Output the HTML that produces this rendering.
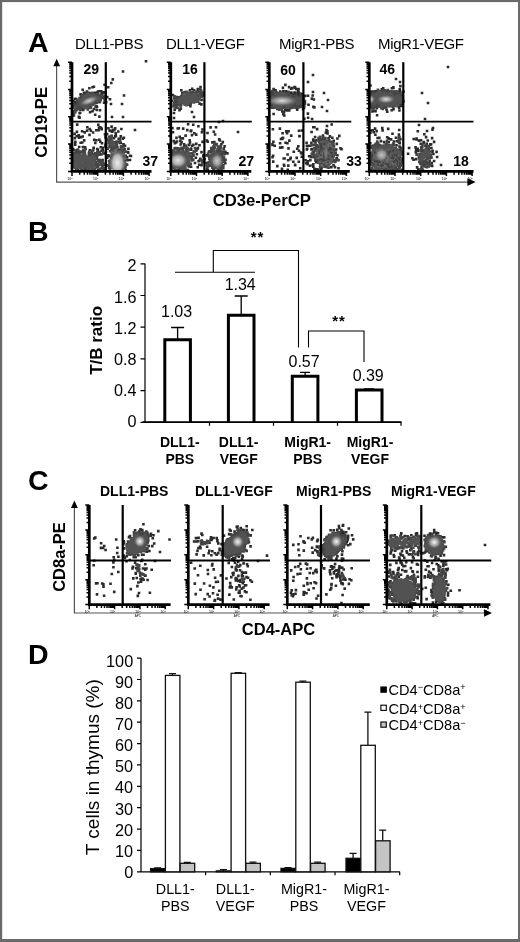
<!DOCTYPE html><html><head><meta charset="utf-8"><title>Figure</title>
<style>html,body{margin:0;padding:0;background:#fff}svg{display:block}text{font-family:'Liberation Sans', Arial, Helvetica, sans-serif;fill:#000}</style>
</head><body>
<svg width="520" height="942" viewBox="0 0 520 942">
<rect x="0" y="0" width="520" height="942" fill="#6a6a6a"/>
<rect x="2.2" y="2.1" width="515.8" height="936.9" fill="#fff"/>
<text x="28.0" y="51.6" font-size="28.5" font-weight="bold">A</text>
<text x="75.0" y="49.3" font-size="15" letter-spacing="-0.35">DLL1-PBS</text>
<text x="166.0" y="49.3" font-size="15" letter-spacing="-0.35">DLL1-VEGF</text>
<text x="279.0" y="49.3" font-size="15" letter-spacing="-0.35">MigR1-PBS</text>
<text x="378.0" y="49.3" font-size="15" letter-spacing="-0.35">MigR1-VEGF</text>
<text transform="translate(47.3 122.3) rotate(-90)" font-size="16.8" font-weight="bold" text-anchor="middle">CD19-PE</text>
<text x="261.8" y="205.9" font-size="16.7" font-weight="bold" text-anchor="middle">CD3e-PerCP</text>
<path d="M56.6 64V182.1H470" fill="none" stroke="#555" stroke-width="1.2"/>
<path d="M56.7 58.7l-3.4 7.5h6.8zM475.6 182.1l-8.2-3.9v7.8z" fill="#000"/>
<clipPath id="c1"><rect x="72.0" y="58.7" width="81.0" height="113.2"/></clipPath><g clip-path="url(#c1)">
<ellipse cx="88.0" cy="101.5" rx="17.0" ry="6.0" transform="rotate(-21 88.0 101.5)" fill="#585858"/>
<path fill="#6c6c6c" d="M76.6 105.3h1.7v1.7h-1.7zM98.0 93.6h1.7v1.7h-1.7zM76.5 100.6h1.7v1.7h-1.7zM80.6 102.3h1.7v1.7h-1.7zM91.8 102.5h1.7v1.7h-1.7zM90.9 96.7h1.7v1.7h-1.7zM75.2 103.9h1.7v1.7h-1.7zM97.4 99.1h1.7v1.7h-1.7zM96.3 95.2h1.7v1.7h-1.7zM87.9 97.4h1.7v1.7h-1.7zM77.9 104.6h1.7v1.7h-1.7zM91.2 103.9h1.7v1.7h-1.7zM92.6 102.1h1.7v1.7h-1.7zM92.7 99.6h1.7v1.7h-1.7zM94.6 95.0h1.7v1.7h-1.7zM81.7 104.2h1.7v1.7h-1.7zM92.6 104.1h1.7v1.7h-1.7zM83.5 96.3h1.7v1.7h-1.7zM73.6 106.6h1.7v1.7h-1.7zM86.9 106.1h1.7v1.7h-1.7zM81.0 100.0h1.7v1.7h-1.7zM91.3 98.6h1.7v1.7h-1.7zM76.9 106.5h1.7v1.7h-1.7zM97.6 98.5h1.7v1.7h-1.7zM95.8 98.6h1.7v1.7h-1.7zM93.6 99.6h1.7v1.7h-1.7zM87.8 104.4h1.7v1.7h-1.7zM80.6 98.0h1.7v1.7h-1.7zM95.1 94.8h1.7v1.7h-1.7zM83.8 104.6h1.7v1.7h-1.7zM92.6 95.5h1.7v1.7h-1.7zM86.3 103.6h1.7v1.7h-1.7zM94.1 101.5h1.7v1.7h-1.7zM85.1 99.8h1.7v1.7h-1.7zM84.7 98.1h1.7v1.7h-1.7zM80.7 107.0h1.7v1.7h-1.7zM79.9 105.2h1.7v1.7h-1.7zM94.6 94.4h1.7v1.7h-1.7zM92.9 101.3h1.7v1.7h-1.7zM94.2 94.9h1.7v1.7h-1.7zM96.5 96.4h1.7v1.7h-1.7zM85.1 102.5h1.7v1.7h-1.7zM89.6 97.2h1.7v1.7h-1.7zM75.0 105.9h1.7v1.7h-1.7zM91.5 95.0h1.7v1.7h-1.7zM90.7 100.1h1.7v1.7h-1.7zM89.3 98.3h1.7v1.7h-1.7zM86.6 105.2h1.7v1.7h-1.7zM72.9 104.7h1.7v1.7h-1.7zM87.3 97.6h1.7v1.7h-1.7zM90.7 104.9h1.7v1.7h-1.7zM85.5 96.2h1.7v1.7h-1.7z"/>
<path fill="#3e3e3e" d="M92.5 94.4h1.7v1.7h-1.7zM85.8 98.0h1.7v1.7h-1.7zM80.4 99.7h1.7v1.7h-1.7zM84.2 103.3h1.7v1.7h-1.7zM88.7 101.3h1.7v1.7h-1.7zM86.4 99.9h1.7v1.7h-1.7zM88.0 96.4h1.7v1.7h-1.7zM98.5 95.5h1.7v1.7h-1.7zM84.9 101.6h1.7v1.7h-1.7zM80.0 104.3h1.7v1.7h-1.7zM77.6 100.3h1.7v1.7h-1.7zM93.0 101.0h1.7v1.7h-1.7zM96.2 98.3h1.7v1.7h-1.7zM78.9 99.9h1.7v1.7h-1.7zM95.8 96.4h1.7v1.7h-1.7zM77.1 103.5h1.7v1.7h-1.7zM90.2 96.9h1.7v1.7h-1.7zM91.9 101.6h1.7v1.7h-1.7zM94.6 99.0h1.7v1.7h-1.7zM85.9 98.5h1.7v1.7h-1.7zM91.5 95.5h1.7v1.7h-1.7zM83.6 97.0h1.7v1.7h-1.7zM96.2 101.0h1.7v1.7h-1.7zM83.9 106.4h1.7v1.7h-1.7zM88.6 96.9h1.7v1.7h-1.7zM90.1 102.3h1.7v1.7h-1.7zM89.9 105.4h1.7v1.7h-1.7zM98.6 95.2h1.7v1.7h-1.7zM81.9 98.1h1.7v1.7h-1.7zM86.2 105.0h1.7v1.7h-1.7zM89.4 98.7h1.7v1.7h-1.7zM89.4 102.4h1.7v1.7h-1.7zM89.3 97.8h1.7v1.7h-1.7zM85.7 103.1h1.7v1.7h-1.7zM81.8 103.8h1.7v1.7h-1.7zM98.0 99.2h1.7v1.7h-1.7zM91.5 95.3h1.7v1.7h-1.7zM74.8 104.3h1.7v1.7h-1.7zM99.8 94.6h1.7v1.7h-1.7z"/>
<path fill="#2b2b2b" d="M103.6 99.3h2.6v2.6h-2.6zM81.9 108.6h2.6v2.6h-2.6zM85.7 90.2h2.6v2.6h-2.6zM100.5 92.3h2.6v2.6h-2.6zM104.4 92.4h2.6v2.6h-2.6zM94.0 91.4h2.6v2.6h-2.6zM78.8 111.5h2.6v2.6h-2.6zM104.9 100.8h2.6v2.6h-2.6zM108.7 98.0h2.6v2.6h-2.6zM102.7 91.1h2.6v2.6h-2.6zM78.3 116.3h2.6v2.6h-2.6zM100.0 89.9h2.6v2.6h-2.6zM73.6 97.8h2.6v2.6h-2.6zM79.1 108.4h2.6v2.6h-2.6zM97.4 90.0h2.6v2.6h-2.6zM95.2 105.0h2.6v2.6h-2.6zM102.8 101.5h2.6v2.6h-2.6zM95.5 108.7h2.6v2.6h-2.6zM95.7 105.7h2.6v2.6h-2.6zM82.6 91.5h2.6v2.6h-2.6zM103.3 83.5h2.6v2.6h-2.6zM101.1 92.1h2.6v2.6h-2.6zM79.3 93.1h2.6v2.6h-2.6zM94.4 105.2h2.6v2.6h-2.6zM103.0 96.4h2.6v2.6h-2.6zM81.4 88.4h2.6v2.6h-2.6zM74.7 97.6h2.6v2.6h-2.6zM71.7 112.9h2.6v2.6h-2.6zM91.2 86.0h2.6v2.6h-2.6zM92.7 107.7h2.6v2.6h-2.6zM92.6 85.4h2.6v2.6h-2.6zM106.0 95.8h2.6v2.6h-2.6zM72.6 114.2h2.6v2.6h-2.6zM88.1 87.0h2.6v2.6h-2.6zM71.9 99.8h2.6v2.6h-2.6zM73.4 101.1h2.6v2.6h-2.6zM103.5 97.8h2.6v2.6h-2.6zM96.2 90.7h2.6v2.6h-2.6zM123.7 144.4h2.6v2.6h-2.6zM128.8 154.4h2.6v2.6h-2.6zM122.3 143.2h2.6v2.6h-2.6zM119.4 141.3h2.6v2.6h-2.6zM125.8 156.1h2.6v2.6h-2.6zM107.7 154.6h2.6v2.6h-2.6zM124.4 154.4h2.6v2.6h-2.6zM126.1 158.9h2.6v2.6h-2.6zM105.9 156.3h2.6v2.6h-2.6zM124.5 168.9h2.6v2.6h-2.6zM122.1 142.9h2.6v2.6h-2.6zM127.1 147.4h2.6v2.6h-2.6zM107.5 154.8h2.6v2.6h-2.6zM107.0 154.0h2.6v2.6h-2.6zM105.8 164.1h2.6v2.6h-2.6zM126.8 150.8h2.6v2.6h-2.6zM126.9 151.5h2.6v2.6h-2.6zM124.4 154.5h2.6v2.6h-2.6zM106.3 147.5h2.6v2.6h-2.6zM113.0 128.9h2.6v2.6h-2.6zM120.1 127.7h2.6v2.6h-2.6zM104.7 141.9h2.6v2.6h-2.6zM104.1 144.9h2.6v2.6h-2.6zM104.3 143.4h2.6v2.6h-2.6zM110.3 134.6h2.6v2.6h-2.6zM117.4 137.6h2.6v2.6h-2.6zM112.6 137.0h2.6v2.6h-2.6zM104.4 135.0h2.6v2.6h-2.6zM104.7 150.5h2.6v2.6h-2.6zM100.7 142.0h2.6v2.6h-2.6zM105.0 143.4h2.6v2.6h-2.6zM122.6 136.4h2.6v2.6h-2.6zM114.0 135.1h2.6v2.6h-2.6zM114.6 134.5h2.6v2.6h-2.6zM118.5 141.7h2.6v2.6h-2.6zM121.5 137.3h2.6v2.6h-2.6zM101.3 158.7h2.6v2.6h-2.6zM92.3 146.6h2.6v2.6h-2.6zM81.3 168.4h2.6v2.6h-2.6zM97.5 168.8h2.6v2.6h-2.6zM92.4 146.6h2.6v2.6h-2.6zM73.1 148.9h2.6v2.6h-2.6zM96.6 148.5h2.6v2.6h-2.6zM102.3 168.9h2.6v2.6h-2.6zM102.4 152.1h2.6v2.6h-2.6zM88.6 149.0h2.6v2.6h-2.6zM96.7 168.9h2.6v2.6h-2.6zM100.2 149.5h2.6v2.6h-2.6zM71.9 147.8h2.6v2.6h-2.6zM101.5 148.3h2.6v2.6h-2.6zM98.0 138.4h2.6v2.6h-2.6zM73.3 132.6h2.6v2.6h-2.6zM82.9 139.1h2.6v2.6h-2.6zM73.9 142.2h2.6v2.6h-2.6zM81.0 141.2h2.6v2.6h-2.6zM79.8 135.8h2.6v2.6h-2.6zM95.1 138.9h2.6v2.6h-2.6zM97.3 128.9h2.6v2.6h-2.6zM81.4 135.2h2.6v2.6h-2.6zM81.6 145.7h2.6v2.6h-2.6zM101.6 146.5h2.6v2.6h-2.6zM75.9 123.3h2.6v2.6h-2.6zM85.8 129.3h2.6v2.6h-2.6zM89.6 129.5h2.6v2.6h-2.6zM91.8 131.2h2.6v2.6h-2.6zM75.6 130.6h2.6v2.6h-2.6zM80.8 130.0h2.6v2.6h-2.6zM75.4 135.0h2.6v2.6h-2.6zM94.9 129.0h2.6v2.6h-2.6zM94.0 141.7h2.6v2.6h-2.6zM97.0 123.4h2.6v2.6h-2.6zM99.5 146.0h2.6v2.6h-2.6zM74.1 140.4h2.6v2.6h-2.6zM77.9 145.7h2.6v2.6h-2.6zM83.4 131.1h2.6v2.6h-2.6zM92.9 138.6h2.6v2.6h-2.6zM100.4 127.8h2.6v2.6h-2.6zM88.2 133.6h2.6v2.6h-2.6zM73.5 136.8h2.6v2.6h-2.6zM99.0 125.9h2.6v2.6h-2.6zM73.9 143.5h2.6v2.6h-2.6zM77.2 134.6h2.6v2.6h-2.6zM77.7 136.5h2.6v2.6h-2.6zM99.1 140.4h2.6v2.6h-2.6zM83.8 146.1h2.6v2.6h-2.6zM97.7 126.3h2.6v2.6h-2.6zM88.5 127.7h2.6v2.6h-2.6zM86.0 125.9h2.6v2.6h-2.6zM95.9 147.7h2.6v2.6h-2.6zM77.5 133.9h2.6v2.6h-2.6zM79.4 141.4h2.6v2.6h-2.6zM99.9 127.0h2.6v2.6h-2.6zM119.5 134.9h2.6v2.6h-2.6zM105.8 132.8h2.6v2.6h-2.6zM104.2 136.2h2.6v2.6h-2.6zM118.4 137.6h2.6v2.6h-2.6zM110.3 125.3h2.6v2.6h-2.6zM114.4 132.1h2.6v2.6h-2.6zM113.9 127.1h2.6v2.6h-2.6zM107.1 127.0h2.6v2.6h-2.6zM111.4 128.6h2.6v2.6h-2.6zM103.7 132.9h2.6v2.6h-2.6zM117.0 130.2h2.6v2.6h-2.6zM111.4 129.9h2.6v2.6h-2.6zM108.4 129.3h2.6v2.6h-2.6zM110.6 130.3h2.6v2.6h-2.6zM88.8 110.8h2.6v2.6h-2.6zM98.1 115.3h2.6v2.6h-2.6zM98.7 108.9h2.6v2.6h-2.6zM93.9 113.4h2.6v2.6h-2.6zM91.3 109.8h2.6v2.6h-2.6zM77.5 115.6h2.6v2.6h-2.6zM78.3 112.0h2.6v2.6h-2.6zM144.7 60.0h2.6v2.6h-2.6zM121.7 70.2h2.6v2.6h-2.6zM111.5 78.1h2.6v2.6h-2.6zM110.0 81.7h2.6v2.6h-2.6zM106.9 85.9h2.6v2.6h-2.6zM122.7 94.2h2.6v2.6h-2.6zM109.7 102.7h2.6v2.6h-2.6zM120.7 102.7h2.6v2.6h-2.6zM110.7 115.7h2.6v2.6h-2.6zM121.7 115.7h2.6v2.6h-2.6zM133.7 128.7h2.6v2.6h-2.6zM129.7 154.7h2.6v2.6h-2.6zM128.7 158.7h2.6v2.6h-2.6z"/>
<path fill="#444444" d="M84.3 93.2h2.6v2.6h-2.6zM95.0 94.8h2.6v2.6h-2.6zM93.0 100.7h2.6v2.6h-2.6zM87.3 106.2h2.6v2.6h-2.6zM75.2 108.8h2.6v2.6h-2.6zM74.5 108.9h2.6v2.6h-2.6zM84.9 91.4h2.6v2.6h-2.6zM80.6 94.6h2.6v2.6h-2.6zM73.7 104.8h2.6v2.6h-2.6zM74.0 110.8h2.6v2.6h-2.6zM82.4 106.5h2.6v2.6h-2.6zM99.7 95.3h2.6v2.6h-2.6zM89.3 92.0h2.6v2.6h-2.6zM73.0 109.7h2.6v2.6h-2.6zM79.8 96.1h2.6v2.6h-2.6zM89.6 105.1h2.6v2.6h-2.6zM75.9 103.3h2.6v2.6h-2.6zM99.6 94.1h2.6v2.6h-2.6zM100.5 96.3h2.6v2.6h-2.6zM91.0 92.0h2.6v2.6h-2.6zM93.0 93.0h2.6v2.6h-2.6zM88.3 93.2h2.6v2.6h-2.6zM77.5 100.8h2.6v2.6h-2.6zM99.4 98.8h2.6v2.6h-2.6zM80.0 105.6h2.6v2.6h-2.6zM91.5 102.9h2.6v2.6h-2.6zM99.5 95.7h2.6v2.6h-2.6zM75.7 104.3h2.6v2.6h-2.6zM91.3 91.6h2.6v2.6h-2.6zM71.9 110.3h2.6v2.6h-2.6zM75.6 106.7h2.6v2.6h-2.6zM91.6 103.2h2.6v2.6h-2.6zM92.3 101.6h2.6v2.6h-2.6zM79.8 96.4h2.6v2.6h-2.6zM77.4 105.7h2.6v2.6h-2.6zM75.9 105.0h2.6v2.6h-2.6zM79.7 95.6h2.6v2.6h-2.6zM72.4 103.8h2.6v2.6h-2.6zM88.3 104.0h2.6v2.6h-2.6zM72.8 111.5h2.6v2.6h-2.6zM90.6 91.8h2.6v2.6h-2.6zM96.2 96.0h2.6v2.6h-2.6zM103.2 97.7h2.6v2.6h-2.6zM72.3 104.0h2.6v2.6h-2.6zM77.5 100.8h2.6v2.6h-2.6zM88.3 93.4h2.6v2.6h-2.6zM103.6 95.0h2.6v2.6h-2.6zM72.3 102.4h2.6v2.6h-2.6zM96.0 95.0h2.6v2.6h-2.6zM78.3 96.8h2.6v2.6h-2.6zM76.2 101.2h2.6v2.6h-2.6zM79.1 105.3h2.6v2.6h-2.6zM75.4 105.9h2.6v2.6h-2.6zM96.3 92.8h2.6v2.6h-2.6zM75.7 107.9h2.6v2.6h-2.6zM93.8 99.4h2.6v2.6h-2.6zM71.8 105.9h2.6v2.6h-2.6zM95.2 95.4h2.6v2.6h-2.6zM95.3 101.7h2.6v2.6h-2.6zM77.4 106.2h2.6v2.6h-2.6zM83.2 106.9h2.6v2.6h-2.6zM89.9 103.8h2.6v2.6h-2.6zM76.8 102.1h2.6v2.6h-2.6zM96.9 100.9h2.6v2.6h-2.6zM88.1 93.3h2.6v2.6h-2.6zM98.2 99.1h2.6v2.6h-2.6zM98.6 100.8h2.6v2.6h-2.6zM80.1 96.9h2.6v2.6h-2.6zM87.8 106.6h2.6v2.6h-2.6zM98.7 97.7h2.6v2.6h-2.6zM77.0 106.1h2.6v2.6h-2.6zM87.7 105.7h2.6v2.6h-2.6zM82.0 94.0h2.6v2.6h-2.6zM87.8 91.5h2.6v2.6h-2.6zM89.6 106.3h2.6v2.6h-2.6zM75.9 98.5h2.6v2.6h-2.6zM110.5 158.2h2.6v2.6h-2.6zM124.7 150.5h2.6v2.6h-2.6zM113.1 167.6h2.6v2.6h-2.6zM123.1 157.8h2.6v2.6h-2.6zM114.4 148.8h2.6v2.6h-2.6zM117.9 166.3h2.6v2.6h-2.6zM110.7 154.3h2.6v2.6h-2.6zM111.0 153.4h2.6v2.6h-2.6zM123.2 163.2h2.6v2.6h-2.6zM121.2 144.8h2.6v2.6h-2.6zM109.8 161.4h2.6v2.6h-2.6zM107.7 159.7h2.6v2.6h-2.6zM112.7 160.6h2.6v2.6h-2.6zM107.4 164.4h2.6v2.6h-2.6zM111.3 164.6h2.6v2.6h-2.6zM121.8 156.0h2.6v2.6h-2.6zM113.5 147.8h2.6v2.6h-2.6zM109.9 139.5h2.6v2.6h-2.6zM121.2 149.5h2.6v2.6h-2.6zM119.6 145.6h2.6v2.6h-2.6zM122.9 156.0h2.6v2.6h-2.6zM122.8 148.3h2.6v2.6h-2.6zM125.8 163.3h2.6v2.6h-2.6zM122.8 157.8h2.6v2.6h-2.6zM124.6 163.7h2.6v2.6h-2.6zM121.9 159.9h2.6v2.6h-2.6zM113.3 161.5h2.6v2.6h-2.6zM115.4 165.6h2.6v2.6h-2.6zM111.2 163.5h2.6v2.6h-2.6zM108.2 161.5h2.6v2.6h-2.6zM111.1 166.4h2.6v2.6h-2.6zM122.1 145.5h2.6v2.6h-2.6zM123.5 147.8h2.6v2.6h-2.6zM115.3 140.3h2.6v2.6h-2.6zM124.7 162.9h2.6v2.6h-2.6zM122.1 152.3h2.6v2.6h-2.6zM121.3 152.8h2.6v2.6h-2.6zM120.2 167.9h2.6v2.6h-2.6zM113.1 147.4h2.6v2.6h-2.6zM123.6 161.9h2.6v2.6h-2.6zM122.4 151.2h2.6v2.6h-2.6zM114.0 168.4h2.6v2.6h-2.6zM110.0 148.8h2.6v2.6h-2.6zM115.7 147.0h2.6v2.6h-2.6zM114.5 164.4h2.6v2.6h-2.6zM119.7 145.0h2.6v2.6h-2.6zM123.0 166.8h2.6v2.6h-2.6zM120.1 147.2h2.6v2.6h-2.6zM111.3 164.2h2.6v2.6h-2.6zM110.5 152.2h2.6v2.6h-2.6zM118.4 149.4h2.6v2.6h-2.6zM109.5 159.3h2.6v2.6h-2.6zM108.2 166.6h2.6v2.6h-2.6zM113.5 168.4h2.6v2.6h-2.6zM111.8 166.3h2.6v2.6h-2.6zM121.5 166.8h2.6v2.6h-2.6zM118.4 166.9h2.6v2.6h-2.6zM113.6 167.1h2.6v2.6h-2.6zM102.3 164.0h2.6v2.6h-2.6zM111.1 166.3h2.6v2.6h-2.6zM109.2 163.0h2.6v2.6h-2.6zM108.6 167.5h2.6v2.6h-2.6zM121.5 167.3h2.6v2.6h-2.6zM123.4 148.0h2.6v2.6h-2.6zM122.9 163.5h2.6v2.6h-2.6zM122.6 157.2h2.6v2.6h-2.6zM110.3 158.1h2.6v2.6h-2.6zM115.6 166.8h2.6v2.6h-2.6zM123.9 166.7h2.6v2.6h-2.6zM107.8 166.3h2.6v2.6h-2.6zM110.4 156.0h2.6v2.6h-2.6zM120.4 168.3h2.6v2.6h-2.6zM121.7 152.1h2.6v2.6h-2.6zM108.8 150.0h2.6v2.6h-2.6zM121.0 167.4h2.6v2.6h-2.6zM110.3 148.9h2.6v2.6h-2.6zM111.5 147.1h2.6v2.6h-2.6zM123.8 162.7h2.6v2.6h-2.6zM114.1 141.0h2.6v2.6h-2.6zM114.3 168.8h2.6v2.6h-2.6zM124.2 165.2h2.6v2.6h-2.6zM113.9 148.5h2.6v2.6h-2.6zM119.7 145.2h2.6v2.6h-2.6zM112.3 161.7h2.6v2.6h-2.6zM110.5 165.2h2.6v2.6h-2.6zM116.3 148.4h2.6v2.6h-2.6zM110.5 139.7h2.6v2.6h-2.6zM108.5 140.2h2.6v2.6h-2.6zM107.7 138.6h2.6v2.6h-2.6zM109.6 138.8h2.6v2.6h-2.6zM112.4 145.3h2.6v2.6h-2.6zM107.4 141.3h2.6v2.6h-2.6zM113.2 145.2h2.6v2.6h-2.6zM114.6 144.0h2.6v2.6h-2.6zM110.1 144.9h2.6v2.6h-2.6zM108.3 143.8h2.6v2.6h-2.6zM108.1 138.8h2.6v2.6h-2.6zM108.7 144.2h2.6v2.6h-2.6zM108.6 145.1h2.6v2.6h-2.6zM115.6 143.1h2.6v2.6h-2.6zM109.0 137.6h2.6v2.6h-2.6zM117.9 140.4h2.6v2.6h-2.6zM115.5 145.3h2.6v2.6h-2.6zM116.2 146.1h2.6v2.6h-2.6zM110.1 137.9h2.6v2.6h-2.6zM118.8 138.8h2.6v2.6h-2.6zM111.0 148.3h2.6v2.6h-2.6zM107.7 135.7h2.6v2.6h-2.6zM109.0 138.5h2.6v2.6h-2.6zM104.5 144.8h2.6v2.6h-2.6zM105.6 137.6h2.6v2.6h-2.6zM110.7 135.5h2.6v2.6h-2.6zM106.1 146.5h2.6v2.6h-2.6zM108.9 146.0h2.6v2.6h-2.6zM109.4 143.0h2.6v2.6h-2.6zM108.6 135.3h2.6v2.6h-2.6zM111.5 140.6h2.6v2.6h-2.6zM114.7 144.3h2.6v2.6h-2.6zM114.3 144.7h2.6v2.6h-2.6zM114.4 142.0h2.6v2.6h-2.6zM114.3 144.3h2.6v2.6h-2.6zM93.3 167.4h2.6v2.6h-2.6zM77.7 152.2h2.6v2.6h-2.6zM98.2 161.0h2.6v2.6h-2.6zM101.3 160.8h2.6v2.6h-2.6zM90.3 151.8h2.6v2.6h-2.6zM84.1 166.4h2.6v2.6h-2.6zM86.5 169.1h2.6v2.6h-2.6zM93.4 158.3h2.6v2.6h-2.6zM91.9 148.8h2.6v2.6h-2.6zM88.1 155.8h2.6v2.6h-2.6zM80.1 151.0h2.6v2.6h-2.6zM86.1 168.2h2.6v2.6h-2.6zM98.5 167.6h2.6v2.6h-2.6zM95.4 157.7h2.6v2.6h-2.6zM76.8 167.6h2.6v2.6h-2.6zM95.7 162.8h2.6v2.6h-2.6zM98.5 167.9h2.6v2.6h-2.6zM76.9 148.9h2.6v2.6h-2.6zM97.6 163.7h2.6v2.6h-2.6zM71.8 165.9h2.6v2.6h-2.6zM92.9 152.9h2.6v2.6h-2.6zM95.3 166.2h2.6v2.6h-2.6zM83.5 150.7h2.6v2.6h-2.6zM96.6 153.1h2.6v2.6h-2.6zM74.9 151.8h2.6v2.6h-2.6zM100.3 163.6h2.6v2.6h-2.6zM83.3 168.0h2.6v2.6h-2.6zM92.0 166.9h2.6v2.6h-2.6zM81.9 148.7h2.6v2.6h-2.6zM72.9 158.6h2.6v2.6h-2.6zM95.4 165.5h2.6v2.6h-2.6zM84.4 167.3h2.6v2.6h-2.6zM94.6 164.1h2.6v2.6h-2.6zM95.3 162.3h2.6v2.6h-2.6zM96.6 165.8h2.6v2.6h-2.6zM87.6 154.0h2.6v2.6h-2.6zM95.5 157.2h2.6v2.6h-2.6zM76.5 150.5h2.6v2.6h-2.6zM75.9 149.7h2.6v2.6h-2.6zM72.4 165.2h2.6v2.6h-2.6zM72.6 159.9h2.6v2.6h-2.6zM93.6 151.9h2.6v2.6h-2.6zM74.1 166.3h2.6v2.6h-2.6zM80.1 167.3h2.6v2.6h-2.6zM72.2 160.5h2.6v2.6h-2.6zM72.0 164.8h2.6v2.6h-2.6zM74.8 167.3h2.6v2.6h-2.6zM74.8 151.4h2.6v2.6h-2.6zM96.4 162.4h2.6v2.6h-2.6zM98.6 161.0h2.6v2.6h-2.6zM72.0 154.7h2.6v2.6h-2.6zM104.6 163.5h2.6v2.6h-2.6zM72.6 153.9h2.6v2.6h-2.6zM82.8 149.5h2.6v2.6h-2.6zM94.6 156.2h2.6v2.6h-2.6zM99.8 159.3h2.6v2.6h-2.6zM108.3 161.6h2.6v2.6h-2.6zM104.6 163.4h2.6v2.6h-2.6zM96.6 159.5h2.6v2.6h-2.6zM87.9 150.6h2.6v2.6h-2.6zM87.2 169.0h2.6v2.6h-2.6zM83.4 151.9h2.6v2.6h-2.6zM94.1 161.3h2.6v2.6h-2.6zM92.0 154.4h2.6v2.6h-2.6zM100.0 163.2h2.6v2.6h-2.6zM95.3 165.9h2.6v2.6h-2.6zM89.1 154.2h2.6v2.6h-2.6zM73.1 151.9h2.6v2.6h-2.6zM101.4 166.0h2.6v2.6h-2.6zM95.9 154.9h2.6v2.6h-2.6zM101.8 150.8h2.6v2.6h-2.6zM82.9 150.1h2.6v2.6h-2.6zM73.3 153.3h2.6v2.6h-2.6zM100.4 167.1h2.6v2.6h-2.6zM78.3 150.4h2.6v2.6h-2.6zM95.2 164.1h2.6v2.6h-2.6zM78.3 152.4h2.6v2.6h-2.6zM78.2 153.3h2.6v2.6h-2.6zM98.3 153.3h2.6v2.6h-2.6zM93.4 153.7h2.6v2.6h-2.6zM98.5 150.7h2.6v2.6h-2.6zM94.0 154.0h2.6v2.6h-2.6zM101.1 160.0h2.6v2.6h-2.6zM102.3 166.9h2.6v2.6h-2.6zM91.8 167.9h2.6v2.6h-2.6zM92.5 167.4h2.6v2.6h-2.6zM89.4 152.9h2.6v2.6h-2.6zM74.2 148.9h2.6v2.6h-2.6zM98.2 160.3h2.6v2.6h-2.6zM90.6 151.5h2.6v2.6h-2.6zM83.9 147.8h2.6v2.6h-2.6zM94.1 152.9h2.6v2.6h-2.6zM102.1 162.0h2.6v2.6h-2.6zM98.6 151.1h2.6v2.6h-2.6zM94.3 162.0h2.6v2.6h-2.6zM79.7 150.2h2.6v2.6h-2.6zM73.5 153.3h2.6v2.6h-2.6zM101.0 165.3h2.6v2.6h-2.6zM95.9 150.9h2.6v2.6h-2.6zM87.5 152.2h2.6v2.6h-2.6zM76.4 148.3h2.6v2.6h-2.6zM98.7 158.8h2.6v2.6h-2.6zM94.5 160.9h2.6v2.6h-2.6zM91.0 149.4h2.6v2.6h-2.6zM92.0 148.9h2.6v2.6h-2.6zM97.1 158.6h2.6v2.6h-2.6zM73.2 157.5h2.6v2.6h-2.6zM80.8 150.7h2.6v2.6h-2.6zM72.1 153.5h2.6v2.6h-2.6zM77.4 153.4h2.6v2.6h-2.6zM100.2 153.1h2.6v2.6h-2.6zM84.4 147.7h2.6v2.6h-2.6zM115.2 140.6h2.6v2.6h-2.6zM106.4 139.2h2.6v2.6h-2.6zM78.4 107.8h2.6v2.6h-2.6zM74.1 108.8h2.6v2.6h-2.6zM86.4 108.2h2.6v2.6h-2.6z"/>
<path fill="#525252" d="M83.8 105.0h2.6v2.6h-2.6zM90.9 100.3h2.6v2.6h-2.6zM86.8 100.4h2.6v2.6h-2.6zM85.9 98.2h2.6v2.6h-2.6zM81.1 102.3h2.6v2.6h-2.6zM91.9 100.4h2.6v2.6h-2.6zM83.3 98.3h2.6v2.6h-2.6zM85.5 103.4h2.6v2.6h-2.6zM90.8 96.1h2.6v2.6h-2.6zM87.2 98.1h2.6v2.6h-2.6zM87.4 103.3h2.6v2.6h-2.6zM83.8 103.4h2.6v2.6h-2.6zM84.3 105.1h2.6v2.6h-2.6zM80.9 104.7h2.6v2.6h-2.6zM96.2 96.4h2.6v2.6h-2.6zM90.0 94.6h2.6v2.6h-2.6zM82.9 99.0h2.6v2.6h-2.6zM94.7 98.6h2.6v2.6h-2.6zM84.8 100.1h2.6v2.6h-2.6zM80.4 103.8h2.6v2.6h-2.6zM90.0 98.6h2.6v2.6h-2.6zM87.2 94.4h2.6v2.6h-2.6zM87.0 94.7h2.6v2.6h-2.6zM89.4 100.6h2.6v2.6h-2.6zM84.2 97.3h2.6v2.6h-2.6zM83.0 98.8h2.6v2.6h-2.6zM90.2 96.1h2.6v2.6h-2.6zM84.7 97.5h2.6v2.6h-2.6zM97.7 97.3h2.6v2.6h-2.6zM84.4 104.0h2.6v2.6h-2.6zM84.4 97.0h2.6v2.6h-2.6zM84.2 103.8h2.6v2.6h-2.6zM78.7 103.0h2.6v2.6h-2.6zM85.2 104.3h2.6v2.6h-2.6zM84.5 102.1h2.6v2.6h-2.6zM86.6 97.1h2.6v2.6h-2.6zM82.6 95.3h2.6v2.6h-2.6zM90.2 100.6h2.6v2.6h-2.6zM84.8 100.5h2.6v2.6h-2.6zM83.3 96.5h2.6v2.6h-2.6zM80.6 99.9h2.6v2.6h-2.6zM84.7 102.9h2.6v2.6h-2.6zM91.5 95.0h2.6v2.6h-2.6zM86.3 99.4h2.6v2.6h-2.6zM80.6 102.2h2.6v2.6h-2.6zM86.3 100.7h2.6v2.6h-2.6zM94.5 97.5h2.6v2.6h-2.6zM83.4 100.6h2.6v2.6h-2.6zM81.3 98.7h2.6v2.6h-2.6zM89.4 97.0h2.6v2.6h-2.6zM74.2 106.0h2.6v2.6h-2.6zM90.0 96.0h2.6v2.6h-2.6zM80.5 99.1h2.6v2.6h-2.6zM88.9 101.7h2.6v2.6h-2.6zM85.0 103.5h2.6v2.6h-2.6zM87.0 92.9h2.6v2.6h-2.6zM96.2 97.1h2.6v2.6h-2.6zM86.5 94.9h2.6v2.6h-2.6zM84.7 94.4h2.6v2.6h-2.6zM84.7 106.3h2.6v2.6h-2.6zM80.9 102.3h2.6v2.6h-2.6zM84.6 105.2h2.6v2.6h-2.6zM79.1 102.9h2.6v2.6h-2.6zM91.9 96.8h2.6v2.6h-2.6zM86.4 96.0h2.6v2.6h-2.6zM90.9 98.3h2.6v2.6h-2.6zM89.6 98.3h2.6v2.6h-2.6zM95.9 98.5h2.6v2.6h-2.6zM89.0 98.7h2.6v2.6h-2.6zM81.5 102.9h2.6v2.6h-2.6zM84.7 104.5h2.6v2.6h-2.6zM80.7 98.5h2.6v2.6h-2.6zM88.1 98.4h2.6v2.6h-2.6zM87.5 100.1h2.6v2.6h-2.6zM80.3 102.4h2.6v2.6h-2.6zM86.3 106.4h2.6v2.6h-2.6zM78.3 100.2h2.6v2.6h-2.6zM85.2 103.8h2.6v2.6h-2.6zM83.7 97.6h2.6v2.6h-2.6zM92.5 95.2h2.6v2.6h-2.6zM98.1 98.0h2.6v2.6h-2.6zM89.2 94.2h2.6v2.6h-2.6zM91.9 98.2h2.6v2.6h-2.6zM78.9 101.5h2.6v2.6h-2.6zM78.4 100.2h2.6v2.6h-2.6zM89.8 103.1h2.6v2.6h-2.6zM85.7 100.1h2.6v2.6h-2.6zM96.0 99.0h2.6v2.6h-2.6zM84.3 97.5h2.6v2.6h-2.6zM96.1 99.2h2.6v2.6h-2.6zM92.2 99.7h2.6v2.6h-2.6zM92.0 96.4h2.6v2.6h-2.6zM81.8 100.2h2.6v2.6h-2.6zM91.3 102.0h2.6v2.6h-2.6zM88.5 101.9h2.6v2.6h-2.6zM86.0 105.2h2.6v2.6h-2.6zM88.2 96.9h2.6v2.6h-2.6zM78.6 98.9h2.6v2.6h-2.6zM96.1 96.1h2.6v2.6h-2.6zM78.4 100.1h2.6v2.6h-2.6zM94.6 95.8h2.6v2.6h-2.6zM88.5 100.9h2.6v2.6h-2.6zM84.6 104.3h2.6v2.6h-2.6zM89.5 99.6h2.6v2.6h-2.6zM92.6 94.2h2.6v2.6h-2.6zM82.9 102.1h2.6v2.6h-2.6zM84.8 99.8h2.6v2.6h-2.6zM84.1 101.7h2.6v2.6h-2.6zM91.0 95.7h2.6v2.6h-2.6zM84.3 102.0h2.6v2.6h-2.6zM89.1 94.0h2.6v2.6h-2.6zM82.8 105.4h2.6v2.6h-2.6zM85.3 95.4h2.6v2.6h-2.6zM85.6 102.5h2.6v2.6h-2.6zM90.5 94.3h2.6v2.6h-2.6zM84.4 100.0h2.6v2.6h-2.6zM86.2 104.9h2.6v2.6h-2.6zM85.9 97.6h2.6v2.6h-2.6zM91.9 95.6h2.6v2.6h-2.6zM79.9 102.2h2.6v2.6h-2.6zM85.8 99.1h2.6v2.6h-2.6zM93.3 98.4h2.6v2.6h-2.6zM84.6 98.2h2.6v2.6h-2.6zM83.2 105.0h2.6v2.6h-2.6zM86.8 97.9h2.6v2.6h-2.6zM83.4 100.7h2.6v2.6h-2.6zM89.6 100.3h2.6v2.6h-2.6zM86.4 98.9h2.6v2.6h-2.6zM91.9 94.3h2.6v2.6h-2.6zM81.9 103.4h2.6v2.6h-2.6zM74.5 105.7h2.6v2.6h-2.6zM83.9 97.3h2.6v2.6h-2.6zM83.1 95.8h2.6v2.6h-2.6zM95.0 95.9h2.6v2.6h-2.6zM81.0 97.7h2.6v2.6h-2.6zM84.9 96.1h2.6v2.6h-2.6zM91.8 96.7h2.6v2.6h-2.6zM112.9 154.0h2.6v2.6h-2.6zM118.2 151.5h2.6v2.6h-2.6zM117.9 153.3h2.6v2.6h-2.6zM117.4 161.5h2.6v2.6h-2.6zM119.2 158.0h2.6v2.6h-2.6zM112.2 160.3h2.6v2.6h-2.6zM117.5 154.9h2.6v2.6h-2.6zM116.9 157.9h2.6v2.6h-2.6zM111.8 154.2h2.6v2.6h-2.6zM115.2 164.9h2.6v2.6h-2.6zM114.3 158.5h2.6v2.6h-2.6zM116.1 153.7h2.6v2.6h-2.6zM118.3 158.1h2.6v2.6h-2.6zM115.8 154.0h2.6v2.6h-2.6zM117.5 150.6h2.6v2.6h-2.6zM118.8 155.8h2.6v2.6h-2.6zM115.8 159.7h2.6v2.6h-2.6zM120.5 156.6h2.6v2.6h-2.6zM112.4 156.5h2.6v2.6h-2.6zM117.0 153.7h2.6v2.6h-2.6zM111.3 159.7h2.6v2.6h-2.6zM119.7 151.3h2.6v2.6h-2.6zM119.4 164.2h2.6v2.6h-2.6zM118.1 156.6h2.6v2.6h-2.6zM115.8 164.1h2.6v2.6h-2.6zM119.0 154.8h2.6v2.6h-2.6zM121.0 165.0h2.6v2.6h-2.6zM119.9 157.7h2.6v2.6h-2.6zM115.1 151.5h2.6v2.6h-2.6zM120.3 158.6h2.6v2.6h-2.6zM117.1 158.2h2.6v2.6h-2.6zM113.2 151.9h2.6v2.6h-2.6zM114.1 155.9h2.6v2.6h-2.6zM119.9 166.2h2.6v2.6h-2.6zM117.4 158.0h2.6v2.6h-2.6zM116.1 162.4h2.6v2.6h-2.6zM114.3 153.8h2.6v2.6h-2.6zM121.0 151.3h2.6v2.6h-2.6zM116.6 153.1h2.6v2.6h-2.6zM120.4 153.5h2.6v2.6h-2.6zM112.0 157.2h2.6v2.6h-2.6zM118.3 160.6h2.6v2.6h-2.6zM118.9 159.4h2.6v2.6h-2.6zM117.8 157.5h2.6v2.6h-2.6zM115.6 151.5h2.6v2.6h-2.6zM112.2 149.8h2.6v2.6h-2.6zM119.7 155.0h2.6v2.6h-2.6zM114.5 153.5h2.6v2.6h-2.6zM119.7 160.4h2.6v2.6h-2.6zM117.5 150.7h2.6v2.6h-2.6zM116.3 152.7h2.6v2.6h-2.6zM120.6 161.5h2.6v2.6h-2.6zM110.1 160.2h2.6v2.6h-2.6zM119.4 163.8h2.6v2.6h-2.6zM118.6 151.4h2.6v2.6h-2.6zM110.3 142.9h2.6v2.6h-2.6zM115.6 154.5h2.6v2.6h-2.6zM116.3 152.0h2.6v2.6h-2.6zM116.0 163.6h2.6v2.6h-2.6zM119.6 156.5h2.6v2.6h-2.6zM111.7 153.2h2.6v2.6h-2.6zM117.8 154.6h2.6v2.6h-2.6zM120.9 153.1h2.6v2.6h-2.6zM111.8 151.5h2.6v2.6h-2.6zM112.5 156.5h2.6v2.6h-2.6zM119.4 164.1h2.6v2.6h-2.6zM118.4 162.3h2.6v2.6h-2.6zM116.6 155.3h2.6v2.6h-2.6zM116.0 160.1h2.6v2.6h-2.6zM113.9 156.3h2.6v2.6h-2.6zM117.6 164.5h2.6v2.6h-2.6zM117.2 157.2h2.6v2.6h-2.6zM113.8 155.0h2.6v2.6h-2.6zM118.4 155.1h2.6v2.6h-2.6zM115.4 151.5h2.6v2.6h-2.6zM117.2 158.0h2.6v2.6h-2.6zM113.4 161.3h2.6v2.6h-2.6zM111.4 159.3h2.6v2.6h-2.6zM117.7 159.0h2.6v2.6h-2.6zM118.2 156.6h2.6v2.6h-2.6zM117.1 151.4h2.6v2.6h-2.6zM116.9 150.0h2.6v2.6h-2.6zM111.7 150.0h2.6v2.6h-2.6zM116.9 152.7h2.6v2.6h-2.6zM118.9 158.0h2.6v2.6h-2.6zM116.5 161.6h2.6v2.6h-2.6zM119.7 156.7h2.6v2.6h-2.6zM113.4 156.6h2.6v2.6h-2.6zM114.6 153.1h2.6v2.6h-2.6zM120.7 152.4h2.6v2.6h-2.6zM116.2 158.4h2.6v2.6h-2.6zM112.3 153.6h2.6v2.6h-2.6zM118.5 164.1h2.6v2.6h-2.6zM114.3 152.9h2.6v2.6h-2.6zM115.6 161.9h2.6v2.6h-2.6zM119.2 160.9h2.6v2.6h-2.6zM122.2 164.3h2.6v2.6h-2.6zM119.4 159.1h2.6v2.6h-2.6zM115.3 163.6h2.6v2.6h-2.6zM117.6 163.2h2.6v2.6h-2.6zM113.9 154.4h2.6v2.6h-2.6zM112.5 151.1h2.6v2.6h-2.6zM119.7 160.6h2.6v2.6h-2.6zM121.0 160.2h2.6v2.6h-2.6zM114.4 149.6h2.6v2.6h-2.6zM114.3 156.4h2.6v2.6h-2.6zM117.2 154.4h2.6v2.6h-2.6zM120.9 162.7h2.6v2.6h-2.6zM110.8 144.0h2.6v2.6h-2.6zM120.9 158.0h2.6v2.6h-2.6zM113.5 162.4h2.6v2.6h-2.6zM114.2 153.5h2.6v2.6h-2.6zM120.4 152.4h2.6v2.6h-2.6zM117.4 151.9h2.6v2.6h-2.6zM118.0 165.2h2.6v2.6h-2.6zM112.5 158.4h2.6v2.6h-2.6zM118.7 152.0h2.6v2.6h-2.6zM114.9 161.3h2.6v2.6h-2.6zM117.5 156.7h2.6v2.6h-2.6zM115.4 159.0h2.6v2.6h-2.6zM111.9 154.5h2.6v2.6h-2.6zM118.0 161.2h2.6v2.6h-2.6zM117.8 154.1h2.6v2.6h-2.6zM112.5 158.9h2.6v2.6h-2.6zM119.9 165.0h2.6v2.6h-2.6zM116.4 159.1h2.6v2.6h-2.6zM116.2 159.7h2.6v2.6h-2.6zM116.8 155.7h2.6v2.6h-2.6zM120.5 163.1h2.6v2.6h-2.6zM117.8 161.3h2.6v2.6h-2.6zM117.8 164.3h2.6v2.6h-2.6zM121.1 151.1h2.6v2.6h-2.6zM111.3 141.8h2.6v2.6h-2.6zM112.7 144.2h2.6v2.6h-2.6zM110.2 142.9h2.6v2.6h-2.6zM111.2 142.9h2.6v2.6h-2.6zM110.6 143.8h2.6v2.6h-2.6zM112.4 141.5h2.6v2.6h-2.6zM112.9 150.5h2.6v2.6h-2.6zM80.5 163.8h2.6v2.6h-2.6zM76.9 160.7h2.6v2.6h-2.6zM84.2 158.0h2.6v2.6h-2.6zM85.5 158.3h2.6v2.6h-2.6zM76.5 156.9h2.6v2.6h-2.6zM88.2 162.9h2.6v2.6h-2.6zM72.5 163.5h2.6v2.6h-2.6zM89.4 167.1h2.6v2.6h-2.6zM86.5 161.4h2.6v2.6h-2.6zM83.0 153.9h2.6v2.6h-2.6zM86.4 158.6h2.6v2.6h-2.6zM92.9 157.5h2.6v2.6h-2.6zM84.7 164.5h2.6v2.6h-2.6zM89.2 160.0h2.6v2.6h-2.6zM84.2 158.6h2.6v2.6h-2.6zM84.7 158.0h2.6v2.6h-2.6zM77.2 163.3h2.6v2.6h-2.6zM88.2 166.3h2.6v2.6h-2.6zM74.0 161.7h2.6v2.6h-2.6zM84.3 156.3h2.6v2.6h-2.6zM78.0 165.5h2.6v2.6h-2.6zM81.1 165.0h2.6v2.6h-2.6zM83.7 160.5h2.6v2.6h-2.6zM73.5 162.9h2.6v2.6h-2.6zM81.7 158.6h2.6v2.6h-2.6zM76.2 153.5h2.6v2.6h-2.6zM82.9 162.1h2.6v2.6h-2.6zM83.4 156.1h2.6v2.6h-2.6zM83.4 158.0h2.6v2.6h-2.6zM78.1 155.2h2.6v2.6h-2.6zM91.7 158.2h2.6v2.6h-2.6zM77.4 164.9h2.6v2.6h-2.6zM82.2 156.9h2.6v2.6h-2.6zM83.2 162.1h2.6v2.6h-2.6zM76.5 162.1h2.6v2.6h-2.6zM83.3 164.6h2.6v2.6h-2.6zM74.5 160.7h2.6v2.6h-2.6zM82.8 159.3h2.6v2.6h-2.6zM90.8 160.3h2.6v2.6h-2.6zM81.2 154.8h2.6v2.6h-2.6zM86.3 161.3h2.6v2.6h-2.6zM88.8 162.4h2.6v2.6h-2.6zM88.3 158.8h2.6v2.6h-2.6zM89.9 156.7h2.6v2.6h-2.6zM78.8 162.7h2.6v2.6h-2.6zM91.2 161.0h2.6v2.6h-2.6zM78.4 165.2h2.6v2.6h-2.6zM83.4 153.3h2.6v2.6h-2.6zM85.7 159.5h2.6v2.6h-2.6zM72.8 165.2h2.6v2.6h-2.6zM91.2 154.6h2.6v2.6h-2.6zM92.4 158.6h2.6v2.6h-2.6zM84.4 156.5h2.6v2.6h-2.6zM85.6 159.6h2.6v2.6h-2.6zM80.7 165.3h2.6v2.6h-2.6zM79.6 158.7h2.6v2.6h-2.6zM78.6 159.2h2.6v2.6h-2.6zM78.9 165.0h2.6v2.6h-2.6zM90.2 159.9h2.6v2.6h-2.6zM79.6 161.0h2.6v2.6h-2.6zM82.3 157.6h2.6v2.6h-2.6zM87.0 162.8h2.6v2.6h-2.6zM90.2 167.0h2.6v2.6h-2.6zM90.4 163.1h2.6v2.6h-2.6zM80.8 158.7h2.6v2.6h-2.6zM79.4 163.4h2.6v2.6h-2.6zM89.4 161.2h2.6v2.6h-2.6zM84.0 154.2h2.6v2.6h-2.6zM75.8 162.3h2.6v2.6h-2.6zM86.9 159.8h2.6v2.6h-2.6zM78.3 166.3h2.6v2.6h-2.6zM89.4 168.1h2.6v2.6h-2.6zM87.8 159.8h2.6v2.6h-2.6zM79.3 166.8h2.6v2.6h-2.6zM83.2 157.8h2.6v2.6h-2.6zM90.3 163.4h2.6v2.6h-2.6zM92.1 161.5h2.6v2.6h-2.6zM85.3 164.4h2.6v2.6h-2.6zM92.6 155.1h2.6v2.6h-2.6zM85.6 155.4h2.6v2.6h-2.6zM86.8 163.7h2.6v2.6h-2.6zM74.2 160.9h2.6v2.6h-2.6zM79.7 161.3h2.6v2.6h-2.6zM90.6 167.1h2.6v2.6h-2.6zM80.0 155.4h2.6v2.6h-2.6zM92.8 165.0h2.6v2.6h-2.6zM79.3 162.5h2.6v2.6h-2.6zM73.0 163.7h2.6v2.6h-2.6zM88.6 163.2h2.6v2.6h-2.6zM83.9 164.2h2.6v2.6h-2.6zM77.0 159.5h2.6v2.6h-2.6zM79.8 161.6h2.6v2.6h-2.6zM89.1 165.1h2.6v2.6h-2.6zM79.7 163.9h2.6v2.6h-2.6zM79.8 157.7h2.6v2.6h-2.6zM87.8 162.9h2.6v2.6h-2.6zM85.4 160.3h2.6v2.6h-2.6zM80.6 156.7h2.6v2.6h-2.6zM75.1 156.3h2.6v2.6h-2.6zM85.6 160.5h2.6v2.6h-2.6zM89.0 156.5h2.6v2.6h-2.6zM80.9 156.8h2.6v2.6h-2.6zM78.9 162.8h2.6v2.6h-2.6zM76.7 163.6h2.6v2.6h-2.6zM93.5 159.6h2.6v2.6h-2.6zM76.0 166.5h2.6v2.6h-2.6zM81.4 152.7h2.6v2.6h-2.6zM76.5 157.4h2.6v2.6h-2.6zM79.9 157.2h2.6v2.6h-2.6zM74.6 162.3h2.6v2.6h-2.6zM93.0 157.6h2.6v2.6h-2.6zM88.1 166.9h2.6v2.6h-2.6zM86.5 163.8h2.6v2.6h-2.6zM91.4 166.7h2.6v2.6h-2.6zM82.6 153.6h2.6v2.6h-2.6zM79.8 157.3h2.6v2.6h-2.6zM74.0 157.7h2.6v2.6h-2.6zM91.9 165.0h2.6v2.6h-2.6zM78.3 157.7h2.6v2.6h-2.6zM80.4 162.9h2.6v2.6h-2.6zM82.9 157.7h2.6v2.6h-2.6zM89.8 157.1h2.6v2.6h-2.6zM91.2 163.0h2.6v2.6h-2.6zM79.9 156.8h2.6v2.6h-2.6zM81.8 162.7h2.6v2.6h-2.6zM86.6 161.8h2.6v2.6h-2.6zM83.1 160.5h2.6v2.6h-2.6zM89.0 161.7h2.6v2.6h-2.6zM88.1 161.2h2.6v2.6h-2.6zM80.0 163.9h2.6v2.6h-2.6zM74.2 163.5h2.6v2.6h-2.6zM84.5 163.0h2.6v2.6h-2.6zM75.2 163.6h2.6v2.6h-2.6zM81.2 158.5h2.6v2.6h-2.6zM83.6 154.4h2.6v2.6h-2.6zM76.6 163.6h2.6v2.6h-2.6zM81.1 165.1h2.6v2.6h-2.6zM77.3 159.3h2.6v2.6h-2.6zM79.8 158.4h2.6v2.6h-2.6zM80.3 162.5h2.6v2.6h-2.6zM88.5 157.4h2.6v2.6h-2.6zM88.2 157.9h2.6v2.6h-2.6zM85.5 161.5h2.6v2.6h-2.6zM83.7 160.6h2.6v2.6h-2.6zM88.4 167.0h2.6v2.6h-2.6zM72.7 164.9h2.6v2.6h-2.6zM78.1 160.5h2.6v2.6h-2.6zM88.7 167.3h2.6v2.6h-2.6zM87.4 158.7h2.6v2.6h-2.6zM85.1 163.4h2.6v2.6h-2.6zM89.7 167.3h2.6v2.6h-2.6zM91.1 162.9h2.6v2.6h-2.6zM84.6 157.6h2.6v2.6h-2.6zM91.2 160.4h2.6v2.6h-2.6zM75.4 158.9h2.6v2.6h-2.6zM82.1 163.6h2.6v2.6h-2.6zM80.7 155.5h2.6v2.6h-2.6zM86.8 156.9h2.6v2.6h-2.6zM84.8 155.3h2.6v2.6h-2.6zM83.0 158.2h2.6v2.6h-2.6zM77.8 165.1h2.6v2.6h-2.6zM92.8 162.7h2.6v2.6h-2.6zM75.2 158.4h2.6v2.6h-2.6zM86.2 161.3h2.6v2.6h-2.6zM73.6 164.5h2.6v2.6h-2.6zM81.5 163.1h2.6v2.6h-2.6zM85.5 161.8h2.6v2.6h-2.6zM75.5 162.1h2.6v2.6h-2.6zM86.3 165.5h2.6v2.6h-2.6zM89.4 161.9h2.6v2.6h-2.6zM83.6 160.4h2.6v2.6h-2.6zM84.1 161.8h2.6v2.6h-2.6zM80.1 157.7h2.6v2.6h-2.6zM78.2 160.9h2.6v2.6h-2.6zM79.1 154.4h2.6v2.6h-2.6zM83.5 160.0h2.6v2.6h-2.6zM78.1 156.2h2.6v2.6h-2.6zM90.3 156.9h2.6v2.6h-2.6zM90.4 157.0h2.6v2.6h-2.6zM72.2 163.8h2.6v2.6h-2.6zM74.8 158.6h2.6v2.6h-2.6zM87.5 159.1h2.6v2.6h-2.6zM82.5 154.5h2.6v2.6h-2.6zM79.3 163.9h2.6v2.6h-2.6zM76.9 156.7h2.6v2.6h-2.6zM76.8 156.4h2.6v2.6h-2.6zM74.4 154.4h2.6v2.6h-2.6zM93.8 156.7h2.6v2.6h-2.6zM75.4 154.5h2.6v2.6h-2.6zM90.0 165.0h2.6v2.6h-2.6zM85.5 166.3h2.6v2.6h-2.6zM73.0 163.1h2.6v2.6h-2.6zM89.0 157.6h2.6v2.6h-2.6zM82.2 165.5h2.6v2.6h-2.6zM93.2 156.4h2.6v2.6h-2.6zM85.6 164.2h2.6v2.6h-2.6zM78.3 164.6h2.6v2.6h-2.6zM80.1 160.2h2.6v2.6h-2.6zM73.9 160.4h2.6v2.6h-2.6zM76.1 157.6h2.6v2.6h-2.6zM79.4 159.2h2.6v2.6h-2.6zM82.6 159.2h2.6v2.6h-2.6zM91.0 155.3h2.6v2.6h-2.6zM74.5 157.3h2.6v2.6h-2.6zM86.9 161.7h2.6v2.6h-2.6zM76.9 164.6h2.6v2.6h-2.6zM74.1 154.9h2.6v2.6h-2.6zM78.8 158.2h2.6v2.6h-2.6zM90.7 163.2h2.6v2.6h-2.6zM76.5 163.7h2.6v2.6h-2.6zM80.9 162.9h2.6v2.6h-2.6zM83.5 161.4h2.6v2.6h-2.6zM75.7 155.7h2.6v2.6h-2.6zM86.9 167.4h2.6v2.6h-2.6zM84.1 154.8h2.6v2.6h-2.6zM77.7 156.7h2.6v2.6h-2.6zM91.9 156.5h2.6v2.6h-2.6zM74.2 154.1h2.6v2.6h-2.6zM85.0 158.8h2.6v2.6h-2.6zM83.8 153.6h2.6v2.6h-2.6zM80.1 157.3h2.6v2.6h-2.6zM88.7 167.5h2.6v2.6h-2.6zM79.4 163.4h2.6v2.6h-2.6zM83.8 155.7h2.6v2.6h-2.6zM90.6 163.5h2.6v2.6h-2.6zM72.9 155.4h2.6v2.6h-2.6zM85.6 165.0h2.6v2.6h-2.6zM72.6 165.4h2.6v2.6h-2.6zM90.8 166.2h2.6v2.6h-2.6zM110.4 140.5h2.6v2.6h-2.6zM109.9 140.6h2.6v2.6h-2.6z"/>
<defs><radialGradient id="g1"><stop offset="0" stop-color="#cacaca"/><stop offset="0.55" stop-color="#888888"/><stop offset="1" stop-color="#585858" stop-opacity="0"/></radialGradient></defs>
<ellipse cx="89.0" cy="100.8" rx="10.0" ry="4.0" transform="rotate(-21 89.0 100.8)" fill="url(#g1)"/>
<ellipse cx="118.0" cy="160.0" rx="8.5" ry="12.0" transform="rotate(0 118.0 160.0)" fill="#585858"/>
<path fill="#6c6c6c" d="M115.5 160.4h1.7v1.7h-1.7zM112.3 152.8h1.7v1.7h-1.7zM114.0 167.5h1.7v1.7h-1.7zM114.1 165.5h1.7v1.7h-1.7zM112.8 163.9h1.7v1.7h-1.7zM114.9 154.1h1.7v1.7h-1.7zM112.1 152.5h1.7v1.7h-1.7zM114.8 149.3h1.7v1.7h-1.7zM115.2 169.4h1.7v1.7h-1.7zM112.9 164.2h1.7v1.7h-1.7zM119.3 157.1h1.7v1.7h-1.7zM115.1 161.8h1.7v1.7h-1.7zM119.2 158.7h1.7v1.7h-1.7zM116.0 151.6h1.7v1.7h-1.7zM123.1 154.1h1.7v1.7h-1.7zM115.7 148.4h1.7v1.7h-1.7zM114.9 159.5h1.7v1.7h-1.7zM113.3 165.5h1.7v1.7h-1.7zM110.9 159.7h1.7v1.7h-1.7zM115.9 167.1h1.7v1.7h-1.7zM111.4 157.4h1.7v1.7h-1.7zM119.0 169.1h1.7v1.7h-1.7zM114.1 151.0h1.7v1.7h-1.7zM117.1 155.8h1.7v1.7h-1.7zM114.8 163.0h1.7v1.7h-1.7zM122.8 158.9h1.7v1.7h-1.7zM111.8 151.9h1.7v1.7h-1.7zM111.2 161.6h1.7v1.7h-1.7zM115.2 169.5h1.7v1.7h-1.7zM122.7 157.1h1.7v1.7h-1.7zM116.9 153.1h1.7v1.7h-1.7zM113.1 166.7h1.7v1.7h-1.7zM115.6 159.1h1.7v1.7h-1.7zM123.4 162.7h1.7v1.7h-1.7zM119.7 166.7h1.7v1.7h-1.7zM114.9 150.3h1.7v1.7h-1.7zM111.6 161.8h1.7v1.7h-1.7zM111.1 166.0h1.7v1.7h-1.7zM124.7 157.6h1.7v1.7h-1.7zM118.2 160.9h1.7v1.7h-1.7zM116.3 155.5h1.7v1.7h-1.7zM120.5 158.1h1.7v1.7h-1.7zM122.4 153.4h1.7v1.7h-1.7zM110.1 163.9h1.7v1.7h-1.7zM112.0 166.0h1.7v1.7h-1.7z"/>
<path fill="#3e3e3e" d="M118.6 166.0h1.7v1.7h-1.7zM122.2 160.1h1.7v1.7h-1.7zM120.7 168.3h1.7v1.7h-1.7zM112.1 153.7h1.7v1.7h-1.7zM116.1 164.5h1.7v1.7h-1.7zM117.4 148.9h1.7v1.7h-1.7zM120.5 166.0h1.7v1.7h-1.7zM124.0 159.9h1.7v1.7h-1.7zM119.6 156.1h1.7v1.7h-1.7zM115.7 166.9h1.7v1.7h-1.7zM111.5 162.5h1.7v1.7h-1.7zM111.7 163.9h1.7v1.7h-1.7zM122.5 163.6h1.7v1.7h-1.7zM111.9 159.4h1.7v1.7h-1.7zM111.5 157.7h1.7v1.7h-1.7zM116.5 152.0h1.7v1.7h-1.7zM114.9 160.8h1.7v1.7h-1.7zM114.4 160.3h1.7v1.7h-1.7zM117.4 158.8h1.7v1.7h-1.7zM116.9 154.0h1.7v1.7h-1.7zM122.4 155.4h1.7v1.7h-1.7zM110.4 156.1h1.7v1.7h-1.7zM115.3 166.4h1.7v1.7h-1.7zM115.2 152.8h1.7v1.7h-1.7zM110.5 157.5h1.7v1.7h-1.7zM114.0 166.0h1.7v1.7h-1.7zM120.7 162.0h1.7v1.7h-1.7zM121.4 166.8h1.7v1.7h-1.7zM115.7 155.5h1.7v1.7h-1.7zM121.4 168.3h1.7v1.7h-1.7zM118.9 159.6h1.7v1.7h-1.7zM112.6 154.1h1.7v1.7h-1.7zM121.7 150.6h1.7v1.7h-1.7zM121.6 157.6h1.7v1.7h-1.7zM113.4 165.6h1.7v1.7h-1.7zM115.9 157.4h1.7v1.7h-1.7zM112.1 158.9h1.7v1.7h-1.7zM115.1 156.3h1.7v1.7h-1.7zM111.8 156.2h1.7v1.7h-1.7zM122.8 159.9h1.7v1.7h-1.7zM119.0 152.1h1.7v1.7h-1.7zM117.7 158.8h1.7v1.7h-1.7zM116.7 152.3h1.7v1.7h-1.7zM116.9 150.8h1.7v1.7h-1.7zM119.9 162.2h1.7v1.7h-1.7zM118.8 148.8h1.7v1.7h-1.7z"/>
<defs><radialGradient id="g2"><stop offset="0" stop-color="#ececec"/><stop offset="0.55" stop-color="#b8b8b8"/><stop offset="1" stop-color="#585858" stop-opacity="0"/></radialGradient></defs>
<ellipse cx="117.5" cy="163.0" rx="8.6" ry="14.0" transform="rotate(0 117.5 163.0)" fill="url(#g2)"/>
</g>
<path d="M72.0 62.2V171.4H151.5" fill="none" stroke="#000" stroke-width="2.7" stroke-linejoin="miter"/>
<path d="M105.8 62.2V171.4" fill="none" stroke="#000" stroke-width="2.2"/>
<path d="M72.0 121.6H151.5" fill="none" stroke="#000" stroke-width="1.9"/>
<path d="M72.0 171.4h-4M72.0 163.2h-2.8M72.0 158.4h-2.8M72.0 155.0h-2.8M72.0 152.3h-2.8M72.0 150.2h-2.8M72.0 148.3h-2.8M72.0 146.7h-2.8M72.0 145.3h-2.8M72.0 144.1h-4M72.0 135.9h-2.8M72.0 131.1h-2.8M72.0 127.7h-2.8M72.0 125.0h-2.8M72.0 122.9h-2.8M72.0 121.0h-2.8M72.0 119.4h-2.8M72.0 118.0h-2.8M72.0 116.8h-4M72.0 108.6h-2.8M72.0 103.8h-2.8M72.0 100.4h-2.8M72.0 97.7h-2.8M72.0 95.6h-2.8M72.0 93.7h-2.8M72.0 92.1h-2.8M72.0 90.7h-2.8M72.0 89.5h-4M72.0 81.3h-2.8M72.0 76.5h-2.8M72.0 73.1h-2.8M72.0 70.4h-2.8M72.0 68.3h-2.8M72.0 66.4h-2.8M72.0 64.8h-2.8M72.0 63.4h-2.8M72.0 62.2h-4" fill="none" stroke="#000" stroke-width="1.5"/>
<path d="M72.0 171.4v4.6M79.7 171.4v3.4M84.3 171.4v3.4M87.5 171.4v3.4M90.0 171.4v3.4M92.0 171.4v3.4M93.7 171.4v3.4M95.2 171.4v3.4M96.5 171.4v3.4M97.7 171.4v4.6M105.4 171.4v3.4M110.0 171.4v3.4M113.2 171.4v3.4M115.7 171.4v3.4M117.7 171.4v3.4M119.4 171.4v3.4M120.9 171.4v3.4M122.2 171.4v3.4M123.4 171.4v4.6M131.1 171.4v3.4M135.7 171.4v3.4M138.9 171.4v3.4M141.4 171.4v3.4M143.4 171.4v3.4M145.1 171.4v3.4M146.6 171.4v3.4M147.9 171.4v3.4M149.1 171.4v4.6" fill="none" stroke="#000" stroke-width="1.5"/>
<text x="70.0" y="180.0" font-size="3.5" text-anchor="middle" fill="#999">10<tspan dy="-1" font-size="2.5">0</tspan></text>
<text x="95.7" y="180.0" font-size="3.5" text-anchor="middle" fill="#999">10<tspan dy="-1" font-size="2.5">1</tspan></text>
<text x="121.4" y="180.0" font-size="3.5" text-anchor="middle" fill="#999">10<tspan dy="-1" font-size="2.5">2</tspan></text>
<text x="147.1" y="180.0" font-size="3.5" text-anchor="middle" fill="#999">10<tspan dy="-1" font-size="2.5">3</tspan></text>
<text x="83.5" y="74.3" font-size="14" font-weight="bold">29</text>
<text x="142.5" y="165.5" font-size="14" font-weight="bold">37</text>
<clipPath id="c2"><rect x="170.8" y="59.7" width="81.0" height="112.2"/></clipPath><g clip-path="url(#c2)">
<ellipse cx="187.0" cy="98.5" rx="13.0" ry="4.2" transform="rotate(-18 187.0 98.5)" fill="#585858"/>
<path fill="#6c6c6c" d="M194.1 95.4h1.7v1.7h-1.7zM182.7 97.8h1.7v1.7h-1.7zM180.8 99.3h1.7v1.7h-1.7zM186.5 99.0h1.7v1.7h-1.7zM188.2 101.0h1.7v1.7h-1.7zM186.4 101.2h1.7v1.7h-1.7zM187.1 97.3h1.7v1.7h-1.7zM181.7 101.8h1.7v1.7h-1.7zM176.7 101.0h1.7v1.7h-1.7zM191.7 99.5h1.7v1.7h-1.7zM185.3 96.7h1.7v1.7h-1.7zM189.4 93.6h1.7v1.7h-1.7zM176.1 101.9h1.7v1.7h-1.7zM187.6 98.7h1.7v1.7h-1.7zM184.8 97.0h1.7v1.7h-1.7zM180.8 95.9h1.7v1.7h-1.7zM184.0 97.0h1.7v1.7h-1.7zM185.8 97.7h1.7v1.7h-1.7zM193.3 97.6h1.7v1.7h-1.7zM182.1 99.8h1.7v1.7h-1.7zM182.9 96.9h1.7v1.7h-1.7zM192.0 97.5h1.7v1.7h-1.7zM181.6 96.6h1.7v1.7h-1.7zM187.3 99.6h1.7v1.7h-1.7zM190.6 97.3h1.7v1.7h-1.7zM182.4 101.9h1.7v1.7h-1.7z"/>
<path fill="#3e3e3e" d="M181.5 95.4h1.7v1.7h-1.7zM197.3 95.1h1.7v1.7h-1.7zM186.1 100.1h1.7v1.7h-1.7zM187.3 94.6h1.7v1.7h-1.7zM190.2 95.1h1.7v1.7h-1.7zM183.0 95.4h1.7v1.7h-1.7zM193.1 94.4h1.7v1.7h-1.7zM186.5 100.6h1.7v1.7h-1.7zM184.7 94.9h1.7v1.7h-1.7zM185.3 99.9h1.7v1.7h-1.7zM184.3 96.3h1.7v1.7h-1.7zM180.0 96.4h1.7v1.7h-1.7zM178.3 99.7h1.7v1.7h-1.7zM182.5 102.1h1.7v1.7h-1.7zM176.7 101.7h1.7v1.7h-1.7zM183.5 95.4h1.7v1.7h-1.7zM180.7 102.3h1.7v1.7h-1.7zM192.4 97.1h1.7v1.7h-1.7zM183.0 100.3h1.7v1.7h-1.7zM188.4 97.8h1.7v1.7h-1.7zM186.6 94.2h1.7v1.7h-1.7zM190.0 94.2h1.7v1.7h-1.7zM185.8 96.5h1.7v1.7h-1.7z"/>
<ellipse cx="180.0" cy="161.0" rx="8.5" ry="7.0" transform="rotate(0 180.0 161.0)" fill="#585858"/>
<path fill="#6c6c6c" d="M175.6 156.3h1.7v1.7h-1.7zM179.1 163.8h1.7v1.7h-1.7zM173.9 157.0h1.7v1.7h-1.7zM178.8 154.9h1.7v1.7h-1.7zM184.0 161.3h1.7v1.7h-1.7zM178.3 154.0h1.7v1.7h-1.7zM180.2 159.9h1.7v1.7h-1.7zM179.8 160.8h1.7v1.7h-1.7zM178.2 164.7h1.7v1.7h-1.7zM173.6 158.4h1.7v1.7h-1.7zM178.8 157.3h1.7v1.7h-1.7zM183.3 156.1h1.7v1.7h-1.7zM177.6 158.8h1.7v1.7h-1.7zM182.7 165.0h1.7v1.7h-1.7zM172.9 159.6h1.7v1.7h-1.7zM177.4 155.3h1.7v1.7h-1.7zM176.9 163.9h1.7v1.7h-1.7zM178.7 159.1h1.7v1.7h-1.7zM178.2 154.8h1.7v1.7h-1.7z"/>
<path fill="#3e3e3e" d="M177.7 163.4h1.7v1.7h-1.7zM178.0 158.8h1.7v1.7h-1.7zM175.9 157.8h1.7v1.7h-1.7zM181.7 163.6h1.7v1.7h-1.7zM178.3 157.5h1.7v1.7h-1.7zM177.5 159.8h1.7v1.7h-1.7zM173.1 157.2h1.7v1.7h-1.7zM182.0 158.9h1.7v1.7h-1.7zM178.3 159.9h1.7v1.7h-1.7zM175.8 157.5h1.7v1.7h-1.7zM181.9 157.3h1.7v1.7h-1.7zM185.2 164.1h1.7v1.7h-1.7zM174.1 155.6h1.7v1.7h-1.7zM185.7 157.4h1.7v1.7h-1.7zM183.6 161.0h1.7v1.7h-1.7zM172.8 159.9h1.7v1.7h-1.7zM176.6 156.9h1.7v1.7h-1.7zM175.9 156.1h1.7v1.7h-1.7zM177.5 159.0h1.7v1.7h-1.7zM183.2 155.9h1.7v1.7h-1.7zM182.8 160.6h1.7v1.7h-1.7zM182.1 155.0h1.7v1.7h-1.7zM176.9 155.6h1.7v1.7h-1.7zM177.5 158.1h1.7v1.7h-1.7zM182.2 161.0h1.7v1.7h-1.7zM175.1 165.6h1.7v1.7h-1.7zM181.5 155.6h1.7v1.7h-1.7zM181.5 163.1h1.7v1.7h-1.7zM175.8 164.8h1.7v1.7h-1.7zM182.0 161.9h1.7v1.7h-1.7zM185.4 160.7h1.7v1.7h-1.7zM174.2 162.4h1.7v1.7h-1.7zM177.5 164.5h1.7v1.7h-1.7zM186.0 157.8h1.7v1.7h-1.7z"/>
<path fill="#2b2b2b" d="M179.5 107.3h2.6v2.6h-2.6zM171.6 93.8h2.6v2.6h-2.6zM196.4 90.0h2.6v2.6h-2.6zM189.1 104.8h2.6v2.6h-2.6zM190.9 87.5h2.6v2.6h-2.6zM192.9 88.9h2.6v2.6h-2.6zM188.6 89.0h2.6v2.6h-2.6zM198.3 102.3h2.6v2.6h-2.6zM173.4 108.3h2.6v2.6h-2.6zM199.2 85.8h2.6v2.6h-2.6zM181.0 91.7h2.6v2.6h-2.6zM200.1 103.1h2.6v2.6h-2.6zM200.3 98.7h2.6v2.6h-2.6zM170.7 99.4h2.6v2.6h-2.6zM175.4 95.8h2.6v2.6h-2.6zM196.5 87.7h2.6v2.6h-2.6zM180.0 88.9h2.6v2.6h-2.6zM178.2 108.8h2.6v2.6h-2.6zM172.5 139.8h2.6v2.6h-2.6zM190.9 144.5h2.6v2.6h-2.6zM182.8 143.0h2.6v2.6h-2.6zM196.4 166.0h2.6v2.6h-2.6zM186.5 168.8h2.6v2.6h-2.6zM192.0 153.2h2.6v2.6h-2.6zM201.9 155.0h2.6v2.6h-2.6zM188.4 138.9h2.6v2.6h-2.6zM188.7 141.2h2.6v2.6h-2.6zM187.9 143.4h2.6v2.6h-2.6zM213.8 133.2h2.6v2.6h-2.6zM203.3 157.9h2.6v2.6h-2.6zM207.6 150.6h2.6v2.6h-2.6zM223.3 144.9h2.6v2.6h-2.6zM212.3 168.4h2.6v2.6h-2.6zM226.1 152.1h2.6v2.6h-2.6zM202.7 157.5h2.6v2.6h-2.6zM220.1 143.0h2.6v2.6h-2.6zM206.6 168.5h2.6v2.6h-2.6zM205.7 167.8h2.6v2.6h-2.6zM213.0 140.7h2.6v2.6h-2.6zM221.5 140.8h2.6v2.6h-2.6zM224.0 162.0h2.6v2.6h-2.6zM222.5 147.6h2.6v2.6h-2.6zM224.1 150.6h2.6v2.6h-2.6zM205.2 161.8h2.6v2.6h-2.6zM223.3 152.6h2.6v2.6h-2.6zM199.0 157.4h2.6v2.6h-2.6zM211.1 141.1h2.6v2.6h-2.6zM212.2 168.7h2.6v2.6h-2.6zM205.4 154.1h2.6v2.6h-2.6zM196.6 146.8h2.6v2.6h-2.6zM197.9 163.5h2.6v2.6h-2.6zM201.0 161.0h2.6v2.6h-2.6zM189.9 148.4h2.6v2.6h-2.6zM194.6 156.4h2.6v2.6h-2.6zM198.4 158.9h2.6v2.6h-2.6zM195.6 152.9h2.6v2.6h-2.6zM173.4 147.1h2.6v2.6h-2.6zM200.3 164.0h2.6v2.6h-2.6zM187.6 165.1h2.6v2.6h-2.6zM197.3 159.9h2.6v2.6h-2.6zM202.3 153.9h2.6v2.6h-2.6zM193.7 161.7h2.6v2.6h-2.6zM195.9 147.7h2.6v2.6h-2.6zM189.8 165.4h2.6v2.6h-2.6zM200.2 150.8h2.6v2.6h-2.6zM189.8 147.2h2.6v2.6h-2.6zM189.4 129.8h2.6v2.6h-2.6zM190.0 129.3h2.6v2.6h-2.6zM175.2 136.6h2.6v2.6h-2.6zM186.8 123.0h2.6v2.6h-2.6zM178.4 135.5h2.6v2.6h-2.6zM197.1 125.0h2.6v2.6h-2.6zM183.0 145.3h2.6v2.6h-2.6zM190.7 133.8h2.6v2.6h-2.6zM195.0 142.6h2.6v2.6h-2.6zM200.6 130.9h2.6v2.6h-2.6zM187.6 143.6h2.6v2.6h-2.6zM179.4 136.9h2.6v2.6h-2.6zM198.2 143.9h2.6v2.6h-2.6zM192.1 143.5h2.6v2.6h-2.6zM171.1 126.8h2.6v2.6h-2.6zM179.0 139.7h2.6v2.6h-2.6zM194.9 133.3h2.6v2.6h-2.6zM191.9 123.4h2.6v2.6h-2.6zM186.0 128.8h2.6v2.6h-2.6zM201.1 128.2h2.6v2.6h-2.6zM181.6 137.1h2.6v2.6h-2.6zM193.0 132.0h2.6v2.6h-2.6zM181.9 127.3h2.6v2.6h-2.6zM179.3 143.2h2.6v2.6h-2.6zM177.5 126.9h2.6v2.6h-2.6zM173.6 142.0h2.6v2.6h-2.6zM174.7 141.2h2.6v2.6h-2.6zM176.4 127.2h2.6v2.6h-2.6zM180.3 140.8h2.6v2.6h-2.6zM201.3 140.6h2.6v2.6h-2.6zM175.7 140.2h2.6v2.6h-2.6zM184.3 134.3h2.6v2.6h-2.6zM171.7 130.9h2.6v2.6h-2.6zM205.6 139.3h2.6v2.6h-2.6zM209.3 126.1h2.6v2.6h-2.6zM214.7 126.0h2.6v2.6h-2.6zM217.9 138.1h2.6v2.6h-2.6zM206.2 131.7h2.6v2.6h-2.6zM212.5 130.5h2.6v2.6h-2.6zM206.4 140.4h2.6v2.6h-2.6zM218.6 139.2h2.6v2.6h-2.6zM172.7 111.7h2.6v2.6h-2.6zM172.7 116.7h2.6v2.6h-2.6zM190.7 110.7h2.6v2.6h-2.6zM192.7 115.7h2.6v2.6h-2.6zM217.7 120.7h2.6v2.6h-2.6zM221.7 119.7h2.6v2.6h-2.6zM236.7 130.7h2.6v2.6h-2.6z"/>
<path fill="#444444" d="M177.2 103.5h2.6v2.6h-2.6zM185.2 90.5h2.6v2.6h-2.6zM179.3 95.7h2.6v2.6h-2.6zM195.7 95.4h2.6v2.6h-2.6zM174.6 104.9h2.6v2.6h-2.6zM179.5 104.6h2.6v2.6h-2.6zM192.3 92.0h2.6v2.6h-2.6zM201.5 91.3h2.6v2.6h-2.6zM199.5 90.7h2.6v2.6h-2.6zM172.6 97.2h2.6v2.6h-2.6zM174.9 106.7h2.6v2.6h-2.6zM174.6 100.5h2.6v2.6h-2.6zM187.1 91.4h2.6v2.6h-2.6zM180.4 94.9h2.6v2.6h-2.6zM198.1 97.8h2.6v2.6h-2.6zM175.7 99.3h2.6v2.6h-2.6zM196.0 96.6h2.6v2.6h-2.6zM184.7 92.0h2.6v2.6h-2.6zM195.0 100.2h2.6v2.6h-2.6zM180.6 94.5h2.6v2.6h-2.6zM194.8 93.8h2.6v2.6h-2.6zM179.2 102.8h2.6v2.6h-2.6zM199.6 94.9h2.6v2.6h-2.6zM174.8 100.7h2.6v2.6h-2.6zM189.7 101.4h2.6v2.6h-2.6zM172.5 102.6h2.6v2.6h-2.6zM194.7 93.0h2.6v2.6h-2.6zM189.0 91.5h2.6v2.6h-2.6zM196.4 95.0h2.6v2.6h-2.6zM191.5 90.3h2.6v2.6h-2.6zM181.1 92.9h2.6v2.6h-2.6zM176.9 103.0h2.6v2.6h-2.6zM199.8 95.1h2.6v2.6h-2.6zM199.2 92.2h2.6v2.6h-2.6zM174.0 95.8h2.6v2.6h-2.6zM192.7 101.2h2.6v2.6h-2.6zM195.3 99.8h2.6v2.6h-2.6zM196.0 100.5h2.6v2.6h-2.6zM198.4 91.2h2.6v2.6h-2.6zM199.8 94.1h2.6v2.6h-2.6zM173.9 104.1h2.6v2.6h-2.6zM178.0 97.3h2.6v2.6h-2.6zM174.1 103.6h2.6v2.6h-2.6zM176.4 98.6h2.6v2.6h-2.6zM179.1 102.7h2.6v2.6h-2.6zM200.5 92.9h2.6v2.6h-2.6zM183.1 91.1h2.6v2.6h-2.6zM174.6 103.5h2.6v2.6h-2.6zM187.0 103.3h2.6v2.6h-2.6zM173.6 100.0h2.6v2.6h-2.6zM189.7 91.2h2.6v2.6h-2.6zM190.3 100.3h2.6v2.6h-2.6zM196.9 99.8h2.6v2.6h-2.6zM198.8 87.9h2.6v2.6h-2.6zM193.4 92.2h2.6v2.6h-2.6zM196.3 96.9h2.6v2.6h-2.6zM199.9 89.9h2.6v2.6h-2.6zM199.7 89.0h2.6v2.6h-2.6zM176.0 100.2h2.6v2.6h-2.6zM197.3 90.7h2.6v2.6h-2.6zM199.8 92.0h2.6v2.6h-2.6zM180.0 95.0h2.6v2.6h-2.6zM172.9 101.5h2.6v2.6h-2.6zM200.4 95.6h2.6v2.6h-2.6zM189.4 102.3h2.6v2.6h-2.6zM176.8 106.5h2.6v2.6h-2.6zM174.8 105.9h2.6v2.6h-2.6zM190.9 100.4h2.6v2.6h-2.6zM173.9 96.8h2.6v2.6h-2.6zM191.5 90.6h2.6v2.6h-2.6zM184.1 90.8h2.6v2.6h-2.6zM173.3 95.1h2.6v2.6h-2.6zM201.6 94.2h2.6v2.6h-2.6zM172.2 105.2h2.6v2.6h-2.6zM174.6 98.8h2.6v2.6h-2.6zM175.7 103.7h2.6v2.6h-2.6zM196.9 94.3h2.6v2.6h-2.6zM179.5 103.4h2.6v2.6h-2.6zM200.3 92.3h2.6v2.6h-2.6zM200.2 93.8h2.6v2.6h-2.6zM195.1 90.5h2.6v2.6h-2.6zM176.8 96.1h2.6v2.6h-2.6zM186.0 146.6h2.6v2.6h-2.6zM186.2 151.3h2.6v2.6h-2.6zM171.4 156.0h2.6v2.6h-2.6zM172.0 149.2h2.6v2.6h-2.6zM177.7 150.2h2.6v2.6h-2.6zM187.1 152.5h2.6v2.6h-2.6zM193.4 150.4h2.6v2.6h-2.6zM192.1 158.2h2.6v2.6h-2.6zM191.0 154.7h2.6v2.6h-2.6zM172.2 151.0h2.6v2.6h-2.6zM176.1 169.1h2.6v2.6h-2.6zM176.9 147.2h2.6v2.6h-2.6zM171.4 151.0h2.6v2.6h-2.6zM176.3 147.9h2.6v2.6h-2.6zM171.2 157.9h2.6v2.6h-2.6zM180.3 148.1h2.6v2.6h-2.6zM190.6 159.1h2.6v2.6h-2.6zM184.6 168.8h2.6v2.6h-2.6zM185.7 147.8h2.6v2.6h-2.6zM192.9 150.2h2.6v2.6h-2.6zM178.4 167.4h2.6v2.6h-2.6zM182.9 146.1h2.6v2.6h-2.6zM186.9 156.2h2.6v2.6h-2.6zM189.5 162.4h2.6v2.6h-2.6zM170.6 167.4h2.6v2.6h-2.6zM172.5 150.3h2.6v2.6h-2.6zM173.6 167.5h2.6v2.6h-2.6zM171.2 160.4h2.6v2.6h-2.6zM171.7 162.3h2.6v2.6h-2.6zM181.6 148.5h2.6v2.6h-2.6zM170.7 157.1h2.6v2.6h-2.6zM178.3 151.0h2.6v2.6h-2.6zM188.8 155.3h2.6v2.6h-2.6zM171.0 163.3h2.6v2.6h-2.6zM192.2 154.4h2.6v2.6h-2.6zM176.8 168.2h2.6v2.6h-2.6zM186.8 148.1h2.6v2.6h-2.6zM171.8 154.8h2.6v2.6h-2.6zM187.9 154.8h2.6v2.6h-2.6zM188.2 163.1h2.6v2.6h-2.6zM171.0 166.2h2.6v2.6h-2.6zM178.3 147.4h2.6v2.6h-2.6zM180.3 146.4h2.6v2.6h-2.6zM187.2 164.1h2.6v2.6h-2.6zM185.4 148.6h2.6v2.6h-2.6zM188.1 148.2h2.6v2.6h-2.6zM190.4 157.6h2.6v2.6h-2.6zM190.3 155.3h2.6v2.6h-2.6zM171.5 155.9h2.6v2.6h-2.6zM188.1 152.3h2.6v2.6h-2.6zM183.9 167.1h2.6v2.6h-2.6zM186.8 151.6h2.6v2.6h-2.6zM176.9 149.5h2.6v2.6h-2.6zM170.9 154.0h2.6v2.6h-2.6zM183.4 167.7h2.6v2.6h-2.6zM175.7 147.8h2.6v2.6h-2.6zM185.2 150.0h2.6v2.6h-2.6zM219.4 145.9h2.6v2.6h-2.6zM211.7 146.3h2.6v2.6h-2.6zM220.2 152.1h2.6v2.6h-2.6zM217.1 145.3h2.6v2.6h-2.6zM210.3 146.9h2.6v2.6h-2.6zM220.5 168.6h2.6v2.6h-2.6zM221.4 164.8h2.6v2.6h-2.6zM212.3 148.1h2.6v2.6h-2.6zM216.3 168.2h2.6v2.6h-2.6zM216.0 149.9h2.6v2.6h-2.6zM219.4 144.6h2.6v2.6h-2.6zM222.0 166.8h2.6v2.6h-2.6zM217.5 155.4h2.6v2.6h-2.6zM217.2 168.8h2.6v2.6h-2.6zM223.3 159.8h2.6v2.6h-2.6zM208.9 150.0h2.6v2.6h-2.6zM217.9 145.2h2.6v2.6h-2.6zM211.8 148.7h2.6v2.6h-2.6zM208.4 160.4h2.6v2.6h-2.6zM216.1 149.4h2.6v2.6h-2.6zM212.3 145.0h2.6v2.6h-2.6zM215.0 144.0h2.6v2.6h-2.6zM215.1 142.7h2.6v2.6h-2.6zM211.2 150.9h2.6v2.6h-2.6zM220.6 156.3h2.6v2.6h-2.6zM206.9 164.8h2.6v2.6h-2.6zM218.3 148.5h2.6v2.6h-2.6zM209.5 150.8h2.6v2.6h-2.6zM206.2 165.3h2.6v2.6h-2.6zM219.7 146.8h2.6v2.6h-2.6zM213.2 142.5h2.6v2.6h-2.6zM210.0 146.8h2.6v2.6h-2.6zM216.4 167.8h2.6v2.6h-2.6zM210.7 149.8h2.6v2.6h-2.6zM211.1 164.8h2.6v2.6h-2.6zM210.1 148.0h2.6v2.6h-2.6zM208.9 154.5h2.6v2.6h-2.6zM222.6 152.8h2.6v2.6h-2.6zM223.1 160.6h2.6v2.6h-2.6zM222.2 155.9h2.6v2.6h-2.6zM221.6 163.9h2.6v2.6h-2.6zM211.0 166.3h2.6v2.6h-2.6zM211.6 147.6h2.6v2.6h-2.6zM222.7 156.2h2.6v2.6h-2.6zM220.1 166.3h2.6v2.6h-2.6zM216.5 148.1h2.6v2.6h-2.6zM208.0 150.3h2.6v2.6h-2.6zM207.2 161.1h2.6v2.6h-2.6zM219.3 168.0h2.6v2.6h-2.6zM205.5 164.2h2.6v2.6h-2.6zM208.9 158.4h2.6v2.6h-2.6zM220.6 157.2h2.6v2.6h-2.6zM221.5 150.2h2.6v2.6h-2.6zM209.9 153.9h2.6v2.6h-2.6zM206.7 152.6h2.6v2.6h-2.6zM219.3 150.1h2.6v2.6h-2.6zM219.8 165.2h2.6v2.6h-2.6zM218.0 148.8h2.6v2.6h-2.6zM218.4 147.1h2.6v2.6h-2.6zM222.1 164.1h2.6v2.6h-2.6zM213.4 167.0h2.6v2.6h-2.6zM210.2 149.0h2.6v2.6h-2.6zM222.5 158.0h2.6v2.6h-2.6zM219.0 157.1h2.6v2.6h-2.6zM206.0 166.0h2.6v2.6h-2.6zM219.7 155.8h2.6v2.6h-2.6zM207.6 163.7h2.6v2.6h-2.6zM220.4 162.1h2.6v2.6h-2.6zM208.1 157.5h2.6v2.6h-2.6zM220.8 153.9h2.6v2.6h-2.6zM213.1 143.8h2.6v2.6h-2.6zM219.4 167.5h2.6v2.6h-2.6zM216.9 150.6h2.6v2.6h-2.6zM207.6 155.1h2.6v2.6h-2.6zM219.1 166.8h2.6v2.6h-2.6zM224.3 158.6h2.6v2.6h-2.6zM215.4 143.0h2.6v2.6h-2.6zM213.7 146.8h2.6v2.6h-2.6zM219.0 156.5h2.6v2.6h-2.6zM221.6 158.5h2.6v2.6h-2.6zM217.4 153.5h2.6v2.6h-2.6zM219.8 159.7h2.6v2.6h-2.6zM220.6 162.1h2.6v2.6h-2.6zM220.9 166.3h2.6v2.6h-2.6zM215.5 150.0h2.6v2.6h-2.6zM208.0 155.0h2.6v2.6h-2.6zM208.4 164.4h2.6v2.6h-2.6zM218.5 153.0h2.6v2.6h-2.6zM181.8 167.8h2.6v2.6h-2.6zM181.3 168.0h2.6v2.6h-2.6zM201.3 160.1h2.6v2.6h-2.6zM195.3 149.0h2.6v2.6h-2.6zM183.6 151.2h2.6v2.6h-2.6zM192.4 150.2h2.6v2.6h-2.6zM170.6 166.7h2.6v2.6h-2.6zM178.2 169.1h2.6v2.6h-2.6zM186.1 147.7h2.6v2.6h-2.6zM194.5 149.3h2.6v2.6h-2.6zM170.7 152.3h2.6v2.6h-2.6zM173.2 166.7h2.6v2.6h-2.6zM190.5 152.0h2.6v2.6h-2.6zM184.7 148.2h2.6v2.6h-2.6zM193.6 149.7h2.6v2.6h-2.6zM177.7 149.1h2.6v2.6h-2.6zM171.3 154.4h2.6v2.6h-2.6zM200.8 161.1h2.6v2.6h-2.6zM193.7 146.7h2.6v2.6h-2.6zM178.0 168.5h2.6v2.6h-2.6zM191.4 158.4h2.6v2.6h-2.6zM199.7 158.4h2.6v2.6h-2.6zM172.0 149.2h2.6v2.6h-2.6zM200.3 159.1h2.6v2.6h-2.6zM181.9 150.3h2.6v2.6h-2.6zM174.4 146.8h2.6v2.6h-2.6zM191.7 158.7h2.6v2.6h-2.6zM186.1 147.1h2.6v2.6h-2.6zM190.0 156.3h2.6v2.6h-2.6zM184.7 144.3h2.6v2.6h-2.6zM184.9 147.7h2.6v2.6h-2.6zM176.9 146.9h2.6v2.6h-2.6z"/>
<path fill="#525252" d="M190.2 96.2h2.6v2.6h-2.6zM184.4 95.6h2.6v2.6h-2.6zM184.2 97.4h2.6v2.6h-2.6zM186.4 97.8h2.6v2.6h-2.6zM185.9 94.6h2.6v2.6h-2.6zM183.5 102.1h2.6v2.6h-2.6zM179.5 96.7h2.6v2.6h-2.6zM184.2 101.5h2.6v2.6h-2.6zM190.0 95.0h2.6v2.6h-2.6zM196.1 98.7h2.6v2.6h-2.6zM190.6 93.8h2.6v2.6h-2.6zM191.8 94.6h2.6v2.6h-2.6zM190.3 94.1h2.6v2.6h-2.6zM183.9 100.5h2.6v2.6h-2.6zM184.2 103.3h2.6v2.6h-2.6zM187.2 92.3h2.6v2.6h-2.6zM192.5 94.6h2.6v2.6h-2.6zM189.0 99.6h2.6v2.6h-2.6zM189.4 96.9h2.6v2.6h-2.6zM191.2 98.5h2.6v2.6h-2.6zM181.6 97.3h2.6v2.6h-2.6zM188.0 98.0h2.6v2.6h-2.6zM184.7 103.6h2.6v2.6h-2.6zM187.4 97.5h2.6v2.6h-2.6zM180.9 99.0h2.6v2.6h-2.6zM192.9 97.7h2.6v2.6h-2.6zM189.6 100.1h2.6v2.6h-2.6zM187.8 97.4h2.6v2.6h-2.6zM198.1 97.0h2.6v2.6h-2.6zM184.0 95.8h2.6v2.6h-2.6zM188.0 96.2h2.6v2.6h-2.6zM191.8 96.0h2.6v2.6h-2.6zM191.9 96.0h2.6v2.6h-2.6zM192.3 100.5h2.6v2.6h-2.6zM184.9 94.9h2.6v2.6h-2.6zM189.4 96.0h2.6v2.6h-2.6zM178.8 97.9h2.6v2.6h-2.6zM179.1 99.7h2.6v2.6h-2.6zM191.3 97.2h2.6v2.6h-2.6zM186.1 96.5h2.6v2.6h-2.6zM193.7 96.4h2.6v2.6h-2.6zM195.7 96.5h2.6v2.6h-2.6zM184.9 93.6h2.6v2.6h-2.6zM186.0 94.4h2.6v2.6h-2.6zM184.4 98.6h2.6v2.6h-2.6zM186.1 99.5h2.6v2.6h-2.6zM187.7 95.0h2.6v2.6h-2.6zM194.5 100.1h2.6v2.6h-2.6zM184.2 102.2h2.6v2.6h-2.6zM182.8 97.1h2.6v2.6h-2.6zM186.8 93.3h2.6v2.6h-2.6zM188.1 100.2h2.6v2.6h-2.6zM191.7 99.3h2.6v2.6h-2.6zM179.9 99.8h2.6v2.6h-2.6zM190.9 95.6h2.6v2.6h-2.6zM185.2 101.6h2.6v2.6h-2.6zM181.9 94.6h2.6v2.6h-2.6zM182.3 103.0h2.6v2.6h-2.6zM188.6 94.8h2.6v2.6h-2.6zM182.4 100.9h2.6v2.6h-2.6zM192.4 94.5h2.6v2.6h-2.6zM177.5 99.0h2.6v2.6h-2.6zM182.6 102.1h2.6v2.6h-2.6zM187.3 100.3h2.6v2.6h-2.6zM186.6 95.2h2.6v2.6h-2.6zM192.8 96.6h2.6v2.6h-2.6zM181.7 98.2h2.6v2.6h-2.6zM185.7 92.5h2.6v2.6h-2.6zM182.9 97.1h2.6v2.6h-2.6zM184.2 101.2h2.6v2.6h-2.6zM184.3 102.2h2.6v2.6h-2.6zM182.9 101.8h2.6v2.6h-2.6zM186.3 102.6h2.6v2.6h-2.6zM187.7 97.5h2.6v2.6h-2.6zM178.1 101.5h2.6v2.6h-2.6zM183.9 100.1h2.6v2.6h-2.6zM188.4 94.7h2.6v2.6h-2.6zM182.5 102.1h2.6v2.6h-2.6zM180.4 97.6h2.6v2.6h-2.6zM188.8 96.9h2.6v2.6h-2.6zM178.6 99.3h2.6v2.6h-2.6zM187.3 101.3h2.6v2.6h-2.6zM192.3 96.3h2.6v2.6h-2.6zM182.6 97.1h2.6v2.6h-2.6zM184.4 93.3h2.6v2.6h-2.6zM186.0 98.8h2.6v2.6h-2.6zM183.0 95.9h2.6v2.6h-2.6zM194.9 95.4h2.6v2.6h-2.6zM178.6 99.0h2.6v2.6h-2.6zM188.9 93.6h2.6v2.6h-2.6zM181.5 96.0h2.6v2.6h-2.6zM186.0 96.2h2.6v2.6h-2.6zM186.8 99.1h2.6v2.6h-2.6zM186.6 95.5h2.6v2.6h-2.6zM182.8 96.1h2.6v2.6h-2.6zM190.7 94.8h2.6v2.6h-2.6zM186.3 98.7h2.6v2.6h-2.6zM190.0 97.3h2.6v2.6h-2.6zM191.1 94.9h2.6v2.6h-2.6zM193.1 98.2h2.6v2.6h-2.6zM189.7 98.9h2.6v2.6h-2.6zM194.3 93.1h2.6v2.6h-2.6zM192.7 93.2h2.6v2.6h-2.6zM191.5 98.3h2.6v2.6h-2.6zM187.6 94.3h2.6v2.6h-2.6zM192.7 98.4h2.6v2.6h-2.6zM193.9 97.6h2.6v2.6h-2.6zM186.1 94.3h2.6v2.6h-2.6zM191.7 93.1h2.6v2.6h-2.6zM186.3 102.6h2.6v2.6h-2.6zM187.8 100.0h2.6v2.6h-2.6zM192.7 97.2h2.6v2.6h-2.6zM191.7 97.1h2.6v2.6h-2.6zM179.3 97.4h2.6v2.6h-2.6zM181.6 100.4h2.6v2.6h-2.6zM179.5 100.3h2.6v2.6h-2.6zM182.5 101.7h2.6v2.6h-2.6zM183.9 99.2h2.6v2.6h-2.6zM189.5 93.5h2.6v2.6h-2.6zM190.8 97.3h2.6v2.6h-2.6zM196.1 99.0h2.6v2.6h-2.6zM193.7 98.8h2.6v2.6h-2.6zM186.0 98.4h2.6v2.6h-2.6zM178.5 101.9h2.6v2.6h-2.6zM189.7 97.3h2.6v2.6h-2.6zM179.7 99.9h2.6v2.6h-2.6zM182.6 99.0h2.6v2.6h-2.6zM196.5 97.1h2.6v2.6h-2.6zM178.3 99.6h2.6v2.6h-2.6zM183.2 102.1h2.6v2.6h-2.6zM192.6 98.0h2.6v2.6h-2.6zM182.4 99.5h2.6v2.6h-2.6zM185.1 103.8h2.6v2.6h-2.6zM186.4 97.4h2.6v2.6h-2.6zM188.5 96.5h2.6v2.6h-2.6zM188.1 158.4h2.6v2.6h-2.6zM179.5 158.4h2.6v2.6h-2.6zM183.9 157.1h2.6v2.6h-2.6zM183.8 160.8h2.6v2.6h-2.6zM176.4 156.9h2.6v2.6h-2.6zM182.0 158.7h2.6v2.6h-2.6zM181.6 164.8h2.6v2.6h-2.6zM182.6 154.7h2.6v2.6h-2.6zM174.0 165.7h2.6v2.6h-2.6zM182.4 156.9h2.6v2.6h-2.6zM180.7 157.0h2.6v2.6h-2.6zM182.2 167.0h2.6v2.6h-2.6zM182.0 161.1h2.6v2.6h-2.6zM186.2 157.9h2.6v2.6h-2.6zM185.5 160.0h2.6v2.6h-2.6zM180.0 163.0h2.6v2.6h-2.6zM175.1 158.6h2.6v2.6h-2.6zM184.1 164.3h2.6v2.6h-2.6zM173.3 151.7h2.6v2.6h-2.6zM181.3 160.0h2.6v2.6h-2.6zM182.2 155.2h2.6v2.6h-2.6zM183.4 161.7h2.6v2.6h-2.6zM181.5 159.8h2.6v2.6h-2.6zM174.9 156.4h2.6v2.6h-2.6zM175.3 163.6h2.6v2.6h-2.6zM177.1 153.8h2.6v2.6h-2.6zM182.5 160.8h2.6v2.6h-2.6zM173.4 166.6h2.6v2.6h-2.6zM185.7 154.9h2.6v2.6h-2.6zM176.1 159.4h2.6v2.6h-2.6zM182.7 163.6h2.6v2.6h-2.6zM181.2 159.2h2.6v2.6h-2.6zM178.7 158.5h2.6v2.6h-2.6zM179.7 164.5h2.6v2.6h-2.6zM182.8 163.6h2.6v2.6h-2.6zM180.1 161.0h2.6v2.6h-2.6zM187.2 160.1h2.6v2.6h-2.6zM175.6 155.7h2.6v2.6h-2.6zM174.8 156.4h2.6v2.6h-2.6zM178.1 153.6h2.6v2.6h-2.6zM180.8 159.4h2.6v2.6h-2.6zM179.1 160.3h2.6v2.6h-2.6zM184.2 160.8h2.6v2.6h-2.6zM184.4 154.5h2.6v2.6h-2.6zM173.3 158.3h2.6v2.6h-2.6zM174.3 164.0h2.6v2.6h-2.6zM182.8 155.0h2.6v2.6h-2.6zM173.9 152.6h2.6v2.6h-2.6zM187.9 160.1h2.6v2.6h-2.6zM180.9 152.6h2.6v2.6h-2.6zM176.0 164.7h2.6v2.6h-2.6zM182.8 153.4h2.6v2.6h-2.6zM178.4 157.8h2.6v2.6h-2.6zM175.6 164.1h2.6v2.6h-2.6zM174.0 153.9h2.6v2.6h-2.6zM183.4 160.3h2.6v2.6h-2.6zM181.2 155.7h2.6v2.6h-2.6zM179.5 153.9h2.6v2.6h-2.6zM180.4 162.4h2.6v2.6h-2.6zM180.9 153.3h2.6v2.6h-2.6zM175.6 154.7h2.6v2.6h-2.6zM179.6 158.4h2.6v2.6h-2.6zM176.0 153.7h2.6v2.6h-2.6zM178.9 163.1h2.6v2.6h-2.6zM183.8 160.4h2.6v2.6h-2.6zM184.4 161.9h2.6v2.6h-2.6zM186.2 155.5h2.6v2.6h-2.6zM178.6 154.0h2.6v2.6h-2.6zM175.1 157.1h2.6v2.6h-2.6zM182.0 154.9h2.6v2.6h-2.6zM176.4 160.2h2.6v2.6h-2.6zM175.5 161.0h2.6v2.6h-2.6zM179.1 156.7h2.6v2.6h-2.6zM175.6 151.8h2.6v2.6h-2.6zM180.4 158.8h2.6v2.6h-2.6zM181.9 151.0h2.6v2.6h-2.6zM178.4 165.1h2.6v2.6h-2.6zM171.4 159.5h2.6v2.6h-2.6zM177.8 154.2h2.6v2.6h-2.6zM171.9 159.7h2.6v2.6h-2.6zM182.0 157.5h2.6v2.6h-2.6zM175.8 154.4h2.6v2.6h-2.6zM173.3 150.7h2.6v2.6h-2.6zM183.4 154.5h2.6v2.6h-2.6zM184.8 152.5h2.6v2.6h-2.6zM181.9 150.7h2.6v2.6h-2.6zM171.8 158.4h2.6v2.6h-2.6zM186.9 156.8h2.6v2.6h-2.6zM174.2 163.9h2.6v2.6h-2.6zM181.3 165.5h2.6v2.6h-2.6zM183.9 167.0h2.6v2.6h-2.6zM176.0 153.0h2.6v2.6h-2.6zM183.5 167.2h2.6v2.6h-2.6zM176.3 163.2h2.6v2.6h-2.6zM176.0 156.4h2.6v2.6h-2.6zM175.4 157.4h2.6v2.6h-2.6zM184.0 159.2h2.6v2.6h-2.6zM180.0 166.8h2.6v2.6h-2.6zM172.9 152.3h2.6v2.6h-2.6zM184.6 153.0h2.6v2.6h-2.6zM174.5 159.8h2.6v2.6h-2.6zM180.6 159.6h2.6v2.6h-2.6zM181.2 158.9h2.6v2.6h-2.6zM175.7 150.5h2.6v2.6h-2.6zM172.4 162.6h2.6v2.6h-2.6zM184.2 155.9h2.6v2.6h-2.6zM177.9 158.4h2.6v2.6h-2.6zM184.3 154.3h2.6v2.6h-2.6zM183.7 167.2h2.6v2.6h-2.6zM186.1 161.0h2.6v2.6h-2.6zM181.6 158.9h2.6v2.6h-2.6zM174.7 153.6h2.6v2.6h-2.6zM186.1 155.9h2.6v2.6h-2.6zM179.8 159.3h2.6v2.6h-2.6zM185.1 158.5h2.6v2.6h-2.6zM177.1 165.1h2.6v2.6h-2.6zM174.6 163.4h2.6v2.6h-2.6zM177.2 163.6h2.6v2.6h-2.6zM175.8 157.0h2.6v2.6h-2.6zM173.9 159.2h2.6v2.6h-2.6zM173.5 155.9h2.6v2.6h-2.6zM182.8 154.6h2.6v2.6h-2.6zM184.2 158.2h2.6v2.6h-2.6zM176.8 159.2h2.6v2.6h-2.6zM174.3 160.2h2.6v2.6h-2.6zM180.8 162.7h2.6v2.6h-2.6zM180.5 157.9h2.6v2.6h-2.6zM180.0 156.5h2.6v2.6h-2.6zM176.9 162.6h2.6v2.6h-2.6zM180.1 157.2h2.6v2.6h-2.6zM187.3 159.8h2.6v2.6h-2.6zM187.7 160.7h2.6v2.6h-2.6zM174.7 154.5h2.6v2.6h-2.6zM172.3 163.7h2.6v2.6h-2.6zM175.5 158.6h2.6v2.6h-2.6zM178.1 158.6h2.6v2.6h-2.6zM174.4 156.4h2.6v2.6h-2.6zM184.2 159.3h2.6v2.6h-2.6zM184.1 152.8h2.6v2.6h-2.6zM187.5 155.3h2.6v2.6h-2.6zM181.5 163.7h2.6v2.6h-2.6zM176.8 157.0h2.6v2.6h-2.6zM182.3 161.9h2.6v2.6h-2.6zM173.8 158.6h2.6v2.6h-2.6zM180.6 156.4h2.6v2.6h-2.6zM174.7 152.4h2.6v2.6h-2.6zM185.2 161.1h2.6v2.6h-2.6zM179.4 160.4h2.6v2.6h-2.6zM181.9 161.1h2.6v2.6h-2.6zM181.0 154.5h2.6v2.6h-2.6zM179.8 159.3h2.6v2.6h-2.6zM175.5 154.3h2.6v2.6h-2.6zM182.4 164.5h2.6v2.6h-2.6zM182.5 157.9h2.6v2.6h-2.6zM181.8 164.1h2.6v2.6h-2.6zM175.4 158.5h2.6v2.6h-2.6zM184.9 154.1h2.6v2.6h-2.6zM173.9 164.3h2.6v2.6h-2.6zM171.2 164.6h2.6v2.6h-2.6zM179.8 154.3h2.6v2.6h-2.6zM181.7 160.7h2.6v2.6h-2.6zM181.9 166.6h2.6v2.6h-2.6zM174.7 161.6h2.6v2.6h-2.6zM184.8 161.9h2.6v2.6h-2.6zM176.1 161.5h2.6v2.6h-2.6zM178.3 164.2h2.6v2.6h-2.6zM186.1 159.2h2.6v2.6h-2.6zM178.7 161.5h2.6v2.6h-2.6zM179.7 153.0h2.6v2.6h-2.6zM177.2 164.0h2.6v2.6h-2.6zM175.6 162.1h2.6v2.6h-2.6zM180.6 151.6h2.6v2.6h-2.6zM181.0 153.4h2.6v2.6h-2.6zM181.9 160.7h2.6v2.6h-2.6zM177.0 164.9h2.6v2.6h-2.6zM175.6 161.8h2.6v2.6h-2.6zM181.5 154.0h2.6v2.6h-2.6zM179.4 161.3h2.6v2.6h-2.6zM182.2 151.7h2.6v2.6h-2.6zM176.2 162.6h2.6v2.6h-2.6zM179.3 152.2h2.6v2.6h-2.6zM180.4 160.5h2.6v2.6h-2.6zM186.8 149.8h2.6v2.6h-2.6zM183.0 165.0h2.6v2.6h-2.6zM179.3 151.2h2.6v2.6h-2.6zM179.1 164.7h2.6v2.6h-2.6zM172.9 165.3h2.6v2.6h-2.6zM210.3 153.2h2.6v2.6h-2.6zM214.0 162.4h2.6v2.6h-2.6zM213.6 157.5h2.6v2.6h-2.6zM209.9 155.8h2.6v2.6h-2.6zM215.9 160.7h2.6v2.6h-2.6zM215.0 158.3h2.6v2.6h-2.6zM214.7 152.1h2.6v2.6h-2.6zM215.8 152.3h2.6v2.6h-2.6zM212.3 151.0h2.6v2.6h-2.6zM215.6 165.1h2.6v2.6h-2.6zM211.9 155.0h2.6v2.6h-2.6zM214.8 163.3h2.6v2.6h-2.6zM218.9 163.7h2.6v2.6h-2.6zM218.8 162.3h2.6v2.6h-2.6zM217.1 162.0h2.6v2.6h-2.6zM211.9 161.4h2.6v2.6h-2.6zM213.9 156.9h2.6v2.6h-2.6zM210.8 160.6h2.6v2.6h-2.6zM218.7 160.0h2.6v2.6h-2.6zM214.9 164.5h2.6v2.6h-2.6zM214.3 165.9h2.6v2.6h-2.6zM212.0 152.5h2.6v2.6h-2.6zM216.9 164.7h2.6v2.6h-2.6zM213.7 155.4h2.6v2.6h-2.6zM211.6 154.2h2.6v2.6h-2.6zM217.9 158.4h2.6v2.6h-2.6zM213.7 158.4h2.6v2.6h-2.6zM215.9 160.8h2.6v2.6h-2.6zM211.7 154.7h2.6v2.6h-2.6zM214.2 152.7h2.6v2.6h-2.6zM211.8 160.3h2.6v2.6h-2.6zM210.9 162.7h2.6v2.6h-2.6zM214.1 161.4h2.6v2.6h-2.6zM210.1 159.3h2.6v2.6h-2.6zM210.0 162.3h2.6v2.6h-2.6zM211.3 155.1h2.6v2.6h-2.6zM214.9 164.7h2.6v2.6h-2.6zM212.6 157.5h2.6v2.6h-2.6zM210.0 160.8h2.6v2.6h-2.6zM214.8 161.8h2.6v2.6h-2.6zM214.4 157.0h2.6v2.6h-2.6zM212.1 158.7h2.6v2.6h-2.6zM217.1 166.1h2.6v2.6h-2.6zM213.4 158.7h2.6v2.6h-2.6zM212.4 164.6h2.6v2.6h-2.6zM212.4 156.7h2.6v2.6h-2.6zM213.8 152.0h2.6v2.6h-2.6zM217.9 161.6h2.6v2.6h-2.6zM214.2 160.1h2.6v2.6h-2.6zM213.4 161.4h2.6v2.6h-2.6zM213.1 155.2h2.6v2.6h-2.6zM212.7 158.1h2.6v2.6h-2.6zM212.9 156.4h2.6v2.6h-2.6zM213.0 155.1h2.6v2.6h-2.6zM214.5 156.2h2.6v2.6h-2.6zM216.9 155.2h2.6v2.6h-2.6zM213.3 155.4h2.6v2.6h-2.6zM214.9 165.1h2.6v2.6h-2.6zM210.4 162.1h2.6v2.6h-2.6zM214.7 153.0h2.6v2.6h-2.6zM212.6 158.2h2.6v2.6h-2.6zM214.0 159.0h2.6v2.6h-2.6zM212.6 161.9h2.6v2.6h-2.6zM212.8 165.4h2.6v2.6h-2.6zM216.4 152.7h2.6v2.6h-2.6zM213.6 157.2h2.6v2.6h-2.6zM215.5 159.8h2.6v2.6h-2.6zM213.8 160.0h2.6v2.6h-2.6zM215.2 166.4h2.6v2.6h-2.6zM210.7 159.7h2.6v2.6h-2.6zM218.3 164.3h2.6v2.6h-2.6zM215.8 160.9h2.6v2.6h-2.6zM212.3 159.1h2.6v2.6h-2.6zM213.9 165.0h2.6v2.6h-2.6zM214.3 166.0h2.6v2.6h-2.6zM216.3 162.2h2.6v2.6h-2.6zM215.7 153.2h2.6v2.6h-2.6zM211.4 163.3h2.6v2.6h-2.6zM215.5 158.9h2.6v2.6h-2.6zM214.2 154.8h2.6v2.6h-2.6zM212.8 157.3h2.6v2.6h-2.6zM216.2 165.0h2.6v2.6h-2.6zM214.7 158.2h2.6v2.6h-2.6zM211.3 153.6h2.6v2.6h-2.6zM209.4 160.4h2.6v2.6h-2.6zM213.2 149.9h2.6v2.6h-2.6zM213.8 160.6h2.6v2.6h-2.6zM214.6 156.3h2.6v2.6h-2.6zM215.8 159.1h2.6v2.6h-2.6zM213.3 156.5h2.6v2.6h-2.6zM215.6 163.7h2.6v2.6h-2.6zM218.7 161.6h2.6v2.6h-2.6zM212.6 159.8h2.6v2.6h-2.6zM214.7 153.7h2.6v2.6h-2.6zM210.4 163.2h2.6v2.6h-2.6zM212.5 162.9h2.6v2.6h-2.6zM213.8 150.9h2.6v2.6h-2.6zM213.0 155.3h2.6v2.6h-2.6zM217.9 160.5h2.6v2.6h-2.6zM212.7 156.6h2.6v2.6h-2.6zM211.3 157.8h2.6v2.6h-2.6zM212.9 154.9h2.6v2.6h-2.6zM217.4 160.5h2.6v2.6h-2.6zM212.7 153.5h2.6v2.6h-2.6zM210.8 158.7h2.6v2.6h-2.6zM216.8 155.0h2.6v2.6h-2.6zM215.7 158.0h2.6v2.6h-2.6zM214.0 152.0h2.6v2.6h-2.6zM212.6 156.7h2.6v2.6h-2.6zM210.0 160.8h2.6v2.6h-2.6zM216.0 162.4h2.6v2.6h-2.6zM218.9 161.5h2.6v2.6h-2.6zM215.9 164.9h2.6v2.6h-2.6zM216.1 162.0h2.6v2.6h-2.6zM213.6 161.5h2.6v2.6h-2.6zM215.3 158.8h2.6v2.6h-2.6zM214.7 154.5h2.6v2.6h-2.6zM187.3 161.9h2.6v2.6h-2.6zM178.9 157.8h2.6v2.6h-2.6zM175.2 156.5h2.6v2.6h-2.6zM185.0 160.9h2.6v2.6h-2.6zM172.3 158.2h2.6v2.6h-2.6zM186.3 152.1h2.6v2.6h-2.6zM181.0 167.6h2.6v2.6h-2.6zM178.2 164.4h2.6v2.6h-2.6zM182.9 155.7h2.6v2.6h-2.6zM181.9 163.7h2.6v2.6h-2.6zM173.8 163.7h2.6v2.6h-2.6zM179.5 152.0h2.6v2.6h-2.6zM172.0 161.0h2.6v2.6h-2.6zM177.0 161.2h2.6v2.6h-2.6zM179.7 150.9h2.6v2.6h-2.6zM173.4 152.4h2.6v2.6h-2.6zM176.0 165.2h2.6v2.6h-2.6zM175.2 150.3h2.6v2.6h-2.6zM182.8 162.4h2.6v2.6h-2.6zM185.5 162.3h2.6v2.6h-2.6zM185.3 158.9h2.6v2.6h-2.6zM183.7 158.4h2.6v2.6h-2.6zM173.5 165.5h2.6v2.6h-2.6zM175.7 153.6h2.6v2.6h-2.6zM174.3 165.4h2.6v2.6h-2.6zM175.0 152.8h2.6v2.6h-2.6zM186.8 153.0h2.6v2.6h-2.6zM178.3 156.1h2.6v2.6h-2.6zM180.8 167.0h2.6v2.6h-2.6zM187.7 161.2h2.6v2.6h-2.6zM179.4 157.0h2.6v2.6h-2.6zM174.2 153.5h2.6v2.6h-2.6zM178.0 156.1h2.6v2.6h-2.6zM185.8 153.2h2.6v2.6h-2.6zM173.7 152.4h2.6v2.6h-2.6zM173.1 158.9h2.6v2.6h-2.6zM173.4 159.5h2.6v2.6h-2.6zM183.7 164.4h2.6v2.6h-2.6zM176.2 166.1h2.6v2.6h-2.6z"/>
<defs><radialGradient id="g3"><stop offset="0" stop-color="#e2e2e2"/><stop offset="0.55" stop-color="#a6a6a6"/><stop offset="1" stop-color="#585858" stop-opacity="0"/></radialGradient></defs>
<ellipse cx="178.0" cy="160.5" rx="10.0" ry="8.2" transform="rotate(0 178.0 160.5)" fill="url(#g3)"/>
<ellipse cx="217.0" cy="161.0" rx="6.0" ry="7.0" transform="rotate(0 217.0 161.0)" fill="#585858"/>
<path fill="#6c6c6c" d="M219.8 156.3h1.7v1.7h-1.7zM218.0 164.0h1.7v1.7h-1.7zM216.8 155.9h1.7v1.7h-1.7zM216.2 166.5h1.7v1.7h-1.7zM216.6 159.9h1.7v1.7h-1.7zM217.3 159.5h1.7v1.7h-1.7zM219.2 158.3h1.7v1.7h-1.7zM216.7 166.3h1.7v1.7h-1.7zM217.6 155.2h1.7v1.7h-1.7zM213.5 158.3h1.7v1.7h-1.7zM213.6 157.0h1.7v1.7h-1.7zM213.9 158.6h1.7v1.7h-1.7zM213.1 164.4h1.7v1.7h-1.7zM215.0 162.8h1.7v1.7h-1.7zM217.3 163.3h1.7v1.7h-1.7zM217.6 157.7h1.7v1.7h-1.7zM219.2 162.5h1.7v1.7h-1.7zM218.6 154.7h1.7v1.7h-1.7z"/>
<path fill="#3e3e3e" d="M216.5 159.3h1.7v1.7h-1.7zM212.8 159.8h1.7v1.7h-1.7zM218.2 160.0h1.7v1.7h-1.7zM213.3 154.8h1.7v1.7h-1.7zM213.3 154.7h1.7v1.7h-1.7zM219.7 158.5h1.7v1.7h-1.7zM213.3 158.4h1.7v1.7h-1.7zM220.0 160.0h1.7v1.7h-1.7zM221.2 160.0h1.7v1.7h-1.7zM212.7 163.3h1.7v1.7h-1.7zM216.7 164.2h1.7v1.7h-1.7zM218.1 158.4h1.7v1.7h-1.7zM217.3 162.6h1.7v1.7h-1.7zM213.4 154.6h1.7v1.7h-1.7zM214.9 166.4h1.7v1.7h-1.7zM214.6 164.2h1.7v1.7h-1.7zM221.1 158.2h1.7v1.7h-1.7zM212.5 162.6h1.7v1.7h-1.7zM218.5 154.7h1.7v1.7h-1.7z"/>
<defs><radialGradient id="g4"><stop offset="0" stop-color="#cccccc"/><stop offset="0.55" stop-color="#949494"/><stop offset="1" stop-color="#585858" stop-opacity="0"/></radialGradient></defs>
<ellipse cx="217.0" cy="161.0" rx="6.4" ry="8.0" transform="rotate(0 217.0 161.0)" fill="url(#g4)"/>
</g>
<path d="M170.8 62.2V171.4H251.3" fill="none" stroke="#000" stroke-width="2.7" stroke-linejoin="miter"/>
<path d="M204.4 62.2V171.4" fill="none" stroke="#000" stroke-width="2.2"/>
<path d="M170.8 121.6H251.8" fill="none" stroke="#000" stroke-width="1.9"/>
<path d="M170.8 171.4h-4M170.8 163.2h-2.8M170.8 158.4h-2.8M170.8 155.0h-2.8M170.8 152.3h-2.8M170.8 150.2h-2.8M170.8 148.3h-2.8M170.8 146.7h-2.8M170.8 145.3h-2.8M170.8 144.1h-4M170.8 135.9h-2.8M170.8 131.1h-2.8M170.8 127.7h-2.8M170.8 125.0h-2.8M170.8 122.9h-2.8M170.8 121.0h-2.8M170.8 119.4h-2.8M170.8 118.0h-2.8M170.8 116.8h-4M170.8 108.6h-2.8M170.8 103.8h-2.8M170.8 100.4h-2.8M170.8 97.7h-2.8M170.8 95.6h-2.8M170.8 93.7h-2.8M170.8 92.1h-2.8M170.8 90.7h-2.8M170.8 89.5h-4M170.8 81.3h-2.8M170.8 76.5h-2.8M170.8 73.1h-2.8M170.8 70.4h-2.8M170.8 68.3h-2.8M170.8 66.4h-2.8M170.8 64.8h-2.8M170.8 63.4h-2.8M170.8 62.2h-4" fill="none" stroke="#000" stroke-width="1.5"/>
<path d="M170.8 171.4v4.6M178.5 171.4v3.4M183.1 171.4v3.4M186.3 171.4v3.4M188.8 171.4v3.4M190.8 171.4v3.4M192.5 171.4v3.4M194.0 171.4v3.4M195.3 171.4v3.4M196.5 171.4v4.6M204.2 171.4v3.4M208.8 171.4v3.4M212.0 171.4v3.4M214.5 171.4v3.4M216.5 171.4v3.4M218.2 171.4v3.4M219.7 171.4v3.4M221.0 171.4v3.4M222.2 171.4v4.6M229.9 171.4v3.4M234.5 171.4v3.4M237.7 171.4v3.4M240.2 171.4v3.4M242.2 171.4v3.4M243.9 171.4v3.4M245.4 171.4v3.4M246.7 171.4v3.4M247.9 171.4v4.6" fill="none" stroke="#000" stroke-width="1.5"/>
<text x="168.8" y="180.0" font-size="3.5" text-anchor="middle" fill="#999">10<tspan dy="-1" font-size="2.5">0</tspan></text>
<text x="194.5" y="180.0" font-size="3.5" text-anchor="middle" fill="#999">10<tspan dy="-1" font-size="2.5">1</tspan></text>
<text x="220.2" y="180.0" font-size="3.5" text-anchor="middle" fill="#999">10<tspan dy="-1" font-size="2.5">2</tspan></text>
<text x="245.9" y="180.0" font-size="3.5" text-anchor="middle" fill="#999">10<tspan dy="-1" font-size="2.5">3</tspan></text>
<text x="182.3" y="74.3" font-size="14" font-weight="bold">16</text>
<text x="238.5" y="165.5" font-size="14" font-weight="bold">27</text>
<clipPath id="c3"><rect x="269.3" y="59.7" width="81.0" height="112.2"/></clipPath><g clip-path="url(#c3)">
<rect x="266.0" y="91.5" width="38.0" height="17.5" rx="6.0" fill="#585858"/>
<path fill="#6c6c6c" d="M297.7 99.1h1.7v1.7h-1.7zM300.2 105.4h1.7v1.7h-1.7zM273.9 101.1h1.7v1.7h-1.7zM298.2 106.4h1.7v1.7h-1.7zM280.3 99.6h1.7v1.7h-1.7zM270.4 95.3h1.7v1.7h-1.7zM288.5 99.8h1.7v1.7h-1.7zM283.4 97.6h1.7v1.7h-1.7zM301.3 100.3h1.7v1.7h-1.7zM268.7 102.2h1.7v1.7h-1.7zM277.0 98.5h1.7v1.7h-1.7zM283.6 93.7h1.7v1.7h-1.7zM290.9 101.3h1.7v1.7h-1.7zM270.7 96.4h1.7v1.7h-1.7zM290.4 97.5h1.7v1.7h-1.7zM300.0 102.1h1.7v1.7h-1.7zM293.8 99.1h1.7v1.7h-1.7zM275.0 96.3h1.7v1.7h-1.7zM270.9 97.0h1.7v1.7h-1.7zM275.1 105.8h1.7v1.7h-1.7zM279.6 100.7h1.7v1.7h-1.7zM278.4 106.1h1.7v1.7h-1.7zM286.4 92.6h1.7v1.7h-1.7zM296.2 93.2h1.7v1.7h-1.7zM299.5 103.6h1.7v1.7h-1.7zM280.0 100.3h1.7v1.7h-1.7zM281.5 100.6h1.7v1.7h-1.7zM281.1 105.5h1.7v1.7h-1.7zM292.5 106.5h1.7v1.7h-1.7zM281.4 101.5h1.7v1.7h-1.7zM269.3 97.9h1.7v1.7h-1.7zM278.3 97.9h1.7v1.7h-1.7zM273.3 101.4h1.7v1.7h-1.7zM289.3 97.9h1.7v1.7h-1.7zM292.8 105.8h1.7v1.7h-1.7zM283.5 97.6h1.7v1.7h-1.7zM278.7 95.4h1.7v1.7h-1.7zM300.2 98.0h1.7v1.7h-1.7zM301.4 106.5h1.7v1.7h-1.7zM296.3 99.3h1.7v1.7h-1.7zM299.9 98.0h1.7v1.7h-1.7zM297.9 101.1h1.7v1.7h-1.7zM288.3 103.5h1.7v1.7h-1.7zM287.4 97.4h1.7v1.7h-1.7zM298.7 103.6h1.7v1.7h-1.7zM279.1 92.4h1.7v1.7h-1.7zM288.8 96.0h1.7v1.7h-1.7zM287.9 98.3h1.7v1.7h-1.7zM290.5 104.2h1.7v1.7h-1.7zM281.8 102.7h1.7v1.7h-1.7zM277.3 106.0h1.7v1.7h-1.7zM293.3 106.3h1.7v1.7h-1.7zM271.0 95.8h1.7v1.7h-1.7zM271.7 96.4h1.7v1.7h-1.7zM298.1 103.6h1.7v1.7h-1.7zM289.6 98.3h1.7v1.7h-1.7zM290.7 99.6h1.7v1.7h-1.7zM283.3 98.0h1.7v1.7h-1.7zM279.8 98.5h1.7v1.7h-1.7zM268.7 105.7h1.7v1.7h-1.7zM274.8 99.7h1.7v1.7h-1.7zM291.1 102.1h1.7v1.7h-1.7zM291.5 98.7h1.7v1.7h-1.7zM286.7 103.5h1.7v1.7h-1.7zM274.5 104.4h1.7v1.7h-1.7zM275.9 94.0h1.7v1.7h-1.7zM292.5 98.5h1.7v1.7h-1.7zM291.8 103.4h1.7v1.7h-1.7zM288.7 99.7h1.7v1.7h-1.7zM297.9 92.6h1.7v1.7h-1.7zM286.0 105.3h1.7v1.7h-1.7zM276.5 105.5h1.7v1.7h-1.7zM270.2 102.9h1.7v1.7h-1.7zM293.4 101.6h1.7v1.7h-1.7zM288.0 96.7h1.7v1.7h-1.7zM292.5 99.9h1.7v1.7h-1.7zM279.6 92.6h1.7v1.7h-1.7zM269.3 98.2h1.7v1.7h-1.7zM287.6 99.6h1.7v1.7h-1.7zM267.3 106.2h1.7v1.7h-1.7zM278.8 105.6h1.7v1.7h-1.7zM295.0 102.6h1.7v1.7h-1.7zM299.2 104.8h1.7v1.7h-1.7zM289.1 95.8h1.7v1.7h-1.7zM271.0 100.2h1.7v1.7h-1.7zM301.2 104.8h1.7v1.7h-1.7zM291.9 94.4h1.7v1.7h-1.7zM273.0 100.2h1.7v1.7h-1.7zM285.0 101.5h1.7v1.7h-1.7zM292.8 92.5h1.7v1.7h-1.7zM296.4 96.2h1.7v1.7h-1.7z"/>
<path fill="#3e3e3e" d="M298.5 97.4h1.7v1.7h-1.7zM292.3 104.3h1.7v1.7h-1.7zM276.3 102.6h1.7v1.7h-1.7zM273.4 106.2h1.7v1.7h-1.7zM298.7 94.7h1.7v1.7h-1.7zM283.4 101.2h1.7v1.7h-1.7zM276.5 93.9h1.7v1.7h-1.7zM298.4 100.6h1.7v1.7h-1.7zM299.0 106.0h1.7v1.7h-1.7zM275.9 99.4h1.7v1.7h-1.7zM295.4 105.1h1.7v1.7h-1.7zM298.3 93.3h1.7v1.7h-1.7zM300.7 102.8h1.7v1.7h-1.7zM287.0 93.8h1.7v1.7h-1.7zM267.9 102.3h1.7v1.7h-1.7zM271.0 101.8h1.7v1.7h-1.7zM276.5 93.1h1.7v1.7h-1.7zM277.8 92.5h1.7v1.7h-1.7zM289.6 100.2h1.7v1.7h-1.7zM279.9 96.8h1.7v1.7h-1.7zM293.4 93.7h1.7v1.7h-1.7zM278.6 102.1h1.7v1.7h-1.7zM269.5 92.4h1.7v1.7h-1.7zM275.5 104.8h1.7v1.7h-1.7zM283.7 105.4h1.7v1.7h-1.7zM289.1 96.6h1.7v1.7h-1.7zM279.8 95.0h1.7v1.7h-1.7zM287.2 99.2h1.7v1.7h-1.7zM279.6 106.0h1.7v1.7h-1.7zM287.9 92.3h1.7v1.7h-1.7zM269.6 97.2h1.7v1.7h-1.7zM277.4 93.6h1.7v1.7h-1.7zM289.6 99.0h1.7v1.7h-1.7zM289.7 102.3h1.7v1.7h-1.7zM300.7 100.1h1.7v1.7h-1.7zM266.9 95.0h1.7v1.7h-1.7zM301.2 97.9h1.7v1.7h-1.7zM271.8 96.0h1.7v1.7h-1.7zM279.3 100.0h1.7v1.7h-1.7zM300.4 94.3h1.7v1.7h-1.7zM290.2 106.6h1.7v1.7h-1.7zM280.7 95.8h1.7v1.7h-1.7zM279.4 93.9h1.7v1.7h-1.7zM273.8 94.1h1.7v1.7h-1.7zM276.0 106.4h1.7v1.7h-1.7zM274.7 99.9h1.7v1.7h-1.7zM277.2 102.9h1.7v1.7h-1.7zM294.8 104.7h1.7v1.7h-1.7zM287.3 99.3h1.7v1.7h-1.7zM282.1 98.5h1.7v1.7h-1.7zM291.4 93.8h1.7v1.7h-1.7zM275.8 95.4h1.7v1.7h-1.7zM285.3 106.0h1.7v1.7h-1.7zM293.5 92.7h1.7v1.7h-1.7zM275.0 96.2h1.7v1.7h-1.7zM288.3 93.2h1.7v1.7h-1.7zM271.3 92.5h1.7v1.7h-1.7zM291.2 96.6h1.7v1.7h-1.7zM285.8 104.9h1.7v1.7h-1.7zM288.7 102.7h1.7v1.7h-1.7zM279.8 104.3h1.7v1.7h-1.7zM298.6 101.4h1.7v1.7h-1.7zM288.6 100.9h1.7v1.7h-1.7zM283.8 94.0h1.7v1.7h-1.7zM289.5 106.4h1.7v1.7h-1.7zM268.5 95.5h1.7v1.7h-1.7zM271.5 101.2h1.7v1.7h-1.7zM273.9 100.1h1.7v1.7h-1.7zM290.2 92.2h1.7v1.7h-1.7zM298.9 95.0h1.7v1.7h-1.7zM293.0 97.4h1.7v1.7h-1.7zM279.9 98.2h1.7v1.7h-1.7zM294.6 103.6h1.7v1.7h-1.7zM287.5 99.4h1.7v1.7h-1.7zM290.7 97.8h1.7v1.7h-1.7z"/>
<path fill="#2b2b2b" d="M272.3 112.7h2.6v2.6h-2.6zM297.5 91.3h2.6v2.6h-2.6zM282.1 89.7h2.6v2.6h-2.6zM282.0 113.0h2.6v2.6h-2.6zM286.3 109.1h2.6v2.6h-2.6zM303.6 102.3h2.6v2.6h-2.6zM293.6 93.4h2.6v2.6h-2.6zM279.0 90.2h2.6v2.6h-2.6zM274.3 88.9h2.6v2.6h-2.6zM295.7 106.9h2.6v2.6h-2.6zM282.7 110.8h2.6v2.6h-2.6zM274.0 88.9h2.6v2.6h-2.6zM270.2 91.2h2.6v2.6h-2.6zM281.6 86.5h2.6v2.6h-2.6zM297.3 87.8h2.6v2.6h-2.6zM284.0 108.9h2.6v2.6h-2.6zM293.6 91.4h2.6v2.6h-2.6zM283.0 114.2h2.6v2.6h-2.6zM296.8 90.2h2.6v2.6h-2.6zM293.3 85.7h2.6v2.6h-2.6zM293.9 86.3h2.6v2.6h-2.6zM296.7 92.9h2.6v2.6h-2.6zM294.7 87.7h2.6v2.6h-2.6zM284.9 89.9h2.6v2.6h-2.6zM291.0 86.8h2.6v2.6h-2.6zM284.1 83.6h2.6v2.6h-2.6zM270.6 90.2h2.6v2.6h-2.6zM289.7 91.5h2.6v2.6h-2.6zM271.0 91.6h2.6v2.6h-2.6zM293.0 93.9h2.6v2.6h-2.6zM301.0 92.4h2.6v2.6h-2.6zM287.8 85.8h2.6v2.6h-2.6zM289.8 87.3h2.6v2.6h-2.6zM287.9 109.1h2.6v2.6h-2.6zM272.3 87.7h2.6v2.6h-2.6zM303.6 100.0h2.6v2.6h-2.6zM281.0 110.2h2.6v2.6h-2.6zM295.9 108.5h2.6v2.6h-2.6zM302.6 106.3h2.6v2.6h-2.6zM308.7 164.4h2.6v2.6h-2.6zM313.1 167.6h2.6v2.6h-2.6zM309.0 158.8h2.6v2.6h-2.6zM340.2 147.9h2.6v2.6h-2.6zM310.2 148.1h2.6v2.6h-2.6zM338.0 134.6h2.6v2.6h-2.6zM310.5 147.7h2.6v2.6h-2.6zM332.3 164.0h2.6v2.6h-2.6zM331.0 136.4h2.6v2.6h-2.6zM327.2 137.1h2.6v2.6h-2.6zM324.5 131.5h2.6v2.6h-2.6zM308.8 154.9h2.6v2.6h-2.6zM311.9 138.3h2.6v2.6h-2.6zM333.7 165.8h2.6v2.6h-2.6zM330.4 123.2h2.6v2.6h-2.6zM308.8 144.5h2.6v2.6h-2.6zM335.5 142.6h2.6v2.6h-2.6zM336.1 154.0h2.6v2.6h-2.6zM321.7 134.3h2.6v2.6h-2.6zM339.2 147.0h2.6v2.6h-2.6zM315.2 139.1h2.6v2.6h-2.6zM320.3 166.8h2.6v2.6h-2.6zM313.2 140.2h2.6v2.6h-2.6zM314.1 159.2h2.6v2.6h-2.6zM330.1 165.7h2.6v2.6h-2.6zM319.6 167.4h2.6v2.6h-2.6zM326.2 132.2h2.6v2.6h-2.6zM325.2 128.8h2.6v2.6h-2.6zM335.4 157.1h2.6v2.6h-2.6zM336.1 137.2h2.6v2.6h-2.6zM316.8 168.2h2.6v2.6h-2.6zM337.2 167.0h2.6v2.6h-2.6zM326.1 130.1h2.6v2.6h-2.6zM334.9 148.2h2.6v2.6h-2.6zM305.6 144.4h2.6v2.6h-2.6zM337.2 159.0h2.6v2.6h-2.6zM314.9 161.0h2.6v2.6h-2.6zM330.0 165.8h2.6v2.6h-2.6zM328.6 135.1h2.6v2.6h-2.6zM306.4 144.4h2.6v2.6h-2.6zM315.8 127.8h2.6v2.6h-2.6zM315.3 167.9h2.6v2.6h-2.6zM312.0 165.5h2.6v2.6h-2.6zM310.3 155.6h2.6v2.6h-2.6zM332.4 139.6h2.6v2.6h-2.6zM281.7 136.4h2.6v2.6h-2.6zM271.8 154.5h2.6v2.6h-2.6zM300.6 129.2h2.6v2.6h-2.6zM293.8 163.6h2.6v2.6h-2.6zM273.4 144.5h2.6v2.6h-2.6zM300.5 155.5h2.6v2.6h-2.6zM284.9 130.1h2.6v2.6h-2.6zM284.3 141.4h2.6v2.6h-2.6zM292.5 150.4h2.6v2.6h-2.6zM288.1 139.3h2.6v2.6h-2.6zM281.3 132.0h2.6v2.6h-2.6zM276.0 164.8h2.6v2.6h-2.6zM287.2 147.1h2.6v2.6h-2.6zM300.3 152.2h2.6v2.6h-2.6zM297.7 149.4h2.6v2.6h-2.6zM278.8 142.0h2.6v2.6h-2.6zM271.9 160.3h2.6v2.6h-2.6zM298.1 134.8h2.6v2.6h-2.6zM287.0 164.3h2.6v2.6h-2.6zM271.2 156.0h2.6v2.6h-2.6zM278.6 127.3h2.6v2.6h-2.6zM295.4 156.6h2.6v2.6h-2.6zM271.1 142.9h2.6v2.6h-2.6zM282.6 163.4h2.6v2.6h-2.6zM272.1 140.5h2.6v2.6h-2.6zM297.5 160.4h2.6v2.6h-2.6zM271.6 128.0h2.6v2.6h-2.6zM299.6 151.2h2.6v2.6h-2.6zM287.3 130.0h2.6v2.6h-2.6zM283.0 164.5h2.6v2.6h-2.6zM280.6 137.6h2.6v2.6h-2.6zM292.0 160.5h2.6v2.6h-2.6zM286.8 158.9h2.6v2.6h-2.6zM281.2 137.1h2.6v2.6h-2.6zM286.1 142.0h2.6v2.6h-2.6zM286.4 168.4h2.6v2.6h-2.6zM278.9 146.3h2.6v2.6h-2.6zM297.7 129.4h2.6v2.6h-2.6zM293.9 163.9h2.6v2.6h-2.6zM282.4 157.2h2.6v2.6h-2.6zM288.9 158.0h2.6v2.6h-2.6zM285.8 131.8h2.6v2.6h-2.6zM295.9 147.5h2.6v2.6h-2.6zM279.7 137.7h2.6v2.6h-2.6zM283.3 157.2h2.6v2.6h-2.6zM289.9 134.3h2.6v2.6h-2.6zM280.7 167.4h2.6v2.6h-2.6zM298.3 135.0h2.6v2.6h-2.6zM286.3 153.2h2.6v2.6h-2.6zM281.0 146.1h2.6v2.6h-2.6zM298.9 167.0h2.6v2.6h-2.6zM289.4 156.5h2.6v2.6h-2.6zM297.0 145.0h2.6v2.6h-2.6zM271.2 143.7h2.6v2.6h-2.6zM306.3 162.8h2.6v2.6h-2.6zM312.2 139.1h2.6v2.6h-2.6zM306.5 160.1h2.6v2.6h-2.6zM312.0 126.0h2.6v2.6h-2.6zM304.9 161.9h2.6v2.6h-2.6zM311.5 163.9h2.6v2.6h-2.6zM313.1 125.9h2.6v2.6h-2.6zM305.9 147.4h2.6v2.6h-2.6zM312.0 163.0h2.6v2.6h-2.6zM310.1 141.4h2.6v2.6h-2.6zM305.3 141.4h2.6v2.6h-2.6zM313.8 135.7h2.6v2.6h-2.6zM310.3 130.7h2.6v2.6h-2.6zM305.5 148.2h2.6v2.6h-2.6zM304.3 159.0h2.6v2.6h-2.6zM307.9 154.9h2.6v2.6h-2.6zM312.1 105.6h2.6v2.6h-2.6zM306.7 94.5h2.6v2.6h-2.6zM312.6 98.2h2.6v2.6h-2.6zM303.0 117.4h2.6v2.6h-2.6zM313.1 106.1h2.6v2.6h-2.6zM303.8 94.6h2.6v2.6h-2.6zM306.6 112.3h2.6v2.6h-2.6zM301.8 107.8h2.6v2.6h-2.6zM306.8 116.5h2.6v2.6h-2.6zM311.4 94.2h2.6v2.6h-2.6zM307.2 103.4h2.6v2.6h-2.6zM310.6 97.3h2.6v2.6h-2.6zM310.8 117.7h2.6v2.6h-2.6zM311.7 73.7h2.6v2.6h-2.6zM306.7 80.7h2.6v2.6h-2.6zM311.7 90.7h2.6v2.6h-2.6zM322.7 91.7h2.6v2.6h-2.6zM326.7 98.7h2.6v2.6h-2.6zM320.7 105.7h2.6v2.6h-2.6zM325.7 109.7h2.6v2.6h-2.6zM325.7 124.7h2.6v2.6h-2.6z"/>
<path fill="#444444" d="M280.7 106.9h2.6v2.6h-2.6zM284.0 94.4h2.6v2.6h-2.6zM290.1 106.2h2.6v2.6h-2.6zM285.3 93.7h2.6v2.6h-2.6zM302.0 96.9h2.6v2.6h-2.6zM302.7 99.0h2.6v2.6h-2.6zM301.1 104.3h2.6v2.6h-2.6zM287.4 93.9h2.6v2.6h-2.6zM269.1 97.4h2.6v2.6h-2.6zM281.7 106.0h2.6v2.6h-2.6zM297.0 96.8h2.6v2.6h-2.6zM292.2 96.9h2.6v2.6h-2.6zM270.5 95.2h2.6v2.6h-2.6zM300.3 104.8h2.6v2.6h-2.6zM294.7 102.5h2.6v2.6h-2.6zM300.0 95.7h2.6v2.6h-2.6zM287.2 93.4h2.6v2.6h-2.6zM270.0 103.9h2.6v2.6h-2.6zM296.4 105.1h2.6v2.6h-2.6zM275.3 91.6h2.6v2.6h-2.6zM298.3 103.5h2.6v2.6h-2.6zM302.9 105.1h2.6v2.6h-2.6zM293.2 102.1h2.6v2.6h-2.6zM296.0 104.8h2.6v2.6h-2.6zM276.6 107.7h2.6v2.6h-2.6zM300.7 99.0h2.6v2.6h-2.6zM270.3 102.3h2.6v2.6h-2.6zM287.1 90.5h2.6v2.6h-2.6zM271.3 105.3h2.6v2.6h-2.6zM280.5 108.3h2.6v2.6h-2.6zM296.4 96.0h2.6v2.6h-2.6zM289.2 107.0h2.6v2.6h-2.6zM302.6 102.6h2.6v2.6h-2.6zM288.8 94.6h2.6v2.6h-2.6zM270.2 102.7h2.6v2.6h-2.6zM294.1 93.9h2.6v2.6h-2.6zM291.5 105.3h2.6v2.6h-2.6zM271.1 106.5h2.6v2.6h-2.6zM285.0 104.9h2.6v2.6h-2.6zM277.8 108.3h2.6v2.6h-2.6zM297.9 103.7h2.6v2.6h-2.6zM289.8 106.3h2.6v2.6h-2.6zM280.6 108.5h2.6v2.6h-2.6zM287.4 92.9h2.6v2.6h-2.6zM300.2 96.6h2.6v2.6h-2.6zM272.7 105.6h2.6v2.6h-2.6zM272.0 105.0h2.6v2.6h-2.6zM292.0 95.1h2.6v2.6h-2.6zM269.1 104.0h2.6v2.6h-2.6zM286.3 93.6h2.6v2.6h-2.6zM284.1 105.8h2.6v2.6h-2.6zM299.2 96.9h2.6v2.6h-2.6zM301.4 102.5h2.6v2.6h-2.6zM270.7 92.1h2.6v2.6h-2.6zM299.9 100.0h2.6v2.6h-2.6zM300.1 100.4h2.6v2.6h-2.6zM271.3 89.7h2.6v2.6h-2.6zM269.2 96.0h2.6v2.6h-2.6zM295.5 106.0h2.6v2.6h-2.6zM273.7 93.3h2.6v2.6h-2.6zM285.3 91.7h2.6v2.6h-2.6zM271.8 95.4h2.6v2.6h-2.6zM285.0 104.7h2.6v2.6h-2.6zM269.9 95.8h2.6v2.6h-2.6zM293.5 102.9h2.6v2.6h-2.6zM269.7 96.6h2.6v2.6h-2.6zM270.1 101.5h2.6v2.6h-2.6zM276.0 107.7h2.6v2.6h-2.6zM294.2 103.1h2.6v2.6h-2.6zM272.3 94.6h2.6v2.6h-2.6zM292.6 97.0h2.6v2.6h-2.6zM274.7 90.5h2.6v2.6h-2.6zM269.1 95.1h2.6v2.6h-2.6zM292.7 105.0h2.6v2.6h-2.6zM296.6 103.1h2.6v2.6h-2.6zM331.0 145.5h2.6v2.6h-2.6zM331.8 142.2h2.6v2.6h-2.6zM332.5 159.5h2.6v2.6h-2.6zM331.4 156.7h2.6v2.6h-2.6zM324.1 136.8h2.6v2.6h-2.6zM334.3 160.1h2.6v2.6h-2.6zM314.3 141.9h2.6v2.6h-2.6zM310.5 152.5h2.6v2.6h-2.6zM319.2 162.5h2.6v2.6h-2.6zM331.9 141.2h2.6v2.6h-2.6zM314.2 158.4h2.6v2.6h-2.6zM317.8 140.6h2.6v2.6h-2.6zM310.5 144.0h2.6v2.6h-2.6zM312.9 143.4h2.6v2.6h-2.6zM325.4 139.9h2.6v2.6h-2.6zM322.7 138.7h2.6v2.6h-2.6zM334.7 158.6h2.6v2.6h-2.6zM323.4 165.4h2.6v2.6h-2.6zM312.8 152.6h2.6v2.6h-2.6zM331.4 155.8h2.6v2.6h-2.6zM320.5 138.3h2.6v2.6h-2.6zM320.3 165.1h2.6v2.6h-2.6zM316.1 146.7h2.6v2.6h-2.6zM317.5 138.1h2.6v2.6h-2.6zM319.2 157.9h2.6v2.6h-2.6zM329.0 141.2h2.6v2.6h-2.6zM321.6 135.8h2.6v2.6h-2.6zM318.8 165.8h2.6v2.6h-2.6zM329.2 161.3h2.6v2.6h-2.6zM312.7 150.3h2.6v2.6h-2.6zM327.3 166.4h2.6v2.6h-2.6zM332.8 158.8h2.6v2.6h-2.6zM318.3 136.6h2.6v2.6h-2.6zM336.7 158.4h2.6v2.6h-2.6zM314.9 156.0h2.6v2.6h-2.6zM332.5 150.9h2.6v2.6h-2.6zM330.3 156.7h2.6v2.6h-2.6zM330.0 140.6h2.6v2.6h-2.6zM331.1 143.8h2.6v2.6h-2.6zM330.3 160.8h2.6v2.6h-2.6zM317.2 137.9h2.6v2.6h-2.6zM315.4 144.0h2.6v2.6h-2.6zM328.3 161.7h2.6v2.6h-2.6zM327.4 140.4h2.6v2.6h-2.6zM313.2 143.9h2.6v2.6h-2.6zM330.2 160.2h2.6v2.6h-2.6zM333.5 151.5h2.6v2.6h-2.6zM316.9 161.4h2.6v2.6h-2.6zM322.5 165.3h2.6v2.6h-2.6zM320.0 163.1h2.6v2.6h-2.6zM324.2 138.4h2.6v2.6h-2.6zM312.6 153.3h2.6v2.6h-2.6zM315.9 154.1h2.6v2.6h-2.6zM329.8 158.3h2.6v2.6h-2.6zM334.2 152.6h2.6v2.6h-2.6zM329.3 140.9h2.6v2.6h-2.6zM332.2 155.5h2.6v2.6h-2.6zM323.6 137.9h2.6v2.6h-2.6zM330.5 159.7h2.6v2.6h-2.6zM332.0 148.4h2.6v2.6h-2.6zM312.3 154.1h2.6v2.6h-2.6zM322.7 137.6h2.6v2.6h-2.6zM334.0 159.4h2.6v2.6h-2.6zM317.2 136.8h2.6v2.6h-2.6zM315.2 155.1h2.6v2.6h-2.6zM325.7 165.0h2.6v2.6h-2.6zM313.1 147.0h2.6v2.6h-2.6zM319.8 163.3h2.6v2.6h-2.6zM318.6 142.8h2.6v2.6h-2.6zM318.7 138.8h2.6v2.6h-2.6zM314.5 153.8h2.6v2.6h-2.6zM332.9 148.3h2.6v2.6h-2.6zM327.9 138.8h2.6v2.6h-2.6zM333.3 160.7h2.6v2.6h-2.6zM313.4 149.2h2.6v2.6h-2.6zM314.1 149.0h2.6v2.6h-2.6zM331.5 148.1h2.6v2.6h-2.6zM312.8 155.9h2.6v2.6h-2.6zM315.1 146.3h2.6v2.6h-2.6zM325.6 165.9h2.6v2.6h-2.6zM316.9 158.4h2.6v2.6h-2.6zM316.7 159.4h2.6v2.6h-2.6zM314.6 148.3h2.6v2.6h-2.6zM333.3 153.5h2.6v2.6h-2.6zM330.7 145.1h2.6v2.6h-2.6zM332.7 145.1h2.6v2.6h-2.6zM332.2 143.1h2.6v2.6h-2.6zM332.4 149.8h2.6v2.6h-2.6zM315.3 144.9h2.6v2.6h-2.6zM319.1 163.1h2.6v2.6h-2.6zM318.8 135.6h2.6v2.6h-2.6zM334.4 151.2h2.6v2.6h-2.6zM311.5 151.1h2.6v2.6h-2.6zM310.6 143.5h2.6v2.6h-2.6zM302.6 97.6h2.6v2.6h-2.6z"/>
<path fill="#525252" d="M272.1 99.8h2.6v2.6h-2.6zM271.3 100.7h2.6v2.6h-2.6zM276.7 106.3h2.6v2.6h-2.6zM285.6 104.5h2.6v2.6h-2.6zM275.5 102.9h2.6v2.6h-2.6zM278.9 100.9h2.6v2.6h-2.6zM280.8 97.4h2.6v2.6h-2.6zM295.6 97.8h2.6v2.6h-2.6zM295.3 96.8h2.6v2.6h-2.6zM293.1 97.4h2.6v2.6h-2.6zM282.9 97.0h2.6v2.6h-2.6zM280.2 97.2h2.6v2.6h-2.6zM272.0 101.4h2.6v2.6h-2.6zM287.2 97.0h2.6v2.6h-2.6zM272.1 95.7h2.6v2.6h-2.6zM279.8 100.2h2.6v2.6h-2.6zM291.2 100.9h2.6v2.6h-2.6zM279.5 103.8h2.6v2.6h-2.6zM289.2 98.5h2.6v2.6h-2.6zM274.5 98.8h2.6v2.6h-2.6zM275.8 98.2h2.6v2.6h-2.6zM277.0 101.4h2.6v2.6h-2.6zM287.5 97.3h2.6v2.6h-2.6zM282.1 97.3h2.6v2.6h-2.6zM274.5 93.2h2.6v2.6h-2.6zM277.5 98.2h2.6v2.6h-2.6zM292.7 100.1h2.6v2.6h-2.6zM287.1 96.6h2.6v2.6h-2.6zM275.0 100.1h2.6v2.6h-2.6zM290.5 99.4h2.6v2.6h-2.6zM275.3 104.8h2.6v2.6h-2.6zM283.9 100.1h2.6v2.6h-2.6zM280.1 104.4h2.6v2.6h-2.6zM289.1 95.7h2.6v2.6h-2.6zM286.4 102.8h2.6v2.6h-2.6zM285.0 99.5h2.6v2.6h-2.6zM279.9 103.4h2.6v2.6h-2.6zM289.6 101.8h2.6v2.6h-2.6zM287.1 96.4h2.6v2.6h-2.6zM287.0 101.7h2.6v2.6h-2.6zM284.2 98.3h2.6v2.6h-2.6zM288.6 101.5h2.6v2.6h-2.6zM289.5 96.6h2.6v2.6h-2.6zM298.8 99.3h2.6v2.6h-2.6zM275.5 102.9h2.6v2.6h-2.6zM278.5 103.8h2.6v2.6h-2.6zM276.2 102.9h2.6v2.6h-2.6zM276.6 100.4h2.6v2.6h-2.6zM277.2 93.1h2.6v2.6h-2.6zM276.4 98.6h2.6v2.6h-2.6zM275.0 93.4h2.6v2.6h-2.6zM286.9 96.0h2.6v2.6h-2.6zM274.2 105.2h2.6v2.6h-2.6zM273.3 98.0h2.6v2.6h-2.6zM283.2 102.4h2.6v2.6h-2.6zM279.3 98.7h2.6v2.6h-2.6zM274.8 101.0h2.6v2.6h-2.6zM288.5 104.1h2.6v2.6h-2.6zM273.7 102.6h2.6v2.6h-2.6zM276.0 100.0h2.6v2.6h-2.6zM279.4 97.7h2.6v2.6h-2.6zM277.8 104.0h2.6v2.6h-2.6zM279.1 103.6h2.6v2.6h-2.6zM296.0 102.6h2.6v2.6h-2.6zM278.3 94.1h2.6v2.6h-2.6zM279.8 99.0h2.6v2.6h-2.6zM279.0 98.4h2.6v2.6h-2.6zM286.6 101.7h2.6v2.6h-2.6zM279.9 104.7h2.6v2.6h-2.6zM287.1 102.4h2.6v2.6h-2.6zM277.1 103.2h2.6v2.6h-2.6zM298.3 100.7h2.6v2.6h-2.6zM294.4 98.4h2.6v2.6h-2.6zM286.0 104.5h2.6v2.6h-2.6zM286.9 103.5h2.6v2.6h-2.6zM270.1 97.6h2.6v2.6h-2.6zM283.4 98.5h2.6v2.6h-2.6zM275.4 93.7h2.6v2.6h-2.6zM296.1 97.4h2.6v2.6h-2.6zM290.4 100.2h2.6v2.6h-2.6zM299.1 101.6h2.6v2.6h-2.6zM272.3 96.7h2.6v2.6h-2.6zM284.4 100.2h2.6v2.6h-2.6zM287.3 99.6h2.6v2.6h-2.6zM284.0 99.1h2.6v2.6h-2.6zM283.0 94.5h2.6v2.6h-2.6zM287.3 101.1h2.6v2.6h-2.6zM282.9 101.9h2.6v2.6h-2.6zM276.4 105.8h2.6v2.6h-2.6zM272.8 98.8h2.6v2.6h-2.6zM275.4 104.7h2.6v2.6h-2.6zM287.9 100.3h2.6v2.6h-2.6zM282.3 94.4h2.6v2.6h-2.6zM272.3 100.1h2.6v2.6h-2.6zM283.8 97.5h2.6v2.6h-2.6zM283.4 101.6h2.6v2.6h-2.6zM278.4 98.2h2.6v2.6h-2.6zM282.2 100.6h2.6v2.6h-2.6zM295.2 97.7h2.6v2.6h-2.6zM279.2 101.9h2.6v2.6h-2.6zM286.5 97.7h2.6v2.6h-2.6zM286.7 103.7h2.6v2.6h-2.6zM278.5 93.9h2.6v2.6h-2.6zM294.6 98.4h2.6v2.6h-2.6zM271.6 99.7h2.6v2.6h-2.6zM282.0 100.3h2.6v2.6h-2.6zM277.1 94.2h2.6v2.6h-2.6zM276.6 101.1h2.6v2.6h-2.6zM277.5 98.7h2.6v2.6h-2.6zM280.2 94.0h2.6v2.6h-2.6zM273.2 98.1h2.6v2.6h-2.6zM283.3 101.3h2.6v2.6h-2.6zM279.9 105.4h2.6v2.6h-2.6zM287.9 102.5h2.6v2.6h-2.6zM280.3 95.6h2.6v2.6h-2.6zM298.0 97.2h2.6v2.6h-2.6zM278.7 93.6h2.6v2.6h-2.6zM290.3 103.1h2.6v2.6h-2.6zM279.0 100.1h2.6v2.6h-2.6zM277.7 100.7h2.6v2.6h-2.6zM285.0 103.3h2.6v2.6h-2.6zM282.9 99.4h2.6v2.6h-2.6zM281.5 98.0h2.6v2.6h-2.6zM283.2 101.9h2.6v2.6h-2.6zM279.5 105.7h2.6v2.6h-2.6zM284.7 95.2h2.6v2.6h-2.6zM278.7 103.6h2.6v2.6h-2.6zM272.0 96.2h2.6v2.6h-2.6zM280.5 100.9h2.6v2.6h-2.6zM290.6 98.9h2.6v2.6h-2.6zM281.1 95.9h2.6v2.6h-2.6zM276.1 93.1h2.6v2.6h-2.6zM287.9 96.2h2.6v2.6h-2.6zM274.5 95.2h2.6v2.6h-2.6zM274.7 98.5h2.6v2.6h-2.6zM279.8 105.7h2.6v2.6h-2.6zM275.5 105.7h2.6v2.6h-2.6zM276.8 92.6h2.6v2.6h-2.6zM275.8 94.9h2.6v2.6h-2.6zM276.0 106.1h2.6v2.6h-2.6zM285.0 94.0h2.6v2.6h-2.6zM275.1 100.9h2.6v2.6h-2.6zM284.1 95.3h2.6v2.6h-2.6zM276.6 100.2h2.6v2.6h-2.6zM292.6 99.2h2.6v2.6h-2.6zM288.7 101.6h2.6v2.6h-2.6zM274.5 100.7h2.6v2.6h-2.6zM295.4 99.1h2.6v2.6h-2.6zM296.3 101.9h2.6v2.6h-2.6zM280.9 101.8h2.6v2.6h-2.6zM292.6 100.2h2.6v2.6h-2.6zM276.3 99.3h2.6v2.6h-2.6zM298.7 97.3h2.6v2.6h-2.6zM277.4 93.1h2.6v2.6h-2.6zM291.0 97.3h2.6v2.6h-2.6zM279.3 101.3h2.6v2.6h-2.6zM285.3 97.9h2.6v2.6h-2.6zM284.7 98.8h2.6v2.6h-2.6zM280.1 105.7h2.6v2.6h-2.6zM280.7 92.8h2.6v2.6h-2.6zM278.8 95.6h2.6v2.6h-2.6zM287.1 97.1h2.6v2.6h-2.6zM290.4 103.6h2.6v2.6h-2.6zM283.7 100.2h2.6v2.6h-2.6zM284.6 104.2h2.6v2.6h-2.6zM277.0 99.3h2.6v2.6h-2.6zM288.1 98.2h2.6v2.6h-2.6zM292.9 100.6h2.6v2.6h-2.6zM274.9 104.9h2.6v2.6h-2.6zM289.3 100.1h2.6v2.6h-2.6zM290.3 99.4h2.6v2.6h-2.6zM279.6 94.8h2.6v2.6h-2.6zM284.9 96.0h2.6v2.6h-2.6zM291.6 102.2h2.6v2.6h-2.6zM271.9 99.1h2.6v2.6h-2.6zM281.5 101.0h2.6v2.6h-2.6zM273.6 103.2h2.6v2.6h-2.6zM289.6 97.9h2.6v2.6h-2.6zM274.4 98.2h2.6v2.6h-2.6zM275.6 99.4h2.6v2.6h-2.6zM284.3 102.3h2.6v2.6h-2.6zM282.3 101.0h2.6v2.6h-2.6zM279.8 95.3h2.6v2.6h-2.6zM286.1 103.6h2.6v2.6h-2.6zM276.8 92.6h2.6v2.6h-2.6zM275.3 97.8h2.6v2.6h-2.6zM275.3 101.8h2.6v2.6h-2.6zM283.4 103.5h2.6v2.6h-2.6zM289.0 97.8h2.6v2.6h-2.6zM281.7 96.8h2.6v2.6h-2.6zM280.0 94.7h2.6v2.6h-2.6zM298.2 99.9h2.6v2.6h-2.6zM280.1 102.6h2.6v2.6h-2.6zM278.3 97.5h2.6v2.6h-2.6zM279.0 102.9h2.6v2.6h-2.6zM272.1 99.7h2.6v2.6h-2.6zM298.8 99.7h2.6v2.6h-2.6zM284.4 98.8h2.6v2.6h-2.6zM288.6 99.7h2.6v2.6h-2.6zM289.8 100.7h2.6v2.6h-2.6zM273.2 103.0h2.6v2.6h-2.6zM298.7 99.7h2.6v2.6h-2.6zM283.8 101.6h2.6v2.6h-2.6zM288.2 98.2h2.6v2.6h-2.6zM284.4 104.3h2.6v2.6h-2.6zM288.9 102.9h2.6v2.6h-2.6zM277.1 105.4h2.6v2.6h-2.6zM284.1 96.6h2.6v2.6h-2.6zM297.0 98.1h2.6v2.6h-2.6zM279.3 91.7h2.6v2.6h-2.6zM277.9 102.6h2.6v2.6h-2.6zM292.7 97.3h2.6v2.6h-2.6zM287.1 97.6h2.6v2.6h-2.6zM279.5 94.7h2.6v2.6h-2.6zM276.8 93.1h2.6v2.6h-2.6zM282.9 97.0h2.6v2.6h-2.6zM275.6 94.6h2.6v2.6h-2.6zM282.0 102.5h2.6v2.6h-2.6zM289.0 104.1h2.6v2.6h-2.6zM272.1 98.2h2.6v2.6h-2.6zM275.5 97.3h2.6v2.6h-2.6zM295.1 98.4h2.6v2.6h-2.6zM274.8 101.3h2.6v2.6h-2.6zM273.6 99.1h2.6v2.6h-2.6zM280.0 97.5h2.6v2.6h-2.6zM296.3 101.4h2.6v2.6h-2.6zM284.4 97.5h2.6v2.6h-2.6zM273.4 98.9h2.6v2.6h-2.6zM287.5 101.4h2.6v2.6h-2.6zM276.5 102.9h2.6v2.6h-2.6zM279.0 94.0h2.6v2.6h-2.6zM289.4 102.1h2.6v2.6h-2.6zM281.2 97.6h2.6v2.6h-2.6zM279.7 103.0h2.6v2.6h-2.6zM281.6 96.8h2.6v2.6h-2.6zM286.4 100.7h2.6v2.6h-2.6zM270.2 99.6h2.6v2.6h-2.6zM278.9 93.0h2.6v2.6h-2.6zM272.8 104.4h2.6v2.6h-2.6zM277.0 97.0h2.6v2.6h-2.6zM298.1 97.6h2.6v2.6h-2.6zM285.7 98.5h2.6v2.6h-2.6zM275.9 99.8h2.6v2.6h-2.6zM277.4 98.0h2.6v2.6h-2.6zM285.6 98.0h2.6v2.6h-2.6zM277.3 101.5h2.6v2.6h-2.6zM276.8 101.0h2.6v2.6h-2.6zM273.3 103.6h2.6v2.6h-2.6zM279.0 107.0h2.6v2.6h-2.6zM271.9 100.8h2.6v2.6h-2.6zM276.7 98.5h2.6v2.6h-2.6zM292.0 97.4h2.6v2.6h-2.6zM276.4 97.7h2.6v2.6h-2.6zM273.6 99.7h2.6v2.6h-2.6zM276.9 100.6h2.6v2.6h-2.6zM277.4 105.2h2.6v2.6h-2.6zM279.9 101.0h2.6v2.6h-2.6zM297.1 100.8h2.6v2.6h-2.6zM290.3 100.1h2.6v2.6h-2.6zM274.7 106.1h2.6v2.6h-2.6zM286.6 98.4h2.6v2.6h-2.6zM279.5 99.8h2.6v2.6h-2.6zM280.5 101.8h2.6v2.6h-2.6zM297.7 102.1h2.6v2.6h-2.6zM329.1 143.1h2.6v2.6h-2.6zM322.3 155.9h2.6v2.6h-2.6zM324.3 147.1h2.6v2.6h-2.6zM323.6 154.1h2.6v2.6h-2.6zM328.6 149.6h2.6v2.6h-2.6zM319.4 148.6h2.6v2.6h-2.6zM321.3 144.2h2.6v2.6h-2.6zM322.8 152.4h2.6v2.6h-2.6zM316.3 155.0h2.6v2.6h-2.6zM323.9 151.8h2.6v2.6h-2.6zM316.9 153.9h2.6v2.6h-2.6zM322.6 158.0h2.6v2.6h-2.6zM328.6 150.6h2.6v2.6h-2.6zM322.5 146.2h2.6v2.6h-2.6zM318.4 148.2h2.6v2.6h-2.6zM326.5 160.4h2.6v2.6h-2.6zM318.9 144.8h2.6v2.6h-2.6zM323.0 143.2h2.6v2.6h-2.6zM327.8 149.7h2.6v2.6h-2.6zM329.7 153.5h2.6v2.6h-2.6zM326.0 150.4h2.6v2.6h-2.6zM317.8 151.5h2.6v2.6h-2.6zM321.6 158.2h2.6v2.6h-2.6zM318.1 157.0h2.6v2.6h-2.6zM328.1 156.4h2.6v2.6h-2.6zM323.2 145.0h2.6v2.6h-2.6zM322.6 152.0h2.6v2.6h-2.6zM327.7 160.5h2.6v2.6h-2.6zM325.8 146.0h2.6v2.6h-2.6zM326.6 147.5h2.6v2.6h-2.6zM325.4 151.8h2.6v2.6h-2.6zM324.0 151.9h2.6v2.6h-2.6zM326.2 161.5h2.6v2.6h-2.6zM320.5 146.4h2.6v2.6h-2.6zM324.7 143.4h2.6v2.6h-2.6zM327.8 144.5h2.6v2.6h-2.6zM324.3 151.9h2.6v2.6h-2.6zM319.6 146.9h2.6v2.6h-2.6zM317.4 148.3h2.6v2.6h-2.6zM323.5 162.4h2.6v2.6h-2.6zM321.5 144.1h2.6v2.6h-2.6zM324.9 141.3h2.6v2.6h-2.6zM325.0 154.9h2.6v2.6h-2.6zM320.0 152.6h2.6v2.6h-2.6zM320.9 141.3h2.6v2.6h-2.6zM322.9 153.7h2.6v2.6h-2.6zM329.7 158.9h2.6v2.6h-2.6zM326.4 146.6h2.6v2.6h-2.6zM325.8 150.8h2.6v2.6h-2.6zM321.5 149.5h2.6v2.6h-2.6zM321.6 155.6h2.6v2.6h-2.6zM324.3 160.3h2.6v2.6h-2.6zM320.3 153.1h2.6v2.6h-2.6zM319.9 156.1h2.6v2.6h-2.6zM319.9 149.1h2.6v2.6h-2.6zM317.9 145.8h2.6v2.6h-2.6zM319.3 150.8h2.6v2.6h-2.6zM319.5 150.8h2.6v2.6h-2.6zM329.0 148.9h2.6v2.6h-2.6zM325.4 148.8h2.6v2.6h-2.6zM323.3 150.6h2.6v2.6h-2.6zM322.3 145.9h2.6v2.6h-2.6zM323.0 148.5h2.6v2.6h-2.6zM324.1 146.4h2.6v2.6h-2.6zM323.0 157.9h2.6v2.6h-2.6zM329.2 151.2h2.6v2.6h-2.6zM319.9 153.5h2.6v2.6h-2.6zM322.5 155.7h2.6v2.6h-2.6zM326.7 164.5h2.6v2.6h-2.6zM328.8 152.8h2.6v2.6h-2.6zM331.4 150.9h2.6v2.6h-2.6zM322.1 153.7h2.6v2.6h-2.6zM322.7 142.2h2.6v2.6h-2.6zM330.1 153.5h2.6v2.6h-2.6zM322.4 158.9h2.6v2.6h-2.6zM318.9 148.9h2.6v2.6h-2.6zM317.8 149.9h2.6v2.6h-2.6zM327.9 145.5h2.6v2.6h-2.6zM327.7 148.4h2.6v2.6h-2.6zM325.5 148.8h2.6v2.6h-2.6zM328.0 152.7h2.6v2.6h-2.6zM326.6 146.6h2.6v2.6h-2.6zM325.9 143.5h2.6v2.6h-2.6zM324.0 154.2h2.6v2.6h-2.6zM319.3 150.3h2.6v2.6h-2.6zM325.8 148.6h2.6v2.6h-2.6zM328.2 147.8h2.6v2.6h-2.6zM323.9 152.7h2.6v2.6h-2.6zM319.4 153.5h2.6v2.6h-2.6zM323.6 157.0h2.6v2.6h-2.6zM323.8 158.9h2.6v2.6h-2.6zM321.7 147.4h2.6v2.6h-2.6zM317.2 151.4h2.6v2.6h-2.6zM318.1 145.4h2.6v2.6h-2.6zM325.9 145.2h2.6v2.6h-2.6zM322.7 157.6h2.6v2.6h-2.6zM326.3 155.0h2.6v2.6h-2.6zM323.3 156.2h2.6v2.6h-2.6zM324.6 158.5h2.6v2.6h-2.6zM326.1 150.7h2.6v2.6h-2.6zM328.8 150.9h2.6v2.6h-2.6zM317.4 157.0h2.6v2.6h-2.6zM323.1 152.1h2.6v2.6h-2.6zM318.8 153.2h2.6v2.6h-2.6zM323.6 144.4h2.6v2.6h-2.6zM319.7 144.0h2.6v2.6h-2.6zM325.7 149.5h2.6v2.6h-2.6zM328.6 147.7h2.6v2.6h-2.6zM319.4 151.8h2.6v2.6h-2.6zM325.2 159.0h2.6v2.6h-2.6zM332.0 153.3h2.6v2.6h-2.6zM316.3 154.0h2.6v2.6h-2.6zM322.1 143.0h2.6v2.6h-2.6zM323.5 153.3h2.6v2.6h-2.6zM324.5 146.8h2.6v2.6h-2.6zM322.9 139.9h2.6v2.6h-2.6zM317.6 156.3h2.6v2.6h-2.6zM315.9 156.7h2.6v2.6h-2.6zM323.0 161.2h2.6v2.6h-2.6zM326.4 158.2h2.6v2.6h-2.6zM329.2 155.9h2.6v2.6h-2.6zM327.2 142.0h2.6v2.6h-2.6zM316.0 149.8h2.6v2.6h-2.6zM327.0 149.1h2.6v2.6h-2.6zM322.1 140.1h2.6v2.6h-2.6zM322.2 142.6h2.6v2.6h-2.6zM320.6 160.6h2.6v2.6h-2.6zM329.3 145.9h2.6v2.6h-2.6zM323.2 158.1h2.6v2.6h-2.6zM323.6 147.6h2.6v2.6h-2.6zM329.6 156.9h2.6v2.6h-2.6zM328.2 149.5h2.6v2.6h-2.6zM327.2 143.6h2.6v2.6h-2.6zM325.2 164.4h2.6v2.6h-2.6zM323.9 151.6h2.6v2.6h-2.6zM326.8 150.8h2.6v2.6h-2.6zM320.5 163.5h2.6v2.6h-2.6zM321.9 159.7h2.6v2.6h-2.6zM322.3 147.2h2.6v2.6h-2.6zM323.5 158.3h2.6v2.6h-2.6zM325.4 158.8h2.6v2.6h-2.6zM326.1 148.0h2.6v2.6h-2.6zM320.7 161.6h2.6v2.6h-2.6zM318.6 149.7h2.6v2.6h-2.6zM319.9 154.9h2.6v2.6h-2.6zM325.2 152.0h2.6v2.6h-2.6zM325.2 141.1h2.6v2.6h-2.6zM325.9 147.9h2.6v2.6h-2.6zM325.8 154.9h2.6v2.6h-2.6zM319.1 150.4h2.6v2.6h-2.6zM325.7 151.5h2.6v2.6h-2.6zM325.6 161.7h2.6v2.6h-2.6zM323.4 149.4h2.6v2.6h-2.6zM323.4 147.6h2.6v2.6h-2.6zM323.7 156.6h2.6v2.6h-2.6zM326.9 161.2h2.6v2.6h-2.6zM318.3 147.9h2.6v2.6h-2.6zM325.5 163.9h2.6v2.6h-2.6zM328.1 148.4h2.6v2.6h-2.6zM329.9 151.4h2.6v2.6h-2.6zM322.2 144.7h2.6v2.6h-2.6zM323.2 157.8h2.6v2.6h-2.6zM318.8 147.2h2.6v2.6h-2.6zM323.0 156.4h2.6v2.6h-2.6zM326.2 148.5h2.6v2.6h-2.6zM323.4 145.4h2.6v2.6h-2.6zM326.2 147.9h2.6v2.6h-2.6zM328.7 153.9h2.6v2.6h-2.6zM319.1 159.7h2.6v2.6h-2.6zM323.6 160.4h2.6v2.6h-2.6zM326.6 145.2h2.6v2.6h-2.6zM326.4 155.6h2.6v2.6h-2.6zM323.7 150.2h2.6v2.6h-2.6zM327.0 144.9h2.6v2.6h-2.6zM323.9 152.5h2.6v2.6h-2.6zM320.1 155.8h2.6v2.6h-2.6zM324.8 160.8h2.6v2.6h-2.6zM329.1 153.4h2.6v2.6h-2.6zM326.4 160.9h2.6v2.6h-2.6zM325.0 141.6h2.6v2.6h-2.6zM322.7 152.9h2.6v2.6h-2.6zM322.2 146.9h2.6v2.6h-2.6zM320.8 142.6h2.6v2.6h-2.6zM320.6 154.4h2.6v2.6h-2.6zM329.9 151.6h2.6v2.6h-2.6zM324.3 159.8h2.6v2.6h-2.6zM330.0 154.3h2.6v2.6h-2.6zM325.2 163.7h2.6v2.6h-2.6zM326.7 148.2h2.6v2.6h-2.6zM326.7 155.5h2.6v2.6h-2.6zM332.2 153.3h2.6v2.6h-2.6zM320.7 140.7h2.6v2.6h-2.6zM322.2 146.4h2.6v2.6h-2.6zM323.1 148.0h2.6v2.6h-2.6zM327.6 153.2h2.6v2.6h-2.6zM317.3 152.3h2.6v2.6h-2.6zM316.5 149.9h2.6v2.6h-2.6zM328.8 157.5h2.6v2.6h-2.6zM318.8 147.3h2.6v2.6h-2.6zM324.5 141.9h2.6v2.6h-2.6zM317.5 150.4h2.6v2.6h-2.6zM323.5 149.5h2.6v2.6h-2.6zM321.1 157.6h2.6v2.6h-2.6zM330.1 147.7h2.6v2.6h-2.6zM324.4 161.2h2.6v2.6h-2.6zM317.4 147.2h2.6v2.6h-2.6zM325.0 141.7h2.6v2.6h-2.6zM325.8 157.8h2.6v2.6h-2.6zM330.0 142.8h2.6v2.6h-2.6zM324.6 160.0h2.6v2.6h-2.6zM325.3 158.8h2.6v2.6h-2.6zM328.4 156.2h2.6v2.6h-2.6zM325.1 160.7h2.6v2.6h-2.6zM324.8 149.8h2.6v2.6h-2.6zM331.9 151.1h2.6v2.6h-2.6zM327.2 161.7h2.6v2.6h-2.6zM325.5 142.4h2.6v2.6h-2.6zM319.0 149.6h2.6v2.6h-2.6zM320.2 149.5h2.6v2.6h-2.6zM323.9 149.1h2.6v2.6h-2.6zM324.9 151.3h2.6v2.6h-2.6zM323.1 153.9h2.6v2.6h-2.6zM325.9 162.3h2.6v2.6h-2.6zM326.0 158.3h2.6v2.6h-2.6zM329.0 146.2h2.6v2.6h-2.6zM329.7 143.2h2.6v2.6h-2.6zM330.3 146.0h2.6v2.6h-2.6zM321.6 160.9h2.6v2.6h-2.6zM319.0 154.7h2.6v2.6h-2.6zM323.6 156.6h2.6v2.6h-2.6zM325.5 150.0h2.6v2.6h-2.6zM325.1 155.9h2.6v2.6h-2.6zM320.4 151.4h2.6v2.6h-2.6zM324.0 143.9h2.6v2.6h-2.6zM328.7 155.4h2.6v2.6h-2.6zM324.4 149.6h2.6v2.6h-2.6zM320.1 143.8h2.6v2.6h-2.6zM328.4 150.7h2.6v2.6h-2.6zM325.9 163.6h2.6v2.6h-2.6zM317.5 151.5h2.6v2.6h-2.6zM319.7 155.2h2.6v2.6h-2.6zM321.1 161.1h2.6v2.6h-2.6zM319.7 142.7h2.6v2.6h-2.6zM320.4 144.5h2.6v2.6h-2.6zM314.6 154.0h2.6v2.6h-2.6zM329.2 158.1h2.6v2.6h-2.6zM320.9 154.2h2.6v2.6h-2.6zM316.5 152.6h2.6v2.6h-2.6zM324.6 163.1h2.6v2.6h-2.6zM325.6 148.8h2.6v2.6h-2.6zM321.6 143.7h2.6v2.6h-2.6zM326.6 158.4h2.6v2.6h-2.6zM319.2 150.9h2.6v2.6h-2.6zM324.3 155.7h2.6v2.6h-2.6zM327.3 157.3h2.6v2.6h-2.6zM321.0 149.8h2.6v2.6h-2.6zM321.1 152.1h2.6v2.6h-2.6zM317.5 154.2h2.6v2.6h-2.6zM325.5 152.6h2.6v2.6h-2.6zM322.6 141.7h2.6v2.6h-2.6zM320.4 143.7h2.6v2.6h-2.6zM326.6 164.1h2.6v2.6h-2.6zM322.4 162.2h2.6v2.6h-2.6zM322.6 149.0h2.6v2.6h-2.6zM323.1 142.4h2.6v2.6h-2.6zM324.0 164.4h2.6v2.6h-2.6zM325.3 157.9h2.6v2.6h-2.6zM323.1 162.6h2.6v2.6h-2.6zM322.3 155.6h2.6v2.6h-2.6zM324.0 152.5h2.6v2.6h-2.6zM317.9 153.0h2.6v2.6h-2.6zM320.5 161.1h2.6v2.6h-2.6zM321.9 148.8h2.6v2.6h-2.6zM321.0 159.4h2.6v2.6h-2.6zM326.1 144.5h2.6v2.6h-2.6zM324.8 156.5h2.6v2.6h-2.6zM320.2 153.8h2.6v2.6h-2.6z"/>
<defs><radialGradient id="g5"><stop offset="0" stop-color="#dcdcdc"/><stop offset="0.55" stop-color="#8a8a8a"/><stop offset="1" stop-color="#585858" stop-opacity="0"/></radialGradient></defs>
<ellipse cx="282.0" cy="100.8" rx="16.0" ry="5.6" transform="rotate(0 282.0 100.8)" fill="url(#g5)"/>
<ellipse cx="325.0" cy="154.0" rx="9.0" ry="14.0" transform="rotate(0 325.0 154.0)" fill="#585858"/>
<path fill="#6c6c6c" d="M324.7 156.3h1.7v1.7h-1.7zM322.5 163.7h1.7v1.7h-1.7zM323.3 146.4h1.7v1.7h-1.7zM322.9 159.1h1.7v1.7h-1.7zM319.1 155.0h1.7v1.7h-1.7zM318.4 156.7h1.7v1.7h-1.7zM318.8 156.4h1.7v1.7h-1.7zM320.3 153.0h1.7v1.7h-1.7zM316.8 157.6h1.7v1.7h-1.7zM320.0 154.6h1.7v1.7h-1.7zM326.4 156.7h1.7v1.7h-1.7zM327.6 154.3h1.7v1.7h-1.7zM324.2 158.8h1.7v1.7h-1.7zM317.0 158.3h1.7v1.7h-1.7zM319.7 161.9h1.7v1.7h-1.7zM321.7 152.2h1.7v1.7h-1.7zM316.7 151.3h1.7v1.7h-1.7zM321.3 164.8h1.7v1.7h-1.7zM318.6 156.8h1.7v1.7h-1.7zM321.4 156.5h1.7v1.7h-1.7zM330.9 146.6h1.7v1.7h-1.7zM325.2 156.3h1.7v1.7h-1.7zM321.8 146.4h1.7v1.7h-1.7zM321.0 163.4h1.7v1.7h-1.7zM332.0 157.2h1.7v1.7h-1.7zM327.3 143.9h1.7v1.7h-1.7zM318.6 162.5h1.7v1.7h-1.7zM329.1 143.1h1.7v1.7h-1.7zM322.7 162.6h1.7v1.7h-1.7zM325.8 157.9h1.7v1.7h-1.7zM327.5 158.5h1.7v1.7h-1.7zM319.3 150.5h1.7v1.7h-1.7zM328.8 161.6h1.7v1.7h-1.7zM327.9 152.6h1.7v1.7h-1.7zM324.8 158.4h1.7v1.7h-1.7zM329.8 144.9h1.7v1.7h-1.7zM327.1 159.4h1.7v1.7h-1.7zM329.8 157.5h1.7v1.7h-1.7zM325.7 159.2h1.7v1.7h-1.7zM327.8 145.8h1.7v1.7h-1.7zM319.1 144.8h1.7v1.7h-1.7zM327.6 146.9h1.7v1.7h-1.7zM329.8 161.8h1.7v1.7h-1.7zM325.2 150.7h1.7v1.7h-1.7zM316.8 155.1h1.7v1.7h-1.7zM327.3 159.4h1.7v1.7h-1.7zM321.7 153.4h1.7v1.7h-1.7zM319.3 150.9h1.7v1.7h-1.7zM323.3 150.9h1.7v1.7h-1.7zM320.3 156.4h1.7v1.7h-1.7zM328.0 142.7h1.7v1.7h-1.7zM318.9 146.1h1.7v1.7h-1.7zM325.7 161.1h1.7v1.7h-1.7zM325.1 151.9h1.7v1.7h-1.7zM330.4 151.4h1.7v1.7h-1.7zM319.8 161.9h1.7v1.7h-1.7zM326.1 162.8h1.7v1.7h-1.7zM326.7 144.4h1.7v1.7h-1.7zM322.1 161.6h1.7v1.7h-1.7z"/>
<path fill="#3e3e3e" d="M328.4 147.5h1.7v1.7h-1.7zM330.9 152.1h1.7v1.7h-1.7zM320.4 158.5h1.7v1.7h-1.7zM330.4 148.3h1.7v1.7h-1.7zM324.5 159.1h1.7v1.7h-1.7zM317.7 146.3h1.7v1.7h-1.7zM322.1 160.1h1.7v1.7h-1.7zM326.3 154.1h1.7v1.7h-1.7zM331.8 154.8h1.7v1.7h-1.7zM326.9 157.7h1.7v1.7h-1.7zM320.7 145.7h1.7v1.7h-1.7zM324.5 148.6h1.7v1.7h-1.7zM328.3 158.6h1.7v1.7h-1.7zM316.7 155.2h1.7v1.7h-1.7zM323.5 143.1h1.7v1.7h-1.7zM325.9 158.7h1.7v1.7h-1.7zM318.4 150.7h1.7v1.7h-1.7zM316.9 159.2h1.7v1.7h-1.7zM322.1 147.5h1.7v1.7h-1.7zM329.7 148.9h1.7v1.7h-1.7zM320.1 154.0h1.7v1.7h-1.7zM326.6 149.9h1.7v1.7h-1.7zM326.2 153.3h1.7v1.7h-1.7zM331.7 155.7h1.7v1.7h-1.7zM330.9 156.2h1.7v1.7h-1.7zM319.1 158.9h1.7v1.7h-1.7zM323.4 152.1h1.7v1.7h-1.7zM319.5 143.0h1.7v1.7h-1.7zM320.5 146.4h1.7v1.7h-1.7zM323.2 154.2h1.7v1.7h-1.7zM324.4 165.8h1.7v1.7h-1.7zM329.3 146.7h1.7v1.7h-1.7zM322.9 163.8h1.7v1.7h-1.7zM327.6 149.0h1.7v1.7h-1.7zM327.1 161.4h1.7v1.7h-1.7zM323.0 159.3h1.7v1.7h-1.7zM328.8 158.4h1.7v1.7h-1.7zM317.6 146.0h1.7v1.7h-1.7zM319.6 145.2h1.7v1.7h-1.7zM329.5 151.6h1.7v1.7h-1.7zM320.8 162.5h1.7v1.7h-1.7zM321.7 158.4h1.7v1.7h-1.7zM319.5 149.7h1.7v1.7h-1.7zM325.5 165.5h1.7v1.7h-1.7zM323.4 156.3h1.7v1.7h-1.7zM330.0 147.4h1.7v1.7h-1.7zM325.0 159.2h1.7v1.7h-1.7zM327.5 154.6h1.7v1.7h-1.7zM323.7 152.2h1.7v1.7h-1.7zM325.8 154.5h1.7v1.7h-1.7zM318.8 162.9h1.7v1.7h-1.7zM320.0 147.6h1.7v1.7h-1.7zM320.4 143.7h1.7v1.7h-1.7zM318.6 152.5h1.7v1.7h-1.7z"/>
<defs><radialGradient id="g6"><stop offset="0" stop-color="#8a8a8a"/><stop offset="0.55" stop-color="#686868"/><stop offset="1" stop-color="#585858" stop-opacity="0"/></radialGradient></defs>
<ellipse cx="326.0" cy="153.0" rx="2.6" ry="9.0" transform="rotate(0 326.0 153.0)" fill="url(#g6)"/>
</g>
<path d="M269.3 62.2V171.4H349.8" fill="none" stroke="#000" stroke-width="2.7" stroke-linejoin="miter"/>
<path d="M303.4 62.2V171.4" fill="none" stroke="#000" stroke-width="2.2"/>
<path d="M269.3 121.6H351.3" fill="none" stroke="#000" stroke-width="1.9"/>
<path d="M269.3 171.4h-4M269.3 163.2h-2.8M269.3 158.4h-2.8M269.3 155.0h-2.8M269.3 152.3h-2.8M269.3 150.2h-2.8M269.3 148.3h-2.8M269.3 146.7h-2.8M269.3 145.3h-2.8M269.3 144.1h-4M269.3 135.9h-2.8M269.3 131.1h-2.8M269.3 127.7h-2.8M269.3 125.0h-2.8M269.3 122.9h-2.8M269.3 121.0h-2.8M269.3 119.4h-2.8M269.3 118.0h-2.8M269.3 116.8h-4M269.3 108.6h-2.8M269.3 103.8h-2.8M269.3 100.4h-2.8M269.3 97.7h-2.8M269.3 95.6h-2.8M269.3 93.7h-2.8M269.3 92.1h-2.8M269.3 90.7h-2.8M269.3 89.5h-4M269.3 81.3h-2.8M269.3 76.5h-2.8M269.3 73.1h-2.8M269.3 70.4h-2.8M269.3 68.3h-2.8M269.3 66.4h-2.8M269.3 64.8h-2.8M269.3 63.4h-2.8M269.3 62.2h-4" fill="none" stroke="#000" stroke-width="1.5"/>
<path d="M269.3 171.4v4.6M277.0 171.4v3.4M281.6 171.4v3.4M284.8 171.4v3.4M287.3 171.4v3.4M289.3 171.4v3.4M291.0 171.4v3.4M292.5 171.4v3.4M293.8 171.4v3.4M295.0 171.4v4.6M302.7 171.4v3.4M307.3 171.4v3.4M310.5 171.4v3.4M313.0 171.4v3.4M315.0 171.4v3.4M316.7 171.4v3.4M318.2 171.4v3.4M319.5 171.4v3.4M320.7 171.4v4.6M328.4 171.4v3.4M333.0 171.4v3.4M336.2 171.4v3.4M338.7 171.4v3.4M340.7 171.4v3.4M342.4 171.4v3.4M343.9 171.4v3.4M345.2 171.4v3.4M346.4 171.4v4.6" fill="none" stroke="#000" stroke-width="1.5"/>
<text x="267.3" y="180.0" font-size="3.5" text-anchor="middle" fill="#999">10<tspan dy="-1" font-size="2.5">0</tspan></text>
<text x="293.0" y="180.0" font-size="3.5" text-anchor="middle" fill="#999">10<tspan dy="-1" font-size="2.5">1</tspan></text>
<text x="318.7" y="180.0" font-size="3.5" text-anchor="middle" fill="#999">10<tspan dy="-1" font-size="2.5">2</tspan></text>
<text x="344.4" y="180.0" font-size="3.5" text-anchor="middle" fill="#999">10<tspan dy="-1" font-size="2.5">3</tspan></text>
<text x="280.3" y="74.8" font-size="14" font-weight="bold">60</text>
<text x="346.3" y="165.5" font-size="14" font-weight="bold">33</text>
<clipPath id="c4"><rect x="369.0" y="59.7" width="106.0" height="112.2"/></clipPath><g clip-path="url(#c4)">
<rect x="366.0" y="90.0" width="38.0" height="17.5" rx="6.0" fill="#585858"/>
<path fill="#6c6c6c" d="M375.5 92.1h1.7v1.7h-1.7zM382.8 103.9h1.7v1.7h-1.7zM388.2 97.9h1.7v1.7h-1.7zM395.0 103.1h1.7v1.7h-1.7zM386.6 98.6h1.7v1.7h-1.7zM373.9 95.3h1.7v1.7h-1.7zM396.3 94.9h1.7v1.7h-1.7zM390.5 99.4h1.7v1.7h-1.7zM371.0 94.5h1.7v1.7h-1.7zM393.7 100.7h1.7v1.7h-1.7zM387.2 103.6h1.7v1.7h-1.7zM384.7 92.5h1.7v1.7h-1.7zM370.0 98.1h1.7v1.7h-1.7zM389.0 96.3h1.7v1.7h-1.7zM397.5 95.6h1.7v1.7h-1.7zM390.2 101.0h1.7v1.7h-1.7zM374.9 93.5h1.7v1.7h-1.7zM397.0 95.1h1.7v1.7h-1.7zM387.8 91.0h1.7v1.7h-1.7zM393.0 96.8h1.7v1.7h-1.7zM390.3 102.3h1.7v1.7h-1.7zM401.4 98.9h1.7v1.7h-1.7zM379.2 101.1h1.7v1.7h-1.7zM397.0 95.1h1.7v1.7h-1.7zM379.8 97.7h1.7v1.7h-1.7zM385.4 101.0h1.7v1.7h-1.7zM372.0 92.7h1.7v1.7h-1.7zM395.6 97.6h1.7v1.7h-1.7zM374.0 92.2h1.7v1.7h-1.7zM392.6 96.5h1.7v1.7h-1.7zM376.1 102.5h1.7v1.7h-1.7zM378.8 103.0h1.7v1.7h-1.7zM380.7 100.6h1.7v1.7h-1.7zM389.3 98.0h1.7v1.7h-1.7zM391.1 91.3h1.7v1.7h-1.7zM385.7 101.5h1.7v1.7h-1.7zM380.9 95.2h1.7v1.7h-1.7zM384.2 93.7h1.7v1.7h-1.7zM395.6 98.9h1.7v1.7h-1.7zM378.4 91.9h1.7v1.7h-1.7zM383.6 93.7h1.7v1.7h-1.7zM367.7 104.0h1.7v1.7h-1.7zM397.6 102.1h1.7v1.7h-1.7zM400.6 92.6h1.7v1.7h-1.7zM393.0 94.6h1.7v1.7h-1.7zM397.7 94.6h1.7v1.7h-1.7zM372.6 98.1h1.7v1.7h-1.7zM379.1 103.3h1.7v1.7h-1.7zM371.5 98.4h1.7v1.7h-1.7zM379.9 104.3h1.7v1.7h-1.7zM397.1 100.6h1.7v1.7h-1.7zM397.1 95.1h1.7v1.7h-1.7zM398.4 98.8h1.7v1.7h-1.7zM388.1 99.3h1.7v1.7h-1.7zM400.1 103.3h1.7v1.7h-1.7zM384.9 96.4h1.7v1.7h-1.7zM370.9 97.0h1.7v1.7h-1.7zM377.4 98.1h1.7v1.7h-1.7zM393.6 101.3h1.7v1.7h-1.7zM396.9 92.0h1.7v1.7h-1.7zM383.7 95.5h1.7v1.7h-1.7zM380.3 97.8h1.7v1.7h-1.7zM387.7 105.1h1.7v1.7h-1.7zM379.3 95.5h1.7v1.7h-1.7zM390.0 94.2h1.7v1.7h-1.7zM371.7 104.6h1.7v1.7h-1.7zM398.3 102.8h1.7v1.7h-1.7zM395.3 96.7h1.7v1.7h-1.7zM400.5 103.6h1.7v1.7h-1.7zM372.8 102.1h1.7v1.7h-1.7zM380.7 93.2h1.7v1.7h-1.7zM377.1 95.9h1.7v1.7h-1.7zM386.1 91.7h1.7v1.7h-1.7zM392.3 91.6h1.7v1.7h-1.7zM368.8 96.4h1.7v1.7h-1.7zM391.7 99.1h1.7v1.7h-1.7zM391.9 93.6h1.7v1.7h-1.7zM387.5 94.4h1.7v1.7h-1.7zM392.6 91.2h1.7v1.7h-1.7zM388.2 102.2h1.7v1.7h-1.7zM396.9 93.3h1.7v1.7h-1.7zM397.2 93.9h1.7v1.7h-1.7zM379.4 104.8h1.7v1.7h-1.7zM374.7 90.9h1.7v1.7h-1.7zM387.7 94.2h1.7v1.7h-1.7zM385.9 101.7h1.7v1.7h-1.7zM368.4 91.8h1.7v1.7h-1.7zM382.3 92.7h1.7v1.7h-1.7zM382.0 96.4h1.7v1.7h-1.7zM375.3 99.1h1.7v1.7h-1.7zM366.9 96.5h1.7v1.7h-1.7z"/>
<path fill="#3e3e3e" d="M388.3 104.2h1.7v1.7h-1.7zM384.0 94.9h1.7v1.7h-1.7zM372.3 102.9h1.7v1.7h-1.7zM382.6 94.4h1.7v1.7h-1.7zM393.0 105.0h1.7v1.7h-1.7zM384.0 90.9h1.7v1.7h-1.7zM368.2 103.4h1.7v1.7h-1.7zM394.8 100.9h1.7v1.7h-1.7zM381.1 103.1h1.7v1.7h-1.7zM386.6 100.1h1.7v1.7h-1.7zM382.4 101.8h1.7v1.7h-1.7zM385.1 102.6h1.7v1.7h-1.7zM369.0 93.7h1.7v1.7h-1.7zM401.4 102.2h1.7v1.7h-1.7zM399.0 104.2h1.7v1.7h-1.7zM388.7 99.8h1.7v1.7h-1.7zM394.6 93.2h1.7v1.7h-1.7zM399.6 100.2h1.7v1.7h-1.7zM382.1 98.5h1.7v1.7h-1.7zM379.1 98.0h1.7v1.7h-1.7zM395.9 94.3h1.7v1.7h-1.7zM400.9 100.1h1.7v1.7h-1.7zM399.1 93.6h1.7v1.7h-1.7zM373.3 91.7h1.7v1.7h-1.7zM379.2 92.9h1.7v1.7h-1.7zM388.2 92.6h1.7v1.7h-1.7zM379.1 94.7h1.7v1.7h-1.7zM375.5 99.7h1.7v1.7h-1.7zM383.1 94.6h1.7v1.7h-1.7zM392.0 97.2h1.7v1.7h-1.7zM368.5 91.7h1.7v1.7h-1.7zM385.6 92.5h1.7v1.7h-1.7zM394.7 97.2h1.7v1.7h-1.7zM375.2 99.8h1.7v1.7h-1.7zM394.1 91.6h1.7v1.7h-1.7zM373.3 97.4h1.7v1.7h-1.7zM387.5 102.6h1.7v1.7h-1.7zM390.6 96.3h1.7v1.7h-1.7zM380.3 104.4h1.7v1.7h-1.7zM391.4 101.8h1.7v1.7h-1.7zM389.0 98.8h1.7v1.7h-1.7zM390.1 92.9h1.7v1.7h-1.7zM388.4 95.0h1.7v1.7h-1.7zM374.4 95.2h1.7v1.7h-1.7zM369.8 98.8h1.7v1.7h-1.7zM384.0 104.8h1.7v1.7h-1.7zM401.1 99.3h1.7v1.7h-1.7zM392.5 96.4h1.7v1.7h-1.7zM391.0 95.7h1.7v1.7h-1.7zM388.9 91.0h1.7v1.7h-1.7zM379.6 97.6h1.7v1.7h-1.7zM400.3 98.5h1.7v1.7h-1.7zM395.4 97.4h1.7v1.7h-1.7zM390.8 93.5h1.7v1.7h-1.7zM386.6 104.2h1.7v1.7h-1.7zM379.7 100.2h1.7v1.7h-1.7zM369.0 96.1h1.7v1.7h-1.7zM391.7 94.9h1.7v1.7h-1.7zM379.9 92.9h1.7v1.7h-1.7zM368.9 103.1h1.7v1.7h-1.7zM397.7 102.0h1.7v1.7h-1.7zM379.8 92.7h1.7v1.7h-1.7zM390.0 90.9h1.7v1.7h-1.7zM400.1 93.6h1.7v1.7h-1.7zM379.5 99.2h1.7v1.7h-1.7zM373.5 93.2h1.7v1.7h-1.7zM375.1 99.0h1.7v1.7h-1.7zM375.9 98.3h1.7v1.7h-1.7zM398.4 101.2h1.7v1.7h-1.7zM394.0 91.4h1.7v1.7h-1.7zM374.3 104.5h1.7v1.7h-1.7zM376.2 102.8h1.7v1.7h-1.7zM394.5 95.7h1.7v1.7h-1.7zM387.6 93.7h1.7v1.7h-1.7zM374.6 92.5h1.7v1.7h-1.7z"/>
<path fill="#2b2b2b" d="M371.7 109.7h2.6v2.6h-2.6zM371.0 91.2h2.6v2.6h-2.6zM397.8 106.3h2.6v2.6h-2.6zM392.1 86.0h2.6v2.6h-2.6zM381.9 87.1h2.6v2.6h-2.6zM385.2 108.2h2.6v2.6h-2.6zM398.1 109.2h2.6v2.6h-2.6zM380.5 87.9h2.6v2.6h-2.6zM398.7 89.3h2.6v2.6h-2.6zM374.7 89.9h2.6v2.6h-2.6zM399.1 84.8h2.6v2.6h-2.6zM402.3 90.2h2.6v2.6h-2.6zM375.8 113.9h2.6v2.6h-2.6zM390.6 86.9h2.6v2.6h-2.6zM400.4 103.8h2.6v2.6h-2.6zM369.1 105.7h2.6v2.6h-2.6zM375.5 106.8h2.6v2.6h-2.6zM369.2 84.2h2.6v2.6h-2.6zM400.2 104.7h2.6v2.6h-2.6zM390.4 109.0h2.6v2.6h-2.6zM398.6 89.9h2.6v2.6h-2.6zM392.3 107.9h2.6v2.6h-2.6zM385.9 110.5h2.6v2.6h-2.6zM398.4 88.0h2.6v2.6h-2.6zM392.1 86.7h2.6v2.6h-2.6zM374.2 109.8h2.6v2.6h-2.6zM371.1 110.2h2.6v2.6h-2.6zM400.6 159.7h2.6v2.6h-2.6zM399.3 146.5h2.6v2.6h-2.6zM397.6 133.2h2.6v2.6h-2.6zM387.2 137.1h2.6v2.6h-2.6zM382.8 140.8h2.6v2.6h-2.6zM369.3 145.9h2.6v2.6h-2.6zM395.2 143.9h2.6v2.6h-2.6zM387.3 137.5h2.6v2.6h-2.6zM398.2 145.2h2.6v2.6h-2.6zM399.1 138.0h2.6v2.6h-2.6zM369.0 141.9h2.6v2.6h-2.6zM369.1 131.4h2.6v2.6h-2.6zM397.8 141.1h2.6v2.6h-2.6zM398.1 135.8h2.6v2.6h-2.6zM376.3 136.7h2.6v2.6h-2.6zM370.4 168.8h2.6v2.6h-2.6zM389.8 138.1h2.6v2.6h-2.6zM428.3 159.4h2.6v2.6h-2.6zM415.3 137.2h2.6v2.6h-2.6zM431.2 128.3h2.6v2.6h-2.6zM430.9 164.7h2.6v2.6h-2.6zM430.5 161.8h2.6v2.6h-2.6zM432.8 159.7h2.6v2.6h-2.6zM429.0 143.0h2.6v2.6h-2.6zM407.8 146.7h2.6v2.6h-2.6zM414.8 148.3h2.6v2.6h-2.6zM430.8 136.8h2.6v2.6h-2.6zM414.5 150.9h2.6v2.6h-2.6zM435.8 155.7h2.6v2.6h-2.6zM422.5 140.8h2.6v2.6h-2.6zM414.9 157.8h2.6v2.6h-2.6zM417.0 149.6h2.6v2.6h-2.6zM417.0 168.1h2.6v2.6h-2.6zM412.3 158.5h2.6v2.6h-2.6zM414.3 146.1h2.6v2.6h-2.6zM431.3 149.4h2.6v2.6h-2.6zM423.0 133.0h2.6v2.6h-2.6zM426.5 139.2h2.6v2.6h-2.6zM419.7 139.0h2.6v2.6h-2.6zM425.4 142.5h2.6v2.6h-2.6zM419.5 142.4h2.6v2.6h-2.6zM415.1 138.2h2.6v2.6h-2.6zM416.5 130.0h2.6v2.6h-2.6zM424.8 135.8h2.6v2.6h-2.6zM435.3 150.6h2.6v2.6h-2.6zM415.8 166.1h2.6v2.6h-2.6zM417.7 139.3h2.6v2.6h-2.6zM411.1 157.0h2.6v2.6h-2.6zM412.4 137.7h2.6v2.6h-2.6zM415.4 153.4h2.6v2.6h-2.6zM428.9 143.5h2.6v2.6h-2.6zM406.8 152.5h2.6v2.6h-2.6zM422.3 141.9h2.6v2.6h-2.6zM432.1 152.7h2.6v2.6h-2.6zM416.4 147.5h2.6v2.6h-2.6zM429.8 142.9h2.6v2.6h-2.6zM430.1 146.7h2.6v2.6h-2.6zM432.8 140.6h2.6v2.6h-2.6zM430.2 156.2h2.6v2.6h-2.6zM431.1 150.4h2.6v2.6h-2.6zM418.1 160.7h2.6v2.6h-2.6zM369.6 145.8h2.6v2.6h-2.6zM400.3 168.5h2.6v2.6h-2.6zM395.6 139.9h2.6v2.6h-2.6zM379.6 139.8h2.6v2.6h-2.6zM392.6 140.2h2.6v2.6h-2.6zM398.5 141.8h2.6v2.6h-2.6zM387.5 140.8h2.6v2.6h-2.6zM400.4 157.2h2.6v2.6h-2.6zM381.0 126.7h2.6v2.6h-2.6zM375.3 129.8h2.6v2.6h-2.6zM381.3 129.2h2.6v2.6h-2.6zM371.4 129.0h2.6v2.6h-2.6zM378.0 136.6h2.6v2.6h-2.6zM386.9 127.6h2.6v2.6h-2.6zM369.0 129.2h2.6v2.6h-2.6zM373.8 127.3h2.6v2.6h-2.6zM374.1 133.4h2.6v2.6h-2.6zM391.2 132.5h2.6v2.6h-2.6zM394.7 136.5h2.6v2.6h-2.6zM385.9 135.9h2.6v2.6h-2.6zM372.4 130.8h2.6v2.6h-2.6zM397.9 128.7h2.6v2.6h-2.6zM446.7 65.7h2.6v2.6h-2.6zM394.7 77.7h2.6v2.6h-2.6zM398.7 80.7h2.6v2.6h-2.6zM420.7 91.7h2.6v2.6h-2.6zM426.7 101.7h2.6v2.6h-2.6zM423.7 117.7h2.6v2.6h-2.6zM417.7 123.7h2.6v2.6h-2.6zM431.7 126.7h2.6v2.6h-2.6zM425.7 129.7h2.6v2.6h-2.6zM439.7 163.7h2.6v2.6h-2.6z"/>
<path fill="#444444" d="M370.5 107.1h2.6v2.6h-2.6zM392.7 91.3h2.6v2.6h-2.6zM390.9 91.3h2.6v2.6h-2.6zM394.1 94.6h2.6v2.6h-2.6zM401.4 96.9h2.6v2.6h-2.6zM400.9 101.1h2.6v2.6h-2.6zM401.3 97.8h2.6v2.6h-2.6zM396.6 92.2h2.6v2.6h-2.6zM389.9 90.6h2.6v2.6h-2.6zM396.7 95.0h2.6v2.6h-2.6zM402.2 100.1h2.6v2.6h-2.6zM377.1 105.1h2.6v2.6h-2.6zM391.6 105.7h2.6v2.6h-2.6zM380.9 89.7h2.6v2.6h-2.6zM371.9 91.4h2.6v2.6h-2.6zM399.1 94.9h2.6v2.6h-2.6zM396.1 101.8h2.6v2.6h-2.6zM376.0 103.2h2.6v2.6h-2.6zM392.2 92.6h2.6v2.6h-2.6zM384.6 105.8h2.6v2.6h-2.6zM383.7 89.1h2.6v2.6h-2.6zM370.1 99.5h2.6v2.6h-2.6zM387.3 91.3h2.6v2.6h-2.6zM370.3 96.4h2.6v2.6h-2.6zM373.2 104.2h2.6v2.6h-2.6zM388.3 104.6h2.6v2.6h-2.6zM386.6 88.7h2.6v2.6h-2.6zM370.5 103.3h2.6v2.6h-2.6zM401.7 98.4h2.6v2.6h-2.6zM379.1 105.2h2.6v2.6h-2.6zM382.0 106.4h2.6v2.6h-2.6zM382.8 106.5h2.6v2.6h-2.6zM368.7 101.0h2.6v2.6h-2.6zM384.5 105.2h2.6v2.6h-2.6zM400.4 94.1h2.6v2.6h-2.6zM377.8 89.7h2.6v2.6h-2.6zM386.5 89.7h2.6v2.6h-2.6zM395.5 94.8h2.6v2.6h-2.6zM394.0 90.9h2.6v2.6h-2.6zM380.2 105.9h2.6v2.6h-2.6zM382.4 105.5h2.6v2.6h-2.6zM376.6 88.6h2.6v2.6h-2.6zM401.4 101.6h2.6v2.6h-2.6zM371.4 95.5h2.6v2.6h-2.6zM391.7 91.8h2.6v2.6h-2.6zM383.5 105.6h2.6v2.6h-2.6zM398.7 94.3h2.6v2.6h-2.6zM372.3 108.2h2.6v2.6h-2.6zM401.5 96.1h2.6v2.6h-2.6zM391.6 91.9h2.6v2.6h-2.6zM381.5 107.7h2.6v2.6h-2.6zM371.1 104.9h2.6v2.6h-2.6zM380.1 104.7h2.6v2.6h-2.6zM385.9 90.4h2.6v2.6h-2.6zM371.9 96.0h2.6v2.6h-2.6zM380.1 106.8h2.6v2.6h-2.6zM369.2 100.9h2.6v2.6h-2.6zM386.6 89.6h2.6v2.6h-2.6zM380.6 91.0h2.6v2.6h-2.6zM376.5 100.7h2.6v2.6h-2.6zM384.1 91.1h2.6v2.6h-2.6zM372.8 105.7h2.6v2.6h-2.6zM368.7 102.6h2.6v2.6h-2.6zM378.2 103.5h2.6v2.6h-2.6zM399.8 100.8h2.6v2.6h-2.6zM370.7 93.2h2.6v2.6h-2.6zM400.3 93.7h2.6v2.6h-2.6zM398.9 100.6h2.6v2.6h-2.6zM379.3 105.5h2.6v2.6h-2.6zM375.0 105.9h2.6v2.6h-2.6zM374.9 104.9h2.6v2.6h-2.6zM382.3 88.8h2.6v2.6h-2.6zM392.5 143.1h2.6v2.6h-2.6zM372.3 144.2h2.6v2.6h-2.6zM398.2 165.4h2.6v2.6h-2.6zM396.5 167.8h2.6v2.6h-2.6zM393.6 165.3h2.6v2.6h-2.6zM379.8 144.5h2.6v2.6h-2.6zM369.2 156.1h2.6v2.6h-2.6zM397.9 139.4h2.6v2.6h-2.6zM393.8 169.0h2.6v2.6h-2.6zM391.6 143.2h2.6v2.6h-2.6zM400.3 153.2h2.6v2.6h-2.6zM385.5 140.8h2.6v2.6h-2.6zM384.2 164.4h2.6v2.6h-2.6zM369.5 157.5h2.6v2.6h-2.6zM376.9 142.9h2.6v2.6h-2.6zM391.1 167.3h2.6v2.6h-2.6zM397.9 148.5h2.6v2.6h-2.6zM369.6 163.2h2.6v2.6h-2.6zM391.9 143.7h2.6v2.6h-2.6zM369.5 151.5h2.6v2.6h-2.6zM384.3 166.8h2.6v2.6h-2.6zM392.0 143.4h2.6v2.6h-2.6zM374.9 169.1h2.6v2.6h-2.6zM388.0 144.0h2.6v2.6h-2.6zM369.1 158.3h2.6v2.6h-2.6zM378.2 168.6h2.6v2.6h-2.6zM394.5 146.4h2.6v2.6h-2.6zM398.6 153.3h2.6v2.6h-2.6zM374.3 142.6h2.6v2.6h-2.6zM385.5 143.6h2.6v2.6h-2.6zM373.0 145.1h2.6v2.6h-2.6zM370.2 146.3h2.6v2.6h-2.6zM388.4 144.6h2.6v2.6h-2.6zM385.1 164.6h2.6v2.6h-2.6zM374.8 168.2h2.6v2.6h-2.6zM399.2 151.5h2.6v2.6h-2.6zM375.6 145.7h2.6v2.6h-2.6zM368.7 153.9h2.6v2.6h-2.6zM369.1 152.0h2.6v2.6h-2.6zM368.9 153.3h2.6v2.6h-2.6zM369.0 155.2h2.6v2.6h-2.6zM381.0 167.1h2.6v2.6h-2.6zM377.0 145.0h2.6v2.6h-2.6zM369.9 154.2h2.6v2.6h-2.6zM397.1 163.8h2.6v2.6h-2.6zM393.2 164.9h2.6v2.6h-2.6zM380.2 169.0h2.6v2.6h-2.6zM393.3 165.0h2.6v2.6h-2.6zM383.7 168.6h2.6v2.6h-2.6zM382.2 167.6h2.6v2.6h-2.6zM369.2 159.8h2.6v2.6h-2.6zM385.7 139.6h2.6v2.6h-2.6zM384.5 143.0h2.6v2.6h-2.6zM369.3 162.9h2.6v2.6h-2.6zM398.4 154.5h2.6v2.6h-2.6zM385.1 168.2h2.6v2.6h-2.6zM385.6 140.6h2.6v2.6h-2.6zM392.3 166.9h2.6v2.6h-2.6zM369.0 162.2h2.6v2.6h-2.6zM394.8 166.3h2.6v2.6h-2.6zM421.1 145.5h2.6v2.6h-2.6zM420.2 146.1h2.6v2.6h-2.6zM422.6 149.1h2.6v2.6h-2.6zM421.8 151.1h2.6v2.6h-2.6zM425.0 147.7h2.6v2.6h-2.6zM419.4 149.0h2.6v2.6h-2.6zM421.7 161.2h2.6v2.6h-2.6zM421.7 168.8h2.6v2.6h-2.6zM425.7 162.9h2.6v2.6h-2.6zM419.4 168.9h2.6v2.6h-2.6zM426.9 162.6h2.6v2.6h-2.6zM418.1 157.2h2.6v2.6h-2.6zM429.5 153.3h2.6v2.6h-2.6zM415.9 153.3h2.6v2.6h-2.6zM428.7 154.6h2.6v2.6h-2.6zM427.4 144.7h2.6v2.6h-2.6zM421.1 145.6h2.6v2.6h-2.6zM418.6 152.7h2.6v2.6h-2.6zM419.1 162.5h2.6v2.6h-2.6zM424.2 160.3h2.6v2.6h-2.6zM428.2 161.8h2.6v2.6h-2.6zM425.8 165.8h2.6v2.6h-2.6zM424.3 158.4h2.6v2.6h-2.6zM429.2 155.3h2.6v2.6h-2.6zM425.6 161.0h2.6v2.6h-2.6zM422.0 150.3h2.6v2.6h-2.6zM427.5 147.3h2.6v2.6h-2.6zM423.0 165.2h2.6v2.6h-2.6zM426.9 155.8h2.6v2.6h-2.6zM428.5 163.2h2.6v2.6h-2.6zM417.5 155.8h2.6v2.6h-2.6zM423.6 163.5h2.6v2.6h-2.6zM421.2 159.8h2.6v2.6h-2.6zM420.3 165.2h2.6v2.6h-2.6zM425.1 165.7h2.6v2.6h-2.6zM420.9 168.1h2.6v2.6h-2.6zM421.5 159.8h2.6v2.6h-2.6zM424.2 160.5h2.6v2.6h-2.6zM428.7 156.9h2.6v2.6h-2.6zM420.1 166.6h2.6v2.6h-2.6zM420.6 148.6h2.6v2.6h-2.6zM418.5 159.8h2.6v2.6h-2.6zM420.1 148.2h2.6v2.6h-2.6zM428.7 153.2h2.6v2.6h-2.6zM424.8 143.9h2.6v2.6h-2.6zM425.1 159.6h2.6v2.6h-2.6zM423.7 160.1h2.6v2.6h-2.6zM426.0 147.7h2.6v2.6h-2.6zM420.0 149.9h2.6v2.6h-2.6zM425.2 161.3h2.6v2.6h-2.6zM427.0 144.9h2.6v2.6h-2.6zM425.9 156.9h2.6v2.6h-2.6zM422.7 164.4h2.6v2.6h-2.6zM420.7 168.7h2.6v2.6h-2.6zM424.5 147.4h2.6v2.6h-2.6zM421.2 163.4h2.6v2.6h-2.6zM422.6 165.0h2.6v2.6h-2.6zM426.7 148.3h2.6v2.6h-2.6zM426.2 157.2h2.6v2.6h-2.6zM425.5 161.0h2.6v2.6h-2.6zM422.8 149.8h2.6v2.6h-2.6zM424.2 161.3h2.6v2.6h-2.6zM428.4 150.2h2.6v2.6h-2.6zM424.7 159.7h2.6v2.6h-2.6zM427.3 149.6h2.6v2.6h-2.6zM422.3 160.1h2.6v2.6h-2.6zM419.5 154.0h2.6v2.6h-2.6zM428.6 164.1h2.6v2.6h-2.6zM420.0 146.4h2.6v2.6h-2.6zM420.3 160.2h2.6v2.6h-2.6zM418.8 153.7h2.6v2.6h-2.6zM419.7 168.0h2.6v2.6h-2.6zM419.9 145.8h2.6v2.6h-2.6zM423.6 164.4h2.6v2.6h-2.6zM423.9 144.4h2.6v2.6h-2.6zM427.5 165.1h2.6v2.6h-2.6zM420.6 146.0h2.6v2.6h-2.6zM425.2 144.9h2.6v2.6h-2.6zM421.1 143.5h2.6v2.6h-2.6zM374.5 168.6h2.6v2.6h-2.6zM398.6 165.7h2.6v2.6h-2.6zM373.0 168.5h2.6v2.6h-2.6zM370.7 146.3h2.6v2.6h-2.6zM378.3 143.7h2.6v2.6h-2.6zM373.1 145.4h2.6v2.6h-2.6zM375.8 168.9h2.6v2.6h-2.6zM392.4 142.4h2.6v2.6h-2.6zM378.6 144.9h2.6v2.6h-2.6zM370.4 144.7h2.6v2.6h-2.6zM399.4 164.1h2.6v2.6h-2.6zM388.2 144.4h2.6v2.6h-2.6zM396.4 164.3h2.6v2.6h-2.6zM399.7 149.1h2.6v2.6h-2.6zM395.8 149.1h2.6v2.6h-2.6zM389.4 167.8h2.6v2.6h-2.6zM380.1 145.1h2.6v2.6h-2.6zM397.5 140.5h2.6v2.6h-2.6zM399.6 150.2h2.6v2.6h-2.6zM400.3 151.6h2.6v2.6h-2.6zM392.2 142.2h2.6v2.6h-2.6zM374.1 143.8h2.6v2.6h-2.6zM387.6 167.4h2.6v2.6h-2.6zM398.2 163.0h2.6v2.6h-2.6zM384.0 168.7h2.6v2.6h-2.6zM396.7 168.4h2.6v2.6h-2.6zM370.8 166.7h2.6v2.6h-2.6zM374.6 168.1h2.6v2.6h-2.6zM395.3 156.8h2.6v2.6h-2.6zM393.6 146.5h2.6v2.6h-2.6zM397.7 161.3h2.6v2.6h-2.6zM385.2 168.0h2.6v2.6h-2.6zM399.8 162.1h2.6v2.6h-2.6zM376.8 141.8h2.6v2.6h-2.6zM394.7 166.3h2.6v2.6h-2.6zM371.9 168.8h2.6v2.6h-2.6zM398.3 154.7h2.6v2.6h-2.6zM398.0 163.6h2.6v2.6h-2.6zM368.9 159.0h2.6v2.6h-2.6zM384.5 144.3h2.6v2.6h-2.6zM372.6 144.6h2.6v2.6h-2.6zM375.9 140.2h2.6v2.6h-2.6zM397.9 167.2h2.6v2.6h-2.6zM389.9 144.3h2.6v2.6h-2.6zM398.1 158.7h2.6v2.6h-2.6zM385.9 167.6h2.6v2.6h-2.6zM376.3 142.9h2.6v2.6h-2.6zM384.7 165.5h2.6v2.6h-2.6zM382.6 168.0h2.6v2.6h-2.6zM376.6 142.6h2.6v2.6h-2.6zM397.5 136.1h2.6v2.6h-2.6zM397.4 137.6h2.6v2.6h-2.6z"/>
<path fill="#525252" d="M401.0 97.9h2.6v2.6h-2.6zM387.7 99.2h2.6v2.6h-2.6zM398.8 100.1h2.6v2.6h-2.6zM392.5 96.8h2.6v2.6h-2.6zM377.3 91.8h2.6v2.6h-2.6zM390.9 101.7h2.6v2.6h-2.6zM383.8 100.9h2.6v2.6h-2.6zM392.7 95.5h2.6v2.6h-2.6zM373.5 93.8h2.6v2.6h-2.6zM381.2 97.7h2.6v2.6h-2.6zM387.7 95.9h2.6v2.6h-2.6zM391.1 103.4h2.6v2.6h-2.6zM381.0 94.8h2.6v2.6h-2.6zM375.5 91.4h2.6v2.6h-2.6zM385.3 96.5h2.6v2.6h-2.6zM384.3 102.3h2.6v2.6h-2.6zM393.3 96.5h2.6v2.6h-2.6zM395.4 95.2h2.6v2.6h-2.6zM377.9 90.8h2.6v2.6h-2.6zM391.9 96.9h2.6v2.6h-2.6zM390.7 96.3h2.6v2.6h-2.6zM389.0 103.9h2.6v2.6h-2.6zM388.9 100.3h2.6v2.6h-2.6zM400.4 96.5h2.6v2.6h-2.6zM381.9 93.4h2.6v2.6h-2.6zM391.1 103.0h2.6v2.6h-2.6zM395.4 97.8h2.6v2.6h-2.6zM383.9 99.4h2.6v2.6h-2.6zM372.2 101.6h2.6v2.6h-2.6zM379.4 97.4h2.6v2.6h-2.6zM390.6 96.2h2.6v2.6h-2.6zM376.7 96.5h2.6v2.6h-2.6zM389.6 99.0h2.6v2.6h-2.6zM387.6 97.4h2.6v2.6h-2.6zM382.2 94.9h2.6v2.6h-2.6zM400.7 97.0h2.6v2.6h-2.6zM379.4 96.6h2.6v2.6h-2.6zM397.8 96.3h2.6v2.6h-2.6zM382.5 95.9h2.6v2.6h-2.6zM377.9 99.1h2.6v2.6h-2.6zM376.8 100.4h2.6v2.6h-2.6zM386.7 96.1h2.6v2.6h-2.6zM387.7 96.6h2.6v2.6h-2.6zM383.6 104.0h2.6v2.6h-2.6zM385.0 101.5h2.6v2.6h-2.6zM390.1 95.2h2.6v2.6h-2.6zM384.1 101.9h2.6v2.6h-2.6zM379.1 95.1h2.6v2.6h-2.6zM385.9 94.1h2.6v2.6h-2.6zM376.8 97.4h2.6v2.6h-2.6zM380.5 92.3h2.6v2.6h-2.6zM383.3 92.0h2.6v2.6h-2.6zM384.2 93.7h2.6v2.6h-2.6zM373.2 99.9h2.6v2.6h-2.6zM388.4 95.3h2.6v2.6h-2.6zM382.6 93.0h2.6v2.6h-2.6zM392.1 100.2h2.6v2.6h-2.6zM385.7 98.8h2.6v2.6h-2.6zM370.4 100.4h2.6v2.6h-2.6zM394.3 103.1h2.6v2.6h-2.6zM381.8 95.7h2.6v2.6h-2.6zM392.0 101.4h2.6v2.6h-2.6zM378.6 96.4h2.6v2.6h-2.6zM394.4 97.3h2.6v2.6h-2.6zM371.9 95.1h2.6v2.6h-2.6zM396.5 96.2h2.6v2.6h-2.6zM387.4 101.3h2.6v2.6h-2.6zM398.2 98.4h2.6v2.6h-2.6zM383.2 94.1h2.6v2.6h-2.6zM391.0 103.0h2.6v2.6h-2.6zM375.4 97.8h2.6v2.6h-2.6zM373.2 100.8h2.6v2.6h-2.6zM396.6 100.3h2.6v2.6h-2.6zM389.4 101.4h2.6v2.6h-2.6zM390.1 101.3h2.6v2.6h-2.6zM390.8 94.4h2.6v2.6h-2.6zM392.0 96.2h2.6v2.6h-2.6zM390.5 98.0h2.6v2.6h-2.6zM386.4 97.3h2.6v2.6h-2.6zM398.2 97.2h2.6v2.6h-2.6zM387.4 99.3h2.6v2.6h-2.6zM379.9 103.2h2.6v2.6h-2.6zM391.8 96.9h2.6v2.6h-2.6zM376.9 92.7h2.6v2.6h-2.6zM392.7 101.6h2.6v2.6h-2.6zM383.0 101.7h2.6v2.6h-2.6zM370.3 100.1h2.6v2.6h-2.6zM381.2 94.0h2.6v2.6h-2.6zM384.7 92.5h2.6v2.6h-2.6zM391.6 103.1h2.6v2.6h-2.6zM397.4 98.7h2.6v2.6h-2.6zM386.5 103.7h2.6v2.6h-2.6zM376.4 93.1h2.6v2.6h-2.6zM379.4 96.6h2.6v2.6h-2.6zM383.3 92.2h2.6v2.6h-2.6zM394.9 102.4h2.6v2.6h-2.6zM373.7 101.1h2.6v2.6h-2.6zM395.1 97.8h2.6v2.6h-2.6zM392.4 99.0h2.6v2.6h-2.6zM381.7 98.9h2.6v2.6h-2.6zM372.0 93.7h2.6v2.6h-2.6zM387.2 94.5h2.6v2.6h-2.6zM379.5 97.0h2.6v2.6h-2.6zM385.6 96.7h2.6v2.6h-2.6zM372.1 96.6h2.6v2.6h-2.6zM386.8 99.4h2.6v2.6h-2.6zM388.5 96.0h2.6v2.6h-2.6zM376.8 95.5h2.6v2.6h-2.6zM371.8 99.1h2.6v2.6h-2.6zM387.2 96.8h2.6v2.6h-2.6zM373.4 93.2h2.6v2.6h-2.6zM373.5 101.3h2.6v2.6h-2.6zM387.1 98.9h2.6v2.6h-2.6zM382.7 98.4h2.6v2.6h-2.6zM395.3 94.8h2.6v2.6h-2.6zM394.2 102.0h2.6v2.6h-2.6zM388.6 95.4h2.6v2.6h-2.6zM384.1 99.6h2.6v2.6h-2.6zM390.2 94.1h2.6v2.6h-2.6zM390.0 102.9h2.6v2.6h-2.6zM392.0 101.8h2.6v2.6h-2.6zM394.2 99.4h2.6v2.6h-2.6zM379.1 95.7h2.6v2.6h-2.6zM389.5 101.7h2.6v2.6h-2.6zM396.5 100.7h2.6v2.6h-2.6zM373.1 100.3h2.6v2.6h-2.6zM383.0 101.4h2.6v2.6h-2.6zM383.1 99.0h2.6v2.6h-2.6zM389.3 98.8h2.6v2.6h-2.6zM378.2 90.6h2.6v2.6h-2.6zM390.4 103.7h2.6v2.6h-2.6zM389.5 94.0h2.6v2.6h-2.6zM389.8 92.9h2.6v2.6h-2.6zM379.6 91.2h2.6v2.6h-2.6zM374.9 93.9h2.6v2.6h-2.6zM389.6 101.9h2.6v2.6h-2.6zM398.1 94.6h2.6v2.6h-2.6zM381.6 94.1h2.6v2.6h-2.6zM392.6 100.7h2.6v2.6h-2.6zM380.1 105.4h2.6v2.6h-2.6zM380.6 94.0h2.6v2.6h-2.6zM387.6 97.4h2.6v2.6h-2.6zM377.1 93.0h2.6v2.6h-2.6zM386.5 102.0h2.6v2.6h-2.6zM378.6 98.8h2.6v2.6h-2.6zM374.4 98.2h2.6v2.6h-2.6zM376.6 93.7h2.6v2.6h-2.6zM386.4 96.2h2.6v2.6h-2.6zM378.8 103.2h2.6v2.6h-2.6zM385.6 103.4h2.6v2.6h-2.6zM375.5 92.1h2.6v2.6h-2.6zM378.6 96.7h2.6v2.6h-2.6zM379.8 98.8h2.6v2.6h-2.6zM381.8 97.1h2.6v2.6h-2.6zM388.3 99.1h2.6v2.6h-2.6zM382.0 96.2h2.6v2.6h-2.6zM395.0 99.1h2.6v2.6h-2.6zM374.8 95.4h2.6v2.6h-2.6zM385.8 97.7h2.6v2.6h-2.6zM399.8 98.6h2.6v2.6h-2.6zM375.1 97.1h2.6v2.6h-2.6zM386.3 104.1h2.6v2.6h-2.6zM382.0 97.6h2.6v2.6h-2.6zM375.4 95.6h2.6v2.6h-2.6zM387.9 100.9h2.6v2.6h-2.6zM387.9 102.9h2.6v2.6h-2.6zM390.3 103.8h2.6v2.6h-2.6zM376.5 95.2h2.6v2.6h-2.6zM382.5 93.0h2.6v2.6h-2.6zM383.5 95.1h2.6v2.6h-2.6zM371.2 94.5h2.6v2.6h-2.6zM378.3 101.2h2.6v2.6h-2.6zM379.6 93.9h2.6v2.6h-2.6zM377.6 97.3h2.6v2.6h-2.6zM373.5 101.0h2.6v2.6h-2.6zM375.6 101.0h2.6v2.6h-2.6zM376.9 96.7h2.6v2.6h-2.6zM380.4 99.6h2.6v2.6h-2.6zM378.6 95.3h2.6v2.6h-2.6zM388.3 95.5h2.6v2.6h-2.6zM372.3 99.8h2.6v2.6h-2.6zM396.5 96.7h2.6v2.6h-2.6zM386.1 94.4h2.6v2.6h-2.6zM392.4 97.8h2.6v2.6h-2.6zM382.5 97.1h2.6v2.6h-2.6zM370.7 102.2h2.6v2.6h-2.6zM396.3 98.5h2.6v2.6h-2.6zM378.5 93.8h2.6v2.6h-2.6zM391.2 96.6h2.6v2.6h-2.6zM378.8 100.5h2.6v2.6h-2.6zM401.0 98.2h2.6v2.6h-2.6zM387.6 103.3h2.6v2.6h-2.6zM391.4 102.6h2.6v2.6h-2.6zM386.1 97.5h2.6v2.6h-2.6zM399.5 96.6h2.6v2.6h-2.6zM385.3 96.6h2.6v2.6h-2.6zM378.2 102.1h2.6v2.6h-2.6zM374.9 98.0h2.6v2.6h-2.6zM376.1 100.8h2.6v2.6h-2.6zM386.6 102.6h2.6v2.6h-2.6zM373.0 99.3h2.6v2.6h-2.6zM379.0 98.1h2.6v2.6h-2.6zM379.1 100.1h2.6v2.6h-2.6zM395.0 101.2h2.6v2.6h-2.6zM381.0 104.2h2.6v2.6h-2.6zM382.2 101.8h2.6v2.6h-2.6zM389.9 99.1h2.6v2.6h-2.6zM392.0 99.8h2.6v2.6h-2.6zM389.3 95.7h2.6v2.6h-2.6zM382.2 98.4h2.6v2.6h-2.6zM380.5 100.5h2.6v2.6h-2.6zM384.8 98.0h2.6v2.6h-2.6zM389.9 95.9h2.6v2.6h-2.6zM380.5 103.7h2.6v2.6h-2.6zM380.6 98.5h2.6v2.6h-2.6zM386.9 96.8h2.6v2.6h-2.6zM380.2 98.0h2.6v2.6h-2.6zM385.6 96.8h2.6v2.6h-2.6zM384.2 94.3h2.6v2.6h-2.6zM373.2 100.3h2.6v2.6h-2.6zM398.5 96.7h2.6v2.6h-2.6zM389.8 91.9h2.6v2.6h-2.6zM373.3 102.6h2.6v2.6h-2.6zM372.8 96.2h2.6v2.6h-2.6zM377.7 91.0h2.6v2.6h-2.6zM376.5 97.4h2.6v2.6h-2.6zM372.5 94.4h2.6v2.6h-2.6zM385.0 98.6h2.6v2.6h-2.6zM379.3 92.1h2.6v2.6h-2.6zM372.8 95.8h2.6v2.6h-2.6zM379.0 91.2h2.6v2.6h-2.6zM385.9 98.1h2.6v2.6h-2.6zM372.0 94.2h2.6v2.6h-2.6zM392.2 98.4h2.6v2.6h-2.6zM390.0 91.6h2.6v2.6h-2.6zM379.4 97.8h2.6v2.6h-2.6zM373.5 98.8h2.6v2.6h-2.6zM379.9 95.3h2.6v2.6h-2.6zM373.2 102.8h2.6v2.6h-2.6zM389.2 94.0h2.6v2.6h-2.6zM381.4 101.0h2.6v2.6h-2.6zM384.4 100.0h2.6v2.6h-2.6zM380.9 96.0h2.6v2.6h-2.6zM391.3 96.1h2.6v2.6h-2.6zM391.4 96.5h2.6v2.6h-2.6zM388.1 93.1h2.6v2.6h-2.6zM383.7 95.3h2.6v2.6h-2.6zM394.7 97.2h2.6v2.6h-2.6zM390.8 99.1h2.6v2.6h-2.6zM379.4 97.5h2.6v2.6h-2.6zM382.0 94.4h2.6v2.6h-2.6zM388.7 97.9h2.6v2.6h-2.6zM389.6 97.3h2.6v2.6h-2.6zM377.1 90.8h2.6v2.6h-2.6zM392.9 103.8h2.6v2.6h-2.6zM387.0 99.0h2.6v2.6h-2.6zM390.6 93.2h2.6v2.6h-2.6zM378.8 98.5h2.6v2.6h-2.6zM395.1 100.5h2.6v2.6h-2.6zM378.5 97.9h2.6v2.6h-2.6zM393.2 103.1h2.6v2.6h-2.6zM373.5 93.6h2.6v2.6h-2.6zM393.0 101.4h2.6v2.6h-2.6zM400.2 99.1h2.6v2.6h-2.6zM379.7 96.7h2.6v2.6h-2.6zM397.2 99.4h2.6v2.6h-2.6zM393.5 101.7h2.6v2.6h-2.6zM386.3 101.4h2.6v2.6h-2.6zM384.9 99.2h2.6v2.6h-2.6zM375.7 99.5h2.6v2.6h-2.6zM384.7 95.3h2.6v2.6h-2.6zM379.4 98.0h2.6v2.6h-2.6zM390.0 96.0h2.6v2.6h-2.6zM370.3 100.8h2.6v2.6h-2.6zM396.8 99.4h2.6v2.6h-2.6zM381.5 96.1h2.6v2.6h-2.6zM378.2 94.8h2.6v2.6h-2.6zM385.6 101.4h2.6v2.6h-2.6zM390.0 99.2h2.6v2.6h-2.6zM391.2 98.8h2.6v2.6h-2.6zM389.0 94.4h2.6v2.6h-2.6zM384.3 94.1h2.6v2.6h-2.6zM387.6 94.3h2.6v2.6h-2.6zM371.5 99.8h2.6v2.6h-2.6zM378.7 101.6h2.6v2.6h-2.6zM393.0 97.2h2.6v2.6h-2.6zM384.9 93.4h2.6v2.6h-2.6zM383.2 101.1h2.6v2.6h-2.6zM372.2 158.4h2.6v2.6h-2.6zM382.4 161.1h2.6v2.6h-2.6zM382.6 160.2h2.6v2.6h-2.6zM380.8 157.4h2.6v2.6h-2.6zM374.5 157.3h2.6v2.6h-2.6zM388.8 152.2h2.6v2.6h-2.6zM377.6 152.2h2.6v2.6h-2.6zM379.4 153.8h2.6v2.6h-2.6zM384.9 151.0h2.6v2.6h-2.6zM378.9 164.1h2.6v2.6h-2.6zM382.1 149.6h2.6v2.6h-2.6zM379.0 158.1h2.6v2.6h-2.6zM386.7 157.1h2.6v2.6h-2.6zM387.9 154.4h2.6v2.6h-2.6zM390.3 158.5h2.6v2.6h-2.6zM377.4 152.9h2.6v2.6h-2.6zM390.3 165.2h2.6v2.6h-2.6zM394.4 154.6h2.6v2.6h-2.6zM377.5 160.2h2.6v2.6h-2.6zM377.6 148.2h2.6v2.6h-2.6zM387.5 152.5h2.6v2.6h-2.6zM374.4 156.2h2.6v2.6h-2.6zM385.9 163.2h2.6v2.6h-2.6zM375.1 154.5h2.6v2.6h-2.6zM393.3 160.0h2.6v2.6h-2.6zM380.3 155.9h2.6v2.6h-2.6zM382.1 151.6h2.6v2.6h-2.6zM389.5 152.2h2.6v2.6h-2.6zM379.0 159.3h2.6v2.6h-2.6zM379.7 157.1h2.6v2.6h-2.6zM383.0 157.2h2.6v2.6h-2.6zM386.6 154.9h2.6v2.6h-2.6zM389.7 147.5h2.6v2.6h-2.6zM385.3 150.3h2.6v2.6h-2.6zM389.9 158.5h2.6v2.6h-2.6zM374.2 155.3h2.6v2.6h-2.6zM372.2 157.7h2.6v2.6h-2.6zM373.1 153.3h2.6v2.6h-2.6zM386.1 151.1h2.6v2.6h-2.6zM389.2 163.9h2.6v2.6h-2.6zM375.9 158.0h2.6v2.6h-2.6zM377.1 161.4h2.6v2.6h-2.6zM386.5 152.6h2.6v2.6h-2.6zM396.5 160.6h2.6v2.6h-2.6zM381.1 148.7h2.6v2.6h-2.6zM373.8 146.6h2.6v2.6h-2.6zM381.3 161.2h2.6v2.6h-2.6zM389.2 149.1h2.6v2.6h-2.6zM394.0 156.8h2.6v2.6h-2.6zM388.8 164.2h2.6v2.6h-2.6zM395.8 152.1h2.6v2.6h-2.6zM377.8 147.0h2.6v2.6h-2.6zM381.3 146.4h2.6v2.6h-2.6zM385.2 158.8h2.6v2.6h-2.6zM372.5 159.6h2.6v2.6h-2.6zM379.4 160.2h2.6v2.6h-2.6zM385.6 159.9h2.6v2.6h-2.6zM383.3 157.9h2.6v2.6h-2.6zM377.3 160.8h2.6v2.6h-2.6zM389.2 151.3h2.6v2.6h-2.6zM392.9 153.7h2.6v2.6h-2.6zM382.6 148.9h2.6v2.6h-2.6zM388.3 156.6h2.6v2.6h-2.6zM384.1 158.0h2.6v2.6h-2.6zM372.0 164.4h2.6v2.6h-2.6zM384.2 155.4h2.6v2.6h-2.6zM389.3 156.4h2.6v2.6h-2.6zM383.1 145.4h2.6v2.6h-2.6zM387.8 155.8h2.6v2.6h-2.6zM379.6 167.9h2.6v2.6h-2.6zM387.1 146.2h2.6v2.6h-2.6zM391.5 146.0h2.6v2.6h-2.6zM374.1 155.7h2.6v2.6h-2.6zM390.7 157.7h2.6v2.6h-2.6zM379.0 158.8h2.6v2.6h-2.6zM376.0 165.1h2.6v2.6h-2.6zM376.1 161.8h2.6v2.6h-2.6zM389.3 150.1h2.6v2.6h-2.6zM384.1 161.7h2.6v2.6h-2.6zM374.8 151.9h2.6v2.6h-2.6zM388.5 147.4h2.6v2.6h-2.6zM385.4 145.3h2.6v2.6h-2.6zM382.7 144.7h2.6v2.6h-2.6zM380.8 160.0h2.6v2.6h-2.6zM372.5 164.2h2.6v2.6h-2.6zM393.2 148.6h2.6v2.6h-2.6zM380.3 158.5h2.6v2.6h-2.6zM389.5 145.1h2.6v2.6h-2.6zM379.2 162.5h2.6v2.6h-2.6zM378.6 163.1h2.6v2.6h-2.6zM379.1 165.7h2.6v2.6h-2.6zM370.2 158.7h2.6v2.6h-2.6zM382.8 158.1h2.6v2.6h-2.6zM389.5 165.3h2.6v2.6h-2.6zM374.4 152.7h2.6v2.6h-2.6zM382.5 145.0h2.6v2.6h-2.6zM388.2 153.0h2.6v2.6h-2.6zM378.0 156.3h2.6v2.6h-2.6zM382.0 155.4h2.6v2.6h-2.6zM381.3 152.4h2.6v2.6h-2.6zM389.6 148.6h2.6v2.6h-2.6zM390.7 164.9h2.6v2.6h-2.6zM392.1 152.8h2.6v2.6h-2.6zM388.5 150.1h2.6v2.6h-2.6zM372.5 157.1h2.6v2.6h-2.6zM379.0 156.6h2.6v2.6h-2.6zM389.4 155.5h2.6v2.6h-2.6zM393.4 148.1h2.6v2.6h-2.6zM373.7 163.1h2.6v2.6h-2.6zM374.2 152.2h2.6v2.6h-2.6zM387.0 156.7h2.6v2.6h-2.6zM376.5 160.4h2.6v2.6h-2.6zM373.6 159.5h2.6v2.6h-2.6zM387.4 155.8h2.6v2.6h-2.6zM379.0 146.5h2.6v2.6h-2.6zM371.5 149.0h2.6v2.6h-2.6zM388.2 155.8h2.6v2.6h-2.6zM382.4 153.5h2.6v2.6h-2.6zM389.0 153.4h2.6v2.6h-2.6zM389.9 151.7h2.6v2.6h-2.6zM380.3 160.2h2.6v2.6h-2.6zM382.1 147.9h2.6v2.6h-2.6zM395.1 161.5h2.6v2.6h-2.6zM377.4 159.1h2.6v2.6h-2.6zM383.5 151.0h2.6v2.6h-2.6zM391.2 156.0h2.6v2.6h-2.6zM394.4 161.6h2.6v2.6h-2.6zM392.9 152.0h2.6v2.6h-2.6zM395.0 161.8h2.6v2.6h-2.6zM378.1 155.8h2.6v2.6h-2.6zM383.8 149.9h2.6v2.6h-2.6zM389.7 152.3h2.6v2.6h-2.6zM370.2 161.1h2.6v2.6h-2.6zM377.0 165.6h2.6v2.6h-2.6zM394.4 149.9h2.6v2.6h-2.6zM391.9 166.3h2.6v2.6h-2.6zM377.3 147.7h2.6v2.6h-2.6zM377.4 160.1h2.6v2.6h-2.6zM385.7 153.5h2.6v2.6h-2.6zM383.5 161.5h2.6v2.6h-2.6zM373.3 148.9h2.6v2.6h-2.6zM395.5 148.3h2.6v2.6h-2.6zM394.9 155.9h2.6v2.6h-2.6zM381.6 153.7h2.6v2.6h-2.6zM388.6 155.0h2.6v2.6h-2.6zM378.6 160.1h2.6v2.6h-2.6zM399.1 152.9h2.6v2.6h-2.6zM371.6 156.8h2.6v2.6h-2.6zM393.6 149.8h2.6v2.6h-2.6zM375.3 159.2h2.6v2.6h-2.6zM392.7 150.9h2.6v2.6h-2.6zM376.6 164.4h2.6v2.6h-2.6zM385.3 155.2h2.6v2.6h-2.6zM378.7 152.5h2.6v2.6h-2.6zM378.7 151.7h2.6v2.6h-2.6zM379.4 165.6h2.6v2.6h-2.6zM382.1 151.2h2.6v2.6h-2.6zM390.1 148.7h2.6v2.6h-2.6zM393.2 153.6h2.6v2.6h-2.6zM391.3 154.6h2.6v2.6h-2.6zM398.5 152.6h2.6v2.6h-2.6zM388.7 154.1h2.6v2.6h-2.6zM394.3 155.9h2.6v2.6h-2.6zM394.3 157.6h2.6v2.6h-2.6zM378.9 148.9h2.6v2.6h-2.6zM383.3 144.7h2.6v2.6h-2.6zM387.5 155.2h2.6v2.6h-2.6zM372.3 147.5h2.6v2.6h-2.6zM394.5 161.5h2.6v2.6h-2.6zM386.6 152.0h2.6v2.6h-2.6zM391.6 148.1h2.6v2.6h-2.6zM390.3 151.2h2.6v2.6h-2.6zM388.8 144.9h2.6v2.6h-2.6zM392.8 147.4h2.6v2.6h-2.6zM384.6 161.6h2.6v2.6h-2.6zM397.8 153.0h2.6v2.6h-2.6zM375.7 164.6h2.6v2.6h-2.6zM393.9 160.2h2.6v2.6h-2.6zM389.8 152.0h2.6v2.6h-2.6zM385.6 151.0h2.6v2.6h-2.6zM386.9 164.4h2.6v2.6h-2.6zM386.0 148.0h2.6v2.6h-2.6zM382.5 153.4h2.6v2.6h-2.6zM387.1 144.9h2.6v2.6h-2.6zM390.5 151.6h2.6v2.6h-2.6zM379.1 165.7h2.6v2.6h-2.6zM386.5 150.4h2.6v2.6h-2.6zM374.8 160.5h2.6v2.6h-2.6zM380.8 162.8h2.6v2.6h-2.6zM387.9 165.5h2.6v2.6h-2.6zM391.4 160.9h2.6v2.6h-2.6zM392.7 157.3h2.6v2.6h-2.6zM372.5 160.5h2.6v2.6h-2.6zM379.3 161.7h2.6v2.6h-2.6zM385.6 155.4h2.6v2.6h-2.6zM381.0 163.5h2.6v2.6h-2.6zM388.2 146.5h2.6v2.6h-2.6zM378.5 152.9h2.6v2.6h-2.6zM383.4 146.0h2.6v2.6h-2.6zM380.3 158.5h2.6v2.6h-2.6zM381.0 154.5h2.6v2.6h-2.6zM380.4 153.5h2.6v2.6h-2.6zM379.6 161.3h2.6v2.6h-2.6zM392.6 150.4h2.6v2.6h-2.6zM377.0 154.3h2.6v2.6h-2.6zM388.8 159.4h2.6v2.6h-2.6zM377.5 159.6h2.6v2.6h-2.6zM370.6 157.5h2.6v2.6h-2.6zM378.7 160.8h2.6v2.6h-2.6zM388.2 153.8h2.6v2.6h-2.6zM377.4 154.2h2.6v2.6h-2.6zM390.7 146.3h2.6v2.6h-2.6zM391.3 153.5h2.6v2.6h-2.6zM389.9 153.1h2.6v2.6h-2.6zM389.4 166.6h2.6v2.6h-2.6zM384.0 146.7h2.6v2.6h-2.6zM376.6 157.0h2.6v2.6h-2.6zM370.3 152.9h2.6v2.6h-2.6zM378.9 163.1h2.6v2.6h-2.6zM391.1 154.6h2.6v2.6h-2.6zM383.7 148.2h2.6v2.6h-2.6zM372.4 155.9h2.6v2.6h-2.6zM393.7 162.4h2.6v2.6h-2.6zM373.1 157.6h2.6v2.6h-2.6zM371.0 160.4h2.6v2.6h-2.6zM376.5 162.2h2.6v2.6h-2.6zM382.8 151.6h2.6v2.6h-2.6zM386.5 157.3h2.6v2.6h-2.6zM388.8 167.1h2.6v2.6h-2.6zM391.8 151.2h2.6v2.6h-2.6zM384.2 148.7h2.6v2.6h-2.6zM381.4 160.2h2.6v2.6h-2.6zM383.0 161.8h2.6v2.6h-2.6zM387.9 149.0h2.6v2.6h-2.6zM383.5 149.2h2.6v2.6h-2.6zM370.9 151.9h2.6v2.6h-2.6zM390.9 156.2h2.6v2.6h-2.6zM381.3 156.9h2.6v2.6h-2.6zM388.4 153.9h2.6v2.6h-2.6zM392.1 159.4h2.6v2.6h-2.6zM386.5 146.6h2.6v2.6h-2.6zM387.9 162.5h2.6v2.6h-2.6zM378.7 167.5h2.6v2.6h-2.6zM388.2 162.6h2.6v2.6h-2.6zM381.7 151.6h2.6v2.6h-2.6zM384.8 158.5h2.6v2.6h-2.6zM386.7 166.7h2.6v2.6h-2.6zM393.0 158.1h2.6v2.6h-2.6zM379.4 165.9h2.6v2.6h-2.6zM372.8 151.2h2.6v2.6h-2.6zM371.8 152.4h2.6v2.6h-2.6zM378.7 146.1h2.6v2.6h-2.6zM387.9 148.9h2.6v2.6h-2.6zM381.3 152.6h2.6v2.6h-2.6zM371.3 151.9h2.6v2.6h-2.6zM387.9 150.1h2.6v2.6h-2.6zM394.9 159.8h2.6v2.6h-2.6zM374.1 157.9h2.6v2.6h-2.6zM378.5 148.2h2.6v2.6h-2.6zM379.8 152.7h2.6v2.6h-2.6zM391.9 149.1h2.6v2.6h-2.6zM374.5 148.8h2.6v2.6h-2.6zM382.9 157.7h2.6v2.6h-2.6zM374.0 146.8h2.6v2.6h-2.6zM398.1 153.7h2.6v2.6h-2.6zM390.4 162.6h2.6v2.6h-2.6zM380.7 154.4h2.6v2.6h-2.6zM388.7 160.1h2.6v2.6h-2.6zM377.4 153.2h2.6v2.6h-2.6zM376.9 150.3h2.6v2.6h-2.6zM372.9 156.8h2.6v2.6h-2.6zM395.3 155.3h2.6v2.6h-2.6zM374.5 167.2h2.6v2.6h-2.6zM371.8 158.9h2.6v2.6h-2.6zM386.7 147.9h2.6v2.6h-2.6zM373.9 163.2h2.6v2.6h-2.6zM394.0 155.2h2.6v2.6h-2.6zM376.5 163.8h2.6v2.6h-2.6zM388.8 152.9h2.6v2.6h-2.6zM381.4 158.2h2.6v2.6h-2.6zM383.3 157.6h2.6v2.6h-2.6zM393.3 160.0h2.6v2.6h-2.6zM390.2 163.2h2.6v2.6h-2.6zM380.9 151.3h2.6v2.6h-2.6zM380.9 157.4h2.6v2.6h-2.6zM388.9 149.5h2.6v2.6h-2.6zM376.7 148.9h2.6v2.6h-2.6zM391.3 158.7h2.6v2.6h-2.6zM395.3 164.4h2.6v2.6h-2.6zM384.6 153.1h2.6v2.6h-2.6zM371.1 151.6h2.6v2.6h-2.6zM378.5 154.6h2.6v2.6h-2.6zM375.4 156.6h2.6v2.6h-2.6zM392.8 154.6h2.6v2.6h-2.6zM390.6 154.5h2.6v2.6h-2.6zM388.3 149.5h2.6v2.6h-2.6zM381.6 157.1h2.6v2.6h-2.6zM390.1 154.5h2.6v2.6h-2.6zM393.3 159.3h2.6v2.6h-2.6zM373.0 148.2h2.6v2.6h-2.6zM379.3 148.4h2.6v2.6h-2.6zM376.4 148.1h2.6v2.6h-2.6zM374.0 153.8h2.6v2.6h-2.6zM377.5 158.8h2.6v2.6h-2.6zM380.7 163.3h2.6v2.6h-2.6zM394.8 161.5h2.6v2.6h-2.6zM374.9 164.1h2.6v2.6h-2.6zM375.0 150.7h2.6v2.6h-2.6zM377.1 152.5h2.6v2.6h-2.6zM386.9 157.2h2.6v2.6h-2.6zM384.9 156.1h2.6v2.6h-2.6zM388.6 153.3h2.6v2.6h-2.6zM379.7 151.2h2.6v2.6h-2.6zM384.1 154.9h2.6v2.6h-2.6zM371.4 153.6h2.6v2.6h-2.6zM371.6 157.6h2.6v2.6h-2.6zM376.6 151.1h2.6v2.6h-2.6zM378.4 148.1h2.6v2.6h-2.6zM396.3 152.8h2.6v2.6h-2.6zM390.6 159.4h2.6v2.6h-2.6zM379.8 156.1h2.6v2.6h-2.6zM387.1 146.7h2.6v2.6h-2.6zM388.2 161.5h2.6v2.6h-2.6zM381.9 161.6h2.6v2.6h-2.6zM383.0 155.2h2.6v2.6h-2.6zM374.7 167.4h2.6v2.6h-2.6zM389.3 148.4h2.6v2.6h-2.6zM374.5 147.0h2.6v2.6h-2.6zM381.1 153.7h2.6v2.6h-2.6zM393.6 148.7h2.6v2.6h-2.6zM383.2 160.2h2.6v2.6h-2.6zM383.2 150.4h2.6v2.6h-2.6zM383.9 156.4h2.6v2.6h-2.6zM378.7 147.8h2.6v2.6h-2.6zM388.6 158.9h2.6v2.6h-2.6zM370.9 152.5h2.6v2.6h-2.6zM375.7 162.8h2.6v2.6h-2.6zM375.9 157.8h2.6v2.6h-2.6zM373.2 151.4h2.6v2.6h-2.6zM381.0 152.9h2.6v2.6h-2.6zM375.8 160.2h2.6v2.6h-2.6zM375.9 159.9h2.6v2.6h-2.6zM379.8 149.1h2.6v2.6h-2.6zM390.7 148.4h2.6v2.6h-2.6zM379.5 155.0h2.6v2.6h-2.6zM387.0 156.2h2.6v2.6h-2.6zM373.3 164.8h2.6v2.6h-2.6zM384.8 161.1h2.6v2.6h-2.6zM383.0 146.7h2.6v2.6h-2.6zM385.0 162.0h2.6v2.6h-2.6zM379.6 158.1h2.6v2.6h-2.6zM391.8 148.7h2.6v2.6h-2.6zM374.7 152.1h2.6v2.6h-2.6zM389.5 165.4h2.6v2.6h-2.6zM383.4 164.1h2.6v2.6h-2.6zM392.4 153.9h2.6v2.6h-2.6zM390.9 158.7h2.6v2.6h-2.6zM375.7 156.6h2.6v2.6h-2.6zM384.5 159.2h2.6v2.6h-2.6zM377.7 165.0h2.6v2.6h-2.6zM387.9 156.0h2.6v2.6h-2.6zM375.3 159.4h2.6v2.6h-2.6zM393.2 152.7h2.6v2.6h-2.6zM395.9 155.7h2.6v2.6h-2.6zM377.3 167.0h2.6v2.6h-2.6zM384.2 151.9h2.6v2.6h-2.6zM387.6 147.4h2.6v2.6h-2.6zM383.6 158.8h2.6v2.6h-2.6zM370.6 162.2h2.6v2.6h-2.6zM373.2 150.2h2.6v2.6h-2.6zM385.2 160.9h2.6v2.6h-2.6zM374.0 157.4h2.6v2.6h-2.6zM390.0 159.5h2.6v2.6h-2.6zM381.3 161.0h2.6v2.6h-2.6zM378.1 148.9h2.6v2.6h-2.6zM373.8 165.2h2.6v2.6h-2.6zM396.1 159.5h2.6v2.6h-2.6zM372.5 149.5h2.6v2.6h-2.6zM378.6 164.9h2.6v2.6h-2.6zM377.8 164.1h2.6v2.6h-2.6zM396.4 153.9h2.6v2.6h-2.6zM393.1 153.0h2.6v2.6h-2.6zM394.5 150.3h2.6v2.6h-2.6zM427.6 152.0h2.6v2.6h-2.6zM423.7 155.6h2.6v2.6h-2.6zM419.6 159.3h2.6v2.6h-2.6zM425.6 151.4h2.6v2.6h-2.6zM419.5 155.7h2.6v2.6h-2.6zM425.2 154.8h2.6v2.6h-2.6zM421.9 155.1h2.6v2.6h-2.6zM422.3 156.5h2.6v2.6h-2.6zM420.4 154.0h2.6v2.6h-2.6zM421.4 156.1h2.6v2.6h-2.6zM423.5 151.0h2.6v2.6h-2.6zM420.9 157.2h2.6v2.6h-2.6zM425.3 152.0h2.6v2.6h-2.6zM427.8 153.6h2.6v2.6h-2.6zM426.8 151.0h2.6v2.6h-2.6zM421.5 152.5h2.6v2.6h-2.6zM422.0 154.6h2.6v2.6h-2.6zM425.4 152.9h2.6v2.6h-2.6zM420.9 157.1h2.6v2.6h-2.6zM422.5 153.5h2.6v2.6h-2.6zM425.9 153.2h2.6v2.6h-2.6zM422.3 152.0h2.6v2.6h-2.6zM427.9 154.0h2.6v2.6h-2.6zM421.8 154.7h2.6v2.6h-2.6zM423.9 149.5h2.6v2.6h-2.6zM421.3 157.1h2.6v2.6h-2.6zM423.8 153.7h2.6v2.6h-2.6zM427.1 152.4h2.6v2.6h-2.6zM419.3 157.8h2.6v2.6h-2.6zM420.9 151.9h2.6v2.6h-2.6zM424.6 150.5h2.6v2.6h-2.6zM425.4 151.4h2.6v2.6h-2.6zM420.9 158.2h2.6v2.6h-2.6zM424.3 155.3h2.6v2.6h-2.6zM424.4 155.1h2.6v2.6h-2.6zM420.6 156.5h2.6v2.6h-2.6zM426.4 154.9h2.6v2.6h-2.6zM422.9 153.5h2.6v2.6h-2.6zM427.5 154.6h2.6v2.6h-2.6zM426.5 151.4h2.6v2.6h-2.6zM425.4 149.1h2.6v2.6h-2.6zM379.1 148.9h2.6v2.6h-2.6zM381.8 163.2h2.6v2.6h-2.6zM383.3 145.7h2.6v2.6h-2.6zM390.9 151.1h2.6v2.6h-2.6zM383.2 163.7h2.6v2.6h-2.6zM387.7 158.6h2.6v2.6h-2.6zM389.2 164.9h2.6v2.6h-2.6zM395.9 149.7h2.6v2.6h-2.6zM375.0 150.2h2.6v2.6h-2.6zM374.6 165.8h2.6v2.6h-2.6zM373.3 155.4h2.6v2.6h-2.6zM396.8 150.9h2.6v2.6h-2.6zM386.1 153.0h2.6v2.6h-2.6zM369.3 161.1h2.6v2.6h-2.6zM394.0 160.1h2.6v2.6h-2.6zM374.7 165.4h2.6v2.6h-2.6zM383.9 152.7h2.6v2.6h-2.6zM391.1 166.3h2.6v2.6h-2.6zM389.7 153.0h2.6v2.6h-2.6zM392.7 158.8h2.6v2.6h-2.6zM388.2 149.1h2.6v2.6h-2.6zM371.9 162.1h2.6v2.6h-2.6zM396.6 152.6h2.6v2.6h-2.6zM382.5 160.9h2.6v2.6h-2.6zM387.9 160.6h2.6v2.6h-2.6zM392.6 160.1h2.6v2.6h-2.6zM387.9 164.6h2.6v2.6h-2.6zM382.4 161.8h2.6v2.6h-2.6zM381.9 166.5h2.6v2.6h-2.6zM369.9 158.9h2.6v2.6h-2.6zM380.5 167.0h2.6v2.6h-2.6zM383.2 153.2h2.6v2.6h-2.6zM393.9 149.2h2.6v2.6h-2.6zM380.3 156.0h2.6v2.6h-2.6zM374.2 167.3h2.6v2.6h-2.6zM374.1 164.7h2.6v2.6h-2.6zM376.5 157.3h2.6v2.6h-2.6zM390.4 156.0h2.6v2.6h-2.6zM374.5 148.7h2.6v2.6h-2.6zM396.7 162.4h2.6v2.6h-2.6zM374.9 158.1h2.6v2.6h-2.6zM386.3 158.0h2.6v2.6h-2.6zM382.3 144.3h2.6v2.6h-2.6zM392.4 164.3h2.6v2.6h-2.6zM390.8 150.4h2.6v2.6h-2.6zM379.2 159.9h2.6v2.6h-2.6zM387.1 147.5h2.6v2.6h-2.6zM396.6 163.4h2.6v2.6h-2.6zM379.3 151.1h2.6v2.6h-2.6zM390.3 163.8h2.6v2.6h-2.6zM375.4 150.1h2.6v2.6h-2.6zM386.7 153.1h2.6v2.6h-2.6zM371.1 163.6h2.6v2.6h-2.6zM383.6 151.8h2.6v2.6h-2.6zM387.2 159.2h2.6v2.6h-2.6zM397.6 151.2h2.6v2.6h-2.6zM374.6 152.9h2.6v2.6h-2.6zM389.5 164.4h2.6v2.6h-2.6zM388.5 165.0h2.6v2.6h-2.6zM377.2 155.9h2.6v2.6h-2.6zM380.7 145.5h2.6v2.6h-2.6zM389.9 152.0h2.6v2.6h-2.6zM388.7 153.3h2.6v2.6h-2.6zM371.4 162.0h2.6v2.6h-2.6zM371.7 164.6h2.6v2.6h-2.6zM382.7 151.0h2.6v2.6h-2.6zM380.6 158.7h2.6v2.6h-2.6zM372.6 147.4h2.6v2.6h-2.6zM390.7 156.7h2.6v2.6h-2.6zM390.0 158.8h2.6v2.6h-2.6zM395.0 158.3h2.6v2.6h-2.6zM378.0 167.9h2.6v2.6h-2.6zM371.0 162.4h2.6v2.6h-2.6zM382.4 158.2h2.6v2.6h-2.6zM394.3 160.5h2.6v2.6h-2.6zM380.6 167.8h2.6v2.6h-2.6z"/>
<defs><radialGradient id="g7"><stop offset="0" stop-color="#dedede"/><stop offset="0.55" stop-color="#8a8a8a"/><stop offset="1" stop-color="#585858" stop-opacity="0"/></radialGradient></defs>
<ellipse cx="386.0" cy="99.3" rx="9.5" ry="4.6" transform="rotate(0 386.0 99.3)" fill="url(#g7)"/>
<defs><radialGradient id="g8"><stop offset="0" stop-color="#d0d0d0"/><stop offset="0.55" stop-color="#8a8a8a"/><stop offset="1" stop-color="#585858" stop-opacity="0"/></radialGradient></defs>
<ellipse cx="371.0" cy="99.3" rx="4.0" ry="4.4" transform="rotate(0 371.0 99.3)" fill="url(#g8)"/>
<ellipse cx="385.0" cy="158.5" rx="17.0" ry="10.0" transform="rotate(0 385.0 158.5)" fill="#585858"/>
<path fill="#6c6c6c" d="M386.6 164.3h1.7v1.7h-1.7zM377.6 150.7h1.7v1.7h-1.7zM378.9 163.2h1.7v1.7h-1.7zM394.3 159.6h1.7v1.7h-1.7zM388.5 149.7h1.7v1.7h-1.7zM373.5 156.2h1.7v1.7h-1.7zM380.1 164.1h1.7v1.7h-1.7zM371.4 161.5h1.7v1.7h-1.7zM386.8 160.4h1.7v1.7h-1.7zM386.0 158.2h1.7v1.7h-1.7zM399.2 157.7h1.7v1.7h-1.7zM386.0 159.7h1.7v1.7h-1.7zM374.8 161.6h1.7v1.7h-1.7zM395.0 162.9h1.7v1.7h-1.7zM380.0 166.0h1.7v1.7h-1.7zM387.1 160.1h1.7v1.7h-1.7zM369.7 155.8h1.7v1.7h-1.7zM373.7 163.3h1.7v1.7h-1.7zM381.0 164.1h1.7v1.7h-1.7zM390.5 154.1h1.7v1.7h-1.7zM398.3 156.2h1.7v1.7h-1.7zM381.7 161.9h1.7v1.7h-1.7zM382.5 151.9h1.7v1.7h-1.7zM392.0 163.1h1.7v1.7h-1.7zM392.8 150.9h1.7v1.7h-1.7zM379.7 149.2h1.7v1.7h-1.7zM382.9 165.6h1.7v1.7h-1.7zM379.8 155.1h1.7v1.7h-1.7zM377.0 165.7h1.7v1.7h-1.7zM396.9 154.5h1.7v1.7h-1.7zM387.3 158.7h1.7v1.7h-1.7zM384.3 161.9h1.7v1.7h-1.7zM370.9 157.1h1.7v1.7h-1.7zM396.0 162.0h1.7v1.7h-1.7zM378.8 159.6h1.7v1.7h-1.7zM394.6 156.4h1.7v1.7h-1.7zM391.4 161.9h1.7v1.7h-1.7zM376.1 149.8h1.7v1.7h-1.7zM382.0 152.9h1.7v1.7h-1.7zM393.9 158.2h1.7v1.7h-1.7zM390.3 158.8h1.7v1.7h-1.7zM377.5 149.7h1.7v1.7h-1.7zM382.7 162.9h1.7v1.7h-1.7zM373.2 154.2h1.7v1.7h-1.7zM375.2 158.9h1.7v1.7h-1.7zM382.1 150.0h1.7v1.7h-1.7zM388.0 151.6h1.7v1.7h-1.7zM373.1 160.8h1.7v1.7h-1.7zM382.7 156.0h1.7v1.7h-1.7zM369.7 159.0h1.7v1.7h-1.7zM377.8 158.7h1.7v1.7h-1.7zM391.5 155.1h1.7v1.7h-1.7zM387.5 157.0h1.7v1.7h-1.7zM385.4 164.9h1.7v1.7h-1.7zM387.1 155.8h1.7v1.7h-1.7zM383.4 164.8h1.7v1.7h-1.7zM380.4 163.0h1.7v1.7h-1.7zM386.5 159.4h1.7v1.7h-1.7zM385.3 165.8h1.7v1.7h-1.7zM397.3 162.0h1.7v1.7h-1.7zM375.3 157.9h1.7v1.7h-1.7zM385.6 161.5h1.7v1.7h-1.7zM397.7 160.7h1.7v1.7h-1.7zM391.9 158.2h1.7v1.7h-1.7zM380.9 161.5h1.7v1.7h-1.7zM380.2 158.5h1.7v1.7h-1.7zM387.9 158.0h1.7v1.7h-1.7zM385.8 150.7h1.7v1.7h-1.7zM386.2 163.2h1.7v1.7h-1.7zM390.6 156.7h1.7v1.7h-1.7zM382.1 163.7h1.7v1.7h-1.7zM385.8 157.5h1.7v1.7h-1.7z"/>
<path fill="#3e3e3e" d="M386.8 164.6h1.7v1.7h-1.7zM378.9 161.0h1.7v1.7h-1.7zM379.5 153.4h1.7v1.7h-1.7zM371.0 157.7h1.7v1.7h-1.7zM396.0 153.8h1.7v1.7h-1.7zM370.2 160.1h1.7v1.7h-1.7zM394.2 154.2h1.7v1.7h-1.7zM388.6 166.4h1.7v1.7h-1.7zM398.3 161.5h1.7v1.7h-1.7zM397.9 157.4h1.7v1.7h-1.7zM373.0 163.2h1.7v1.7h-1.7zM385.7 163.3h1.7v1.7h-1.7zM386.6 153.9h1.7v1.7h-1.7zM374.1 151.6h1.7v1.7h-1.7zM394.9 158.4h1.7v1.7h-1.7zM392.9 161.0h1.7v1.7h-1.7zM399.2 156.4h1.7v1.7h-1.7zM387.5 151.3h1.7v1.7h-1.7zM398.1 157.2h1.7v1.7h-1.7zM380.8 156.0h1.7v1.7h-1.7zM394.0 160.1h1.7v1.7h-1.7zM376.3 160.1h1.7v1.7h-1.7zM378.4 157.3h1.7v1.7h-1.7zM380.2 165.0h1.7v1.7h-1.7zM390.4 157.2h1.7v1.7h-1.7zM382.3 164.5h1.7v1.7h-1.7zM374.7 159.8h1.7v1.7h-1.7zM386.4 151.1h1.7v1.7h-1.7zM382.3 161.8h1.7v1.7h-1.7zM398.9 158.6h1.7v1.7h-1.7zM395.8 155.2h1.7v1.7h-1.7zM396.3 162.8h1.7v1.7h-1.7zM398.7 158.9h1.7v1.7h-1.7zM392.7 150.7h1.7v1.7h-1.7zM383.0 152.4h1.7v1.7h-1.7zM371.3 153.5h1.7v1.7h-1.7zM371.6 155.1h1.7v1.7h-1.7zM395.7 154.4h1.7v1.7h-1.7zM391.3 154.6h1.7v1.7h-1.7zM377.6 150.2h1.7v1.7h-1.7zM377.6 156.8h1.7v1.7h-1.7zM391.8 149.7h1.7v1.7h-1.7zM396.3 160.8h1.7v1.7h-1.7zM369.8 160.3h1.7v1.7h-1.7zM392.5 157.7h1.7v1.7h-1.7zM377.3 164.1h1.7v1.7h-1.7zM382.8 158.9h1.7v1.7h-1.7zM383.1 149.1h1.7v1.7h-1.7zM370.8 156.6h1.7v1.7h-1.7zM380.8 164.4h1.7v1.7h-1.7zM385.2 156.8h1.7v1.7h-1.7zM387.8 166.1h1.7v1.7h-1.7zM383.1 158.9h1.7v1.7h-1.7zM375.5 153.2h1.7v1.7h-1.7zM379.8 158.9h1.7v1.7h-1.7zM384.6 162.5h1.7v1.7h-1.7zM377.9 160.2h1.7v1.7h-1.7zM390.8 165.7h1.7v1.7h-1.7zM380.5 163.6h1.7v1.7h-1.7zM373.8 160.7h1.7v1.7h-1.7zM372.9 163.9h1.7v1.7h-1.7zM376.5 156.2h1.7v1.7h-1.7zM391.7 157.2h1.7v1.7h-1.7zM392.4 150.4h1.7v1.7h-1.7zM384.3 157.8h1.7v1.7h-1.7zM370.3 155.2h1.7v1.7h-1.7zM384.7 154.4h1.7v1.7h-1.7zM388.3 151.4h1.7v1.7h-1.7zM396.1 160.2h1.7v1.7h-1.7zM377.2 161.8h1.7v1.7h-1.7zM384.6 153.4h1.7v1.7h-1.7zM374.7 160.9h1.7v1.7h-1.7zM386.7 164.4h1.7v1.7h-1.7zM371.2 162.1h1.7v1.7h-1.7zM379.1 159.1h1.7v1.7h-1.7zM392.3 156.5h1.7v1.7h-1.7zM387.2 163.8h1.7v1.7h-1.7zM389.2 150.2h1.7v1.7h-1.7zM387.9 152.5h1.7v1.7h-1.7zM392.5 149.9h1.7v1.7h-1.7zM379.7 158.2h1.7v1.7h-1.7z"/>
<defs><radialGradient id="g9"><stop offset="0" stop-color="#c4c4c4"/><stop offset="0.55" stop-color="#8c8c8c"/><stop offset="1" stop-color="#585858" stop-opacity="0"/></radialGradient></defs>
<ellipse cx="381.5" cy="155.0" rx="7.5" ry="7.5" transform="rotate(0 381.5 155.0)" fill="url(#g9)"/>
</g>
<path d="M369.3 62.2V171.4H473.5" fill="none" stroke="#000" stroke-width="2.7" stroke-linejoin="miter"/>
<path d="M403.3 62.2V171.4" fill="none" stroke="#000" stroke-width="2.2"/>
<path d="M369.3 121.6H473.5" fill="none" stroke="#000" stroke-width="1.9"/>
<path d="M369.3 171.4h-4M369.3 163.2h-2.8M369.3 158.4h-2.8M369.3 155.0h-2.8M369.3 152.3h-2.8M369.3 150.2h-2.8M369.3 148.3h-2.8M369.3 146.7h-2.8M369.3 145.3h-2.8M369.3 144.1h-4M369.3 135.9h-2.8M369.3 131.1h-2.8M369.3 127.7h-2.8M369.3 125.0h-2.8M369.3 122.9h-2.8M369.3 121.0h-2.8M369.3 119.4h-2.8M369.3 118.0h-2.8M369.3 116.8h-4M369.3 108.6h-2.8M369.3 103.8h-2.8M369.3 100.4h-2.8M369.3 97.7h-2.8M369.3 95.6h-2.8M369.3 93.7h-2.8M369.3 92.1h-2.8M369.3 90.7h-2.8M369.3 89.5h-4M369.3 81.3h-2.8M369.3 76.5h-2.8M369.3 73.1h-2.8M369.3 70.4h-2.8M369.3 68.3h-2.8M369.3 66.4h-2.8M369.3 64.8h-2.8M369.3 63.4h-2.8M369.3 62.2h-4" fill="none" stroke="#000" stroke-width="1.5"/>
<path d="M369.3 171.4v4.6M377.0 171.4v3.4M381.6 171.4v3.4M384.8 171.4v3.4M387.3 171.4v3.4M389.3 171.4v3.4M391.0 171.4v3.4M392.5 171.4v3.4M393.8 171.4v3.4M395.0 171.4v4.6M402.7 171.4v3.4M407.3 171.4v3.4M410.5 171.4v3.4M413.0 171.4v3.4M415.0 171.4v3.4M416.7 171.4v3.4M418.2 171.4v3.4M419.5 171.4v3.4M420.7 171.4v4.6M428.4 171.4v3.4M433.0 171.4v3.4M436.2 171.4v3.4M438.7 171.4v3.4M440.7 171.4v3.4M442.4 171.4v3.4M443.9 171.4v3.4M445.2 171.4v3.4M446.4 171.4v4.6M454.1 171.4v3.4M458.7 171.4v3.4M461.9 171.4v3.4M464.4 171.4v3.4M466.4 171.4v3.4M468.1 171.4v3.4M469.6 171.4v3.4M470.9 171.4v3.4M472.1 171.4v4.6" fill="none" stroke="#000" stroke-width="1.5"/>
<text x="367.3" y="180.0" font-size="3.5" text-anchor="middle" fill="#999">10<tspan dy="-1" font-size="2.5">0</tspan></text>
<text x="393.0" y="180.0" font-size="3.5" text-anchor="middle" fill="#999">10<tspan dy="-1" font-size="2.5">1</tspan></text>
<text x="418.7" y="180.0" font-size="3.5" text-anchor="middle" fill="#999">10<tspan dy="-1" font-size="2.5">2</tspan></text>
<text x="444.4" y="180.0" font-size="3.5" text-anchor="middle" fill="#999">10<tspan dy="-1" font-size="2.5">3</tspan></text>
<text x="470.1" y="180.0" font-size="3.5" text-anchor="middle" fill="#999">10<tspan dy="-1" font-size="2.5">4</tspan></text>
<text x="379.5" y="74.3" font-size="14" font-weight="bold">46</text>
<text x="453.3" y="165.5" font-size="14" font-weight="bold">18</text>
<text x="28.0" y="240.9" font-size="28.5" font-weight="bold">B</text>
<text transform="translate(102.0 340.4) rotate(-90)" font-size="17" font-weight="bold" text-anchor="middle">T/B ratio</text>
<text x="136.4" y="427.0" font-size="16.2" text-anchor="end">0</text>
<text x="136.4" y="395.9" font-size="16.2" text-anchor="end">0.4</text>
<text x="136.4" y="364.8" font-size="16.2" text-anchor="end">0.8</text>
<text x="136.4" y="333.6" font-size="16.2" text-anchor="end">1.2</text>
<text x="136.4" y="302.5" font-size="16.2" text-anchor="end">1.6</text>
<text x="136.4" y="271.4" font-size="16.2" text-anchor="end">2</text>
<path d="M145 263.6V422.3H401.5M140.5 422.3H145M140.5 390.6H145M140.5 358.9H145M140.5 327.2H145M140.5 295.5H145M140.5 263.8H145M209.5 422.0v3.8M273.5 422.0v3.8M337.5 422.0v3.8M401.0 422.0v3.8" fill="none" stroke="#000" stroke-width="1.2"/>
<path d="M164.8 422.0V339.7H190.4V422.0" fill="#fff" stroke="#000" stroke-width="3"/>
<path d="M177.6 339.7V327.5M171.1 327.5h13" fill="none" stroke="#000" stroke-width="1.3"/>
<text x="176.6" y="317.3" font-size="16" text-anchor="middle">1.03</text>
<path d="M228.4 422.0V315.3H254.0V422.0" fill="#fff" stroke="#000" stroke-width="3"/>
<path d="M241.2 315.3V296.0M234.7 296.0h13" fill="none" stroke="#000" stroke-width="1.3"/>
<text x="240.2" y="289.6" font-size="16" text-anchor="middle">1.34</text>
<path d="M292.3 422.0V376.3H317.9V422.0" fill="#fff" stroke="#000" stroke-width="3"/>
<path d="M305.1 376.3V372.3M300.1 372.3h10" fill="none" stroke="#000" stroke-width="1.3"/>
<text x="304.1" y="367.0" font-size="16" text-anchor="middle">0.57</text>
<path d="M356.4 422.0V390.1H382.0V422.0" fill="#fff" stroke="#000" stroke-width="3"/>
<path d="M369.2 390.1V389.0M364.2 389.0h10" fill="none" stroke="#000" stroke-width="1.3"/>
<text x="368.2" y="381.0" font-size="16" text-anchor="middle">0.39</text>
<path d="M142.5 422.2H401.5" fill="none" stroke="#000" stroke-width="1.7"/>
<path d="M175 272.3H255M213.3 272.3V250.5H298.5V347.5M308.5 347.5V331H364V362" fill="none" stroke="#000" stroke-width="1.1"/>
<text x="257.5" y="241.5" font-size="15" font-weight="bold" text-anchor="middle" letter-spacing="1">**</text>
<text x="339.0" y="326.0" font-size="15" font-weight="bold" text-anchor="middle" letter-spacing="1">**</text>
<text x="179.8" y="446.8" font-size="14" font-weight="bold" text-anchor="middle">DLL1-</text>
<text x="179.8" y="464.0" font-size="14" font-weight="bold" text-anchor="middle">PBS</text>
<text x="238.7" y="446.8" font-size="14" font-weight="bold" text-anchor="middle">DLL1-</text>
<text x="238.7" y="464.0" font-size="14" font-weight="bold" text-anchor="middle">VEGF</text>
<text x="307.7" y="446.8" font-size="14" font-weight="bold" text-anchor="middle">MigR1-</text>
<text x="307.7" y="464.0" font-size="14" font-weight="bold" text-anchor="middle">PBS</text>
<text x="370.0" y="446.8" font-size="14" font-weight="bold" text-anchor="middle">MigR1-</text>
<text x="370.0" y="464.0" font-size="14" font-weight="bold" text-anchor="middle">VEGF</text>
<text x="28.0" y="490.4" font-size="28.5" font-weight="bold">C</text>
<text x="100.0" y="496.2" font-size="14" font-weight="bold">DLL1-PBS</text>
<text x="195.0" y="496.2" font-size="14" font-weight="bold">DLL1-VEGF</text>
<text x="296.0" y="496.2" font-size="14" font-weight="bold">MigR1-PBS</text>
<text x="391.0" y="496.2" font-size="14" font-weight="bold">MigR1-VEGF</text>
<text transform="translate(64.8 557.0) rotate(-90)" font-size="16.5" font-weight="bold" text-anchor="middle">CD8a-PE</text>
<text x="278.5" y="635.0" font-size="16.5" font-weight="bold" text-anchor="middle">CD4-APC</text>
<path d="M74.4 506V613H486" fill="none" stroke="#555" stroke-width="1.2"/>
<path d="M74.4 500.5l-3.4 7.5h6.8zM492 613l-8-3.8v7.6z" fill="#000"/>
<clipPath id="c5"><rect x="89.3" y="503.5" width="84.0" height="101.6"/></clipPath><g clip-path="url(#c5)">
<ellipse cx="137.8" cy="543.5" rx="14.5" ry="8.6" transform="rotate(-47 137.8 543.5)" fill="#484848"/>
<path fill="#6c6c6c" d="M135.8 541.9h1.7v1.7h-1.7zM132.3 538.4h1.7v1.7h-1.7zM138.4 550.7h1.7v1.7h-1.7zM129.4 551.0h1.7v1.7h-1.7zM139.4 542.3h1.7v1.7h-1.7zM140.0 542.7h1.7v1.7h-1.7zM126.8 547.9h1.7v1.7h-1.7zM141.8 547.2h1.7v1.7h-1.7zM134.9 549.4h1.7v1.7h-1.7zM142.4 535.0h1.7v1.7h-1.7zM145.2 539.1h1.7v1.7h-1.7zM136.9 535.9h1.7v1.7h-1.7zM132.0 543.3h1.7v1.7h-1.7zM139.8 541.2h1.7v1.7h-1.7zM139.3 539.7h1.7v1.7h-1.7zM144.4 536.6h1.7v1.7h-1.7zM133.5 538.7h1.7v1.7h-1.7zM133.8 541.6h1.7v1.7h-1.7zM134.7 541.2h1.7v1.7h-1.7zM141.8 540.4h1.7v1.7h-1.7zM131.4 543.8h1.7v1.7h-1.7zM129.6 541.6h1.7v1.7h-1.7zM144.9 543.6h1.7v1.7h-1.7zM147.6 536.1h1.7v1.7h-1.7zM135.2 540.5h1.7v1.7h-1.7zM134.3 541.8h1.7v1.7h-1.7zM141.6 540.5h1.7v1.7h-1.7zM133.5 543.2h1.7v1.7h-1.7zM135.8 538.5h1.7v1.7h-1.7zM138.8 543.8h1.7v1.7h-1.7zM145.6 542.2h1.7v1.7h-1.7zM136.7 535.9h1.7v1.7h-1.7zM140.8 544.2h1.7v1.7h-1.7zM129.5 549.4h1.7v1.7h-1.7zM139.7 544.7h1.7v1.7h-1.7zM147.1 537.5h1.7v1.7h-1.7zM133.3 543.8h1.7v1.7h-1.7zM141.5 542.9h1.7v1.7h-1.7zM135.2 543.7h1.7v1.7h-1.7zM140.9 533.8h1.7v1.7h-1.7zM144.9 538.1h1.7v1.7h-1.7zM128.2 541.7h1.7v1.7h-1.7zM140.0 533.9h1.7v1.7h-1.7zM143.6 534.2h1.7v1.7h-1.7zM136.3 535.6h1.7v1.7h-1.7zM143.5 537.8h1.7v1.7h-1.7zM137.6 542.9h1.7v1.7h-1.7zM141.1 543.2h1.7v1.7h-1.7zM127.3 550.9h1.7v1.7h-1.7zM142.8 533.0h1.7v1.7h-1.7zM135.2 543.4h1.7v1.7h-1.7z"/>
<path fill="#3e3e3e" d="M135.1 546.0h1.7v1.7h-1.7zM143.2 543.1h1.7v1.7h-1.7zM146.6 539.0h1.7v1.7h-1.7zM144.8 538.9h1.7v1.7h-1.7zM144.9 539.9h1.7v1.7h-1.7zM129.2 545.6h1.7v1.7h-1.7zM127.8 548.2h1.7v1.7h-1.7zM143.4 543.6h1.7v1.7h-1.7zM136.7 550.8h1.7v1.7h-1.7zM145.6 535.1h1.7v1.7h-1.7zM145.0 541.2h1.7v1.7h-1.7zM133.3 538.8h1.7v1.7h-1.7zM136.0 538.9h1.7v1.7h-1.7zM144.6 536.2h1.7v1.7h-1.7zM135.6 541.8h1.7v1.7h-1.7zM146.8 540.0h1.7v1.7h-1.7zM138.3 537.4h1.7v1.7h-1.7zM140.0 549.5h1.7v1.7h-1.7zM135.0 537.1h1.7v1.7h-1.7zM137.3 534.3h1.7v1.7h-1.7zM130.2 549.5h1.7v1.7h-1.7zM133.7 543.9h1.7v1.7h-1.7zM133.3 537.8h1.7v1.7h-1.7zM142.0 543.8h1.7v1.7h-1.7zM131.1 541.9h1.7v1.7h-1.7zM146.0 533.1h1.7v1.7h-1.7zM136.5 541.7h1.7v1.7h-1.7zM131.8 546.4h1.7v1.7h-1.7zM132.1 538.0h1.7v1.7h-1.7zM144.7 539.2h1.7v1.7h-1.7zM133.1 539.8h1.7v1.7h-1.7zM143.8 534.5h1.7v1.7h-1.7zM143.2 537.2h1.7v1.7h-1.7zM138.9 535.6h1.7v1.7h-1.7zM128.5 541.0h1.7v1.7h-1.7zM143.7 542.2h1.7v1.7h-1.7zM128.8 550.6h1.7v1.7h-1.7zM141.5 544.3h1.7v1.7h-1.7zM130.8 544.1h1.7v1.7h-1.7zM126.3 546.3h1.7v1.7h-1.7zM131.5 547.4h1.7v1.7h-1.7zM136.4 546.7h1.7v1.7h-1.7zM131.6 543.4h1.7v1.7h-1.7zM146.9 539.3h1.7v1.7h-1.7zM147.0 535.0h1.7v1.7h-1.7zM132.8 547.7h1.7v1.7h-1.7zM138.8 541.2h1.7v1.7h-1.7zM138.8 547.2h1.7v1.7h-1.7zM127.1 551.0h1.7v1.7h-1.7zM147.4 539.4h1.7v1.7h-1.7zM142.5 546.9h1.7v1.7h-1.7zM138.0 534.8h1.7v1.7h-1.7zM127.2 546.5h1.7v1.7h-1.7zM141.3 533.5h1.7v1.7h-1.7zM139.7 539.5h1.7v1.7h-1.7zM140.9 537.9h1.7v1.7h-1.7zM134.4 547.7h1.7v1.7h-1.7zM135.4 540.5h1.7v1.7h-1.7zM143.6 540.0h1.7v1.7h-1.7zM134.1 537.7h1.7v1.7h-1.7zM134.3 546.1h1.7v1.7h-1.7z"/>
<path fill="#2b2b2b" d="M128.5 558.7h2.6v2.6h-2.6zM138.2 529.8h2.6v2.6h-2.6zM141.0 558.6h2.6v2.6h-2.6zM127.7 535.8h2.6v2.6h-2.6zM123.0 547.1h2.6v2.6h-2.6zM122.7 541.3h2.6v2.6h-2.6zM149.7 532.4h2.6v2.6h-2.6zM149.4 534.4h2.6v2.6h-2.6zM139.2 527.9h2.6v2.6h-2.6zM123.6 556.7h2.6v2.6h-2.6zM122.4 540.1h2.6v2.6h-2.6zM146.0 547.5h2.6v2.6h-2.6zM122.4 554.3h2.6v2.6h-2.6zM151.5 536.9h2.6v2.6h-2.6zM128.7 534.8h2.6v2.6h-2.6zM151.0 544.8h2.6v2.6h-2.6zM147.5 544.7h2.6v2.6h-2.6zM125.5 554.8h2.6v2.6h-2.6zM132.5 555.9h2.6v2.6h-2.6zM142.1 523.0h2.6v2.6h-2.6zM125.2 559.9h2.6v2.6h-2.6zM123.0 555.9h2.6v2.6h-2.6zM122.1 542.9h2.6v2.6h-2.6zM141.0 528.8h2.6v2.6h-2.6zM157.0 529.8h2.6v2.6h-2.6zM134.3 555.9h2.6v2.6h-2.6zM152.9 542.2h2.6v2.6h-2.6zM133.8 529.0h2.6v2.6h-2.6zM145.6 550.3h2.6v2.6h-2.6zM152.2 533.9h2.6v2.6h-2.6zM134.5 571.7h2.6v2.6h-2.6zM145.2 567.2h2.6v2.6h-2.6zM134.9 566.9h2.6v2.6h-2.6zM135.5 563.9h2.6v2.6h-2.6zM143.9 567.3h2.6v2.6h-2.6zM137.7 591.7h2.6v2.6h-2.6zM133.8 561.3h2.6v2.6h-2.6zM136.1 584.8h2.6v2.6h-2.6zM131.7 565.5h2.6v2.6h-2.6zM140.8 553.5h2.6v2.6h-2.6zM148.1 549.7h2.6v2.6h-2.6zM137.0 554.0h2.6v2.6h-2.6zM144.0 574.3h2.6v2.6h-2.6zM137.1 581.2h2.6v2.6h-2.6zM144.0 563.0h2.6v2.6h-2.6zM131.2 567.1h2.6v2.6h-2.6zM141.8 567.2h2.6v2.6h-2.6zM140.5 577.2h2.6v2.6h-2.6zM135.5 576.7h2.6v2.6h-2.6zM134.4 572.4h2.6v2.6h-2.6zM136.0 563.5h2.6v2.6h-2.6zM132.0 577.1h2.6v2.6h-2.6zM139.8 580.3h2.6v2.6h-2.6zM136.5 594.6h2.6v2.6h-2.6zM142.3 578.4h2.6v2.6h-2.6zM144.2 574.2h2.6v2.6h-2.6zM129.5 587.8h2.6v2.6h-2.6zM148.6 591.4h2.6v2.6h-2.6zM146.3 578.7h2.6v2.6h-2.6zM139.3 577.9h2.6v2.6h-2.6zM140.0 559.7h2.6v2.6h-2.6zM141.2 577.2h2.6v2.6h-2.6zM142.2 553.4h2.6v2.6h-2.6zM150.4 568.4h2.6v2.6h-2.6zM143.9 568.3h2.6v2.6h-2.6zM102.1 583.0h2.6v2.6h-2.6zM94.0 536.3h2.6v2.6h-2.6zM102.9 544.7h2.6v2.6h-2.6zM113.0 558.8h2.6v2.6h-2.6zM100.9 582.2h2.6v2.6h-2.6zM99.7 546.6h2.6v2.6h-2.6zM115.9 551.7h2.6v2.6h-2.6zM92.9 537.2h2.6v2.6h-2.6zM116.1 546.5h2.6v2.6h-2.6zM99.8 542.0h2.6v2.6h-2.6zM117.1 555.5h2.6v2.6h-2.6zM102.2 585.3h2.6v2.6h-2.6zM101.8 546.7h2.6v2.6h-2.6zM112.1 565.9h2.6v2.6h-2.6zM95.7 593.1h2.6v2.6h-2.6zM114.9 538.2h2.6v2.6h-2.6zM112.1 561.1h2.6v2.6h-2.6zM112.9 590.6h2.6v2.6h-2.6zM96.1 581.9h2.6v2.6h-2.6zM109.2 582.4h2.6v2.6h-2.6zM102.8 594.5h2.6v2.6h-2.6zM92.4 564.0h2.6v2.6h-2.6zM92.9 559.5h2.6v2.6h-2.6zM104.3 548.7h2.6v2.6h-2.6zM117.0 570.7h2.6v2.6h-2.6zM112.4 556.0h2.6v2.6h-2.6zM94.8 582.1h2.6v2.6h-2.6zM110.5 572.7h2.6v2.6h-2.6zM168.2 538.2h2.6v2.6h-2.6zM158.7 550.7h2.6v2.6h-2.6zM153.7 559.7h2.6v2.6h-2.6z"/>
<path fill="#444444" d="M145.6 547.0h2.6v2.6h-2.6zM128.4 553.5h2.6v2.6h-2.6zM142.1 549.5h2.6v2.6h-2.6zM125.8 551.9h2.6v2.6h-2.6zM142.8 532.6h2.6v2.6h-2.6zM142.9 532.1h2.6v2.6h-2.6zM132.7 533.7h2.6v2.6h-2.6zM135.0 532.0h2.6v2.6h-2.6zM139.7 551.0h2.6v2.6h-2.6zM144.9 530.3h2.6v2.6h-2.6zM144.7 532.4h2.6v2.6h-2.6zM143.9 548.5h2.6v2.6h-2.6zM146.6 532.8h2.6v2.6h-2.6zM132.8 552.8h2.6v2.6h-2.6zM125.8 543.0h2.6v2.6h-2.6zM146.5 535.9h2.6v2.6h-2.6zM140.5 531.8h2.6v2.6h-2.6zM139.1 533.6h2.6v2.6h-2.6zM146.0 540.7h2.6v2.6h-2.6zM126.7 540.3h2.6v2.6h-2.6zM132.6 530.9h2.6v2.6h-2.6zM126.8 550.5h2.6v2.6h-2.6zM135.4 532.2h2.6v2.6h-2.6zM146.9 533.6h2.6v2.6h-2.6zM129.6 537.1h2.6v2.6h-2.6zM125.3 544.1h2.6v2.6h-2.6zM125.8 544.5h2.6v2.6h-2.6zM146.9 539.6h2.6v2.6h-2.6zM127.6 552.8h2.6v2.6h-2.6zM145.7 541.4h2.6v2.6h-2.6zM133.8 554.1h2.6v2.6h-2.6zM146.3 541.4h2.6v2.6h-2.6zM143.0 533.3h2.6v2.6h-2.6zM133.2 532.8h2.6v2.6h-2.6zM143.3 549.9h2.6v2.6h-2.6zM133.9 532.3h2.6v2.6h-2.6zM132.8 553.9h2.6v2.6h-2.6zM145.2 530.5h2.6v2.6h-2.6zM140.0 531.7h2.6v2.6h-2.6zM146.0 531.3h2.6v2.6h-2.6zM147.8 534.3h2.6v2.6h-2.6zM128.9 551.9h2.6v2.6h-2.6zM136.5 531.2h2.6v2.6h-2.6zM142.8 532.8h2.6v2.6h-2.6zM128.3 552.4h2.6v2.6h-2.6zM142.4 532.9h2.6v2.6h-2.6zM139.0 573.7h2.6v2.6h-2.6zM139.0 573.0h2.6v2.6h-2.6zM136.2 568.2h2.6v2.6h-2.6zM138.6 571.3h2.6v2.6h-2.6zM135.6 563.6h2.6v2.6h-2.6zM142.8 573.7h2.6v2.6h-2.6zM139.1 574.7h2.6v2.6h-2.6zM137.2 566.4h2.6v2.6h-2.6zM137.9 564.3h2.6v2.6h-2.6zM138.0 567.6h2.6v2.6h-2.6zM137.4 569.4h2.6v2.6h-2.6zM140.6 572.3h2.6v2.6h-2.6zM142.3 573.3h2.6v2.6h-2.6zM137.9 567.9h2.6v2.6h-2.6zM136.9 567.1h2.6v2.6h-2.6zM141.1 572.8h2.6v2.6h-2.6zM137.7 563.9h2.6v2.6h-2.6zM139.0 574.0h2.6v2.6h-2.6zM136.4 569.6h2.6v2.6h-2.6z"/>
<path fill="#525252" d="M135.3 550.9h2.6v2.6h-2.6zM143.0 543.5h2.6v2.6h-2.6zM141.0 541.9h2.6v2.6h-2.6zM131.5 542.5h2.6v2.6h-2.6zM137.5 549.5h2.6v2.6h-2.6zM130.4 542.8h2.6v2.6h-2.6zM142.7 535.9h2.6v2.6h-2.6zM134.9 547.3h2.6v2.6h-2.6zM137.3 540.1h2.6v2.6h-2.6zM139.5 541.9h2.6v2.6h-2.6zM137.5 549.4h2.6v2.6h-2.6zM137.0 540.6h2.6v2.6h-2.6zM141.5 536.9h2.6v2.6h-2.6zM133.3 539.0h2.6v2.6h-2.6zM132.4 547.3h2.6v2.6h-2.6zM133.0 550.3h2.6v2.6h-2.6zM140.7 537.2h2.6v2.6h-2.6zM131.2 540.0h2.6v2.6h-2.6zM137.0 534.6h2.6v2.6h-2.6zM138.7 536.3h2.6v2.6h-2.6zM134.7 544.9h2.6v2.6h-2.6zM138.0 543.1h2.6v2.6h-2.6zM134.5 552.2h2.6v2.6h-2.6zM136.0 538.7h2.6v2.6h-2.6zM133.6 540.5h2.6v2.6h-2.6zM137.0 535.6h2.6v2.6h-2.6zM134.7 542.9h2.6v2.6h-2.6zM132.1 545.3h2.6v2.6h-2.6zM134.6 543.3h2.6v2.6h-2.6zM136.9 543.4h2.6v2.6h-2.6zM138.5 537.9h2.6v2.6h-2.6zM136.4 533.4h2.6v2.6h-2.6zM131.2 549.4h2.6v2.6h-2.6zM132.4 549.0h2.6v2.6h-2.6zM135.2 538.8h2.6v2.6h-2.6zM132.7 542.7h2.6v2.6h-2.6zM132.1 543.3h2.6v2.6h-2.6zM131.6 541.6h2.6v2.6h-2.6zM133.8 546.7h2.6v2.6h-2.6zM141.9 543.7h2.6v2.6h-2.6zM141.9 540.0h2.6v2.6h-2.6zM140.1 539.8h2.6v2.6h-2.6zM139.8 548.8h2.6v2.6h-2.6zM129.8 539.8h2.6v2.6h-2.6zM132.3 545.5h2.6v2.6h-2.6zM132.9 546.6h2.6v2.6h-2.6zM134.2 542.6h2.6v2.6h-2.6zM134.8 543.2h2.6v2.6h-2.6zM134.3 543.2h2.6v2.6h-2.6zM135.0 539.6h2.6v2.6h-2.6zM136.2 535.0h2.6v2.6h-2.6zM129.6 542.7h2.6v2.6h-2.6zM133.9 542.9h2.6v2.6h-2.6zM139.9 541.2h2.6v2.6h-2.6zM138.6 543.2h2.6v2.6h-2.6zM134.6 548.9h2.6v2.6h-2.6zM136.1 536.7h2.6v2.6h-2.6zM127.3 544.4h2.6v2.6h-2.6zM137.8 540.5h2.6v2.6h-2.6zM131.4 547.6h2.6v2.6h-2.6zM134.3 550.7h2.6v2.6h-2.6zM139.9 539.1h2.6v2.6h-2.6zM144.2 537.2h2.6v2.6h-2.6zM143.3 537.7h2.6v2.6h-2.6zM137.5 538.9h2.6v2.6h-2.6zM139.1 548.0h2.6v2.6h-2.6zM137.3 547.3h2.6v2.6h-2.6zM137.7 542.1h2.6v2.6h-2.6zM130.5 549.6h2.6v2.6h-2.6zM133.6 540.1h2.6v2.6h-2.6zM129.3 542.4h2.6v2.6h-2.6zM131.8 537.0h2.6v2.6h-2.6zM134.7 543.6h2.6v2.6h-2.6zM129.9 539.7h2.6v2.6h-2.6zM137.4 537.6h2.6v2.6h-2.6zM137.2 535.2h2.6v2.6h-2.6zM132.7 546.0h2.6v2.6h-2.6zM127.5 550.3h2.6v2.6h-2.6zM142.7 544.1h2.6v2.6h-2.6zM134.0 550.4h2.6v2.6h-2.6zM139.0 549.2h2.6v2.6h-2.6zM132.7 546.7h2.6v2.6h-2.6zM141.5 545.8h2.6v2.6h-2.6zM134.1 543.5h2.6v2.6h-2.6zM141.7 537.1h2.6v2.6h-2.6zM133.1 541.7h2.6v2.6h-2.6zM133.2 542.6h2.6v2.6h-2.6zM140.8 538.4h2.6v2.6h-2.6zM137.7 545.3h2.6v2.6h-2.6zM132.2 546.2h2.6v2.6h-2.6zM134.7 546.5h2.6v2.6h-2.6zM137.1 547.7h2.6v2.6h-2.6zM133.8 544.0h2.6v2.6h-2.6zM128.6 550.5h2.6v2.6h-2.6zM141.0 545.4h2.6v2.6h-2.6zM137.3 537.9h2.6v2.6h-2.6zM132.2 549.3h2.6v2.6h-2.6zM141.6 539.5h2.6v2.6h-2.6zM129.3 546.1h2.6v2.6h-2.6zM135.5 537.1h2.6v2.6h-2.6zM130.5 548.3h2.6v2.6h-2.6zM131.2 549.6h2.6v2.6h-2.6zM140.2 538.5h2.6v2.6h-2.6zM127.0 546.5h2.6v2.6h-2.6zM130.9 547.1h2.6v2.6h-2.6zM138.7 542.6h2.6v2.6h-2.6zM128.5 544.5h2.6v2.6h-2.6zM129.9 547.5h2.6v2.6h-2.6zM133.4 537.3h2.6v2.6h-2.6zM134.7 543.2h2.6v2.6h-2.6zM129.6 542.8h2.6v2.6h-2.6zM136.7 538.2h2.6v2.6h-2.6zM127.9 545.3h2.6v2.6h-2.6zM131.6 544.1h2.6v2.6h-2.6zM140.2 538.8h2.6v2.6h-2.6zM139.6 550.0h2.6v2.6h-2.6zM131.7 540.7h2.6v2.6h-2.6zM132.6 547.2h2.6v2.6h-2.6zM142.9 543.4h2.6v2.6h-2.6zM138.0 544.3h2.6v2.6h-2.6zM133.2 543.1h2.6v2.6h-2.6zM142.6 548.4h2.6v2.6h-2.6zM145.1 542.5h2.6v2.6h-2.6zM143.4 544.7h2.6v2.6h-2.6zM133.2 545.8h2.6v2.6h-2.6zM131.2 542.4h2.6v2.6h-2.6zM133.5 535.5h2.6v2.6h-2.6zM137.5 547.6h2.6v2.6h-2.6zM141.8 535.0h2.6v2.6h-2.6zM142.0 547.1h2.6v2.6h-2.6zM138.2 542.4h2.6v2.6h-2.6zM129.2 541.7h2.6v2.6h-2.6zM134.6 538.5h2.6v2.6h-2.6zM143.9 542.3h2.6v2.6h-2.6zM133.9 538.0h2.6v2.6h-2.6zM127.6 548.5h2.6v2.6h-2.6zM129.2 540.7h2.6v2.6h-2.6zM138.3 539.6h2.6v2.6h-2.6zM135.0 539.5h2.6v2.6h-2.6zM143.9 540.6h2.6v2.6h-2.6zM131.4 541.1h2.6v2.6h-2.6zM134.3 541.5h2.6v2.6h-2.6zM139.9 546.7h2.6v2.6h-2.6zM143.8 541.9h2.6v2.6h-2.6zM131.9 547.8h2.6v2.6h-2.6zM141.7 539.3h2.6v2.6h-2.6zM143.1 541.7h2.6v2.6h-2.6zM134.1 533.8h2.6v2.6h-2.6zM137.3 535.3h2.6v2.6h-2.6zM134.4 551.7h2.6v2.6h-2.6zM145.2 536.3h2.6v2.6h-2.6zM140.0 538.3h2.6v2.6h-2.6zM133.1 551.1h2.6v2.6h-2.6zM132.6 551.9h2.6v2.6h-2.6zM140.6 543.2h2.6v2.6h-2.6zM129.3 542.9h2.6v2.6h-2.6zM138.3 540.1h2.6v2.6h-2.6zM135.8 545.3h2.6v2.6h-2.6zM129.8 551.1h2.6v2.6h-2.6zM128.5 543.8h2.6v2.6h-2.6zM133.3 543.9h2.6v2.6h-2.6zM132.6 539.8h2.6v2.6h-2.6zM138.2 537.5h2.6v2.6h-2.6zM133.5 546.7h2.6v2.6h-2.6zM139.9 542.1h2.6v2.6h-2.6zM136.7 545.6h2.6v2.6h-2.6zM138.5 546.4h2.6v2.6h-2.6zM129.4 541.5h2.6v2.6h-2.6zM129.3 550.2h2.6v2.6h-2.6zM137.5 538.0h2.6v2.6h-2.6zM135.8 538.6h2.6v2.6h-2.6zM140.4 544.5h2.6v2.6h-2.6zM139.4 538.2h2.6v2.6h-2.6zM129.7 540.2h2.6v2.6h-2.6zM137.3 540.7h2.6v2.6h-2.6zM128.7 545.6h2.6v2.6h-2.6zM138.5 548.0h2.6v2.6h-2.6zM136.6 533.7h2.6v2.6h-2.6zM138.5 545.3h2.6v2.6h-2.6zM133.5 543.7h2.6v2.6h-2.6zM136.5 544.5h2.6v2.6h-2.6zM135.9 538.0h2.6v2.6h-2.6zM143.9 537.4h2.6v2.6h-2.6zM128.7 550.3h2.6v2.6h-2.6zM135.1 542.3h2.6v2.6h-2.6zM131.7 540.1h2.6v2.6h-2.6zM132.9 542.2h2.6v2.6h-2.6zM139.9 541.7h2.6v2.6h-2.6zM140.3 535.9h2.6v2.6h-2.6zM141.4 546.9h2.6v2.6h-2.6zM130.4 551.4h2.6v2.6h-2.6zM136.4 539.1h2.6v2.6h-2.6zM133.4 548.5h2.6v2.6h-2.6zM131.0 539.6h2.6v2.6h-2.6zM135.4 551.1h2.6v2.6h-2.6zM134.2 544.5h2.6v2.6h-2.6zM135.9 543.4h2.6v2.6h-2.6zM143.0 543.6h2.6v2.6h-2.6zM131.2 546.2h2.6v2.6h-2.6zM135.9 538.3h2.6v2.6h-2.6zM137.0 549.0h2.6v2.6h-2.6zM139.6 547.7h2.6v2.6h-2.6zM135.2 536.1h2.6v2.6h-2.6zM135.4 550.0h2.6v2.6h-2.6zM129.4 547.1h2.6v2.6h-2.6zM133.7 546.5h2.6v2.6h-2.6zM143.8 534.9h2.6v2.6h-2.6zM140.5 541.2h2.6v2.6h-2.6zM131.6 548.0h2.6v2.6h-2.6zM134.0 545.2h2.6v2.6h-2.6zM129.3 543.4h2.6v2.6h-2.6zM145.6 543.2h2.6v2.6h-2.6zM139.1 545.4h2.6v2.6h-2.6zM131.2 543.8h2.6v2.6h-2.6zM138.0 541.7h2.6v2.6h-2.6zM131.7 542.8h2.6v2.6h-2.6zM132.7 548.0h2.6v2.6h-2.6zM140.1 538.3h2.6v2.6h-2.6zM143.4 535.3h2.6v2.6h-2.6zM138.2 546.7h2.6v2.6h-2.6zM138.3 537.3h2.6v2.6h-2.6zM139.0 540.3h2.6v2.6h-2.6zM134.3 535.3h2.6v2.6h-2.6zM142.8 539.2h2.6v2.6h-2.6zM128.1 547.2h2.6v2.6h-2.6zM138.3 538.0h2.6v2.6h-2.6zM128.2 544.7h2.6v2.6h-2.6zM132.2 537.8h2.6v2.6h-2.6zM131.1 539.3h2.6v2.6h-2.6zM135.6 537.5h2.6v2.6h-2.6zM134.2 545.5h2.6v2.6h-2.6zM135.1 545.0h2.6v2.6h-2.6zM137.8 548.9h2.6v2.6h-2.6zM133.2 544.4h2.6v2.6h-2.6zM138.1 539.3h2.6v2.6h-2.6zM136.9 548.6h2.6v2.6h-2.6zM133.9 537.1h2.6v2.6h-2.6zM136.6 543.0h2.6v2.6h-2.6zM139.1 541.2h2.6v2.6h-2.6zM135.5 536.4h2.6v2.6h-2.6zM129.3 548.3h2.6v2.6h-2.6zM132.3 539.9h2.6v2.6h-2.6zM141.7 545.7h2.6v2.6h-2.6zM134.9 547.8h2.6v2.6h-2.6zM133.2 545.8h2.6v2.6h-2.6zM140.1 542.5h2.6v2.6h-2.6zM144.3 537.9h2.6v2.6h-2.6zM135.9 537.0h2.6v2.6h-2.6zM135.2 534.8h2.6v2.6h-2.6zM133.0 536.4h2.6v2.6h-2.6zM139.0 544.5h2.6v2.6h-2.6zM144.0 541.0h2.6v2.6h-2.6zM133.6 536.4h2.6v2.6h-2.6zM136.1 542.3h2.6v2.6h-2.6zM135.3 540.9h2.6v2.6h-2.6zM130.7 545.7h2.6v2.6h-2.6zM135.3 546.1h2.6v2.6h-2.6zM133.5 550.4h2.6v2.6h-2.6zM139.3 545.3h2.6v2.6h-2.6zM131.7 544.2h2.6v2.6h-2.6zM143.6 543.8h2.6v2.6h-2.6zM140.5 541.7h2.6v2.6h-2.6zM140.8 546.1h2.6v2.6h-2.6zM140.0 545.5h2.6v2.6h-2.6zM144.2 536.6h2.6v2.6h-2.6zM128.7 547.9h2.6v2.6h-2.6zM131.5 546.9h2.6v2.6h-2.6zM131.3 542.9h2.6v2.6h-2.6zM128.4 546.3h2.6v2.6h-2.6zM135.4 536.7h2.6v2.6h-2.6zM138.0 547.6h2.6v2.6h-2.6zM127.9 543.6h2.6v2.6h-2.6zM136.6 537.4h2.6v2.6h-2.6zM140.2 546.8h2.6v2.6h-2.6zM139.5 541.4h2.6v2.6h-2.6zM141.8 547.6h2.6v2.6h-2.6zM138.8 549.7h2.6v2.6h-2.6zM132.7 549.0h2.6v2.6h-2.6zM142.1 543.4h2.6v2.6h-2.6zM128.3 543.7h2.6v2.6h-2.6zM142.0 537.9h2.6v2.6h-2.6zM143.2 546.4h2.6v2.6h-2.6zM137.7 544.0h2.6v2.6h-2.6zM133.5 547.4h2.6v2.6h-2.6zM137.8 546.2h2.6v2.6h-2.6zM134.3 535.3h2.6v2.6h-2.6zM137.1 549.2h2.6v2.6h-2.6zM140.1 541.7h2.6v2.6h-2.6zM142.6 538.3h2.6v2.6h-2.6zM138.9 536.8h2.6v2.6h-2.6zM133.4 540.7h2.6v2.6h-2.6zM131.0 545.5h2.6v2.6h-2.6zM129.9 542.3h2.6v2.6h-2.6zM132.2 541.8h2.6v2.6h-2.6zM144.0 533.2h2.6v2.6h-2.6zM139.7 536.4h2.6v2.6h-2.6zM143.7 545.8h2.6v2.6h-2.6zM140.9 539.9h2.6v2.6h-2.6zM140.4 537.2h2.6v2.6h-2.6zM140.2 543.3h2.6v2.6h-2.6zM137.5 543.4h2.6v2.6h-2.6zM136.8 541.0h2.6v2.6h-2.6zM138.1 538.8h2.6v2.6h-2.6zM131.0 547.5h2.6v2.6h-2.6zM135.8 540.5h2.6v2.6h-2.6zM134.2 544.6h2.6v2.6h-2.6zM130.4 540.9h2.6v2.6h-2.6zM144.1 536.9h2.6v2.6h-2.6zM142.2 541.2h2.6v2.6h-2.6zM138.9 539.3h2.6v2.6h-2.6zM141.8 536.5h2.6v2.6h-2.6zM142.6 543.3h2.6v2.6h-2.6zM134.2 542.2h2.6v2.6h-2.6zM133.3 549.4h2.6v2.6h-2.6zM134.0 546.5h2.6v2.6h-2.6zM143.0 540.9h2.6v2.6h-2.6zM138.6 549.7h2.6v2.6h-2.6zM134.0 538.3h2.6v2.6h-2.6zM144.7 540.4h2.6v2.6h-2.6zM138.1 536.4h2.6v2.6h-2.6zM136.1 537.2h2.6v2.6h-2.6zM142.8 536.9h2.6v2.6h-2.6zM137.9 542.2h2.6v2.6h-2.6zM143.3 545.7h2.6v2.6h-2.6zM144.5 538.3h2.6v2.6h-2.6zM138.8 542.5h2.6v2.6h-2.6zM144.6 537.7h2.6v2.6h-2.6zM141.8 537.3h2.6v2.6h-2.6zM142.2 538.4h2.6v2.6h-2.6zM139.2 540.1h2.6v2.6h-2.6zM130.8 546.4h2.6v2.6h-2.6zM138.6 547.5h2.6v2.6h-2.6zM142.1 537.5h2.6v2.6h-2.6zM144.5 536.2h2.6v2.6h-2.6zM128.3 547.6h2.6v2.6h-2.6zM131.0 544.3h2.6v2.6h-2.6zM126.5 544.1h2.6v2.6h-2.6zM144.7 542.9h2.6v2.6h-2.6zM133.2 543.6h2.6v2.6h-2.6zM138.6 538.2h2.6v2.6h-2.6zM129.5 550.8h2.6v2.6h-2.6zM139.5 542.5h2.6v2.6h-2.6zM141.1 542.1h2.6v2.6h-2.6zM137.3 537.3h2.6v2.6h-2.6zM134.0 548.1h2.6v2.6h-2.6z"/>
<defs><radialGradient id="g10"><stop offset="0" stop-color="#f6f6f6"/><stop offset="0.55" stop-color="#9c9c9c"/><stop offset="1" stop-color="#585858" stop-opacity="0"/></radialGradient></defs>
<ellipse cx="139.8" cy="541.3" rx="6.2" ry="6.4" transform="rotate(0 139.8 541.3)" fill="url(#g10)"/>
</g>
<path d="M89.3 505.0V604.6H170.6" fill="none" stroke="#000" stroke-width="2.7" stroke-linejoin="miter"/>
<path d="M122.7 505.0V604.6" fill="none" stroke="#000" stroke-width="2.2"/>
<path d="M89.3 560.5H171.0" fill="none" stroke="#000" stroke-width="1.9"/>
<path d="M89.3 604.6h-4M89.3 597.1h-2.8M89.3 592.7h-2.8M89.3 589.6h-2.8M89.3 587.2h-2.8M89.3 585.2h-2.8M89.3 583.6h-2.8M89.3 582.1h-2.8M89.3 580.8h-2.8M89.3 579.7h-4M89.3 572.2h-2.8M89.3 567.8h-2.8M89.3 564.7h-2.8M89.3 562.3h-2.8M89.3 560.3h-2.8M89.3 558.7h-2.8M89.3 557.2h-2.8M89.3 555.9h-2.8M89.3 554.8h-4M89.3 547.3h-2.8M89.3 542.9h-2.8M89.3 539.8h-2.8M89.3 537.4h-2.8M89.3 535.4h-2.8M89.3 533.8h-2.8M89.3 532.3h-2.8M89.3 531.0h-2.8M89.3 529.9h-4M89.3 522.4h-2.8M89.3 518.0h-2.8M89.3 514.9h-2.8M89.3 512.5h-2.8M89.3 510.5h-2.8M89.3 508.9h-2.8M89.3 507.4h-2.8M89.3 506.1h-2.8M89.3 505.0h-4" fill="none" stroke="#000" stroke-width="1.5"/>
<path d="M89.3 604.6v4.6M96.9 604.6v3.4M101.4 604.6v3.4M104.5 604.6v3.4M107.0 604.6v3.4M109.0 604.6v3.4M110.7 604.6v3.4M112.1 604.6v3.4M113.4 604.6v3.4M114.6 604.6v4.6M122.2 604.6v3.4M126.7 604.6v3.4M129.8 604.6v3.4M132.3 604.6v3.4M134.3 604.6v3.4M136.0 604.6v3.4M137.4 604.6v3.4M138.7 604.6v3.4M139.9 604.6v4.6M147.5 604.6v3.4M152.0 604.6v3.4M155.1 604.6v3.4M157.6 604.6v3.4M159.6 604.6v3.4M161.3 604.6v3.4M162.7 604.6v3.4M164.0 604.6v3.4M165.2 604.6v4.6" fill="none" stroke="#000" stroke-width="1.5"/>
<text x="87.3" y="613.2" font-size="3.5" text-anchor="middle" fill="#999">10<tspan dy="-1" font-size="2.5">0</tspan></text>
<text x="112.6" y="613.2" font-size="3.5" text-anchor="middle" fill="#999">10<tspan dy="-1" font-size="2.5">1</tspan></text>
<text x="137.9" y="613.2" font-size="3.5" text-anchor="middle" fill="#999">10<tspan dy="-1" font-size="2.5">2</tspan></text>
<text x="163.2" y="613.2" font-size="3.5" text-anchor="middle" fill="#999">10<tspan dy="-1" font-size="2.5">3</tspan></text>
<text x="137.9" y="616.6" font-size="3" text-anchor="middle" fill="#999">APC</text>
<clipPath id="c6"><rect x="188.3" y="503.5" width="84.0" height="101.6"/></clipPath><g clip-path="url(#c6)">
<ellipse cx="235.8" cy="544.0" rx="15.5" ry="9.2" transform="rotate(-47 235.8 544.0)" fill="#484848"/>
<path fill="#6c6c6c" d="M244.3 534.8h1.7v1.7h-1.7zM233.7 539.6h1.7v1.7h-1.7zM229.0 538.1h1.7v1.7h-1.7zM242.4 546.6h1.7v1.7h-1.7zM231.3 544.8h1.7v1.7h-1.7zM231.8 540.4h1.7v1.7h-1.7zM226.9 551.6h1.7v1.7h-1.7zM241.3 535.3h1.7v1.7h-1.7zM232.5 548.7h1.7v1.7h-1.7zM235.8 549.1h1.7v1.7h-1.7zM233.8 547.6h1.7v1.7h-1.7zM235.3 549.8h1.7v1.7h-1.7zM244.3 536.8h1.7v1.7h-1.7zM230.1 538.8h1.7v1.7h-1.7zM236.2 534.2h1.7v1.7h-1.7zM244.0 538.4h1.7v1.7h-1.7zM245.8 534.3h1.7v1.7h-1.7zM230.2 547.6h1.7v1.7h-1.7zM227.1 551.6h1.7v1.7h-1.7zM236.1 546.8h1.7v1.7h-1.7zM238.5 545.3h1.7v1.7h-1.7zM226.6 550.0h1.7v1.7h-1.7zM232.2 538.4h1.7v1.7h-1.7zM232.2 534.5h1.7v1.7h-1.7zM232.7 536.4h1.7v1.7h-1.7zM240.3 544.2h1.7v1.7h-1.7zM227.2 542.4h1.7v1.7h-1.7zM244.6 538.6h1.7v1.7h-1.7zM241.7 535.7h1.7v1.7h-1.7zM233.6 553.8h1.7v1.7h-1.7zM229.2 549.9h1.7v1.7h-1.7zM245.1 537.8h1.7v1.7h-1.7zM226.7 541.6h1.7v1.7h-1.7zM238.6 533.1h1.7v1.7h-1.7zM241.6 531.8h1.7v1.7h-1.7zM245.7 540.4h1.7v1.7h-1.7zM239.1 546.2h1.7v1.7h-1.7zM240.7 548.9h1.7v1.7h-1.7zM237.6 537.6h1.7v1.7h-1.7zM242.9 533.0h1.7v1.7h-1.7zM233.7 540.1h1.7v1.7h-1.7zM244.6 536.7h1.7v1.7h-1.7zM235.9 547.5h1.7v1.7h-1.7zM237.3 549.7h1.7v1.7h-1.7zM230.7 548.0h1.7v1.7h-1.7zM242.8 533.6h1.7v1.7h-1.7zM233.6 547.8h1.7v1.7h-1.7zM230.6 536.3h1.7v1.7h-1.7zM236.4 542.0h1.7v1.7h-1.7zM243.3 545.4h1.7v1.7h-1.7zM232.3 552.1h1.7v1.7h-1.7zM227.1 548.3h1.7v1.7h-1.7zM234.7 551.0h1.7v1.7h-1.7zM229.3 553.8h1.7v1.7h-1.7zM227.5 552.0h1.7v1.7h-1.7zM230.7 535.8h1.7v1.7h-1.7zM231.3 549.3h1.7v1.7h-1.7zM228.0 540.6h1.7v1.7h-1.7zM243.5 539.0h1.7v1.7h-1.7zM229.9 552.5h1.7v1.7h-1.7zM240.4 538.7h1.7v1.7h-1.7zM246.1 536.2h1.7v1.7h-1.7zM230.6 549.2h1.7v1.7h-1.7zM245.5 541.8h1.7v1.7h-1.7zM230.0 537.6h1.7v1.7h-1.7zM226.5 543.4h1.7v1.7h-1.7zM239.6 548.3h1.7v1.7h-1.7zM238.8 550.7h1.7v1.7h-1.7z"/>
<path fill="#3e3e3e" d="M240.6 533.4h1.7v1.7h-1.7zM237.3 538.0h1.7v1.7h-1.7zM224.1 549.6h1.7v1.7h-1.7zM237.9 541.5h1.7v1.7h-1.7zM238.7 545.2h1.7v1.7h-1.7zM226.2 546.6h1.7v1.7h-1.7zM244.6 542.5h1.7v1.7h-1.7zM233.9 534.2h1.7v1.7h-1.7zM235.2 552.9h1.7v1.7h-1.7zM234.3 541.6h1.7v1.7h-1.7zM231.3 536.1h1.7v1.7h-1.7zM242.7 537.4h1.7v1.7h-1.7zM236.2 541.6h1.7v1.7h-1.7zM236.7 540.8h1.7v1.7h-1.7zM242.7 541.5h1.7v1.7h-1.7zM233.1 538.7h1.7v1.7h-1.7zM232.7 540.9h1.7v1.7h-1.7zM238.1 546.7h1.7v1.7h-1.7zM236.3 549.9h1.7v1.7h-1.7zM231.2 536.3h1.7v1.7h-1.7zM244.2 536.1h1.7v1.7h-1.7zM240.1 531.6h1.7v1.7h-1.7zM238.3 546.1h1.7v1.7h-1.7zM224.9 550.7h1.7v1.7h-1.7zM236.9 540.4h1.7v1.7h-1.7zM223.8 546.5h1.7v1.7h-1.7zM234.3 537.2h1.7v1.7h-1.7zM242.7 543.0h1.7v1.7h-1.7zM223.5 549.6h1.7v1.7h-1.7zM238.5 536.3h1.7v1.7h-1.7zM226.3 540.6h1.7v1.7h-1.7zM229.5 537.6h1.7v1.7h-1.7zM237.5 534.1h1.7v1.7h-1.7zM245.1 542.4h1.7v1.7h-1.7zM229.6 541.2h1.7v1.7h-1.7zM236.8 551.5h1.7v1.7h-1.7zM232.6 541.4h1.7v1.7h-1.7zM225.0 547.2h1.7v1.7h-1.7zM232.8 548.3h1.7v1.7h-1.7zM239.1 549.4h1.7v1.7h-1.7zM236.8 546.7h1.7v1.7h-1.7zM232.2 548.1h1.7v1.7h-1.7zM231.0 548.2h1.7v1.7h-1.7zM242.5 536.1h1.7v1.7h-1.7zM225.8 542.7h1.7v1.7h-1.7zM242.0 537.9h1.7v1.7h-1.7zM229.3 549.1h1.7v1.7h-1.7zM233.1 551.3h1.7v1.7h-1.7zM233.5 550.7h1.7v1.7h-1.7zM225.5 545.8h1.7v1.7h-1.7zM243.7 532.7h1.7v1.7h-1.7zM241.0 535.9h1.7v1.7h-1.7zM235.8 538.3h1.7v1.7h-1.7zM242.0 542.2h1.7v1.7h-1.7zM227.9 544.4h1.7v1.7h-1.7zM236.9 532.4h1.7v1.7h-1.7zM239.2 547.7h1.7v1.7h-1.7zM231.1 549.3h1.7v1.7h-1.7zM232.8 537.4h1.7v1.7h-1.7zM231.8 550.6h1.7v1.7h-1.7z"/>
<path fill="#2b2b2b" d="M240.9 528.5h2.6v2.6h-2.6zM249.2 545.1h2.6v2.6h-2.6zM236.3 525.2h2.6v2.6h-2.6zM227.8 532.8h2.6v2.6h-2.6zM232.4 559.2h2.6v2.6h-2.6zM241.4 554.8h2.6v2.6h-2.6zM240.6 554.2h2.6v2.6h-2.6zM233.3 530.3h2.6v2.6h-2.6zM245.3 549.6h2.6v2.6h-2.6zM228.4 528.6h2.6v2.6h-2.6zM249.4 534.1h2.6v2.6h-2.6zM222.7 534.3h2.6v2.6h-2.6zM230.9 558.0h2.6v2.6h-2.6zM218.3 547.6h2.6v2.6h-2.6zM227.4 561.6h2.6v2.6h-2.6zM235.5 525.6h2.6v2.6h-2.6zM239.5 526.8h2.6v2.6h-2.6zM220.2 542.7h2.6v2.6h-2.6zM245.4 524.9h2.6v2.6h-2.6zM215.3 553.5h2.6v2.6h-2.6zM242.3 528.8h2.6v2.6h-2.6zM237.5 555.3h2.6v2.6h-2.6zM233.7 561.4h2.6v2.6h-2.6zM247.6 540.8h2.6v2.6h-2.6zM245.4 528.7h2.6v2.6h-2.6zM229.4 529.4h2.6v2.6h-2.6zM245.3 528.8h2.6v2.6h-2.6zM229.3 533.1h2.6v2.6h-2.6zM232.0 557.0h2.6v2.6h-2.6zM251.0 528.7h2.6v2.6h-2.6zM216.9 551.8h2.6v2.6h-2.6zM245.2 591.0h2.6v2.6h-2.6zM238.4 585.2h2.6v2.6h-2.6zM230.6 565.7h2.6v2.6h-2.6zM241.5 581.8h2.6v2.6h-2.6zM234.5 579.2h2.6v2.6h-2.6zM240.8 557.8h2.6v2.6h-2.6zM240.5 587.3h2.6v2.6h-2.6zM250.6 580.5h2.6v2.6h-2.6zM235.6 578.3h2.6v2.6h-2.6zM228.5 586.1h2.6v2.6h-2.6zM242.0 571.5h2.6v2.6h-2.6zM237.4 591.5h2.6v2.6h-2.6zM234.9 588.2h2.6v2.6h-2.6zM241.3 555.3h2.6v2.6h-2.6zM242.3 580.5h2.6v2.6h-2.6zM239.0 563.8h2.6v2.6h-2.6zM238.3 589.4h2.6v2.6h-2.6zM232.5 598.2h2.6v2.6h-2.6zM235.3 585.9h2.6v2.6h-2.6zM242.2 586.2h2.6v2.6h-2.6zM245.2 575.8h2.6v2.6h-2.6zM244.6 571.3h2.6v2.6h-2.6zM238.3 591.5h2.6v2.6h-2.6zM237.9 583.9h2.6v2.6h-2.6zM234.3 577.2h2.6v2.6h-2.6zM234.6 566.1h2.6v2.6h-2.6zM236.9 560.3h2.6v2.6h-2.6zM243.7 584.1h2.6v2.6h-2.6zM244.8 584.0h2.6v2.6h-2.6zM240.6 573.9h2.6v2.6h-2.6zM241.6 574.9h2.6v2.6h-2.6zM233.9 556.5h2.6v2.6h-2.6zM237.8 565.2h2.6v2.6h-2.6zM242.3 562.1h2.6v2.6h-2.6zM239.0 580.3h2.6v2.6h-2.6zM241.7 571.4h2.6v2.6h-2.6zM232.0 573.7h2.6v2.6h-2.6zM246.5 564.9h2.6v2.6h-2.6zM237.1 574.6h2.6v2.6h-2.6zM239.2 594.7h2.6v2.6h-2.6zM219.6 574.1h2.6v2.6h-2.6zM237.0 579.6h2.6v2.6h-2.6zM249.0 579.0h2.6v2.6h-2.6zM243.6 590.1h2.6v2.6h-2.6zM230.0 575.8h2.6v2.6h-2.6zM231.4 572.0h2.6v2.6h-2.6zM230.5 586.1h2.6v2.6h-2.6zM245.8 563.0h2.6v2.6h-2.6zM228.9 581.7h2.6v2.6h-2.6zM240.2 595.0h2.6v2.6h-2.6zM234.4 568.1h2.6v2.6h-2.6zM233.1 558.0h2.6v2.6h-2.6zM235.1 576.8h2.6v2.6h-2.6zM228.1 593.3h2.6v2.6h-2.6zM249.1 598.4h2.6v2.6h-2.6zM238.7 568.9h2.6v2.6h-2.6zM240.6 570.8h2.6v2.6h-2.6zM238.7 578.8h2.6v2.6h-2.6zM240.8 574.5h2.6v2.6h-2.6zM232.3 571.4h2.6v2.6h-2.6zM225.2 577.2h2.6v2.6h-2.6zM235.3 569.1h2.6v2.6h-2.6zM246.8 576.4h2.6v2.6h-2.6zM229.2 584.4h2.6v2.6h-2.6zM205.8 545.4h2.6v2.6h-2.6zM218.4 549.0h2.6v2.6h-2.6zM194.7 536.8h2.6v2.6h-2.6zM195.4 540.2h2.6v2.6h-2.6zM217.0 542.1h2.6v2.6h-2.6zM197.3 536.6h2.6v2.6h-2.6zM216.1 539.9h2.6v2.6h-2.6zM210.2 538.7h2.6v2.6h-2.6zM212.3 536.7h2.6v2.6h-2.6zM200.4 539.2h2.6v2.6h-2.6zM201.0 533.7h2.6v2.6h-2.6zM192.8 540.2h2.6v2.6h-2.6zM215.4 536.8h2.6v2.6h-2.6zM216.1 539.1h2.6v2.6h-2.6zM209.3 538.5h2.6v2.6h-2.6zM200.2 532.3h2.6v2.6h-2.6zM197.0 540.0h2.6v2.6h-2.6zM198.8 545.2h2.6v2.6h-2.6zM210.5 537.5h2.6v2.6h-2.6zM209.7 536.0h2.6v2.6h-2.6zM208.2 541.4h2.6v2.6h-2.6zM210.1 554.0h2.6v2.6h-2.6zM211.0 549.9h2.6v2.6h-2.6zM197.1 546.7h2.6v2.6h-2.6zM207.4 551.9h2.6v2.6h-2.6zM213.6 551.9h2.6v2.6h-2.6zM202.4 554.1h2.6v2.6h-2.6zM196.2 549.6h2.6v2.6h-2.6zM208.0 549.5h2.6v2.6h-2.6zM199.2 546.9h2.6v2.6h-2.6zM195.3 553.1h2.6v2.6h-2.6zM210.8 564.2h2.6v2.6h-2.6zM203.3 597.9h2.6v2.6h-2.6zM218.0 589.5h2.6v2.6h-2.6zM193.5 582.3h2.6v2.6h-2.6zM206.4 592.8h2.6v2.6h-2.6zM206.5 568.7h2.6v2.6h-2.6zM193.4 567.2h2.6v2.6h-2.6zM219.3 598.3h2.6v2.6h-2.6zM211.7 592.0h2.6v2.6h-2.6zM216.6 580.5h2.6v2.6h-2.6zM199.0 564.4h2.6v2.6h-2.6zM199.2 588.5h2.6v2.6h-2.6zM213.7 598.8h2.6v2.6h-2.6zM189.8 561.5h2.6v2.6h-2.6zM216.3 593.4h2.6v2.6h-2.6zM194.4 592.8h2.6v2.6h-2.6zM216.8 597.3h2.6v2.6h-2.6zM213.3 599.4h2.6v2.6h-2.6zM211.1 562.8h2.6v2.6h-2.6zM212.1 586.1h2.6v2.6h-2.6zM214.7 580.7h2.6v2.6h-2.6zM212.4 568.1h2.6v2.6h-2.6zM213.8 576.5h2.6v2.6h-2.6zM206.7 572.7h2.6v2.6h-2.6zM208.3 595.2h2.6v2.6h-2.6zM202.8 582.2h2.6v2.6h-2.6zM196.7 573.9h2.6v2.6h-2.6zM208.6 584.4h2.6v2.6h-2.6zM265.7 554.3h2.6v2.6h-2.6zM256.7 559.7h2.6v2.6h-2.6z"/>
<path fill="#444444" d="M230.4 553.4h2.6v2.6h-2.6zM230.4 533.6h2.6v2.6h-2.6zM243.5 545.5h2.6v2.6h-2.6zM235.3 554.4h2.6v2.6h-2.6zM228.0 557.1h2.6v2.6h-2.6zM222.2 548.4h2.6v2.6h-2.6zM232.4 533.6h2.6v2.6h-2.6zM246.2 541.6h2.6v2.6h-2.6zM220.6 549.8h2.6v2.6h-2.6zM226.4 538.0h2.6v2.6h-2.6zM231.2 534.8h2.6v2.6h-2.6zM247.1 539.9h2.6v2.6h-2.6zM227.6 555.3h2.6v2.6h-2.6zM234.6 532.6h2.6v2.6h-2.6zM242.8 547.8h2.6v2.6h-2.6zM225.9 555.8h2.6v2.6h-2.6zM225.6 551.8h2.6v2.6h-2.6zM237.6 552.3h2.6v2.6h-2.6zM242.3 550.1h2.6v2.6h-2.6zM221.7 547.5h2.6v2.6h-2.6zM224.8 555.6h2.6v2.6h-2.6zM222.4 551.7h2.6v2.6h-2.6zM221.9 543.0h2.6v2.6h-2.6zM244.0 548.4h2.6v2.6h-2.6zM222.2 554.1h2.6v2.6h-2.6zM236.6 527.9h2.6v2.6h-2.6zM237.1 529.0h2.6v2.6h-2.6zM237.7 530.8h2.6v2.6h-2.6zM221.4 549.8h2.6v2.6h-2.6zM222.6 545.9h2.6v2.6h-2.6zM233.2 552.5h2.6v2.6h-2.6zM226.0 556.0h2.6v2.6h-2.6zM239.7 529.1h2.6v2.6h-2.6zM244.3 542.1h2.6v2.6h-2.6zM221.1 552.7h2.6v2.6h-2.6zM232.7 533.9h2.6v2.6h-2.6zM242.2 545.6h2.6v2.6h-2.6zM245.3 532.6h2.6v2.6h-2.6zM247.0 537.7h2.6v2.6h-2.6zM247.8 534.2h2.6v2.6h-2.6zM246.1 531.3h2.6v2.6h-2.6zM246.9 533.1h2.6v2.6h-2.6zM236.2 531.6h2.6v2.6h-2.6zM223.5 544.6h2.6v2.6h-2.6zM226.9 556.5h2.6v2.6h-2.6zM228.1 555.1h2.6v2.6h-2.6zM246.0 534.1h2.6v2.6h-2.6zM238.4 552.1h2.6v2.6h-2.6zM221.5 543.8h2.6v2.6h-2.6zM243.7 542.6h2.6v2.6h-2.6zM234.4 533.3h2.6v2.6h-2.6zM242.5 531.4h2.6v2.6h-2.6zM228.0 555.1h2.6v2.6h-2.6zM234.1 531.7h2.6v2.6h-2.6zM220.7 551.6h2.6v2.6h-2.6zM221.9 550.8h2.6v2.6h-2.6zM225.6 552.8h2.6v2.6h-2.6zM236.2 528.0h2.6v2.6h-2.6zM237.9 531.2h2.6v2.6h-2.6zM223.3 545.6h2.6v2.6h-2.6zM229.0 553.8h2.6v2.6h-2.6zM227.4 537.7h2.6v2.6h-2.6zM238.2 530.7h2.6v2.6h-2.6zM245.4 533.8h2.6v2.6h-2.6zM236.2 528.4h2.6v2.6h-2.6zM226.5 551.6h2.6v2.6h-2.6zM226.5 538.9h2.6v2.6h-2.6zM225.2 539.3h2.6v2.6h-2.6zM242.3 548.1h2.6v2.6h-2.6zM226.8 556.4h2.6v2.6h-2.6zM220.5 553.3h2.6v2.6h-2.6zM224.6 552.9h2.6v2.6h-2.6zM222.1 542.2h2.6v2.6h-2.6zM246.8 533.4h2.6v2.6h-2.6zM243.3 543.4h2.6v2.6h-2.6zM225.4 551.5h2.6v2.6h-2.6zM244.4 531.1h2.6v2.6h-2.6zM246.1 534.6h2.6v2.6h-2.6zM226.3 539.2h2.6v2.6h-2.6zM235.1 553.9h2.6v2.6h-2.6zM240.8 549.8h2.6v2.6h-2.6zM236.6 565.1h2.6v2.6h-2.6zM243.0 577.5h2.6v2.6h-2.6zM235.5 553.8h2.6v2.6h-2.6zM235.7 563.6h2.6v2.6h-2.6zM242.0 579.3h2.6v2.6h-2.6zM240.6 577.3h2.6v2.6h-2.6zM229.7 554.4h2.6v2.6h-2.6zM239.1 551.3h2.6v2.6h-2.6zM241.3 579.0h2.6v2.6h-2.6zM235.3 565.7h2.6v2.6h-2.6zM224.6 541.8h2.6v2.6h-2.6zM202.7 542.5h2.6v2.6h-2.6zM203.8 541.3h2.6v2.6h-2.6zM200.2 539.9h2.6v2.6h-2.6zM202.7 541.1h2.6v2.6h-2.6zM203.3 542.5h2.6v2.6h-2.6zM204.1 541.5h2.6v2.6h-2.6zM201.6 541.0h2.6v2.6h-2.6zM200.2 542.8h2.6v2.6h-2.6zM207.2 539.9h2.6v2.6h-2.6zM199.8 542.0h2.6v2.6h-2.6zM205.9 541.9h2.6v2.6h-2.6zM201.9 542.9h2.6v2.6h-2.6zM203.0 541.4h2.6v2.6h-2.6zM201.1 542.2h2.6v2.6h-2.6zM205.0 541.7h2.6v2.6h-2.6zM205.8 539.6h2.6v2.6h-2.6zM201.0 540.2h2.6v2.6h-2.6z"/>
<path fill="#525252" d="M240.5 535.5h2.6v2.6h-2.6zM239.4 532.3h2.6v2.6h-2.6zM231.9 542.3h2.6v2.6h-2.6zM235.0 547.2h2.6v2.6h-2.6zM237.3 537.9h2.6v2.6h-2.6zM232.6 544.1h2.6v2.6h-2.6zM240.2 539.4h2.6v2.6h-2.6zM229.6 547.1h2.6v2.6h-2.6zM240.3 532.1h2.6v2.6h-2.6zM236.4 539.1h2.6v2.6h-2.6zM234.3 536.0h2.6v2.6h-2.6zM235.5 543.5h2.6v2.6h-2.6zM225.9 551.3h2.6v2.6h-2.6zM232.0 549.0h2.6v2.6h-2.6zM240.9 539.5h2.6v2.6h-2.6zM224.3 545.5h2.6v2.6h-2.6zM229.6 549.9h2.6v2.6h-2.6zM241.7 534.9h2.6v2.6h-2.6zM239.9 548.6h2.6v2.6h-2.6zM234.6 539.4h2.6v2.6h-2.6zM239.4 536.9h2.6v2.6h-2.6zM236.3 540.1h2.6v2.6h-2.6zM234.5 545.4h2.6v2.6h-2.6zM225.1 550.7h2.6v2.6h-2.6zM238.0 543.4h2.6v2.6h-2.6zM223.0 545.6h2.6v2.6h-2.6zM240.1 538.2h2.6v2.6h-2.6zM236.7 538.5h2.6v2.6h-2.6zM230.9 544.7h2.6v2.6h-2.6zM239.8 543.6h2.6v2.6h-2.6zM233.2 539.4h2.6v2.6h-2.6zM233.4 540.6h2.6v2.6h-2.6zM237.1 545.0h2.6v2.6h-2.6zM237.1 544.5h2.6v2.6h-2.6zM229.9 542.0h2.6v2.6h-2.6zM236.0 550.9h2.6v2.6h-2.6zM238.6 538.5h2.6v2.6h-2.6zM234.7 544.2h2.6v2.6h-2.6zM239.4 547.9h2.6v2.6h-2.6zM240.5 535.3h2.6v2.6h-2.6zM237.8 537.2h2.6v2.6h-2.6zM238.2 541.8h2.6v2.6h-2.6zM234.0 550.2h2.6v2.6h-2.6zM226.9 540.4h2.6v2.6h-2.6zM230.0 543.3h2.6v2.6h-2.6zM238.6 534.6h2.6v2.6h-2.6zM231.9 544.4h2.6v2.6h-2.6zM235.7 539.9h2.6v2.6h-2.6zM240.2 531.9h2.6v2.6h-2.6zM227.4 543.3h2.6v2.6h-2.6zM236.4 534.6h2.6v2.6h-2.6zM230.7 550.6h2.6v2.6h-2.6zM236.8 541.2h2.6v2.6h-2.6zM237.5 541.6h2.6v2.6h-2.6zM229.7 542.1h2.6v2.6h-2.6zM243.9 533.2h2.6v2.6h-2.6zM230.8 539.2h2.6v2.6h-2.6zM235.9 542.2h2.6v2.6h-2.6zM241.0 537.3h2.6v2.6h-2.6zM239.8 539.7h2.6v2.6h-2.6zM232.4 540.0h2.6v2.6h-2.6zM234.7 543.6h2.6v2.6h-2.6zM226.6 542.8h2.6v2.6h-2.6zM233.0 544.0h2.6v2.6h-2.6zM236.1 544.1h2.6v2.6h-2.6zM242.6 533.9h2.6v2.6h-2.6zM228.9 542.7h2.6v2.6h-2.6zM243.8 539.4h2.6v2.6h-2.6zM240.2 536.9h2.6v2.6h-2.6zM235.5 544.8h2.6v2.6h-2.6zM239.7 532.1h2.6v2.6h-2.6zM231.0 546.5h2.6v2.6h-2.6zM231.0 543.6h2.6v2.6h-2.6zM236.8 544.0h2.6v2.6h-2.6zM232.5 551.1h2.6v2.6h-2.6zM236.5 534.3h2.6v2.6h-2.6zM233.6 540.2h2.6v2.6h-2.6zM232.4 538.9h2.6v2.6h-2.6zM236.6 534.5h2.6v2.6h-2.6zM232.3 544.2h2.6v2.6h-2.6zM229.5 546.1h2.6v2.6h-2.6zM230.1 540.4h2.6v2.6h-2.6zM229.8 551.5h2.6v2.6h-2.6zM230.5 544.8h2.6v2.6h-2.6zM227.1 543.8h2.6v2.6h-2.6zM231.1 548.6h2.6v2.6h-2.6zM239.1 544.0h2.6v2.6h-2.6zM236.3 540.5h2.6v2.6h-2.6zM238.8 544.5h2.6v2.6h-2.6zM233.8 546.8h2.6v2.6h-2.6zM239.6 540.8h2.6v2.6h-2.6zM238.3 542.4h2.6v2.6h-2.6zM241.0 540.8h2.6v2.6h-2.6zM224.5 548.9h2.6v2.6h-2.6zM230.9 538.9h2.6v2.6h-2.6zM231.1 549.7h2.6v2.6h-2.6zM229.7 546.8h2.6v2.6h-2.6zM223.7 548.1h2.6v2.6h-2.6zM225.8 553.1h2.6v2.6h-2.6zM233.7 539.4h2.6v2.6h-2.6zM241.8 542.4h2.6v2.6h-2.6zM240.7 545.8h2.6v2.6h-2.6zM230.6 538.5h2.6v2.6h-2.6zM235.7 539.9h2.6v2.6h-2.6zM233.5 545.3h2.6v2.6h-2.6zM231.7 539.4h2.6v2.6h-2.6zM231.7 542.3h2.6v2.6h-2.6zM236.6 541.4h2.6v2.6h-2.6zM240.7 532.0h2.6v2.6h-2.6zM245.8 538.5h2.6v2.6h-2.6zM235.0 545.8h2.6v2.6h-2.6zM235.6 540.7h2.6v2.6h-2.6zM236.3 542.7h2.6v2.6h-2.6zM225.6 542.3h2.6v2.6h-2.6zM231.1 547.5h2.6v2.6h-2.6zM237.2 550.1h2.6v2.6h-2.6zM229.5 544.3h2.6v2.6h-2.6zM229.4 549.3h2.6v2.6h-2.6zM227.7 543.4h2.6v2.6h-2.6zM239.6 541.6h2.6v2.6h-2.6zM238.5 538.9h2.6v2.6h-2.6zM242.2 533.9h2.6v2.6h-2.6zM233.9 540.8h2.6v2.6h-2.6zM242.1 538.2h2.6v2.6h-2.6zM236.6 541.5h2.6v2.6h-2.6zM233.5 544.8h2.6v2.6h-2.6zM238.5 535.7h2.6v2.6h-2.6zM234.6 539.7h2.6v2.6h-2.6zM238.9 540.5h2.6v2.6h-2.6zM236.9 536.4h2.6v2.6h-2.6zM241.5 539.3h2.6v2.6h-2.6zM226.7 545.1h2.6v2.6h-2.6zM236.9 542.5h2.6v2.6h-2.6zM233.8 549.5h2.6v2.6h-2.6zM228.6 541.4h2.6v2.6h-2.6zM237.7 546.0h2.6v2.6h-2.6zM238.5 540.8h2.6v2.6h-2.6zM235.1 543.7h2.6v2.6h-2.6zM237.7 548.2h2.6v2.6h-2.6zM242.2 537.2h2.6v2.6h-2.6zM233.4 537.3h2.6v2.6h-2.6zM240.2 544.3h2.6v2.6h-2.6zM230.8 543.9h2.6v2.6h-2.6zM236.6 538.4h2.6v2.6h-2.6zM237.1 537.7h2.6v2.6h-2.6zM240.8 532.2h2.6v2.6h-2.6zM229.7 541.9h2.6v2.6h-2.6zM241.2 540.5h2.6v2.6h-2.6zM237.2 547.1h2.6v2.6h-2.6zM226.3 541.9h2.6v2.6h-2.6zM226.1 550.4h2.6v2.6h-2.6zM234.5 540.2h2.6v2.6h-2.6zM244.0 537.4h2.6v2.6h-2.6zM237.0 547.3h2.6v2.6h-2.6zM241.0 538.4h2.6v2.6h-2.6zM238.8 546.1h2.6v2.6h-2.6zM241.6 541.4h2.6v2.6h-2.6zM235.8 545.7h2.6v2.6h-2.6zM238.8 541.5h2.6v2.6h-2.6zM233.2 551.5h2.6v2.6h-2.6zM236.1 537.1h2.6v2.6h-2.6zM242.7 539.8h2.6v2.6h-2.6zM235.0 548.6h2.6v2.6h-2.6zM235.1 541.4h2.6v2.6h-2.6zM224.8 544.9h2.6v2.6h-2.6zM235.1 544.6h2.6v2.6h-2.6zM232.6 543.6h2.6v2.6h-2.6zM231.6 541.8h2.6v2.6h-2.6zM240.6 544.5h2.6v2.6h-2.6zM241.2 532.3h2.6v2.6h-2.6zM236.4 537.6h2.6v2.6h-2.6zM231.1 539.6h2.6v2.6h-2.6zM229.4 541.2h2.6v2.6h-2.6zM231.6 540.6h2.6v2.6h-2.6zM238.7 536.4h2.6v2.6h-2.6zM227.0 547.9h2.6v2.6h-2.6zM229.9 540.2h2.6v2.6h-2.6zM232.8 545.0h2.6v2.6h-2.6zM244.0 537.5h2.6v2.6h-2.6zM238.7 538.6h2.6v2.6h-2.6zM235.2 541.4h2.6v2.6h-2.6zM237.8 542.7h2.6v2.6h-2.6zM237.3 538.0h2.6v2.6h-2.6zM228.8 546.4h2.6v2.6h-2.6zM236.2 543.1h2.6v2.6h-2.6zM237.3 539.5h2.6v2.6h-2.6zM233.2 538.2h2.6v2.6h-2.6zM235.0 540.5h2.6v2.6h-2.6zM238.0 542.4h2.6v2.6h-2.6zM234.5 544.4h2.6v2.6h-2.6zM233.7 537.6h2.6v2.6h-2.6zM237.9 542.5h2.6v2.6h-2.6zM240.1 542.3h2.6v2.6h-2.6zM233.2 548.4h2.6v2.6h-2.6zM227.8 539.8h2.6v2.6h-2.6zM226.6 547.4h2.6v2.6h-2.6zM230.6 540.3h2.6v2.6h-2.6zM239.7 540.8h2.6v2.6h-2.6zM237.8 549.8h2.6v2.6h-2.6zM229.3 540.7h2.6v2.6h-2.6zM236.3 534.2h2.6v2.6h-2.6zM238.6 541.0h2.6v2.6h-2.6zM229.1 543.8h2.6v2.6h-2.6zM229.9 542.6h2.6v2.6h-2.6zM233.4 547.9h2.6v2.6h-2.6zM240.5 535.9h2.6v2.6h-2.6zM229.7 543.5h2.6v2.6h-2.6zM236.7 547.7h2.6v2.6h-2.6zM239.9 535.7h2.6v2.6h-2.6zM226.7 540.9h2.6v2.6h-2.6zM238.9 536.1h2.6v2.6h-2.6zM227.4 549.9h2.6v2.6h-2.6zM228.9 543.5h2.6v2.6h-2.6zM244.9 538.3h2.6v2.6h-2.6zM238.5 540.1h2.6v2.6h-2.6zM232.4 549.5h2.6v2.6h-2.6zM231.7 551.5h2.6v2.6h-2.6zM225.4 550.3h2.6v2.6h-2.6zM235.4 539.9h2.6v2.6h-2.6zM233.6 544.2h2.6v2.6h-2.6zM234.7 539.7h2.6v2.6h-2.6zM239.1 547.6h2.6v2.6h-2.6zM228.9 552.5h2.6v2.6h-2.6zM235.2 540.6h2.6v2.6h-2.6zM238.2 543.8h2.6v2.6h-2.6zM235.8 546.6h2.6v2.6h-2.6zM232.8 538.6h2.6v2.6h-2.6zM228.8 540.7h2.6v2.6h-2.6zM240.1 541.7h2.6v2.6h-2.6zM228.9 546.7h2.6v2.6h-2.6zM233.9 549.5h2.6v2.6h-2.6zM241.2 547.2h2.6v2.6h-2.6zM231.1 551.7h2.6v2.6h-2.6zM236.2 545.9h2.6v2.6h-2.6zM239.0 546.1h2.6v2.6h-2.6zM231.5 546.4h2.6v2.6h-2.6zM237.3 542.6h2.6v2.6h-2.6zM241.4 542.4h2.6v2.6h-2.6zM235.0 544.8h2.6v2.6h-2.6zM238.1 544.0h2.6v2.6h-2.6zM238.3 536.4h2.6v2.6h-2.6zM231.2 546.1h2.6v2.6h-2.6zM236.4 547.2h2.6v2.6h-2.6zM237.5 542.3h2.6v2.6h-2.6zM233.8 536.8h2.6v2.6h-2.6zM238.8 541.6h2.6v2.6h-2.6zM237.9 533.9h2.6v2.6h-2.6zM236.9 544.0h2.6v2.6h-2.6zM229.6 549.3h2.6v2.6h-2.6zM225.7 547.5h2.6v2.6h-2.6zM237.9 536.2h2.6v2.6h-2.6zM232.5 546.8h2.6v2.6h-2.6zM229.1 545.8h2.6v2.6h-2.6zM244.4 536.9h2.6v2.6h-2.6zM229.0 547.7h2.6v2.6h-2.6zM231.8 545.5h2.6v2.6h-2.6zM236.4 549.7h2.6v2.6h-2.6zM239.8 543.9h2.6v2.6h-2.6zM226.5 539.0h2.6v2.6h-2.6zM234.4 548.9h2.6v2.6h-2.6zM229.3 541.9h2.6v2.6h-2.6zM229.0 547.6h2.6v2.6h-2.6zM230.9 549.2h2.6v2.6h-2.6zM232.9 538.5h2.6v2.6h-2.6zM225.8 548.7h2.6v2.6h-2.6zM239.5 535.8h2.6v2.6h-2.6zM230.6 548.5h2.6v2.6h-2.6zM235.2 548.7h2.6v2.6h-2.6zM230.2 547.8h2.6v2.6h-2.6zM242.1 534.7h2.6v2.6h-2.6zM236.9 547.4h2.6v2.6h-2.6zM241.6 543.2h2.6v2.6h-2.6zM242.4 533.8h2.6v2.6h-2.6zM237.1 539.3h2.6v2.6h-2.6zM230.2 549.0h2.6v2.6h-2.6zM229.2 543.5h2.6v2.6h-2.6zM237.9 537.6h2.6v2.6h-2.6zM240.9 544.3h2.6v2.6h-2.6zM234.3 545.7h2.6v2.6h-2.6zM244.8 535.8h2.6v2.6h-2.6zM230.6 550.5h2.6v2.6h-2.6zM227.5 541.6h2.6v2.6h-2.6zM233.1 542.5h2.6v2.6h-2.6zM238.6 538.5h2.6v2.6h-2.6zM243.8 539.1h2.6v2.6h-2.6zM228.3 544.3h2.6v2.6h-2.6zM229.7 546.8h2.6v2.6h-2.6zM232.1 552.0h2.6v2.6h-2.6zM234.3 535.3h2.6v2.6h-2.6zM235.2 543.2h2.6v2.6h-2.6zM239.1 537.6h2.6v2.6h-2.6zM237.6 548.0h2.6v2.6h-2.6zM224.7 549.6h2.6v2.6h-2.6zM240.5 542.1h2.6v2.6h-2.6zM237.0 545.9h2.6v2.6h-2.6zM229.3 538.9h2.6v2.6h-2.6zM230.7 549.7h2.6v2.6h-2.6zM241.4 547.7h2.6v2.6h-2.6zM234.6 540.5h2.6v2.6h-2.6zM243.7 538.1h2.6v2.6h-2.6zM235.4 550.1h2.6v2.6h-2.6zM242.7 540.8h2.6v2.6h-2.6zM233.1 543.0h2.6v2.6h-2.6zM238.1 535.4h2.6v2.6h-2.6zM239.1 534.6h2.6v2.6h-2.6zM226.3 542.6h2.6v2.6h-2.6zM238.0 541.5h2.6v2.6h-2.6zM232.0 547.2h2.6v2.6h-2.6zM234.4 542.4h2.6v2.6h-2.6zM238.0 545.1h2.6v2.6h-2.6zM226.4 548.5h2.6v2.6h-2.6zM238.4 544.7h2.6v2.6h-2.6zM242.1 539.6h2.6v2.6h-2.6zM231.9 539.1h2.6v2.6h-2.6zM243.2 538.8h2.6v2.6h-2.6zM236.3 542.9h2.6v2.6h-2.6zM240.2 533.5h2.6v2.6h-2.6zM240.0 545.7h2.6v2.6h-2.6zM230.2 550.3h2.6v2.6h-2.6zM224.9 546.1h2.6v2.6h-2.6zM230.3 538.1h2.6v2.6h-2.6zM233.2 548.5h2.6v2.6h-2.6zM228.9 548.9h2.6v2.6h-2.6zM238.9 537.7h2.6v2.6h-2.6zM230.4 544.7h2.6v2.6h-2.6zM234.0 548.6h2.6v2.6h-2.6zM239.5 540.9h2.6v2.6h-2.6zM234.9 543.7h2.6v2.6h-2.6zM244.6 541.3h2.6v2.6h-2.6zM231.4 548.1h2.6v2.6h-2.6zM244.2 536.9h2.6v2.6h-2.6zM234.3 539.4h2.6v2.6h-2.6zM235.6 544.0h2.6v2.6h-2.6zM228.9 540.6h2.6v2.6h-2.6zM229.5 539.0h2.6v2.6h-2.6zM238.7 534.6h2.6v2.6h-2.6zM239.2 545.1h2.6v2.6h-2.6zM229.4 548.2h2.6v2.6h-2.6zM224.7 547.8h2.6v2.6h-2.6zM241.1 539.4h2.6v2.6h-2.6zM228.1 548.8h2.6v2.6h-2.6zM243.4 532.7h2.6v2.6h-2.6zM231.1 536.7h2.6v2.6h-2.6zM231.6 548.5h2.6v2.6h-2.6zM239.7 532.9h2.6v2.6h-2.6zM236.1 545.6h2.6v2.6h-2.6zM230.9 537.8h2.6v2.6h-2.6zM230.0 549.1h2.6v2.6h-2.6zM234.2 544.9h2.6v2.6h-2.6zM236.8 546.2h2.6v2.6h-2.6zM226.8 548.5h2.6v2.6h-2.6zM228.8 549.6h2.6v2.6h-2.6zM231.4 549.2h2.6v2.6h-2.6zM238.7 543.8h2.6v2.6h-2.6zM235.8 540.7h2.6v2.6h-2.6zM239.7 544.7h2.6v2.6h-2.6zM237.5 548.3h2.6v2.6h-2.6zM239.3 531.2h2.6v2.6h-2.6zM229.6 546.7h2.6v2.6h-2.6zM230.4 540.5h2.6v2.6h-2.6zM239.2 546.3h2.6v2.6h-2.6zM234.1 543.4h2.6v2.6h-2.6zM232.7 545.9h2.6v2.6h-2.6zM234.9 548.8h2.6v2.6h-2.6zM225.9 543.4h2.6v2.6h-2.6zM226.1 547.5h2.6v2.6h-2.6zM240.2 533.7h2.6v2.6h-2.6zM225.8 544.6h2.6v2.6h-2.6zM231.9 547.4h2.6v2.6h-2.6zM231.6 539.6h2.6v2.6h-2.6zM231.8 539.0h2.6v2.6h-2.6zM238.2 546.5h2.6v2.6h-2.6zM245.8 539.3h2.6v2.6h-2.6zM235.4 536.1h2.6v2.6h-2.6zM231.7 536.3h2.6v2.6h-2.6zM231.7 550.7h2.6v2.6h-2.6zM224.5 543.8h2.6v2.6h-2.6zM226.7 544.4h2.6v2.6h-2.6zM237.1 549.8h2.6v2.6h-2.6zM234.4 542.7h2.6v2.6h-2.6zM237.9 536.6h2.6v2.6h-2.6zM231.2 538.2h2.6v2.6h-2.6zM238.9 544.3h2.6v2.6h-2.6zM238.5 545.7h2.6v2.6h-2.6zM235.0 545.6h2.6v2.6h-2.6zM229.7 550.3h2.6v2.6h-2.6zM230.5 544.6h2.6v2.6h-2.6zM229.2 546.3h2.6v2.6h-2.6zM227.9 542.5h2.6v2.6h-2.6z"/>
<defs><radialGradient id="g11"><stop offset="0" stop-color="#f6f6f6"/><stop offset="0.55" stop-color="#9c9c9c"/><stop offset="1" stop-color="#585858" stop-opacity="0"/></radialGradient></defs>
<ellipse cx="237.7" cy="541.8" rx="6.4" ry="6.6" transform="rotate(0 237.7 541.8)" fill="url(#g11)"/>
</g>
<path d="M188.3 505.0V604.6H269.6" fill="none" stroke="#000" stroke-width="2.7" stroke-linejoin="miter"/>
<path d="M222.7 505.0V604.6" fill="none" stroke="#000" stroke-width="2.2"/>
<path d="M188.3 560.5H270.0" fill="none" stroke="#000" stroke-width="1.9"/>
<path d="M188.3 604.6h-4M188.3 597.1h-2.8M188.3 592.7h-2.8M188.3 589.6h-2.8M188.3 587.2h-2.8M188.3 585.2h-2.8M188.3 583.6h-2.8M188.3 582.1h-2.8M188.3 580.8h-2.8M188.3 579.7h-4M188.3 572.2h-2.8M188.3 567.8h-2.8M188.3 564.7h-2.8M188.3 562.3h-2.8M188.3 560.3h-2.8M188.3 558.7h-2.8M188.3 557.2h-2.8M188.3 555.9h-2.8M188.3 554.8h-4M188.3 547.3h-2.8M188.3 542.9h-2.8M188.3 539.8h-2.8M188.3 537.4h-2.8M188.3 535.4h-2.8M188.3 533.8h-2.8M188.3 532.3h-2.8M188.3 531.0h-2.8M188.3 529.9h-4M188.3 522.4h-2.8M188.3 518.0h-2.8M188.3 514.9h-2.8M188.3 512.5h-2.8M188.3 510.5h-2.8M188.3 508.9h-2.8M188.3 507.4h-2.8M188.3 506.1h-2.8M188.3 505.0h-4" fill="none" stroke="#000" stroke-width="1.5"/>
<path d="M188.3 604.6v4.6M195.9 604.6v3.4M200.4 604.6v3.4M203.5 604.6v3.4M206.0 604.6v3.4M208.0 604.6v3.4M209.7 604.6v3.4M211.1 604.6v3.4M212.4 604.6v3.4M213.6 604.6v4.6M221.2 604.6v3.4M225.7 604.6v3.4M228.8 604.6v3.4M231.3 604.6v3.4M233.3 604.6v3.4M235.0 604.6v3.4M236.4 604.6v3.4M237.7 604.6v3.4M238.9 604.6v4.6M246.5 604.6v3.4M251.0 604.6v3.4M254.1 604.6v3.4M256.6 604.6v3.4M258.6 604.6v3.4M260.3 604.6v3.4M261.7 604.6v3.4M263.0 604.6v3.4M264.2 604.6v4.6" fill="none" stroke="#000" stroke-width="1.5"/>
<text x="186.3" y="613.2" font-size="3.5" text-anchor="middle" fill="#999">10<tspan dy="-1" font-size="2.5">0</tspan></text>
<text x="211.6" y="613.2" font-size="3.5" text-anchor="middle" fill="#999">10<tspan dy="-1" font-size="2.5">1</tspan></text>
<text x="236.9" y="613.2" font-size="3.5" text-anchor="middle" fill="#999">10<tspan dy="-1" font-size="2.5">2</tspan></text>
<text x="262.2" y="613.2" font-size="3.5" text-anchor="middle" fill="#999">10<tspan dy="-1" font-size="2.5">3</tspan></text>
<text x="236.9" y="616.6" font-size="3" text-anchor="middle" fill="#999">APC</text>
<clipPath id="c7"><rect x="287.3" y="503.5" width="84.0" height="101.6"/></clipPath><g clip-path="url(#c7)">
<ellipse cx="334.3" cy="544.0" rx="15.5" ry="9.2" transform="rotate(-50 334.3 544.0)" fill="#484848"/>
<path fill="#6c6c6c" d="M337.6 544.8h1.7v1.7h-1.7zM335.5 535.8h1.7v1.7h-1.7zM326.6 553.4h1.7v1.7h-1.7zM329.4 541.7h1.7v1.7h-1.7zM329.3 540.0h1.7v1.7h-1.7zM334.6 543.9h1.7v1.7h-1.7zM339.0 548.5h1.7v1.7h-1.7zM342.6 541.7h1.7v1.7h-1.7zM339.0 544.4h1.7v1.7h-1.7zM331.6 542.1h1.7v1.7h-1.7zM338.2 547.6h1.7v1.7h-1.7zM334.8 546.1h1.7v1.7h-1.7zM326.2 553.8h1.7v1.7h-1.7zM336.1 533.1h1.7v1.7h-1.7zM336.1 540.3h1.7v1.7h-1.7zM343.0 538.7h1.7v1.7h-1.7zM333.7 552.4h1.7v1.7h-1.7zM334.7 547.6h1.7v1.7h-1.7zM335.8 543.5h1.7v1.7h-1.7zM341.3 541.6h1.7v1.7h-1.7zM325.1 544.2h1.7v1.7h-1.7zM333.4 535.0h1.7v1.7h-1.7zM335.7 543.9h1.7v1.7h-1.7zM330.4 541.4h1.7v1.7h-1.7zM329.9 548.4h1.7v1.7h-1.7zM336.6 532.7h1.7v1.7h-1.7zM323.4 546.7h1.7v1.7h-1.7zM328.3 547.3h1.7v1.7h-1.7zM337.7 537.5h1.7v1.7h-1.7zM338.4 531.9h1.7v1.7h-1.7zM340.4 533.1h1.7v1.7h-1.7zM328.9 549.7h1.7v1.7h-1.7zM330.2 540.2h1.7v1.7h-1.7zM336.4 536.0h1.7v1.7h-1.7zM343.3 538.1h1.7v1.7h-1.7zM329.6 549.6h1.7v1.7h-1.7zM341.2 541.3h1.7v1.7h-1.7zM330.3 548.7h1.7v1.7h-1.7zM341.5 543.7h1.7v1.7h-1.7zM330.7 541.4h1.7v1.7h-1.7zM342.4 536.6h1.7v1.7h-1.7zM328.4 545.9h1.7v1.7h-1.7zM330.0 536.0h1.7v1.7h-1.7zM331.7 545.7h1.7v1.7h-1.7zM326.0 543.6h1.7v1.7h-1.7zM338.8 544.8h1.7v1.7h-1.7zM332.2 536.2h1.7v1.7h-1.7zM329.5 552.3h1.7v1.7h-1.7zM332.1 539.1h1.7v1.7h-1.7zM333.2 552.1h1.7v1.7h-1.7zM331.3 536.7h1.7v1.7h-1.7zM341.0 536.0h1.7v1.7h-1.7zM339.5 537.1h1.7v1.7h-1.7zM331.9 538.0h1.7v1.7h-1.7zM343.2 540.5h1.7v1.7h-1.7zM339.4 549.2h1.7v1.7h-1.7zM325.2 544.1h1.7v1.7h-1.7zM324.7 544.7h1.7v1.7h-1.7zM335.9 536.6h1.7v1.7h-1.7z"/>
<path fill="#3e3e3e" d="M332.6 542.8h1.7v1.7h-1.7zM332.8 553.3h1.7v1.7h-1.7zM336.8 548.3h1.7v1.7h-1.7zM332.1 552.6h1.7v1.7h-1.7zM329.3 553.7h1.7v1.7h-1.7zM342.7 541.2h1.7v1.7h-1.7zM331.8 538.2h1.7v1.7h-1.7zM330.3 535.7h1.7v1.7h-1.7zM335.4 536.4h1.7v1.7h-1.7zM344.4 537.4h1.7v1.7h-1.7zM337.0 547.3h1.7v1.7h-1.7zM337.4 532.0h1.7v1.7h-1.7zM330.8 535.6h1.7v1.7h-1.7zM339.6 547.6h1.7v1.7h-1.7zM334.1 535.6h1.7v1.7h-1.7zM333.7 548.6h1.7v1.7h-1.7zM327.1 552.6h1.7v1.7h-1.7zM336.3 545.0h1.7v1.7h-1.7zM324.1 547.3h1.7v1.7h-1.7zM326.0 545.2h1.7v1.7h-1.7zM327.6 539.4h1.7v1.7h-1.7zM325.7 547.9h1.7v1.7h-1.7zM343.7 538.7h1.7v1.7h-1.7zM339.3 549.0h1.7v1.7h-1.7zM336.3 542.8h1.7v1.7h-1.7zM328.2 540.6h1.7v1.7h-1.7zM340.3 544.8h1.7v1.7h-1.7zM331.1 548.8h1.7v1.7h-1.7zM326.7 545.6h1.7v1.7h-1.7zM329.0 543.6h1.7v1.7h-1.7zM338.1 536.7h1.7v1.7h-1.7zM338.4 536.6h1.7v1.7h-1.7zM330.5 547.6h1.7v1.7h-1.7zM327.2 554.0h1.7v1.7h-1.7zM344.5 537.5h1.7v1.7h-1.7zM337.5 550.6h1.7v1.7h-1.7zM333.6 545.2h1.7v1.7h-1.7zM328.1 549.0h1.7v1.7h-1.7zM322.5 549.1h1.7v1.7h-1.7zM332.2 542.1h1.7v1.7h-1.7zM331.9 552.1h1.7v1.7h-1.7zM334.9 542.2h1.7v1.7h-1.7zM342.2 538.3h1.7v1.7h-1.7zM338.9 547.2h1.7v1.7h-1.7zM331.7 540.2h1.7v1.7h-1.7zM341.0 544.0h1.7v1.7h-1.7zM332.6 550.6h1.7v1.7h-1.7zM342.8 543.8h1.7v1.7h-1.7zM324.8 542.4h1.7v1.7h-1.7zM323.7 547.8h1.7v1.7h-1.7zM344.6 536.8h1.7v1.7h-1.7zM340.1 532.2h1.7v1.7h-1.7zM327.2 551.3h1.7v1.7h-1.7zM338.1 544.9h1.7v1.7h-1.7zM329.2 540.1h1.7v1.7h-1.7zM330.5 543.6h1.7v1.7h-1.7zM340.5 538.2h1.7v1.7h-1.7zM328.8 552.4h1.7v1.7h-1.7zM326.9 553.5h1.7v1.7h-1.7zM325.1 554.4h1.7v1.7h-1.7zM343.1 541.9h1.7v1.7h-1.7zM335.8 535.2h1.7v1.7h-1.7zM330.5 543.8h1.7v1.7h-1.7zM338.2 550.0h1.7v1.7h-1.7zM333.5 550.0h1.7v1.7h-1.7zM323.5 546.9h1.7v1.7h-1.7zM335.4 532.4h1.7v1.7h-1.7zM341.9 541.5h1.7v1.7h-1.7zM337.3 531.4h1.7v1.7h-1.7z"/>
<path fill="#2b2b2b" d="M337.6 524.7h2.6v2.6h-2.6zM335.9 528.6h2.6v2.6h-2.6zM320.4 564.1h2.6v2.6h-2.6zM332.4 528.9h2.6v2.6h-2.6zM346.3 539.0h2.6v2.6h-2.6zM343.8 534.2h2.6v2.6h-2.6zM323.3 558.1h2.6v2.6h-2.6zM341.1 549.9h2.6v2.6h-2.6zM345.4 540.9h2.6v2.6h-2.6zM347.5 527.2h2.6v2.6h-2.6zM346.8 534.6h2.6v2.6h-2.6zM351.9 538.1h2.6v2.6h-2.6zM344.8 531.0h2.6v2.6h-2.6zM341.5 524.5h2.6v2.6h-2.6zM316.3 550.8h2.6v2.6h-2.6zM350.7 534.0h2.6v2.6h-2.6zM319.7 554.5h2.6v2.6h-2.6zM340.1 528.8h2.6v2.6h-2.6zM320.1 566.1h2.6v2.6h-2.6zM318.5 554.3h2.6v2.6h-2.6zM315.9 539.8h2.6v2.6h-2.6zM316.0 549.9h2.6v2.6h-2.6zM336.1 555.0h2.6v2.6h-2.6zM337.9 526.9h2.6v2.6h-2.6zM346.9 543.9h2.6v2.6h-2.6zM329.3 528.9h2.6v2.6h-2.6zM341.8 531.9h2.6v2.6h-2.6zM311.4 551.3h2.6v2.6h-2.6zM319.8 560.2h2.6v2.6h-2.6zM339.9 533.0h2.6v2.6h-2.6zM341.8 523.8h2.6v2.6h-2.6zM346.8 536.4h2.6v2.6h-2.6zM342.0 530.6h2.6v2.6h-2.6zM337.8 569.2h2.6v2.6h-2.6zM340.6 557.2h2.6v2.6h-2.6zM339.2 579.5h2.6v2.6h-2.6zM328.9 588.5h2.6v2.6h-2.6zM341.5 583.0h2.6v2.6h-2.6zM334.1 569.5h2.6v2.6h-2.6zM350.0 579.0h2.6v2.6h-2.6zM329.1 572.8h2.6v2.6h-2.6zM341.9 578.2h2.6v2.6h-2.6zM334.6 584.4h2.6v2.6h-2.6zM335.8 575.3h2.6v2.6h-2.6zM341.9 557.5h2.6v2.6h-2.6zM340.7 553.3h2.6v2.6h-2.6zM328.6 569.0h2.6v2.6h-2.6zM332.6 571.0h2.6v2.6h-2.6zM335.3 575.9h2.6v2.6h-2.6zM337.2 571.9h2.6v2.6h-2.6zM328.6 570.3h2.6v2.6h-2.6zM342.4 568.2h2.6v2.6h-2.6zM335.1 574.3h2.6v2.6h-2.6zM330.1 584.0h2.6v2.6h-2.6zM332.7 572.2h2.6v2.6h-2.6zM329.7 565.3h2.6v2.6h-2.6zM338.2 564.9h2.6v2.6h-2.6zM339.0 576.8h2.6v2.6h-2.6zM343.4 587.3h2.6v2.6h-2.6zM349.0 542.8h2.6v2.6h-2.6zM341.0 566.5h2.6v2.6h-2.6zM322.9 567.1h2.6v2.6h-2.6zM340.2 601.8h2.6v2.6h-2.6zM337.8 567.0h2.6v2.6h-2.6zM340.0 581.8h2.6v2.6h-2.6zM341.3 593.7h2.6v2.6h-2.6zM337.4 569.7h2.6v2.6h-2.6zM348.3 578.0h2.6v2.6h-2.6zM332.8 565.8h2.6v2.6h-2.6zM330.9 577.0h2.6v2.6h-2.6zM335.3 569.0h2.6v2.6h-2.6zM350.4 566.9h2.6v2.6h-2.6zM325.1 593.1h2.6v2.6h-2.6zM335.1 557.6h2.6v2.6h-2.6zM330.0 587.0h2.6v2.6h-2.6zM335.8 573.1h2.6v2.6h-2.6zM338.5 574.6h2.6v2.6h-2.6zM331.1 567.7h2.6v2.6h-2.6zM343.2 577.1h2.6v2.6h-2.6zM347.6 582.6h2.6v2.6h-2.6zM333.8 562.7h2.6v2.6h-2.6zM341.2 582.1h2.6v2.6h-2.6zM330.4 565.1h2.6v2.6h-2.6zM340.6 559.4h2.6v2.6h-2.6zM340.5 571.8h2.6v2.6h-2.6zM330.2 582.7h2.6v2.6h-2.6zM339.8 566.3h2.6v2.6h-2.6zM344.2 578.5h2.6v2.6h-2.6zM313.9 548.8h2.6v2.6h-2.6zM302.5 549.3h2.6v2.6h-2.6zM302.3 540.7h2.6v2.6h-2.6zM302.2 539.9h2.6v2.6h-2.6zM299.2 534.9h2.6v2.6h-2.6zM303.4 541.5h2.6v2.6h-2.6zM316.6 545.9h2.6v2.6h-2.6zM311.6 536.6h2.6v2.6h-2.6zM298.0 554.0h2.6v2.6h-2.6zM297.2 548.6h2.6v2.6h-2.6zM316.5 538.6h2.6v2.6h-2.6zM310.8 546.5h2.6v2.6h-2.6zM317.4 545.3h2.6v2.6h-2.6zM310.5 538.1h2.6v2.6h-2.6zM315.5 545.3h2.6v2.6h-2.6zM297.2 542.9h2.6v2.6h-2.6zM307.0 536.7h2.6v2.6h-2.6zM292.0 543.6h2.6v2.6h-2.6zM302.4 590.7h2.6v2.6h-2.6zM315.0 568.6h2.6v2.6h-2.6zM313.8 569.6h2.6v2.6h-2.6zM316.8 594.4h2.6v2.6h-2.6zM307.4 588.5h2.6v2.6h-2.6zM302.4 593.3h2.6v2.6h-2.6zM306.1 581.7h2.6v2.6h-2.6zM289.9 569.1h2.6v2.6h-2.6zM296.3 572.8h2.6v2.6h-2.6zM315.2 597.2h2.6v2.6h-2.6zM291.7 595.0h2.6v2.6h-2.6zM290.4 589.0h2.6v2.6h-2.6zM294.6 588.8h2.6v2.6h-2.6zM312.0 571.8h2.6v2.6h-2.6zM305.6 577.1h2.6v2.6h-2.6zM315.4 571.0h2.6v2.6h-2.6zM314.8 581.8h2.6v2.6h-2.6zM304.6 562.3h2.6v2.6h-2.6zM303.3 591.1h2.6v2.6h-2.6zM293.9 565.7h2.6v2.6h-2.6zM312.3 586.9h2.6v2.6h-2.6zM309.4 581.9h2.6v2.6h-2.6zM290.4 593.8h2.6v2.6h-2.6zM308.5 571.7h2.6v2.6h-2.6zM292.3 575.7h2.6v2.6h-2.6zM298.9 562.6h2.6v2.6h-2.6zM299.0 572.4h2.6v2.6h-2.6zM305.8 567.4h2.6v2.6h-2.6zM292.0 579.4h2.6v2.6h-2.6zM294.2 592.4h2.6v2.6h-2.6zM299.6 568.0h2.6v2.6h-2.6zM306.1 583.0h2.6v2.6h-2.6zM309.3 566.9h2.6v2.6h-2.6zM297.1 565.1h2.6v2.6h-2.6zM289.7 591.5h2.6v2.6h-2.6zM305.2 591.9h2.6v2.6h-2.6zM292.5 592.9h2.6v2.6h-2.6zM302.5 584.5h2.6v2.6h-2.6zM305.9 563.2h2.6v2.6h-2.6zM313.2 580.9h2.6v2.6h-2.6z"/>
<path fill="#444444" d="M319.0 551.4h2.6v2.6h-2.6zM325.7 535.4h2.6v2.6h-2.6zM344.1 537.3h2.6v2.6h-2.6zM333.2 531.7h2.6v2.6h-2.6zM336.0 551.0h2.6v2.6h-2.6zM321.1 544.8h2.6v2.6h-2.6zM325.4 555.9h2.6v2.6h-2.6zM324.0 552.3h2.6v2.6h-2.6zM321.0 547.3h2.6v2.6h-2.6zM321.4 550.1h2.6v2.6h-2.6zM333.8 551.8h2.6v2.6h-2.6zM340.9 535.9h2.6v2.6h-2.6zM326.9 553.2h2.6v2.6h-2.6zM322.8 544.8h2.6v2.6h-2.6zM340.4 548.0h2.6v2.6h-2.6zM331.3 531.7h2.6v2.6h-2.6zM339.3 534.1h2.6v2.6h-2.6zM329.8 555.6h2.6v2.6h-2.6zM328.6 556.7h2.6v2.6h-2.6zM323.7 538.1h2.6v2.6h-2.6zM326.2 555.7h2.6v2.6h-2.6zM342.7 544.4h2.6v2.6h-2.6zM321.2 550.0h2.6v2.6h-2.6zM323.1 543.8h2.6v2.6h-2.6zM339.2 534.8h2.6v2.6h-2.6zM326.5 537.0h2.6v2.6h-2.6zM322.3 552.8h2.6v2.6h-2.6zM321.2 545.9h2.6v2.6h-2.6zM342.6 546.2h2.6v2.6h-2.6zM324.6 554.3h2.6v2.6h-2.6zM316.9 553.7h2.6v2.6h-2.6zM331.7 554.0h2.6v2.6h-2.6zM323.1 543.1h2.6v2.6h-2.6zM327.3 557.1h2.6v2.6h-2.6zM325.3 536.0h2.6v2.6h-2.6zM330.1 558.0h2.6v2.6h-2.6zM331.2 553.4h2.6v2.6h-2.6zM319.3 546.9h2.6v2.6h-2.6zM324.1 548.7h2.6v2.6h-2.6zM342.2 534.3h2.6v2.6h-2.6zM344.3 542.9h2.6v2.6h-2.6zM327.1 554.0h2.6v2.6h-2.6zM339.4 548.3h2.6v2.6h-2.6zM322.5 552.6h2.6v2.6h-2.6zM324.3 552.9h2.6v2.6h-2.6zM334.4 553.0h2.6v2.6h-2.6zM320.3 549.6h2.6v2.6h-2.6zM318.7 548.7h2.6v2.6h-2.6zM327.7 533.4h2.6v2.6h-2.6zM344.3 535.3h2.6v2.6h-2.6zM322.6 546.2h2.6v2.6h-2.6zM334.4 551.8h2.6v2.6h-2.6zM319.0 552.4h2.6v2.6h-2.6zM330.1 555.7h2.6v2.6h-2.6zM337.1 531.5h2.6v2.6h-2.6zM321.1 543.9h2.6v2.6h-2.6zM335.0 552.1h2.6v2.6h-2.6zM343.1 541.7h2.6v2.6h-2.6zM323.1 538.8h2.6v2.6h-2.6zM333.3 532.3h2.6v2.6h-2.6zM317.1 552.6h2.6v2.6h-2.6zM342.7 543.0h2.6v2.6h-2.6zM331.2 554.0h2.6v2.6h-2.6zM321.6 546.0h2.6v2.6h-2.6zM332.0 531.6h2.6v2.6h-2.6zM325.0 537.0h2.6v2.6h-2.6zM341.4 544.8h2.6v2.6h-2.6zM336.5 533.0h2.6v2.6h-2.6zM324.0 554.6h2.6v2.6h-2.6zM318.0 546.0h2.6v2.6h-2.6zM330.2 554.1h2.6v2.6h-2.6zM342.5 575.8h2.6v2.6h-2.6zM341.1 574.4h2.6v2.6h-2.6zM342.2 575.4h2.6v2.6h-2.6zM329.2 556.0h2.6v2.6h-2.6zM341.6 573.5h2.6v2.6h-2.6zM340.4 574.8h2.6v2.6h-2.6z"/>
<path fill="#525252" d="M335.4 534.9h2.6v2.6h-2.6zM334.4 541.6h2.6v2.6h-2.6zM338.0 538.0h2.6v2.6h-2.6zM335.3 542.7h2.6v2.6h-2.6zM340.7 538.6h2.6v2.6h-2.6zM331.1 547.0h2.6v2.6h-2.6zM335.1 545.4h2.6v2.6h-2.6zM339.6 539.4h2.6v2.6h-2.6zM330.5 545.7h2.6v2.6h-2.6zM331.3 546.5h2.6v2.6h-2.6zM331.4 540.5h2.6v2.6h-2.6zM324.6 550.8h2.6v2.6h-2.6zM337.1 548.3h2.6v2.6h-2.6zM323.6 544.8h2.6v2.6h-2.6zM341.9 537.5h2.6v2.6h-2.6zM330.6 533.6h2.6v2.6h-2.6zM331.8 539.4h2.6v2.6h-2.6zM332.4 545.6h2.6v2.6h-2.6zM333.1 539.2h2.6v2.6h-2.6zM337.0 542.8h2.6v2.6h-2.6zM330.8 543.4h2.6v2.6h-2.6zM329.7 536.1h2.6v2.6h-2.6zM328.8 550.9h2.6v2.6h-2.6zM330.9 550.4h2.6v2.6h-2.6zM333.2 540.0h2.6v2.6h-2.6zM325.9 548.8h2.6v2.6h-2.6zM337.9 542.3h2.6v2.6h-2.6zM338.6 536.2h2.6v2.6h-2.6zM328.9 536.7h2.6v2.6h-2.6zM331.6 543.3h2.6v2.6h-2.6zM325.5 541.5h2.6v2.6h-2.6zM332.9 538.1h2.6v2.6h-2.6zM323.5 544.7h2.6v2.6h-2.6zM338.3 536.8h2.6v2.6h-2.6zM330.3 536.5h2.6v2.6h-2.6zM338.2 547.3h2.6v2.6h-2.6zM339.2 545.9h2.6v2.6h-2.6zM335.8 548.1h2.6v2.6h-2.6zM332.6 545.7h2.6v2.6h-2.6zM335.9 542.6h2.6v2.6h-2.6zM335.1 545.1h2.6v2.6h-2.6zM331.1 547.9h2.6v2.6h-2.6zM331.6 545.6h2.6v2.6h-2.6zM332.8 542.1h2.6v2.6h-2.6zM335.8 534.4h2.6v2.6h-2.6zM339.0 543.3h2.6v2.6h-2.6zM331.1 543.8h2.6v2.6h-2.6zM329.7 543.6h2.6v2.6h-2.6zM333.5 548.2h2.6v2.6h-2.6zM339.2 538.5h2.6v2.6h-2.6zM334.1 540.1h2.6v2.6h-2.6zM330.2 545.5h2.6v2.6h-2.6zM332.5 534.4h2.6v2.6h-2.6zM327.3 546.2h2.6v2.6h-2.6zM336.3 540.3h2.6v2.6h-2.6zM335.1 542.5h2.6v2.6h-2.6zM330.1 536.5h2.6v2.6h-2.6zM334.5 536.8h2.6v2.6h-2.6zM331.9 545.0h2.6v2.6h-2.6zM333.4 548.1h2.6v2.6h-2.6zM324.7 546.5h2.6v2.6h-2.6zM331.0 538.0h2.6v2.6h-2.6zM327.6 538.9h2.6v2.6h-2.6zM334.0 543.1h2.6v2.6h-2.6zM338.2 543.2h2.6v2.6h-2.6zM332.7 540.7h2.6v2.6h-2.6zM334.8 546.9h2.6v2.6h-2.6zM336.6 538.4h2.6v2.6h-2.6zM330.9 546.4h2.6v2.6h-2.6zM325.0 550.2h2.6v2.6h-2.6zM338.6 544.4h2.6v2.6h-2.6zM329.4 544.2h2.6v2.6h-2.6zM336.5 533.5h2.6v2.6h-2.6zM334.5 545.9h2.6v2.6h-2.6zM329.4 542.1h2.6v2.6h-2.6zM333.1 536.1h2.6v2.6h-2.6zM326.8 543.5h2.6v2.6h-2.6zM334.0 535.8h2.6v2.6h-2.6zM333.7 541.8h2.6v2.6h-2.6zM337.6 544.9h2.6v2.6h-2.6zM336.4 537.1h2.6v2.6h-2.6zM325.9 547.9h2.6v2.6h-2.6zM333.5 533.7h2.6v2.6h-2.6zM333.3 543.9h2.6v2.6h-2.6zM329.6 546.4h2.6v2.6h-2.6zM330.6 545.1h2.6v2.6h-2.6zM337.1 536.4h2.6v2.6h-2.6zM328.4 543.5h2.6v2.6h-2.6zM330.6 540.4h2.6v2.6h-2.6zM324.9 538.6h2.6v2.6h-2.6zM327.9 549.8h2.6v2.6h-2.6zM337.2 548.6h2.6v2.6h-2.6zM330.0 542.2h2.6v2.6h-2.6zM334.5 547.5h2.6v2.6h-2.6zM337.4 535.0h2.6v2.6h-2.6zM334.5 544.2h2.6v2.6h-2.6zM335.5 544.4h2.6v2.6h-2.6zM341.5 543.8h2.6v2.6h-2.6zM333.0 545.1h2.6v2.6h-2.6zM329.0 541.8h2.6v2.6h-2.6zM327.7 544.3h2.6v2.6h-2.6zM326.0 543.5h2.6v2.6h-2.6zM328.4 546.2h2.6v2.6h-2.6zM335.8 543.7h2.6v2.6h-2.6zM328.4 543.9h2.6v2.6h-2.6zM335.5 543.4h2.6v2.6h-2.6zM328.9 546.3h2.6v2.6h-2.6zM330.4 542.2h2.6v2.6h-2.6zM333.9 551.1h2.6v2.6h-2.6zM333.4 542.3h2.6v2.6h-2.6zM324.9 545.5h2.6v2.6h-2.6zM336.1 546.8h2.6v2.6h-2.6zM340.3 541.0h2.6v2.6h-2.6zM340.0 540.1h2.6v2.6h-2.6zM334.0 535.6h2.6v2.6h-2.6zM338.0 542.5h2.6v2.6h-2.6zM325.8 551.1h2.6v2.6h-2.6zM326.7 550.4h2.6v2.6h-2.6zM324.0 544.8h2.6v2.6h-2.6zM333.4 536.5h2.6v2.6h-2.6zM331.4 546.2h2.6v2.6h-2.6zM335.3 534.8h2.6v2.6h-2.6zM329.7 546.4h2.6v2.6h-2.6zM338.2 548.0h2.6v2.6h-2.6zM327.9 544.3h2.6v2.6h-2.6zM336.1 547.4h2.6v2.6h-2.6zM325.2 541.1h2.6v2.6h-2.6zM335.8 538.3h2.6v2.6h-2.6zM338.9 539.1h2.6v2.6h-2.6zM333.0 540.8h2.6v2.6h-2.6zM340.3 541.1h2.6v2.6h-2.6zM328.6 549.0h2.6v2.6h-2.6zM332.7 538.5h2.6v2.6h-2.6zM328.2 544.6h2.6v2.6h-2.6zM342.8 540.6h2.6v2.6h-2.6zM334.5 540.6h2.6v2.6h-2.6zM326.9 538.0h2.6v2.6h-2.6zM327.8 541.6h2.6v2.6h-2.6zM339.9 538.8h2.6v2.6h-2.6zM332.5 538.0h2.6v2.6h-2.6zM336.1 540.3h2.6v2.6h-2.6zM332.3 544.5h2.6v2.6h-2.6zM333.9 535.4h2.6v2.6h-2.6zM337.6 544.5h2.6v2.6h-2.6zM333.5 543.2h2.6v2.6h-2.6zM336.8 542.9h2.6v2.6h-2.6zM329.2 535.1h2.6v2.6h-2.6zM328.5 537.8h2.6v2.6h-2.6zM340.7 539.3h2.6v2.6h-2.6zM337.9 547.3h2.6v2.6h-2.6zM337.6 535.5h2.6v2.6h-2.6zM330.4 543.8h2.6v2.6h-2.6zM330.8 544.7h2.6v2.6h-2.6zM326.0 547.3h2.6v2.6h-2.6zM324.8 544.0h2.6v2.6h-2.6zM329.5 542.5h2.6v2.6h-2.6zM340.1 539.8h2.6v2.6h-2.6zM333.3 546.5h2.6v2.6h-2.6zM336.6 547.6h2.6v2.6h-2.6zM331.5 542.1h2.6v2.6h-2.6zM331.4 546.8h2.6v2.6h-2.6zM336.7 536.7h2.6v2.6h-2.6zM328.9 545.9h2.6v2.6h-2.6zM330.0 538.5h2.6v2.6h-2.6zM337.2 536.9h2.6v2.6h-2.6zM334.6 546.3h2.6v2.6h-2.6zM333.1 537.1h2.6v2.6h-2.6zM338.6 546.1h2.6v2.6h-2.6zM327.0 545.8h2.6v2.6h-2.6zM334.1 543.1h2.6v2.6h-2.6zM332.3 553.7h2.6v2.6h-2.6zM330.5 541.4h2.6v2.6h-2.6zM335.1 541.5h2.6v2.6h-2.6zM329.4 545.2h2.6v2.6h-2.6zM332.4 537.8h2.6v2.6h-2.6zM336.1 543.2h2.6v2.6h-2.6zM326.9 542.3h2.6v2.6h-2.6zM328.6 547.0h2.6v2.6h-2.6zM334.7 542.8h2.6v2.6h-2.6zM330.5 539.4h2.6v2.6h-2.6zM332.8 533.2h2.6v2.6h-2.6zM336.4 543.0h2.6v2.6h-2.6zM333.6 546.3h2.6v2.6h-2.6zM331.3 545.8h2.6v2.6h-2.6zM331.5 534.8h2.6v2.6h-2.6zM333.2 542.5h2.6v2.6h-2.6zM338.9 543.1h2.6v2.6h-2.6zM330.2 541.7h2.6v2.6h-2.6zM334.2 541.8h2.6v2.6h-2.6zM332.8 543.0h2.6v2.6h-2.6zM332.0 545.4h2.6v2.6h-2.6zM331.9 538.0h2.6v2.6h-2.6zM335.7 539.1h2.6v2.6h-2.6zM339.5 543.1h2.6v2.6h-2.6zM331.6 547.1h2.6v2.6h-2.6zM335.2 543.5h2.6v2.6h-2.6zM331.6 546.2h2.6v2.6h-2.6zM334.4 545.0h2.6v2.6h-2.6zM327.1 541.6h2.6v2.6h-2.6zM330.0 552.3h2.6v2.6h-2.6zM327.2 550.4h2.6v2.6h-2.6zM341.5 538.4h2.6v2.6h-2.6zM331.6 544.0h2.6v2.6h-2.6zM326.6 548.6h2.6v2.6h-2.6zM334.9 538.7h2.6v2.6h-2.6zM324.9 553.8h2.6v2.6h-2.6zM329.1 544.6h2.6v2.6h-2.6zM333.6 538.9h2.6v2.6h-2.6zM332.6 552.5h2.6v2.6h-2.6zM331.6 552.1h2.6v2.6h-2.6zM334.4 537.3h2.6v2.6h-2.6zM337.6 544.0h2.6v2.6h-2.6zM341.2 540.9h2.6v2.6h-2.6zM328.7 545.9h2.6v2.6h-2.6zM327.6 548.9h2.6v2.6h-2.6zM339.9 545.2h2.6v2.6h-2.6zM334.9 543.0h2.6v2.6h-2.6zM329.6 545.7h2.6v2.6h-2.6zM327.8 543.6h2.6v2.6h-2.6zM329.7 540.9h2.6v2.6h-2.6zM330.3 548.9h2.6v2.6h-2.6zM333.2 538.9h2.6v2.6h-2.6zM328.3 550.1h2.6v2.6h-2.6zM334.3 542.0h2.6v2.6h-2.6zM331.4 540.9h2.6v2.6h-2.6zM338.3 537.2h2.6v2.6h-2.6zM331.6 541.8h2.6v2.6h-2.6zM338.0 540.5h2.6v2.6h-2.6zM336.1 540.2h2.6v2.6h-2.6zM330.9 544.5h2.6v2.6h-2.6zM334.4 538.3h2.6v2.6h-2.6zM328.1 535.8h2.6v2.6h-2.6zM332.0 546.9h2.6v2.6h-2.6zM331.7 542.9h2.6v2.6h-2.6zM327.6 542.9h2.6v2.6h-2.6zM328.6 543.8h2.6v2.6h-2.6zM335.8 544.9h2.6v2.6h-2.6zM331.2 547.6h2.6v2.6h-2.6zM334.4 541.7h2.6v2.6h-2.6zM340.0 541.2h2.6v2.6h-2.6zM326.9 544.5h2.6v2.6h-2.6zM331.3 548.7h2.6v2.6h-2.6zM339.4 538.3h2.6v2.6h-2.6zM330.1 533.5h2.6v2.6h-2.6zM330.6 535.2h2.6v2.6h-2.6zM329.8 534.9h2.6v2.6h-2.6zM329.9 538.6h2.6v2.6h-2.6zM330.0 550.5h2.6v2.6h-2.6zM339.5 543.1h2.6v2.6h-2.6zM335.3 541.3h2.6v2.6h-2.6zM334.7 538.8h2.6v2.6h-2.6zM328.9 541.8h2.6v2.6h-2.6zM336.9 548.7h2.6v2.6h-2.6zM328.9 547.1h2.6v2.6h-2.6zM336.1 532.4h2.6v2.6h-2.6zM329.0 547.2h2.6v2.6h-2.6zM337.1 541.6h2.6v2.6h-2.6zM328.7 544.3h2.6v2.6h-2.6zM325.2 548.2h2.6v2.6h-2.6zM325.7 539.8h2.6v2.6h-2.6zM327.4 552.7h2.6v2.6h-2.6zM328.2 542.6h2.6v2.6h-2.6zM334.4 545.1h2.6v2.6h-2.6zM328.6 548.4h2.6v2.6h-2.6zM331.3 545.7h2.6v2.6h-2.6zM330.6 540.3h2.6v2.6h-2.6zM333.9 544.4h2.6v2.6h-2.6zM333.5 542.8h2.6v2.6h-2.6zM327.3 541.2h2.6v2.6h-2.6zM332.2 546.9h2.6v2.6h-2.6zM336.4 538.6h2.6v2.6h-2.6zM331.9 541.0h2.6v2.6h-2.6zM332.9 548.2h2.6v2.6h-2.6zM340.4 537.8h2.6v2.6h-2.6zM328.4 550.0h2.6v2.6h-2.6zM331.4 553.4h2.6v2.6h-2.6zM332.9 544.0h2.6v2.6h-2.6zM326.3 540.7h2.6v2.6h-2.6zM331.3 546.0h2.6v2.6h-2.6zM333.5 539.5h2.6v2.6h-2.6zM335.2 546.9h2.6v2.6h-2.6zM335.8 532.7h2.6v2.6h-2.6zM335.3 540.2h2.6v2.6h-2.6zM333.7 536.5h2.6v2.6h-2.6zM332.5 545.8h2.6v2.6h-2.6zM333.2 544.7h2.6v2.6h-2.6zM332.3 532.5h2.6v2.6h-2.6zM336.0 546.7h2.6v2.6h-2.6zM336.4 541.1h2.6v2.6h-2.6zM332.4 552.3h2.6v2.6h-2.6zM332.0 537.8h2.6v2.6h-2.6zM330.6 536.5h2.6v2.6h-2.6zM327.6 549.8h2.6v2.6h-2.6zM335.3 546.2h2.6v2.6h-2.6zM326.8 551.5h2.6v2.6h-2.6zM334.3 546.0h2.6v2.6h-2.6zM329.9 552.2h2.6v2.6h-2.6zM325.9 542.6h2.6v2.6h-2.6zM334.2 544.4h2.6v2.6h-2.6zM331.1 548.7h2.6v2.6h-2.6zM336.6 538.9h2.6v2.6h-2.6zM342.6 539.5h2.6v2.6h-2.6zM328.4 540.4h2.6v2.6h-2.6zM332.0 547.1h2.6v2.6h-2.6zM330.9 534.1h2.6v2.6h-2.6zM334.3 534.2h2.6v2.6h-2.6zM333.0 548.3h2.6v2.6h-2.6zM328.6 539.9h2.6v2.6h-2.6zM325.7 539.4h2.6v2.6h-2.6zM335.8 538.0h2.6v2.6h-2.6zM329.4 545.2h2.6v2.6h-2.6zM336.7 540.4h2.6v2.6h-2.6zM339.1 539.2h2.6v2.6h-2.6zM334.3 542.2h2.6v2.6h-2.6zM330.2 541.3h2.6v2.6h-2.6zM333.8 540.3h2.6v2.6h-2.6zM325.2 541.3h2.6v2.6h-2.6zM329.0 534.2h2.6v2.6h-2.6zM331.4 541.3h2.6v2.6h-2.6zM330.3 545.8h2.6v2.6h-2.6zM329.4 544.4h2.6v2.6h-2.6zM338.0 542.4h2.6v2.6h-2.6zM331.2 535.3h2.6v2.6h-2.6zM332.3 535.8h2.6v2.6h-2.6zM341.8 539.2h2.6v2.6h-2.6zM333.0 549.4h2.6v2.6h-2.6zM330.3 539.4h2.6v2.6h-2.6zM337.4 542.0h2.6v2.6h-2.6zM336.2 533.0h2.6v2.6h-2.6zM325.5 549.3h2.6v2.6h-2.6zM334.3 533.1h2.6v2.6h-2.6zM333.7 548.7h2.6v2.6h-2.6zM333.0 542.3h2.6v2.6h-2.6zM336.1 541.2h2.6v2.6h-2.6zM333.2 536.6h2.6v2.6h-2.6zM336.0 547.1h2.6v2.6h-2.6zM336.6 541.3h2.6v2.6h-2.6zM341.7 538.7h2.6v2.6h-2.6zM332.7 540.0h2.6v2.6h-2.6zM332.7 544.9h2.6v2.6h-2.6zM336.3 546.9h2.6v2.6h-2.6zM336.5 546.4h2.6v2.6h-2.6zM327.6 538.9h2.6v2.6h-2.6zM328.6 544.0h2.6v2.6h-2.6zM330.8 541.2h2.6v2.6h-2.6zM333.7 546.1h2.6v2.6h-2.6zM338.6 536.1h2.6v2.6h-2.6zM335.0 539.8h2.6v2.6h-2.6zM335.3 542.5h2.6v2.6h-2.6zM330.0 543.1h2.6v2.6h-2.6zM324.5 551.1h2.6v2.6h-2.6zM332.5 539.2h2.6v2.6h-2.6zM332.0 545.3h2.6v2.6h-2.6zM332.1 538.9h2.6v2.6h-2.6zM334.0 544.0h2.6v2.6h-2.6zM333.2 549.0h2.6v2.6h-2.6zM331.2 550.3h2.6v2.6h-2.6z"/>
<defs><radialGradient id="g12"><stop offset="0" stop-color="#f6f6f6"/><stop offset="0.55" stop-color="#9c9c9c"/><stop offset="1" stop-color="#585858" stop-opacity="0"/></radialGradient></defs>
<ellipse cx="336.3" cy="541.6" rx="6.4" ry="6.8" transform="rotate(0 336.3 541.6)" fill="url(#g12)"/>
</g>
<path d="M287.3 505.0V604.6H369.8" fill="none" stroke="#000" stroke-width="2.7" stroke-linejoin="miter"/>
<path d="M321.0 505.0V604.6" fill="none" stroke="#000" stroke-width="2.2"/>
<path d="M287.3 560.5H370.0" fill="none" stroke="#000" stroke-width="1.9"/>
<path d="M287.3 604.6h-4M287.3 597.1h-2.8M287.3 592.7h-2.8M287.3 589.6h-2.8M287.3 587.2h-2.8M287.3 585.2h-2.8M287.3 583.6h-2.8M287.3 582.1h-2.8M287.3 580.8h-2.8M287.3 579.7h-4M287.3 572.2h-2.8M287.3 567.8h-2.8M287.3 564.7h-2.8M287.3 562.3h-2.8M287.3 560.3h-2.8M287.3 558.7h-2.8M287.3 557.2h-2.8M287.3 555.9h-2.8M287.3 554.8h-4M287.3 547.3h-2.8M287.3 542.9h-2.8M287.3 539.8h-2.8M287.3 537.4h-2.8M287.3 535.4h-2.8M287.3 533.8h-2.8M287.3 532.3h-2.8M287.3 531.0h-2.8M287.3 529.9h-4M287.3 522.4h-2.8M287.3 518.0h-2.8M287.3 514.9h-2.8M287.3 512.5h-2.8M287.3 510.5h-2.8M287.3 508.9h-2.8M287.3 507.4h-2.8M287.3 506.1h-2.8M287.3 505.0h-4" fill="none" stroke="#000" stroke-width="1.5"/>
<path d="M287.3 604.6v4.6M294.9 604.6v3.4M299.4 604.6v3.4M302.5 604.6v3.4M305.0 604.6v3.4M307.0 604.6v3.4M308.7 604.6v3.4M310.1 604.6v3.4M311.4 604.6v3.4M312.6 604.6v4.6M320.2 604.6v3.4M324.7 604.6v3.4M327.8 604.6v3.4M330.3 604.6v3.4M332.3 604.6v3.4M334.0 604.6v3.4M335.4 604.6v3.4M336.7 604.6v3.4M337.9 604.6v4.6M345.5 604.6v3.4M350.0 604.6v3.4M353.1 604.6v3.4M355.6 604.6v3.4M357.6 604.6v3.4M359.3 604.6v3.4M360.7 604.6v3.4M362.0 604.6v3.4M363.2 604.6v4.6" fill="none" stroke="#000" stroke-width="1.5"/>
<text x="285.3" y="613.2" font-size="3.5" text-anchor="middle" fill="#999">10<tspan dy="-1" font-size="2.5">0</tspan></text>
<text x="310.6" y="613.2" font-size="3.5" text-anchor="middle" fill="#999">10<tspan dy="-1" font-size="2.5">1</tspan></text>
<text x="335.9" y="613.2" font-size="3.5" text-anchor="middle" fill="#999">10<tspan dy="-1" font-size="2.5">2</tspan></text>
<text x="361.2" y="613.2" font-size="3.5" text-anchor="middle" fill="#999">10<tspan dy="-1" font-size="2.5">3</tspan></text>
<text x="335.9" y="616.6" font-size="3" text-anchor="middle" fill="#999">APC</text>
<clipPath id="c8"><rect x="386.8" y="503.5" width="106.0" height="101.6"/></clipPath><g clip-path="url(#c8)">
<ellipse cx="434.5" cy="546.0" rx="9.5" ry="9.5" transform="rotate(0 434.5 546.0)" fill="#484848"/>
<path fill="#6c6c6c" d="M432.6 552.2h1.7v1.7h-1.7zM441.0 541.2h1.7v1.7h-1.7zM439.0 539.1h1.7v1.7h-1.7zM432.1 543.5h1.7v1.7h-1.7zM429.0 545.0h1.7v1.7h-1.7zM437.8 544.7h1.7v1.7h-1.7zM430.6 543.1h1.7v1.7h-1.7zM438.3 548.7h1.7v1.7h-1.7zM437.8 541.7h1.7v1.7h-1.7zM436.5 548.1h1.7v1.7h-1.7zM427.7 540.3h1.7v1.7h-1.7zM440.5 541.9h1.7v1.7h-1.7zM438.4 547.8h1.7v1.7h-1.7zM438.3 540.7h1.7v1.7h-1.7zM440.5 540.7h1.7v1.7h-1.7zM432.5 544.0h1.7v1.7h-1.7zM430.0 544.7h1.7v1.7h-1.7zM431.3 542.8h1.7v1.7h-1.7zM429.2 550.0h1.7v1.7h-1.7zM437.4 537.6h1.7v1.7h-1.7zM440.4 542.8h1.7v1.7h-1.7zM429.1 551.8h1.7v1.7h-1.7zM437.0 546.4h1.7v1.7h-1.7zM438.1 543.1h1.7v1.7h-1.7zM434.0 544.9h1.7v1.7h-1.7zM427.1 546.0h1.7v1.7h-1.7zM437.7 542.7h1.7v1.7h-1.7zM433.8 549.2h1.7v1.7h-1.7zM431.0 551.6h1.7v1.7h-1.7zM438.0 543.6h1.7v1.7h-1.7zM433.4 546.2h1.7v1.7h-1.7zM433.2 553.6h1.7v1.7h-1.7zM432.3 548.8h1.7v1.7h-1.7zM425.3 547.3h1.7v1.7h-1.7zM429.9 538.8h1.7v1.7h-1.7zM435.5 543.7h1.7v1.7h-1.7zM429.6 551.0h1.7v1.7h-1.7zM435.4 546.8h1.7v1.7h-1.7zM430.8 545.6h1.7v1.7h-1.7zM425.4 547.8h1.7v1.7h-1.7zM435.1 544.3h1.7v1.7h-1.7zM425.4 547.1h1.7v1.7h-1.7zM427.1 541.8h1.7v1.7h-1.7zM429.7 540.9h1.7v1.7h-1.7zM438.7 542.4h1.7v1.7h-1.7zM436.3 543.6h1.7v1.7h-1.7z"/>
<path fill="#3e3e3e" d="M431.0 547.7h1.7v1.7h-1.7zM432.9 542.4h1.7v1.7h-1.7zM432.1 540.0h1.7v1.7h-1.7zM433.7 549.5h1.7v1.7h-1.7zM440.3 545.1h1.7v1.7h-1.7zM428.9 546.6h1.7v1.7h-1.7zM435.0 543.0h1.7v1.7h-1.7zM437.0 549.0h1.7v1.7h-1.7zM436.0 548.0h1.7v1.7h-1.7zM436.2 549.3h1.7v1.7h-1.7zM435.4 549.5h1.7v1.7h-1.7zM432.7 540.7h1.7v1.7h-1.7zM432.3 539.0h1.7v1.7h-1.7zM430.8 552.2h1.7v1.7h-1.7zM436.8 553.1h1.7v1.7h-1.7zM436.3 544.7h1.7v1.7h-1.7zM435.8 549.6h1.7v1.7h-1.7zM431.3 552.0h1.7v1.7h-1.7zM428.8 541.2h1.7v1.7h-1.7zM428.5 543.3h1.7v1.7h-1.7zM440.2 548.6h1.7v1.7h-1.7zM436.4 542.8h1.7v1.7h-1.7zM431.1 546.6h1.7v1.7h-1.7zM428.9 550.2h1.7v1.7h-1.7zM431.0 552.1h1.7v1.7h-1.7zM440.2 544.6h1.7v1.7h-1.7zM439.1 542.8h1.7v1.7h-1.7zM436.5 543.6h1.7v1.7h-1.7zM435.0 541.7h1.7v1.7h-1.7zM438.1 539.6h1.7v1.7h-1.7zM435.5 542.1h1.7v1.7h-1.7zM434.1 539.9h1.7v1.7h-1.7zM429.3 543.9h1.7v1.7h-1.7zM441.0 545.7h1.7v1.7h-1.7zM436.3 544.0h1.7v1.7h-1.7z"/>
<ellipse cx="439.5" cy="590.0" rx="6.5" ry="13.0" transform="rotate(0 439.5 590.0)" fill="#484848"/>
<path fill="#6c6c6c" d="M433.3 590.1h1.7v1.7h-1.7zM434.7 596.5h1.7v1.7h-1.7zM435.0 589.8h1.7v1.7h-1.7zM439.4 579.1h1.7v1.7h-1.7zM438.7 593.9h1.7v1.7h-1.7zM435.7 585.3h1.7v1.7h-1.7zM441.2 582.9h1.7v1.7h-1.7zM434.4 593.0h1.7v1.7h-1.7zM437.2 590.0h1.7v1.7h-1.7zM442.2 585.7h1.7v1.7h-1.7zM439.3 580.3h1.7v1.7h-1.7zM441.4 590.0h1.7v1.7h-1.7zM442.1 595.8h1.7v1.7h-1.7zM433.5 587.6h1.7v1.7h-1.7zM443.3 583.8h1.7v1.7h-1.7zM433.6 591.5h1.7v1.7h-1.7zM441.9 583.3h1.7v1.7h-1.7zM441.3 599.1h1.7v1.7h-1.7zM440.1 597.7h1.7v1.7h-1.7zM434.9 593.7h1.7v1.7h-1.7zM442.1 589.0h1.7v1.7h-1.7zM439.7 584.5h1.7v1.7h-1.7zM443.7 592.4h1.7v1.7h-1.7zM442.5 587.0h1.7v1.7h-1.7zM433.5 586.6h1.7v1.7h-1.7zM437.7 598.6h1.7v1.7h-1.7zM440.6 598.8h1.7v1.7h-1.7zM442.2 597.4h1.7v1.7h-1.7zM436.9 586.2h1.7v1.7h-1.7zM436.0 579.2h1.7v1.7h-1.7zM444.5 589.5h1.7v1.7h-1.7zM441.9 588.7h1.7v1.7h-1.7zM434.8 580.9h1.7v1.7h-1.7zM442.3 596.1h1.7v1.7h-1.7zM440.9 599.0h1.7v1.7h-1.7z"/>
<path fill="#3e3e3e" d="M437.6 585.7h1.7v1.7h-1.7zM441.3 593.0h1.7v1.7h-1.7zM443.1 589.5h1.7v1.7h-1.7zM441.4 585.7h1.7v1.7h-1.7zM436.7 588.3h1.7v1.7h-1.7zM439.7 600.3h1.7v1.7h-1.7zM433.8 592.1h1.7v1.7h-1.7zM439.7 583.8h1.7v1.7h-1.7zM436.6 599.5h1.7v1.7h-1.7zM441.3 580.6h1.7v1.7h-1.7zM442.7 594.6h1.7v1.7h-1.7zM441.0 580.5h1.7v1.7h-1.7zM437.1 586.9h1.7v1.7h-1.7zM440.8 583.6h1.7v1.7h-1.7zM440.2 598.5h1.7v1.7h-1.7zM444.3 589.5h1.7v1.7h-1.7zM437.9 581.9h1.7v1.7h-1.7zM442.3 593.9h1.7v1.7h-1.7zM437.9 583.0h1.7v1.7h-1.7zM436.4 595.4h1.7v1.7h-1.7zM433.3 587.0h1.7v1.7h-1.7zM438.2 590.6h1.7v1.7h-1.7zM435.0 579.8h1.7v1.7h-1.7zM443.0 595.9h1.7v1.7h-1.7zM438.4 584.2h1.7v1.7h-1.7zM440.8 584.7h1.7v1.7h-1.7zM436.0 578.4h1.7v1.7h-1.7zM442.9 582.0h1.7v1.7h-1.7zM439.9 582.8h1.7v1.7h-1.7zM439.6 584.9h1.7v1.7h-1.7zM434.2 589.6h1.7v1.7h-1.7zM441.7 581.4h1.7v1.7h-1.7zM441.2 593.7h1.7v1.7h-1.7zM439.5 588.0h1.7v1.7h-1.7zM442.0 586.8h1.7v1.7h-1.7zM444.2 590.0h1.7v1.7h-1.7zM443.9 587.3h1.7v1.7h-1.7zM443.5 587.9h1.7v1.7h-1.7zM435.2 595.6h1.7v1.7h-1.7zM435.7 587.9h1.7v1.7h-1.7zM438.0 591.0h1.7v1.7h-1.7z"/>
<ellipse cx="404.0" cy="590.5" rx="13.0" ry="11.0" transform="rotate(0 404.0 590.5)" fill="#484848"/>
<path fill="#6c6c6c" d="M409.7 592.7h1.7v1.7h-1.7zM408.6 597.2h1.7v1.7h-1.7zM401.6 591.2h1.7v1.7h-1.7zM394.6 587.4h1.7v1.7h-1.7zM393.5 594.2h1.7v1.7h-1.7zM405.0 595.0h1.7v1.7h-1.7zM405.9 593.3h1.7v1.7h-1.7zM403.0 586.5h1.7v1.7h-1.7zM399.1 587.4h1.7v1.7h-1.7zM396.9 589.5h1.7v1.7h-1.7zM393.6 585.7h1.7v1.7h-1.7zM401.2 591.7h1.7v1.7h-1.7zM404.8 587.1h1.7v1.7h-1.7zM403.8 583.6h1.7v1.7h-1.7zM401.6 592.1h1.7v1.7h-1.7zM394.9 588.4h1.7v1.7h-1.7zM392.2 589.2h1.7v1.7h-1.7zM393.9 586.2h1.7v1.7h-1.7zM407.0 591.0h1.7v1.7h-1.7zM396.1 589.8h1.7v1.7h-1.7zM403.0 595.0h1.7v1.7h-1.7zM407.7 581.7h1.7v1.7h-1.7zM404.8 597.3h1.7v1.7h-1.7zM402.8 579.9h1.7v1.7h-1.7zM397.8 586.8h1.7v1.7h-1.7zM407.6 587.9h1.7v1.7h-1.7zM396.3 591.6h1.7v1.7h-1.7zM411.6 589.3h1.7v1.7h-1.7zM402.7 582.5h1.7v1.7h-1.7zM405.6 595.1h1.7v1.7h-1.7zM398.2 586.9h1.7v1.7h-1.7zM399.1 591.8h1.7v1.7h-1.7zM403.9 579.7h1.7v1.7h-1.7zM406.6 595.5h1.7v1.7h-1.7zM405.7 589.2h1.7v1.7h-1.7zM400.0 590.1h1.7v1.7h-1.7zM397.5 593.2h1.7v1.7h-1.7zM396.1 592.1h1.7v1.7h-1.7zM410.5 583.4h1.7v1.7h-1.7zM408.3 583.7h1.7v1.7h-1.7zM414.2 587.5h1.7v1.7h-1.7zM409.5 596.7h1.7v1.7h-1.7zM405.3 585.7h1.7v1.7h-1.7zM401.5 594.2h1.7v1.7h-1.7zM398.0 583.4h1.7v1.7h-1.7zM410.2 589.1h1.7v1.7h-1.7zM393.1 593.1h1.7v1.7h-1.7zM403.5 583.5h1.7v1.7h-1.7zM393.5 586.9h1.7v1.7h-1.7zM391.8 586.6h1.7v1.7h-1.7zM409.3 597.6h1.7v1.7h-1.7zM406.5 594.7h1.7v1.7h-1.7zM403.4 592.4h1.7v1.7h-1.7zM397.6 589.8h1.7v1.7h-1.7zM399.8 594.8h1.7v1.7h-1.7zM406.3 599.4h1.7v1.7h-1.7zM414.7 588.1h1.7v1.7h-1.7zM413.4 592.5h1.7v1.7h-1.7zM397.0 591.3h1.7v1.7h-1.7zM405.7 588.4h1.7v1.7h-1.7zM396.2 596.7h1.7v1.7h-1.7z"/>
<path fill="#3e3e3e" d="M401.4 590.9h1.7v1.7h-1.7zM413.3 590.4h1.7v1.7h-1.7zM405.3 583.6h1.7v1.7h-1.7zM403.3 583.9h1.7v1.7h-1.7zM396.8 587.2h1.7v1.7h-1.7zM398.8 589.4h1.7v1.7h-1.7zM399.0 595.5h1.7v1.7h-1.7zM408.5 596.5h1.7v1.7h-1.7zM402.9 584.8h1.7v1.7h-1.7zM405.4 594.3h1.7v1.7h-1.7zM402.9 586.7h1.7v1.7h-1.7zM404.9 599.7h1.7v1.7h-1.7zM408.0 588.2h1.7v1.7h-1.7zM396.3 586.2h1.7v1.7h-1.7zM392.8 584.8h1.7v1.7h-1.7zM414.2 586.2h1.7v1.7h-1.7zM397.5 581.8h1.7v1.7h-1.7zM404.8 590.0h1.7v1.7h-1.7zM402.6 583.4h1.7v1.7h-1.7zM393.1 592.4h1.7v1.7h-1.7zM411.0 589.1h1.7v1.7h-1.7zM397.1 589.7h1.7v1.7h-1.7zM406.5 592.1h1.7v1.7h-1.7zM399.8 589.9h1.7v1.7h-1.7zM405.0 580.6h1.7v1.7h-1.7zM403.2 599.7h1.7v1.7h-1.7zM413.8 593.2h1.7v1.7h-1.7zM400.4 593.2h1.7v1.7h-1.7zM413.9 592.2h1.7v1.7h-1.7zM393.6 589.2h1.7v1.7h-1.7zM402.7 593.9h1.7v1.7h-1.7zM397.6 585.3h1.7v1.7h-1.7zM402.0 581.1h1.7v1.7h-1.7zM397.9 589.9h1.7v1.7h-1.7zM408.5 581.8h1.7v1.7h-1.7zM406.2 588.9h1.7v1.7h-1.7zM411.3 584.3h1.7v1.7h-1.7zM403.3 586.1h1.7v1.7h-1.7zM400.5 589.4h1.7v1.7h-1.7zM405.2 586.3h1.7v1.7h-1.7zM409.8 584.3h1.7v1.7h-1.7zM414.6 591.6h1.7v1.7h-1.7zM398.2 591.6h1.7v1.7h-1.7zM408.4 594.3h1.7v1.7h-1.7zM403.4 585.3h1.7v1.7h-1.7zM403.7 587.7h1.7v1.7h-1.7zM397.4 583.6h1.7v1.7h-1.7zM391.7 587.4h1.7v1.7h-1.7zM405.6 592.8h1.7v1.7h-1.7zM409.9 596.7h1.7v1.7h-1.7zM411.2 586.2h1.7v1.7h-1.7zM405.2 587.0h1.7v1.7h-1.7zM399.6 591.4h1.7v1.7h-1.7zM409.1 581.5h1.7v1.7h-1.7zM404.8 583.0h1.7v1.7h-1.7zM398.9 580.4h1.7v1.7h-1.7zM405.6 587.9h1.7v1.7h-1.7zM412.0 587.2h1.7v1.7h-1.7zM398.9 585.6h1.7v1.7h-1.7zM404.8 591.9h1.7v1.7h-1.7zM397.8 582.5h1.7v1.7h-1.7zM407.2 598.8h1.7v1.7h-1.7zM409.5 596.1h1.7v1.7h-1.7zM399.6 586.0h1.7v1.7h-1.7zM393.1 592.0h1.7v1.7h-1.7zM408.6 582.1h1.7v1.7h-1.7zM393.2 593.4h1.7v1.7h-1.7z"/>
<path fill="#2b2b2b" d="M444.5 545.5h2.6v2.6h-2.6zM423.5 551.2h2.6v2.6h-2.6zM421.9 551.9h2.6v2.6h-2.6zM442.7 553.8h2.6v2.6h-2.6zM442.9 536.1h2.6v2.6h-2.6zM433.0 531.2h2.6v2.6h-2.6zM434.2 555.6h2.6v2.6h-2.6zM437.2 557.6h2.6v2.6h-2.6zM439.3 554.4h2.6v2.6h-2.6zM428.8 532.3h2.6v2.6h-2.6zM424.7 550.2h2.6v2.6h-2.6zM430.6 532.6h2.6v2.6h-2.6zM423.2 534.4h2.6v2.6h-2.6zM435.2 531.6h2.6v2.6h-2.6zM432.9 528.7h2.6v2.6h-2.6zM436.7 531.9h2.6v2.6h-2.6zM441.1 535.9h2.6v2.6h-2.6zM434.5 556.6h2.6v2.6h-2.6zM412.6 550.0h2.6v2.6h-2.6zM410.0 533.9h2.6v2.6h-2.6zM415.0 533.9h2.6v2.6h-2.6zM414.7 532.5h2.6v2.6h-2.6zM389.7 535.2h2.6v2.6h-2.6zM393.4 533.9h2.6v2.6h-2.6zM403.5 534.7h2.6v2.6h-2.6zM417.3 546.4h2.6v2.6h-2.6zM415.7 532.1h2.6v2.6h-2.6zM389.4 534.4h2.6v2.6h-2.6zM417.5 545.7h2.6v2.6h-2.6zM398.1 547.0h2.6v2.6h-2.6zM399.6 533.4h2.6v2.6h-2.6zM406.3 534.9h2.6v2.6h-2.6zM400.0 532.0h2.6v2.6h-2.6zM401.6 554.3h2.6v2.6h-2.6zM416.2 552.4h2.6v2.6h-2.6zM419.6 551.4h2.6v2.6h-2.6zM399.1 552.6h2.6v2.6h-2.6zM399.9 553.7h2.6v2.6h-2.6zM412.3 557.0h2.6v2.6h-2.6zM393.9 549.4h2.6v2.6h-2.6zM401.3 546.9h2.6v2.6h-2.6zM389.3 552.2h2.6v2.6h-2.6zM407.6 553.2h2.6v2.6h-2.6zM417.9 549.3h2.6v2.6h-2.6zM411.7 555.7h2.6v2.6h-2.6zM398.3 557.6h2.6v2.6h-2.6zM392.9 555.1h2.6v2.6h-2.6zM392.4 553.7h2.6v2.6h-2.6zM390.9 548.8h2.6v2.6h-2.6zM403.0 556.5h2.6v2.6h-2.6zM405.8 551.5h2.6v2.6h-2.6zM389.6 550.3h2.6v2.6h-2.6zM409.1 552.9h2.6v2.6h-2.6zM397.8 556.2h2.6v2.6h-2.6zM416.8 553.7h2.6v2.6h-2.6zM405.3 545.9h2.6v2.6h-2.6zM399.9 553.5h2.6v2.6h-2.6zM405.3 550.0h2.6v2.6h-2.6zM400.7 550.0h2.6v2.6h-2.6zM416.7 550.8h2.6v2.6h-2.6zM409.0 548.8h2.6v2.6h-2.6zM392.8 555.5h2.6v2.6h-2.6zM408.6 601.1h2.6v2.6h-2.6zM396.2 572.2h2.6v2.6h-2.6zM414.3 580.6h2.6v2.6h-2.6zM413.8 602.1h2.6v2.6h-2.6zM387.8 590.4h2.6v2.6h-2.6zM425.3 597.8h2.6v2.6h-2.6zM410.0 601.4h2.6v2.6h-2.6zM424.5 586.4h2.6v2.6h-2.6zM387.3 581.2h2.6v2.6h-2.6zM412.3 598.4h2.6v2.6h-2.6zM416.4 596.8h2.6v2.6h-2.6zM388.2 597.0h2.6v2.6h-2.6zM386.9 588.3h2.6v2.6h-2.6zM415.9 595.7h2.6v2.6h-2.6zM411.6 570.4h2.6v2.6h-2.6zM389.2 580.1h2.6v2.6h-2.6zM420.9 587.6h2.6v2.6h-2.6zM417.3 592.8h2.6v2.6h-2.6zM387.5 575.2h2.6v2.6h-2.6zM412.1 602.0h2.6v2.6h-2.6zM406.3 574.8h2.6v2.6h-2.6zM387.2 589.2h2.6v2.6h-2.6zM437.6 568.1h2.6v2.6h-2.6zM431.2 573.9h2.6v2.6h-2.6zM446.7 594.1h2.6v2.6h-2.6zM431.6 601.3h2.6v2.6h-2.6zM442.0 602.1h2.6v2.6h-2.6zM437.0 563.9h2.6v2.6h-2.6zM430.1 588.8h2.6v2.6h-2.6zM443.7 597.6h2.6v2.6h-2.6zM446.8 591.4h2.6v2.6h-2.6zM447.0 583.4h2.6v2.6h-2.6zM430.6 590.8h2.6v2.6h-2.6zM430.1 590.4h2.6v2.6h-2.6zM442.1 564.6h2.6v2.6h-2.6zM437.4 569.5h2.6v2.6h-2.6zM434.9 600.3h2.6v2.6h-2.6zM445.1 580.1h2.6v2.6h-2.6zM434.8 600.8h2.6v2.6h-2.6zM438.8 565.4h2.6v2.6h-2.6zM427.1 573.5h2.6v2.6h-2.6zM433.4 558.7h2.6v2.6h-2.6zM429.6 571.8h2.6v2.6h-2.6zM442.1 563.0h2.6v2.6h-2.6zM423.5 559.1h2.6v2.6h-2.6zM445.8 568.9h2.6v2.6h-2.6zM435.4 562.7h2.6v2.6h-2.6zM430.8 561.6h2.6v2.6h-2.6zM446.5 567.4h2.6v2.6h-2.6zM426.0 560.3h2.6v2.6h-2.6zM444.8 563.2h2.6v2.6h-2.6zM426.3 564.9h2.6v2.6h-2.6zM424.5 568.5h2.6v2.6h-2.6zM440.5 560.2h2.6v2.6h-2.6zM423.6 575.1h2.6v2.6h-2.6zM426.8 575.7h2.6v2.6h-2.6zM437.8 566.4h2.6v2.6h-2.6zM444.9 568.1h2.6v2.6h-2.6zM429.2 576.5h2.6v2.6h-2.6zM432.2 568.0h2.6v2.6h-2.6zM423.4 576.2h2.6v2.6h-2.6zM443.0 560.5h2.6v2.6h-2.6zM427.8 570.3h2.6v2.6h-2.6zM427.3 565.0h2.6v2.6h-2.6zM444.8 560.0h2.6v2.6h-2.6zM399.7 573.4h2.6v2.6h-2.6zM397.4 566.8h2.6v2.6h-2.6zM411.2 570.1h2.6v2.6h-2.6zM416.2 570.7h2.6v2.6h-2.6zM392.2 572.4h2.6v2.6h-2.6zM389.0 563.6h2.6v2.6h-2.6zM404.9 560.8h2.6v2.6h-2.6zM415.6 562.8h2.6v2.6h-2.6zM387.7 571.3h2.6v2.6h-2.6zM401.0 568.7h2.6v2.6h-2.6zM387.9 570.4h2.6v2.6h-2.6zM392.0 570.7h2.6v2.6h-2.6zM399.6 561.7h2.6v2.6h-2.6zM400.3 561.4h2.6v2.6h-2.6zM416.6 575.4h2.6v2.6h-2.6zM410.8 560.8h2.6v2.6h-2.6zM399.3 560.8h2.6v2.6h-2.6zM397.5 575.5h2.6v2.6h-2.6zM396.8 572.0h2.6v2.6h-2.6zM404.9 569.8h2.6v2.6h-2.6zM412.6 573.6h2.6v2.6h-2.6zM404.8 570.1h2.6v2.6h-2.6zM416.6 563.4h2.6v2.6h-2.6zM388.6 568.4h2.6v2.6h-2.6zM396.7 568.5h2.6v2.6h-2.6zM400.9 563.4h2.6v2.6h-2.6zM396.9 568.8h2.6v2.6h-2.6zM403.7 570.1h2.6v2.6h-2.6zM402.1 565.0h2.6v2.6h-2.6zM403.9 564.7h2.6v2.6h-2.6zM409.6 566.8h2.6v2.6h-2.6zM395.1 561.6h2.6v2.6h-2.6zM483.7 543.7h2.6v2.6h-2.6zM458.2 589.0h2.6v2.6h-2.6zM449.5 589.5h2.6v2.6h-2.6z"/>
<path fill="#444444" d="M441.7 544.2h2.6v2.6h-2.6zM443.1 540.9h2.6v2.6h-2.6zM436.9 552.7h2.6v2.6h-2.6zM434.4 534.2h2.6v2.6h-2.6zM431.0 553.6h2.6v2.6h-2.6zM430.1 554.1h2.6v2.6h-2.6zM424.5 548.5h2.6v2.6h-2.6zM429.7 554.7h2.6v2.6h-2.6zM431.0 533.5h2.6v2.6h-2.6zM440.8 542.5h2.6v2.6h-2.6zM430.0 535.9h2.6v2.6h-2.6zM438.1 535.5h2.6v2.6h-2.6zM441.8 549.0h2.6v2.6h-2.6zM441.4 548.5h2.6v2.6h-2.6zM428.0 550.0h2.6v2.6h-2.6zM428.6 535.6h2.6v2.6h-2.6zM441.5 546.7h2.6v2.6h-2.6zM437.5 534.8h2.6v2.6h-2.6zM440.4 538.5h2.6v2.6h-2.6zM434.9 534.0h2.6v2.6h-2.6zM426.8 533.8h2.6v2.6h-2.6zM429.1 534.9h2.6v2.6h-2.6zM442.9 539.9h2.6v2.6h-2.6zM423.5 544.6h2.6v2.6h-2.6zM440.4 548.7h2.6v2.6h-2.6zM439.2 535.1h2.6v2.6h-2.6zM424.1 545.1h2.6v2.6h-2.6zM428.6 551.5h2.6v2.6h-2.6zM432.1 552.8h2.6v2.6h-2.6zM430.1 552.7h2.6v2.6h-2.6zM439.7 552.3h2.6v2.6h-2.6zM442.9 546.8h2.6v2.6h-2.6zM428.5 535.8h2.6v2.6h-2.6zM430.6 555.1h2.6v2.6h-2.6zM442.0 544.9h2.6v2.6h-2.6zM440.6 551.4h2.6v2.6h-2.6zM424.1 542.3h2.6v2.6h-2.6zM423.4 538.6h2.6v2.6h-2.6zM424.7 537.6h2.6v2.6h-2.6zM425.2 535.8h2.6v2.6h-2.6zM431.7 535.4h2.6v2.6h-2.6zM439.2 552.0h2.6v2.6h-2.6zM428.1 536.2h2.6v2.6h-2.6zM439.9 552.5h2.6v2.6h-2.6zM442.4 540.9h2.6v2.6h-2.6zM424.3 540.8h2.6v2.6h-2.6zM407.6 536.2h2.6v2.6h-2.6zM407.5 536.4h2.6v2.6h-2.6zM393.7 535.2h2.6v2.6h-2.6zM388.6 539.2h2.6v2.6h-2.6zM417.8 535.7h2.6v2.6h-2.6zM417.2 545.4h2.6v2.6h-2.6zM409.1 543.1h2.6v2.6h-2.6zM402.0 535.9h2.6v2.6h-2.6zM395.5 535.9h2.6v2.6h-2.6zM409.9 546.1h2.6v2.6h-2.6zM399.3 537.1h2.6v2.6h-2.6zM410.8 543.3h2.6v2.6h-2.6zM412.1 535.7h2.6v2.6h-2.6zM395.4 545.4h2.6v2.6h-2.6zM408.3 545.1h2.6v2.6h-2.6zM407.1 538.9h2.6v2.6h-2.6zM399.9 537.2h2.6v2.6h-2.6zM393.5 546.7h2.6v2.6h-2.6zM406.5 536.7h2.6v2.6h-2.6zM399.1 536.4h2.6v2.6h-2.6zM406.8 538.8h2.6v2.6h-2.6zM391.1 534.2h2.6v2.6h-2.6zM417.9 534.8h2.6v2.6h-2.6zM399.5 546.0h2.6v2.6h-2.6zM403.5 544.5h2.6v2.6h-2.6zM416.3 534.8h2.6v2.6h-2.6zM412.7 535.4h2.6v2.6h-2.6zM414.4 544.5h2.6v2.6h-2.6zM407.0 542.0h2.6v2.6h-2.6zM419.3 537.0h2.6v2.6h-2.6zM388.0 540.4h2.6v2.6h-2.6zM406.3 545.2h2.6v2.6h-2.6zM387.7 540.4h2.6v2.6h-2.6zM389.4 536.4h2.6v2.6h-2.6zM399.1 535.1h2.6v2.6h-2.6zM419.1 535.2h2.6v2.6h-2.6zM409.1 542.6h2.6v2.6h-2.6zM414.0 544.5h2.6v2.6h-2.6zM407.8 543.9h2.6v2.6h-2.6zM407.8 544.1h2.6v2.6h-2.6zM409.7 538.1h2.6v2.6h-2.6zM390.1 546.3h2.6v2.6h-2.6zM389.9 547.6h2.6v2.6h-2.6zM413.9 543.2h2.6v2.6h-2.6zM395.1 536.8h2.6v2.6h-2.6zM393.1 545.6h2.6v2.6h-2.6zM406.0 545.5h2.6v2.6h-2.6zM400.5 536.3h2.6v2.6h-2.6zM409.7 537.0h2.6v2.6h-2.6zM413.8 536.8h2.6v2.6h-2.6zM400.9 536.8h2.6v2.6h-2.6zM412.0 546.5h2.6v2.6h-2.6zM387.7 539.6h2.6v2.6h-2.6zM387.8 542.9h2.6v2.6h-2.6zM396.8 546.0h2.6v2.6h-2.6zM412.8 551.5h2.6v2.6h-2.6zM394.2 546.9h2.6v2.6h-2.6zM410.1 547.7h2.6v2.6h-2.6zM402.2 546.8h2.6v2.6h-2.6zM396.0 547.7h2.6v2.6h-2.6zM412.0 550.8h2.6v2.6h-2.6zM410.4 546.8h2.6v2.6h-2.6zM412.0 551.1h2.6v2.6h-2.6zM413.9 553.0h2.6v2.6h-2.6zM410.4 547.0h2.6v2.6h-2.6zM411.0 553.5h2.6v2.6h-2.6zM411.9 577.0h2.6v2.6h-2.6zM415.3 584.4h2.6v2.6h-2.6zM388.6 581.7h2.6v2.6h-2.6zM391.2 599.3h2.6v2.6h-2.6zM393.1 593.6h2.6v2.6h-2.6zM403.1 598.4h2.6v2.6h-2.6zM405.3 600.5h2.6v2.6h-2.6zM399.1 601.6h2.6v2.6h-2.6zM415.6 591.7h2.6v2.6h-2.6zM393.3 576.2h2.6v2.6h-2.6zM404.2 600.7h2.6v2.6h-2.6zM410.5 578.2h2.6v2.6h-2.6zM395.0 576.0h2.6v2.6h-2.6zM417.4 585.7h2.6v2.6h-2.6zM394.4 596.7h2.6v2.6h-2.6zM411.8 578.9h2.6v2.6h-2.6zM408.9 582.2h2.6v2.6h-2.6zM390.3 586.7h2.6v2.6h-2.6zM397.4 578.5h2.6v2.6h-2.6zM388.7 582.1h2.6v2.6h-2.6zM410.0 577.2h2.6v2.6h-2.6zM389.2 591.0h2.6v2.6h-2.6zM396.1 579.2h2.6v2.6h-2.6zM417.6 590.1h2.6v2.6h-2.6zM392.8 598.1h2.6v2.6h-2.6zM391.1 582.8h2.6v2.6h-2.6zM392.8 593.8h2.6v2.6h-2.6zM395.5 578.1h2.6v2.6h-2.6zM386.8 584.1h2.6v2.6h-2.6zM398.1 600.4h2.6v2.6h-2.6zM388.3 594.7h2.6v2.6h-2.6zM393.2 579.9h2.6v2.6h-2.6zM394.5 574.5h2.6v2.6h-2.6zM410.0 576.0h2.6v2.6h-2.6zM398.1 600.3h2.6v2.6h-2.6zM392.2 597.3h2.6v2.6h-2.6zM392.0 581.4h2.6v2.6h-2.6zM393.7 593.9h2.6v2.6h-2.6zM394.6 593.3h2.6v2.6h-2.6zM404.2 577.9h2.6v2.6h-2.6zM414.0 579.9h2.6v2.6h-2.6zM410.8 575.1h2.6v2.6h-2.6zM413.5 582.8h2.6v2.6h-2.6zM394.4 598.7h2.6v2.6h-2.6zM390.4 586.9h2.6v2.6h-2.6zM407.9 577.1h2.6v2.6h-2.6zM414.3 577.3h2.6v2.6h-2.6zM406.7 598.7h2.6v2.6h-2.6zM391.5 576.8h2.6v2.6h-2.6zM414.2 596.0h2.6v2.6h-2.6zM411.7 596.9h2.6v2.6h-2.6zM416.1 584.4h2.6v2.6h-2.6zM415.1 591.6h2.6v2.6h-2.6zM409.6 577.4h2.6v2.6h-2.6zM413.6 595.2h2.6v2.6h-2.6zM391.6 582.4h2.6v2.6h-2.6zM393.2 592.9h2.6v2.6h-2.6zM403.2 578.7h2.6v2.6h-2.6zM414.7 590.7h2.6v2.6h-2.6zM416.6 583.3h2.6v2.6h-2.6zM390.6 586.2h2.6v2.6h-2.6zM399.8 601.3h2.6v2.6h-2.6zM389.5 597.1h2.6v2.6h-2.6zM388.1 595.3h2.6v2.6h-2.6zM402.8 600.7h2.6v2.6h-2.6zM394.1 577.1h2.6v2.6h-2.6zM394.9 598.6h2.6v2.6h-2.6zM406.5 599.1h2.6v2.6h-2.6zM402.5 597.5h2.6v2.6h-2.6zM390.7 591.6h2.6v2.6h-2.6zM416.0 584.2h2.6v2.6h-2.6zM414.2 590.7h2.6v2.6h-2.6zM417.0 592.0h2.6v2.6h-2.6zM394.0 599.6h2.6v2.6h-2.6zM413.0 581.0h2.6v2.6h-2.6zM387.8 594.4h2.6v2.6h-2.6zM388.4 585.4h2.6v2.6h-2.6zM412.9 577.6h2.6v2.6h-2.6zM409.2 598.8h2.6v2.6h-2.6zM407.2 576.4h2.6v2.6h-2.6zM390.3 576.2h2.6v2.6h-2.6zM417.1 585.9h2.6v2.6h-2.6zM412.6 596.4h2.6v2.6h-2.6zM391.6 583.0h2.6v2.6h-2.6zM387.7 592.5h2.6v2.6h-2.6zM400.0 578.2h2.6v2.6h-2.6zM395.6 597.0h2.6v2.6h-2.6zM390.6 599.2h2.6v2.6h-2.6zM392.0 600.1h2.6v2.6h-2.6zM399.0 600.4h2.6v2.6h-2.6zM414.2 579.4h2.6v2.6h-2.6zM388.7 584.9h2.6v2.6h-2.6zM405.5 576.4h2.6v2.6h-2.6zM391.0 598.7h2.6v2.6h-2.6zM390.5 593.4h2.6v2.6h-2.6zM395.2 600.2h2.6v2.6h-2.6zM393.5 577.7h2.6v2.6h-2.6zM417.9 583.4h2.6v2.6h-2.6zM397.2 573.3h2.6v2.6h-2.6zM390.5 583.8h2.6v2.6h-2.6zM416.1 588.2h2.6v2.6h-2.6zM440.5 602.1h2.6v2.6h-2.6zM440.8 599.2h2.6v2.6h-2.6zM443.3 596.8h2.6v2.6h-2.6zM433.9 579.2h2.6v2.6h-2.6zM443.5 581.4h2.6v2.6h-2.6zM440.9 598.7h2.6v2.6h-2.6zM445.9 586.8h2.6v2.6h-2.6zM441.6 577.3h2.6v2.6h-2.6zM443.1 597.2h2.6v2.6h-2.6zM432.0 584.7h2.6v2.6h-2.6zM440.4 574.3h2.6v2.6h-2.6zM431.8 587.3h2.6v2.6h-2.6zM442.1 572.7h2.6v2.6h-2.6zM438.5 600.2h2.6v2.6h-2.6zM439.4 573.4h2.6v2.6h-2.6zM433.3 582.4h2.6v2.6h-2.6zM433.9 580.3h2.6v2.6h-2.6zM437.2 576.2h2.6v2.6h-2.6zM444.7 589.4h2.6v2.6h-2.6zM442.0 571.9h2.6v2.6h-2.6zM443.3 582.2h2.6v2.6h-2.6zM431.5 596.4h2.6v2.6h-2.6zM431.8 593.9h2.6v2.6h-2.6zM432.5 577.4h2.6v2.6h-2.6zM435.0 575.5h2.6v2.6h-2.6zM431.1 594.9h2.6v2.6h-2.6zM444.1 574.1h2.6v2.6h-2.6zM442.2 578.5h2.6v2.6h-2.6zM432.5 594.9h2.6v2.6h-2.6zM444.4 573.9h2.6v2.6h-2.6zM442.0 579.7h2.6v2.6h-2.6zM439.2 572.6h2.6v2.6h-2.6zM439.1 599.9h2.6v2.6h-2.6zM436.9 576.0h2.6v2.6h-2.6zM441.1 599.6h2.6v2.6h-2.6zM440.1 569.9h2.6v2.6h-2.6zM431.4 575.1h2.6v2.6h-2.6zM431.6 584.5h2.6v2.6h-2.6zM444.4 588.2h2.6v2.6h-2.6zM430.3 594.2h2.6v2.6h-2.6zM433.1 582.6h2.6v2.6h-2.6zM443.7 598.5h2.6v2.6h-2.6zM432.1 586.9h2.6v2.6h-2.6zM430.8 593.0h2.6v2.6h-2.6zM431.8 582.4h2.6v2.6h-2.6zM444.6 582.8h2.6v2.6h-2.6zM435.9 598.7h2.6v2.6h-2.6zM440.8 599.7h2.6v2.6h-2.6zM437.5 574.1h2.6v2.6h-2.6zM437.6 575.4h2.6v2.6h-2.6zM443.9 582.6h2.6v2.6h-2.6zM438.9 574.3h2.6v2.6h-2.6zM432.7 579.2h2.6v2.6h-2.6zM433.4 578.5h2.6v2.6h-2.6zM445.0 587.2h2.6v2.6h-2.6zM438.9 575.4h2.6v2.6h-2.6zM440.2 568.4h2.6v2.6h-2.6zM432.7 576.6h2.6v2.6h-2.6zM443.5 575.6h2.6v2.6h-2.6zM444.1 576.3h2.6v2.6h-2.6zM428.7 574.9h2.6v2.6h-2.6zM432.4 575.1h2.6v2.6h-2.6zM441.9 569.1h2.6v2.6h-2.6zM441.7 570.4h2.6v2.6h-2.6zM442.8 561.5h2.6v2.6h-2.6zM442.0 568.0h2.6v2.6h-2.6zM444.3 571.5h2.6v2.6h-2.6zM442.4 570.4h2.6v2.6h-2.6zM437.4 566.6h2.6v2.6h-2.6zM438.0 572.4h2.6v2.6h-2.6zM443.6 575.8h2.6v2.6h-2.6zM407.9 576.3h2.6v2.6h-2.6zM389.6 573.6h2.6v2.6h-2.6zM395.6 573.4h2.6v2.6h-2.6zM389.2 571.1h2.6v2.6h-2.6zM412.8 575.0h2.6v2.6h-2.6zM390.3 574.5h2.6v2.6h-2.6zM393.4 575.6h2.6v2.6h-2.6zM394.1 576.3h2.6v2.6h-2.6z"/>
<path fill="#525252" d="M437.6 549.9h2.6v2.6h-2.6zM433.9 540.3h2.6v2.6h-2.6zM432.1 546.5h2.6v2.6h-2.6zM433.5 543.2h2.6v2.6h-2.6zM439.8 544.1h2.6v2.6h-2.6zM435.0 550.2h2.6v2.6h-2.6zM436.5 543.6h2.6v2.6h-2.6zM436.1 539.0h2.6v2.6h-2.6zM430.1 543.3h2.6v2.6h-2.6zM430.4 547.1h2.6v2.6h-2.6zM440.1 546.6h2.6v2.6h-2.6zM431.4 543.9h2.6v2.6h-2.6zM429.7 542.4h2.6v2.6h-2.6zM425.6 542.2h2.6v2.6h-2.6zM438.0 545.4h2.6v2.6h-2.6zM435.0 543.9h2.6v2.6h-2.6zM434.1 548.3h2.6v2.6h-2.6zM429.2 544.3h2.6v2.6h-2.6zM431.8 538.1h2.6v2.6h-2.6zM430.1 552.2h2.6v2.6h-2.6zM432.4 541.0h2.6v2.6h-2.6zM431.0 545.8h2.6v2.6h-2.6zM432.9 536.6h2.6v2.6h-2.6zM429.0 542.8h2.6v2.6h-2.6zM430.9 541.8h2.6v2.6h-2.6zM434.5 537.0h2.6v2.6h-2.6zM432.6 548.6h2.6v2.6h-2.6zM431.5 541.8h2.6v2.6h-2.6zM437.6 543.0h2.6v2.6h-2.6zM424.4 543.7h2.6v2.6h-2.6zM434.3 546.2h2.6v2.6h-2.6zM438.9 547.7h2.6v2.6h-2.6zM436.2 545.8h2.6v2.6h-2.6zM428.6 545.4h2.6v2.6h-2.6zM425.9 536.7h2.6v2.6h-2.6zM432.3 549.5h2.6v2.6h-2.6zM434.0 538.3h2.6v2.6h-2.6zM429.6 537.3h2.6v2.6h-2.6zM440.5 541.5h2.6v2.6h-2.6zM428.8 541.4h2.6v2.6h-2.6zM437.0 543.1h2.6v2.6h-2.6zM425.6 540.4h2.6v2.6h-2.6zM435.3 551.0h2.6v2.6h-2.6zM436.4 543.2h2.6v2.6h-2.6zM429.5 540.2h2.6v2.6h-2.6zM431.9 540.4h2.6v2.6h-2.6zM437.4 547.9h2.6v2.6h-2.6zM433.3 540.6h2.6v2.6h-2.6zM426.0 538.6h2.6v2.6h-2.6zM437.3 539.1h2.6v2.6h-2.6zM440.0 545.5h2.6v2.6h-2.6zM435.5 538.5h2.6v2.6h-2.6zM437.8 539.8h2.6v2.6h-2.6zM435.5 546.3h2.6v2.6h-2.6zM428.2 540.0h2.6v2.6h-2.6zM435.3 543.1h2.6v2.6h-2.6zM435.1 536.6h2.6v2.6h-2.6zM431.4 549.1h2.6v2.6h-2.6zM432.3 542.2h2.6v2.6h-2.6zM438.3 542.8h2.6v2.6h-2.6zM431.9 545.5h2.6v2.6h-2.6zM434.9 540.2h2.6v2.6h-2.6zM437.5 538.2h2.6v2.6h-2.6zM438.4 542.9h2.6v2.6h-2.6zM435.6 547.5h2.6v2.6h-2.6zM432.0 549.9h2.6v2.6h-2.6zM427.5 545.7h2.6v2.6h-2.6zM428.2 541.1h2.6v2.6h-2.6zM424.6 545.7h2.6v2.6h-2.6zM427.8 542.6h2.6v2.6h-2.6zM431.0 547.0h2.6v2.6h-2.6zM427.1 538.3h2.6v2.6h-2.6zM436.3 542.3h2.6v2.6h-2.6zM431.1 549.2h2.6v2.6h-2.6zM440.3 542.0h2.6v2.6h-2.6zM433.9 550.4h2.6v2.6h-2.6zM440.6 545.2h2.6v2.6h-2.6zM430.5 542.4h2.6v2.6h-2.6zM435.9 548.2h2.6v2.6h-2.6zM428.8 550.8h2.6v2.6h-2.6zM439.3 537.6h2.6v2.6h-2.6zM431.1 544.2h2.6v2.6h-2.6zM439.3 546.0h2.6v2.6h-2.6zM433.8 542.3h2.6v2.6h-2.6zM431.3 545.1h2.6v2.6h-2.6zM439.4 539.4h2.6v2.6h-2.6zM428.0 543.5h2.6v2.6h-2.6zM435.0 549.6h2.6v2.6h-2.6zM436.7 540.7h2.6v2.6h-2.6zM434.6 550.9h2.6v2.6h-2.6zM436.2 546.3h2.6v2.6h-2.6zM425.2 539.4h2.6v2.6h-2.6zM431.0 540.8h2.6v2.6h-2.6zM432.5 540.8h2.6v2.6h-2.6zM430.0 552.4h2.6v2.6h-2.6zM429.2 544.3h2.6v2.6h-2.6zM431.8 549.0h2.6v2.6h-2.6zM434.1 550.3h2.6v2.6h-2.6zM434.6 545.2h2.6v2.6h-2.6zM430.5 541.3h2.6v2.6h-2.6zM426.3 547.4h2.6v2.6h-2.6zM434.8 547.9h2.6v2.6h-2.6zM438.7 541.8h2.6v2.6h-2.6zM434.5 547.6h2.6v2.6h-2.6zM430.4 541.8h2.6v2.6h-2.6zM430.9 538.1h2.6v2.6h-2.6zM435.0 541.0h2.6v2.6h-2.6zM427.7 547.5h2.6v2.6h-2.6zM432.3 545.7h2.6v2.6h-2.6zM427.8 538.4h2.6v2.6h-2.6zM429.4 547.0h2.6v2.6h-2.6zM436.4 550.2h2.6v2.6h-2.6zM435.1 536.1h2.6v2.6h-2.6zM434.2 544.2h2.6v2.6h-2.6zM433.1 539.8h2.6v2.6h-2.6zM434.6 545.1h2.6v2.6h-2.6zM433.3 544.9h2.6v2.6h-2.6zM436.3 543.2h2.6v2.6h-2.6zM428.0 539.7h2.6v2.6h-2.6zM431.2 542.2h2.6v2.6h-2.6zM431.4 545.8h2.6v2.6h-2.6zM426.1 544.6h2.6v2.6h-2.6zM435.8 537.8h2.6v2.6h-2.6zM435.7 545.6h2.6v2.6h-2.6zM436.2 544.7h2.6v2.6h-2.6zM432.9 537.6h2.6v2.6h-2.6zM433.3 542.5h2.6v2.6h-2.6zM431.4 546.9h2.6v2.6h-2.6zM432.8 549.4h2.6v2.6h-2.6zM426.0 538.7h2.6v2.6h-2.6zM436.5 543.7h2.6v2.6h-2.6zM430.7 547.2h2.6v2.6h-2.6zM434.4 545.0h2.6v2.6h-2.6zM434.8 545.0h2.6v2.6h-2.6zM432.4 550.4h2.6v2.6h-2.6zM439.0 547.8h2.6v2.6h-2.6zM426.1 547.0h2.6v2.6h-2.6zM436.8 539.2h2.6v2.6h-2.6zM427.0 544.5h2.6v2.6h-2.6zM438.5 545.7h2.6v2.6h-2.6zM437.8 539.2h2.6v2.6h-2.6zM432.1 547.8h2.6v2.6h-2.6zM428.5 546.8h2.6v2.6h-2.6zM431.4 541.2h2.6v2.6h-2.6zM428.0 545.7h2.6v2.6h-2.6zM433.3 548.4h2.6v2.6h-2.6zM436.0 540.1h2.6v2.6h-2.6zM437.0 546.4h2.6v2.6h-2.6zM436.7 538.0h2.6v2.6h-2.6zM433.0 545.3h2.6v2.6h-2.6zM433.3 546.5h2.6v2.6h-2.6zM434.6 536.6h2.6v2.6h-2.6zM438.7 538.5h2.6v2.6h-2.6zM438.9 545.2h2.6v2.6h-2.6zM432.4 546.4h2.6v2.6h-2.6zM426.9 547.9h2.6v2.6h-2.6zM427.9 548.6h2.6v2.6h-2.6zM436.1 540.0h2.6v2.6h-2.6zM431.4 541.7h2.6v2.6h-2.6zM433.2 540.4h2.6v2.6h-2.6zM426.7 544.8h2.6v2.6h-2.6zM435.9 536.2h2.6v2.6h-2.6zM432.4 545.4h2.6v2.6h-2.6zM431.8 539.4h2.6v2.6h-2.6zM435.7 542.2h2.6v2.6h-2.6zM426.5 545.2h2.6v2.6h-2.6zM427.9 545.7h2.6v2.6h-2.6zM438.1 538.7h2.6v2.6h-2.6zM426.5 545.1h2.6v2.6h-2.6zM429.9 551.1h2.6v2.6h-2.6zM429.0 550.5h2.6v2.6h-2.6zM428.6 548.9h2.6v2.6h-2.6zM432.0 547.3h2.6v2.6h-2.6zM428.1 537.7h2.6v2.6h-2.6zM428.0 545.0h2.6v2.6h-2.6zM430.9 546.4h2.6v2.6h-2.6zM434.8 544.9h2.6v2.6h-2.6zM429.0 539.1h2.6v2.6h-2.6zM432.8 546.5h2.6v2.6h-2.6zM424.4 544.5h2.6v2.6h-2.6zM438.5 543.7h2.6v2.6h-2.6zM436.4 551.5h2.6v2.6h-2.6zM433.1 547.0h2.6v2.6h-2.6zM435.2 543.2h2.6v2.6h-2.6zM432.9 539.8h2.6v2.6h-2.6zM433.3 549.0h2.6v2.6h-2.6zM426.4 542.6h2.6v2.6h-2.6zM433.4 543.1h2.6v2.6h-2.6zM427.1 542.2h2.6v2.6h-2.6zM434.7 540.8h2.6v2.6h-2.6zM437.7 537.2h2.6v2.6h-2.6zM439.4 545.6h2.6v2.6h-2.6zM436.3 539.5h2.6v2.6h-2.6zM433.6 547.9h2.6v2.6h-2.6zM440.4 541.3h2.6v2.6h-2.6zM431.3 543.0h2.6v2.6h-2.6zM433.1 536.2h2.6v2.6h-2.6zM430.8 545.3h2.6v2.6h-2.6zM434.5 539.6h2.6v2.6h-2.6zM428.0 547.8h2.6v2.6h-2.6zM433.7 546.6h2.6v2.6h-2.6zM431.5 549.0h2.6v2.6h-2.6zM426.6 539.3h2.6v2.6h-2.6zM433.0 549.4h2.6v2.6h-2.6zM438.4 539.3h2.6v2.6h-2.6zM433.6 539.2h2.6v2.6h-2.6zM432.5 541.1h2.6v2.6h-2.6zM435.1 540.2h2.6v2.6h-2.6zM430.6 549.3h2.6v2.6h-2.6zM432.9 541.0h2.6v2.6h-2.6zM431.5 546.6h2.6v2.6h-2.6zM434.1 543.5h2.6v2.6h-2.6zM435.2 543.4h2.6v2.6h-2.6zM431.9 544.5h2.6v2.6h-2.6zM434.2 544.3h2.6v2.6h-2.6zM434.5 544.9h2.6v2.6h-2.6zM438.5 540.3h2.6v2.6h-2.6zM432.4 546.3h2.6v2.6h-2.6zM436.7 539.9h2.6v2.6h-2.6zM438.9 548.4h2.6v2.6h-2.6zM431.2 546.2h2.6v2.6h-2.6zM437.1 540.9h2.6v2.6h-2.6zM436.4 538.7h2.6v2.6h-2.6zM426.9 543.0h2.6v2.6h-2.6zM428.9 544.7h2.6v2.6h-2.6zM439.3 539.7h2.6v2.6h-2.6zM424.9 545.8h2.6v2.6h-2.6zM437.7 541.5h2.6v2.6h-2.6zM437.3 540.6h2.6v2.6h-2.6zM437.7 551.5h2.6v2.6h-2.6zM433.9 540.0h2.6v2.6h-2.6zM434.0 549.5h2.6v2.6h-2.6zM434.7 545.0h2.6v2.6h-2.6zM438.0 549.4h2.6v2.6h-2.6zM437.8 548.5h2.6v2.6h-2.6zM433.8 543.0h2.6v2.6h-2.6zM431.3 550.3h2.6v2.6h-2.6zM433.3 543.5h2.6v2.6h-2.6zM433.8 537.3h2.6v2.6h-2.6zM428.6 546.3h2.6v2.6h-2.6zM432.1 550.9h2.6v2.6h-2.6zM436.4 547.1h2.6v2.6h-2.6zM435.3 541.2h2.6v2.6h-2.6zM434.5 550.8h2.6v2.6h-2.6zM434.3 550.4h2.6v2.6h-2.6zM435.7 550.0h2.6v2.6h-2.6zM429.7 541.0h2.6v2.6h-2.6zM424.4 544.0h2.6v2.6h-2.6zM431.0 541.2h2.6v2.6h-2.6zM429.2 542.5h2.6v2.6h-2.6zM432.5 550.0h2.6v2.6h-2.6zM433.5 538.6h2.6v2.6h-2.6zM431.8 546.4h2.6v2.6h-2.6zM434.9 542.2h2.6v2.6h-2.6zM426.6 540.1h2.6v2.6h-2.6zM429.9 546.4h2.6v2.6h-2.6zM430.4 545.8h2.6v2.6h-2.6zM432.6 543.7h2.6v2.6h-2.6zM437.2 548.6h2.6v2.6h-2.6zM435.5 547.1h2.6v2.6h-2.6zM427.0 538.3h2.6v2.6h-2.6zM435.3 549.9h2.6v2.6h-2.6zM426.7 541.7h2.6v2.6h-2.6zM427.5 536.4h2.6v2.6h-2.6zM429.4 549.6h2.6v2.6h-2.6zM433.9 549.5h2.6v2.6h-2.6zM433.1 539.4h2.6v2.6h-2.6zM428.9 542.0h2.6v2.6h-2.6zM436.5 545.9h2.6v2.6h-2.6zM433.4 541.4h2.6v2.6h-2.6zM432.2 545.6h2.6v2.6h-2.6zM428.2 539.4h2.6v2.6h-2.6zM429.2 548.3h2.6v2.6h-2.6zM433.8 544.0h2.6v2.6h-2.6zM435.1 550.1h2.6v2.6h-2.6zM436.1 540.1h2.6v2.6h-2.6zM394.4 541.1h2.6v2.6h-2.6zM410.7 543.4h2.6v2.6h-2.6zM419.3 538.7h2.6v2.6h-2.6zM418.8 542.9h2.6v2.6h-2.6zM414.4 541.8h2.6v2.6h-2.6zM387.9 543.2h2.6v2.6h-2.6zM403.2 542.1h2.6v2.6h-2.6zM391.2 538.5h2.6v2.6h-2.6zM418.0 540.4h2.6v2.6h-2.6zM396.8 539.3h2.6v2.6h-2.6zM393.9 544.5h2.6v2.6h-2.6zM401.7 544.1h2.6v2.6h-2.6zM411.7 541.0h2.6v2.6h-2.6zM395.0 539.0h2.6v2.6h-2.6zM413.0 541.8h2.6v2.6h-2.6zM419.0 538.3h2.6v2.6h-2.6zM403.3 539.8h2.6v2.6h-2.6zM400.4 541.7h2.6v2.6h-2.6zM393.8 542.1h2.6v2.6h-2.6zM390.4 538.1h2.6v2.6h-2.6zM388.5 540.6h2.6v2.6h-2.6zM403.8 541.5h2.6v2.6h-2.6zM411.3 539.9h2.6v2.6h-2.6zM391.6 544.6h2.6v2.6h-2.6zM393.2 542.9h2.6v2.6h-2.6zM395.9 544.0h2.6v2.6h-2.6zM403.1 543.0h2.6v2.6h-2.6zM402.2 539.7h2.6v2.6h-2.6zM416.4 542.5h2.6v2.6h-2.6zM400.8 544.4h2.6v2.6h-2.6zM389.6 543.2h2.6v2.6h-2.6zM392.7 542.1h2.6v2.6h-2.6zM414.2 539.0h2.6v2.6h-2.6zM398.5 542.1h2.6v2.6h-2.6zM418.4 539.1h2.6v2.6h-2.6zM405.7 540.1h2.6v2.6h-2.6zM396.6 543.1h2.6v2.6h-2.6zM417.3 539.3h2.6v2.6h-2.6zM391.1 538.2h2.6v2.6h-2.6zM390.7 545.0h2.6v2.6h-2.6zM419.1 542.2h2.6v2.6h-2.6zM400.3 543.2h2.6v2.6h-2.6zM393.9 538.2h2.6v2.6h-2.6zM399.9 542.3h2.6v2.6h-2.6zM390.7 543.7h2.6v2.6h-2.6zM395.9 540.3h2.6v2.6h-2.6zM404.9 538.3h2.6v2.6h-2.6zM391.3 540.4h2.6v2.6h-2.6zM403.2 541.1h2.6v2.6h-2.6zM412.6 540.7h2.6v2.6h-2.6zM410.3 542.1h2.6v2.6h-2.6zM395.3 539.1h2.6v2.6h-2.6zM416.7 536.9h2.6v2.6h-2.6zM396.4 537.2h2.6v2.6h-2.6zM396.9 540.5h2.6v2.6h-2.6zM408.9 540.2h2.6v2.6h-2.6zM403.9 537.7h2.6v2.6h-2.6zM393.3 540.7h2.6v2.6h-2.6zM395.7 541.0h2.6v2.6h-2.6zM412.3 541.7h2.6v2.6h-2.6zM395.8 540.1h2.6v2.6h-2.6zM414.3 540.4h2.6v2.6h-2.6zM392.6 539.4h2.6v2.6h-2.6zM396.1 540.9h2.6v2.6h-2.6zM419.6 541.6h2.6v2.6h-2.6zM404.0 540.1h2.6v2.6h-2.6zM418.4 539.4h2.6v2.6h-2.6zM401.5 543.8h2.6v2.6h-2.6zM417.1 540.6h2.6v2.6h-2.6zM392.8 543.0h2.6v2.6h-2.6zM403.9 539.8h2.6v2.6h-2.6zM418.7 542.8h2.6v2.6h-2.6zM399.4 542.0h2.6v2.6h-2.6zM391.5 540.3h2.6v2.6h-2.6zM413.1 541.0h2.6v2.6h-2.6zM394.3 539.8h2.6v2.6h-2.6zM414.5 538.4h2.6v2.6h-2.6zM415.0 542.6h2.6v2.6h-2.6zM418.8 541.3h2.6v2.6h-2.6zM391.8 539.2h2.6v2.6h-2.6zM390.0 542.0h2.6v2.6h-2.6zM412.8 538.4h2.6v2.6h-2.6zM394.6 542.7h2.6v2.6h-2.6zM414.2 537.7h2.6v2.6h-2.6zM390.1 544.3h2.6v2.6h-2.6zM389.8 541.7h2.6v2.6h-2.6zM403.3 539.1h2.6v2.6h-2.6zM391.8 540.6h2.6v2.6h-2.6zM403.2 541.8h2.6v2.6h-2.6zM396.6 541.8h2.6v2.6h-2.6zM391.3 541.2h2.6v2.6h-2.6zM398.9 540.4h2.6v2.6h-2.6zM391.3 537.8h2.6v2.6h-2.6zM401.1 541.3h2.6v2.6h-2.6zM418.8 537.3h2.6v2.6h-2.6zM418.5 538.3h2.6v2.6h-2.6zM401.0 540.9h2.6v2.6h-2.6zM408.9 542.2h2.6v2.6h-2.6zM410.3 542.4h2.6v2.6h-2.6zM396.9 539.5h2.6v2.6h-2.6zM405.4 538.4h2.6v2.6h-2.6zM393.3 543.7h2.6v2.6h-2.6zM411.8 538.2h2.6v2.6h-2.6zM391.9 545.2h2.6v2.6h-2.6zM393.8 539.1h2.6v2.6h-2.6zM393.1 540.6h2.6v2.6h-2.6zM418.3 539.3h2.6v2.6h-2.6zM412.7 539.6h2.6v2.6h-2.6zM389.4 543.4h2.6v2.6h-2.6zM397.0 540.4h2.6v2.6h-2.6zM393.9 542.0h2.6v2.6h-2.6zM409.7 542.4h2.6v2.6h-2.6zM397.0 539.8h2.6v2.6h-2.6zM403.6 539.1h2.6v2.6h-2.6zM390.7 542.8h2.6v2.6h-2.6zM403.2 540.8h2.6v2.6h-2.6zM416.0 538.9h2.6v2.6h-2.6zM417.7 542.4h2.6v2.6h-2.6zM417.3 541.5h2.6v2.6h-2.6zM395.0 539.8h2.6v2.6h-2.6zM412.7 538.8h2.6v2.6h-2.6zM401.1 541.3h2.6v2.6h-2.6zM393.4 539.7h2.6v2.6h-2.6zM389.4 544.7h2.6v2.6h-2.6zM405.6 541.8h2.6v2.6h-2.6zM390.7 540.4h2.6v2.6h-2.6zM405.1 538.9h2.6v2.6h-2.6zM418.0 537.3h2.6v2.6h-2.6zM399.8 542.7h2.6v2.6h-2.6zM392.1 538.6h2.6v2.6h-2.6zM418.4 537.2h2.6v2.6h-2.6zM417.8 540.8h2.6v2.6h-2.6zM404.4 539.8h2.6v2.6h-2.6zM391.5 537.9h2.6v2.6h-2.6zM398.4 541.7h2.6v2.6h-2.6zM414.2 541.2h2.6v2.6h-2.6zM411.0 540.0h2.6v2.6h-2.6zM414.0 539.6h2.6v2.6h-2.6zM395.4 542.0h2.6v2.6h-2.6zM418.7 542.0h2.6v2.6h-2.6zM413.9 538.1h2.6v2.6h-2.6zM396.5 539.0h2.6v2.6h-2.6zM401.6 542.1h2.6v2.6h-2.6zM405.1 539.4h2.6v2.6h-2.6zM398.8 538.7h2.6v2.6h-2.6zM392.9 538.1h2.6v2.6h-2.6zM409.7 540.5h2.6v2.6h-2.6zM405.7 540.9h2.6v2.6h-2.6zM398.0 542.1h2.6v2.6h-2.6zM388.7 542.7h2.6v2.6h-2.6zM393.0 544.6h2.6v2.6h-2.6zM419.2 541.3h2.6v2.6h-2.6zM401.0 541.5h2.6v2.6h-2.6zM418.3 541.8h2.6v2.6h-2.6zM392.3 539.3h2.6v2.6h-2.6zM395.7 542.1h2.6v2.6h-2.6zM414.5 538.7h2.6v2.6h-2.6zM413.3 541.0h2.6v2.6h-2.6zM394.6 544.4h2.6v2.6h-2.6zM388.9 543.9h2.6v2.6h-2.6zM409.9 583.8h2.6v2.6h-2.6zM394.7 589.9h2.6v2.6h-2.6zM394.3 590.1h2.6v2.6h-2.6zM407.6 590.7h2.6v2.6h-2.6zM396.3 584.1h2.6v2.6h-2.6zM403.4 583.1h2.6v2.6h-2.6zM404.3 592.0h2.6v2.6h-2.6zM403.4 598.4h2.6v2.6h-2.6zM393.1 590.1h2.6v2.6h-2.6zM412.9 593.9h2.6v2.6h-2.6zM410.0 584.2h2.6v2.6h-2.6zM405.2 589.4h2.6v2.6h-2.6zM402.4 589.8h2.6v2.6h-2.6zM396.2 596.3h2.6v2.6h-2.6zM404.6 598.4h2.6v2.6h-2.6zM406.3 580.7h2.6v2.6h-2.6zM400.2 590.4h2.6v2.6h-2.6zM396.1 587.2h2.6v2.6h-2.6zM394.9 581.4h2.6v2.6h-2.6zM411.4 590.1h2.6v2.6h-2.6zM412.3 589.9h2.6v2.6h-2.6zM401.6 588.1h2.6v2.6h-2.6zM413.2 588.0h2.6v2.6h-2.6zM401.4 589.5h2.6v2.6h-2.6zM398.4 589.9h2.6v2.6h-2.6zM409.2 588.2h2.6v2.6h-2.6zM405.4 585.6h2.6v2.6h-2.6zM402.0 583.6h2.6v2.6h-2.6zM404.9 585.7h2.6v2.6h-2.6zM408.6 595.6h2.6v2.6h-2.6zM395.4 583.3h2.6v2.6h-2.6zM395.7 588.0h2.6v2.6h-2.6zM402.6 590.1h2.6v2.6h-2.6zM408.0 583.7h2.6v2.6h-2.6zM398.6 580.0h2.6v2.6h-2.6zM396.5 589.9h2.6v2.6h-2.6zM410.3 591.2h2.6v2.6h-2.6zM399.1 589.0h2.6v2.6h-2.6zM410.4 593.9h2.6v2.6h-2.6zM406.4 586.7h2.6v2.6h-2.6zM393.0 587.0h2.6v2.6h-2.6zM408.3 594.9h2.6v2.6h-2.6zM406.6 590.2h2.6v2.6h-2.6zM400.7 593.1h2.6v2.6h-2.6zM404.1 589.7h2.6v2.6h-2.6zM409.1 593.2h2.6v2.6h-2.6zM394.9 587.9h2.6v2.6h-2.6zM401.1 587.6h2.6v2.6h-2.6zM406.7 592.0h2.6v2.6h-2.6zM395.5 590.0h2.6v2.6h-2.6zM395.7 596.1h2.6v2.6h-2.6zM396.8 583.5h2.6v2.6h-2.6zM406.5 579.1h2.6v2.6h-2.6zM410.3 590.5h2.6v2.6h-2.6zM398.8 585.9h2.6v2.6h-2.6zM401.5 581.3h2.6v2.6h-2.6zM406.6 582.7h2.6v2.6h-2.6zM404.9 593.4h2.6v2.6h-2.6zM402.3 587.5h2.6v2.6h-2.6zM393.8 589.8h2.6v2.6h-2.6zM398.0 597.1h2.6v2.6h-2.6zM396.5 589.1h2.6v2.6h-2.6zM404.4 583.0h2.6v2.6h-2.6zM399.0 582.0h2.6v2.6h-2.6zM403.0 589.8h2.6v2.6h-2.6zM397.9 591.3h2.6v2.6h-2.6zM392.5 589.7h2.6v2.6h-2.6zM406.9 594.7h2.6v2.6h-2.6zM404.7 592.0h2.6v2.6h-2.6zM407.0 594.2h2.6v2.6h-2.6zM393.6 585.0h2.6v2.6h-2.6zM397.9 587.4h2.6v2.6h-2.6zM398.2 592.8h2.6v2.6h-2.6zM408.5 588.2h2.6v2.6h-2.6zM405.0 578.6h2.6v2.6h-2.6zM404.0 584.4h2.6v2.6h-2.6zM400.3 583.3h2.6v2.6h-2.6zM398.3 581.9h2.6v2.6h-2.6zM412.6 587.5h2.6v2.6h-2.6zM398.8 591.6h2.6v2.6h-2.6zM396.0 583.9h2.6v2.6h-2.6zM408.9 594.5h2.6v2.6h-2.6zM401.3 590.5h2.6v2.6h-2.6zM401.0 584.4h2.6v2.6h-2.6zM394.0 590.3h2.6v2.6h-2.6zM393.1 589.3h2.6v2.6h-2.6zM405.8 578.8h2.6v2.6h-2.6zM401.1 582.1h2.6v2.6h-2.6zM407.4 592.4h2.6v2.6h-2.6zM400.7 589.3h2.6v2.6h-2.6zM403.8 585.2h2.6v2.6h-2.6zM398.8 580.6h2.6v2.6h-2.6zM395.6 583.3h2.6v2.6h-2.6zM396.2 593.8h2.6v2.6h-2.6zM404.3 585.7h2.6v2.6h-2.6zM404.4 588.8h2.6v2.6h-2.6zM407.9 586.9h2.6v2.6h-2.6zM399.8 590.6h2.6v2.6h-2.6zM412.2 587.3h2.6v2.6h-2.6zM395.6 583.3h2.6v2.6h-2.6zM396.2 586.1h2.6v2.6h-2.6zM402.7 584.3h2.6v2.6h-2.6zM405.7 580.6h2.6v2.6h-2.6zM390.8 584.1h2.6v2.6h-2.6zM409.3 583.3h2.6v2.6h-2.6zM401.7 579.6h2.6v2.6h-2.6zM402.6 581.9h2.6v2.6h-2.6zM404.0 594.2h2.6v2.6h-2.6zM400.8 595.4h2.6v2.6h-2.6zM409.8 589.2h2.6v2.6h-2.6zM401.2 582.5h2.6v2.6h-2.6zM405.0 584.5h2.6v2.6h-2.6zM401.5 588.6h2.6v2.6h-2.6zM404.4 595.0h2.6v2.6h-2.6zM403.3 583.6h2.6v2.6h-2.6zM408.1 581.5h2.6v2.6h-2.6zM393.8 587.1h2.6v2.6h-2.6zM406.9 591.1h2.6v2.6h-2.6zM404.5 598.0h2.6v2.6h-2.6zM402.5 583.5h2.6v2.6h-2.6zM399.7 589.0h2.6v2.6h-2.6zM403.8 578.8h2.6v2.6h-2.6zM395.9 584.0h2.6v2.6h-2.6zM403.5 585.5h2.6v2.6h-2.6zM410.1 594.4h2.6v2.6h-2.6zM397.3 583.5h2.6v2.6h-2.6zM405.2 587.4h2.6v2.6h-2.6zM397.7 594.2h2.6v2.6h-2.6zM413.0 592.5h2.6v2.6h-2.6zM398.0 592.5h2.6v2.6h-2.6zM403.1 586.8h2.6v2.6h-2.6zM409.6 585.8h2.6v2.6h-2.6zM393.5 588.4h2.6v2.6h-2.6zM404.0 593.7h2.6v2.6h-2.6zM394.3 592.3h2.6v2.6h-2.6zM398.9 584.5h2.6v2.6h-2.6zM405.6 591.8h2.6v2.6h-2.6zM407.7 585.2h2.6v2.6h-2.6zM406.3 580.3h2.6v2.6h-2.6zM412.8 588.0h2.6v2.6h-2.6zM403.1 580.1h2.6v2.6h-2.6zM411.8 595.8h2.6v2.6h-2.6zM400.1 592.1h2.6v2.6h-2.6zM412.2 587.0h2.6v2.6h-2.6zM409.0 592.1h2.6v2.6h-2.6zM410.2 585.5h2.6v2.6h-2.6zM405.0 583.0h2.6v2.6h-2.6zM407.3 597.6h2.6v2.6h-2.6zM409.6 588.6h2.6v2.6h-2.6zM409.9 589.6h2.6v2.6h-2.6zM407.6 583.6h2.6v2.6h-2.6zM408.0 586.3h2.6v2.6h-2.6zM402.5 592.4h2.6v2.6h-2.6zM398.3 588.0h2.6v2.6h-2.6zM392.8 586.4h2.6v2.6h-2.6zM397.9 581.9h2.6v2.6h-2.6zM391.9 584.6h2.6v2.6h-2.6zM404.2 589.9h2.6v2.6h-2.6zM393.7 590.7h2.6v2.6h-2.6zM402.3 582.4h2.6v2.6h-2.6zM403.3 579.8h2.6v2.6h-2.6zM399.2 592.3h2.6v2.6h-2.6zM405.7 591.7h2.6v2.6h-2.6zM406.2 592.7h2.6v2.6h-2.6zM413.1 594.1h2.6v2.6h-2.6zM395.8 586.0h2.6v2.6h-2.6zM408.2 594.2h2.6v2.6h-2.6zM395.5 588.6h2.6v2.6h-2.6zM403.3 586.0h2.6v2.6h-2.6zM401.0 590.7h2.6v2.6h-2.6zM406.8 595.4h2.6v2.6h-2.6zM399.3 585.5h2.6v2.6h-2.6zM397.6 589.1h2.6v2.6h-2.6zM396.8 579.6h2.6v2.6h-2.6zM402.6 581.7h2.6v2.6h-2.6zM398.4 591.4h2.6v2.6h-2.6zM399.1 580.1h2.6v2.6h-2.6zM406.1 578.8h2.6v2.6h-2.6zM405.0 590.5h2.6v2.6h-2.6zM411.1 591.2h2.6v2.6h-2.6zM406.0 589.3h2.6v2.6h-2.6zM400.2 592.1h2.6v2.6h-2.6zM398.9 585.7h2.6v2.6h-2.6zM410.7 583.8h2.6v2.6h-2.6zM411.2 592.7h2.6v2.6h-2.6zM396.3 581.8h2.6v2.6h-2.6zM400.5 591.3h2.6v2.6h-2.6zM404.8 593.0h2.6v2.6h-2.6zM402.7 593.7h2.6v2.6h-2.6zM401.6 592.1h2.6v2.6h-2.6zM401.1 598.0h2.6v2.6h-2.6zM391.9 590.0h2.6v2.6h-2.6zM401.4 589.0h2.6v2.6h-2.6zM407.8 597.0h2.6v2.6h-2.6zM399.7 599.0h2.6v2.6h-2.6zM412.2 594.4h2.6v2.6h-2.6zM405.2 590.9h2.6v2.6h-2.6zM399.5 596.1h2.6v2.6h-2.6zM401.9 593.9h2.6v2.6h-2.6zM407.5 591.2h2.6v2.6h-2.6zM404.7 585.2h2.6v2.6h-2.6zM404.3 593.9h2.6v2.6h-2.6zM405.2 582.8h2.6v2.6h-2.6zM399.4 594.8h2.6v2.6h-2.6zM403.4 585.5h2.6v2.6h-2.6zM399.6 581.6h2.6v2.6h-2.6zM409.2 585.3h2.6v2.6h-2.6zM392.2 589.9h2.6v2.6h-2.6zM392.7 589.6h2.6v2.6h-2.6zM402.6 590.4h2.6v2.6h-2.6zM396.8 593.7h2.6v2.6h-2.6zM398.4 586.2h2.6v2.6h-2.6zM402.5 589.3h2.6v2.6h-2.6zM394.9 584.6h2.6v2.6h-2.6zM401.3 595.5h2.6v2.6h-2.6zM403.0 593.3h2.6v2.6h-2.6zM403.8 585.2h2.6v2.6h-2.6zM396.9 584.1h2.6v2.6h-2.6zM405.6 588.7h2.6v2.6h-2.6zM398.2 593.7h2.6v2.6h-2.6zM398.6 593.1h2.6v2.6h-2.6zM406.0 589.7h2.6v2.6h-2.6zM412.3 593.2h2.6v2.6h-2.6zM396.7 598.7h2.6v2.6h-2.6zM391.8 587.2h2.6v2.6h-2.6zM394.7 589.9h2.6v2.6h-2.6zM402.1 579.5h2.6v2.6h-2.6zM405.5 585.5h2.6v2.6h-2.6zM401.9 593.8h2.6v2.6h-2.6zM400.0 582.9h2.6v2.6h-2.6zM404.3 585.7h2.6v2.6h-2.6zM410.8 595.5h2.6v2.6h-2.6zM394.9 586.7h2.6v2.6h-2.6zM405.4 591.8h2.6v2.6h-2.6zM397.5 587.3h2.6v2.6h-2.6zM395.9 587.8h2.6v2.6h-2.6zM397.4 597.4h2.6v2.6h-2.6zM402.8 592.4h2.6v2.6h-2.6zM403.5 593.1h2.6v2.6h-2.6zM399.1 595.3h2.6v2.6h-2.6zM403.4 596.8h2.6v2.6h-2.6zM405.9 588.9h2.6v2.6h-2.6zM396.6 587.8h2.6v2.6h-2.6zM411.4 585.4h2.6v2.6h-2.6zM403.5 596.0h2.6v2.6h-2.6zM399.2 599.0h2.6v2.6h-2.6zM400.4 598.4h2.6v2.6h-2.6zM411.3 593.1h2.6v2.6h-2.6zM398.1 585.6h2.6v2.6h-2.6zM405.6 593.5h2.6v2.6h-2.6zM398.0 587.5h2.6v2.6h-2.6zM394.8 585.3h2.6v2.6h-2.6zM402.0 584.7h2.6v2.6h-2.6zM405.5 580.9h2.6v2.6h-2.6zM395.6 589.6h2.6v2.6h-2.6zM406.8 592.3h2.6v2.6h-2.6zM406.3 587.2h2.6v2.6h-2.6zM409.4 587.5h2.6v2.6h-2.6zM401.2 598.5h2.6v2.6h-2.6zM407.3 584.0h2.6v2.6h-2.6zM404.9 593.1h2.6v2.6h-2.6zM406.2 586.0h2.6v2.6h-2.6zM399.3 587.7h2.6v2.6h-2.6zM393.2 592.2h2.6v2.6h-2.6zM404.9 592.0h2.6v2.6h-2.6zM411.9 594.3h2.6v2.6h-2.6zM399.3 597.6h2.6v2.6h-2.6zM397.4 580.6h2.6v2.6h-2.6zM410.2 587.7h2.6v2.6h-2.6zM397.9 585.8h2.6v2.6h-2.6zM403.3 589.3h2.6v2.6h-2.6zM394.2 595.8h2.6v2.6h-2.6zM401.5 593.6h2.6v2.6h-2.6zM408.8 582.6h2.6v2.6h-2.6zM406.0 596.9h2.6v2.6h-2.6zM404.5 585.6h2.6v2.6h-2.6zM398.1 578.9h2.6v2.6h-2.6zM400.5 593.0h2.6v2.6h-2.6zM398.3 580.7h2.6v2.6h-2.6zM402.3 580.3h2.6v2.6h-2.6zM404.9 583.7h2.6v2.6h-2.6zM396.5 583.2h2.6v2.6h-2.6zM407.5 597.0h2.6v2.6h-2.6zM401.4 586.0h2.6v2.6h-2.6zM413.8 589.5h2.6v2.6h-2.6zM401.6 589.9h2.6v2.6h-2.6zM399.5 590.0h2.6v2.6h-2.6zM395.9 585.8h2.6v2.6h-2.6zM412.2 586.2h2.6v2.6h-2.6zM401.5 585.9h2.6v2.6h-2.6zM396.5 588.9h2.6v2.6h-2.6zM410.5 588.3h2.6v2.6h-2.6zM400.4 598.1h2.6v2.6h-2.6zM404.7 580.4h2.6v2.6h-2.6zM396.4 588.9h2.6v2.6h-2.6zM399.9 590.3h2.6v2.6h-2.6zM407.0 595.9h2.6v2.6h-2.6zM406.5 592.9h2.6v2.6h-2.6zM404.2 591.9h2.6v2.6h-2.6zM400.9 583.5h2.6v2.6h-2.6zM400.8 592.0h2.6v2.6h-2.6zM408.9 590.0h2.6v2.6h-2.6zM409.5 585.4h2.6v2.6h-2.6zM411.7 585.5h2.6v2.6h-2.6zM397.4 582.6h2.6v2.6h-2.6zM412.5 589.2h2.6v2.6h-2.6zM405.6 591.7h2.6v2.6h-2.6zM403.8 590.2h2.6v2.6h-2.6zM398.8 588.3h2.6v2.6h-2.6zM406.9 591.2h2.6v2.6h-2.6zM395.2 597.3h2.6v2.6h-2.6zM392.7 582.7h2.6v2.6h-2.6zM399.3 586.5h2.6v2.6h-2.6zM397.9 596.4h2.6v2.6h-2.6zM395.7 579.3h2.6v2.6h-2.6zM407.8 595.6h2.6v2.6h-2.6zM397.5 594.5h2.6v2.6h-2.6zM406.6 596.7h2.6v2.6h-2.6zM401.7 589.2h2.6v2.6h-2.6zM399.4 598.8h2.6v2.6h-2.6zM407.0 594.6h2.6v2.6h-2.6zM395.8 582.4h2.6v2.6h-2.6zM402.7 587.9h2.6v2.6h-2.6zM395.8 594.5h2.6v2.6h-2.6zM401.4 587.2h2.6v2.6h-2.6zM399.5 581.3h2.6v2.6h-2.6zM401.0 587.3h2.6v2.6h-2.6zM401.1 594.2h2.6v2.6h-2.6zM409.2 592.2h2.6v2.6h-2.6zM406.6 591.7h2.6v2.6h-2.6zM402.8 592.6h2.6v2.6h-2.6zM410.0 592.2h2.6v2.6h-2.6zM405.3 594.6h2.6v2.6h-2.6zM408.2 587.3h2.6v2.6h-2.6zM407.1 582.6h2.6v2.6h-2.6zM409.2 595.6h2.6v2.6h-2.6zM405.4 593.9h2.6v2.6h-2.6zM397.4 587.1h2.6v2.6h-2.6zM399.9 587.9h2.6v2.6h-2.6zM407.5 588.1h2.6v2.6h-2.6zM407.9 592.5h2.6v2.6h-2.6zM409.3 587.3h2.6v2.6h-2.6zM411.9 588.3h2.6v2.6h-2.6zM394.6 581.4h2.6v2.6h-2.6zM401.1 597.9h2.6v2.6h-2.6zM400.3 583.0h2.6v2.6h-2.6zM403.1 587.5h2.6v2.6h-2.6zM411.2 586.9h2.6v2.6h-2.6zM406.5 580.1h2.6v2.6h-2.6zM408.8 583.7h2.6v2.6h-2.6zM406.2 586.6h2.6v2.6h-2.6zM395.7 590.6h2.6v2.6h-2.6zM396.0 583.7h2.6v2.6h-2.6zM399.9 590.0h2.6v2.6h-2.6zM403.3 584.6h2.6v2.6h-2.6zM397.6 580.5h2.6v2.6h-2.6zM435.6 594.0h2.6v2.6h-2.6zM435.7 587.9h2.6v2.6h-2.6zM438.6 585.8h2.6v2.6h-2.6zM439.5 597.5h2.6v2.6h-2.6zM442.4 591.9h2.6v2.6h-2.6zM439.6 586.7h2.6v2.6h-2.6zM437.7 591.9h2.6v2.6h-2.6zM440.7 583.6h2.6v2.6h-2.6zM436.1 582.6h2.6v2.6h-2.6zM438.8 590.3h2.6v2.6h-2.6zM436.9 592.8h2.6v2.6h-2.6zM439.9 579.0h2.6v2.6h-2.6zM436.4 585.3h2.6v2.6h-2.6zM443.1 593.0h2.6v2.6h-2.6zM434.6 586.4h2.6v2.6h-2.6zM436.2 597.2h2.6v2.6h-2.6zM434.7 584.7h2.6v2.6h-2.6zM434.5 586.4h2.6v2.6h-2.6zM436.0 592.1h2.6v2.6h-2.6zM439.9 598.2h2.6v2.6h-2.6zM442.3 588.8h2.6v2.6h-2.6zM436.8 598.3h2.6v2.6h-2.6zM441.1 589.1h2.6v2.6h-2.6zM437.8 586.0h2.6v2.6h-2.6zM438.5 592.1h2.6v2.6h-2.6zM438.0 594.8h2.6v2.6h-2.6zM439.3 583.9h2.6v2.6h-2.6zM438.7 595.8h2.6v2.6h-2.6zM434.7 595.9h2.6v2.6h-2.6zM441.2 586.6h2.6v2.6h-2.6zM438.1 593.3h2.6v2.6h-2.6zM439.1 577.2h2.6v2.6h-2.6zM438.9 594.9h2.6v2.6h-2.6zM437.1 582.8h2.6v2.6h-2.6zM433.5 585.4h2.6v2.6h-2.6zM436.4 589.4h2.6v2.6h-2.6zM440.4 585.9h2.6v2.6h-2.6zM441.0 593.9h2.6v2.6h-2.6zM434.8 593.2h2.6v2.6h-2.6zM434.2 588.2h2.6v2.6h-2.6zM438.7 592.2h2.6v2.6h-2.6zM434.1 585.6h2.6v2.6h-2.6zM436.8 582.1h2.6v2.6h-2.6zM439.9 586.8h2.6v2.6h-2.6zM434.3 589.7h2.6v2.6h-2.6zM443.7 588.1h2.6v2.6h-2.6zM437.8 576.8h2.6v2.6h-2.6zM435.2 596.4h2.6v2.6h-2.6zM440.3 593.2h2.6v2.6h-2.6zM437.7 592.5h2.6v2.6h-2.6zM433.9 595.1h2.6v2.6h-2.6zM441.1 595.2h2.6v2.6h-2.6zM438.4 590.7h2.6v2.6h-2.6zM440.0 579.6h2.6v2.6h-2.6zM437.7 594.9h2.6v2.6h-2.6zM436.1 594.7h2.6v2.6h-2.6zM435.5 583.2h2.6v2.6h-2.6zM435.7 591.8h2.6v2.6h-2.6zM435.0 591.0h2.6v2.6h-2.6zM442.8 582.6h2.6v2.6h-2.6zM439.4 580.8h2.6v2.6h-2.6zM443.1 592.0h2.6v2.6h-2.6zM440.2 593.5h2.6v2.6h-2.6zM438.9 579.7h2.6v2.6h-2.6zM440.1 585.4h2.6v2.6h-2.6zM435.5 592.6h2.6v2.6h-2.6zM438.6 598.8h2.6v2.6h-2.6zM434.4 592.5h2.6v2.6h-2.6zM435.8 589.0h2.6v2.6h-2.6zM437.6 589.4h2.6v2.6h-2.6zM435.8 589.3h2.6v2.6h-2.6zM439.4 594.9h2.6v2.6h-2.6zM438.6 580.7h2.6v2.6h-2.6zM439.9 589.5h2.6v2.6h-2.6zM436.0 593.7h2.6v2.6h-2.6zM438.0 579.6h2.6v2.6h-2.6zM438.4 580.3h2.6v2.6h-2.6zM441.9 588.1h2.6v2.6h-2.6zM438.9 586.6h2.6v2.6h-2.6zM437.5 591.3h2.6v2.6h-2.6zM435.6 587.8h2.6v2.6h-2.6zM438.5 593.6h2.6v2.6h-2.6zM441.4 592.2h2.6v2.6h-2.6zM442.7 587.1h2.6v2.6h-2.6zM438.3 591.4h2.6v2.6h-2.6zM441.5 585.2h2.6v2.6h-2.6zM441.7 584.7h2.6v2.6h-2.6zM435.1 577.7h2.6v2.6h-2.6zM437.2 580.0h2.6v2.6h-2.6zM440.9 593.5h2.6v2.6h-2.6zM439.1 587.3h2.6v2.6h-2.6zM439.2 580.4h2.6v2.6h-2.6zM440.5 581.4h2.6v2.6h-2.6zM436.4 595.1h2.6v2.6h-2.6zM433.5 592.4h2.6v2.6h-2.6zM437.6 590.3h2.6v2.6h-2.6zM438.0 579.2h2.6v2.6h-2.6zM437.6 581.7h2.6v2.6h-2.6zM435.8 590.2h2.6v2.6h-2.6zM441.0 586.7h2.6v2.6h-2.6zM435.5 591.4h2.6v2.6h-2.6zM439.5 586.8h2.6v2.6h-2.6zM435.0 578.1h2.6v2.6h-2.6zM440.9 597.7h2.6v2.6h-2.6zM442.1 594.2h2.6v2.6h-2.6zM439.9 583.4h2.6v2.6h-2.6zM441.1 584.9h2.6v2.6h-2.6zM437.1 579.1h2.6v2.6h-2.6zM436.8 588.6h2.6v2.6h-2.6zM436.3 580.8h2.6v2.6h-2.6zM438.6 580.1h2.6v2.6h-2.6zM438.3 591.7h2.6v2.6h-2.6zM438.3 592.4h2.6v2.6h-2.6zM433.5 592.0h2.6v2.6h-2.6zM433.9 586.8h2.6v2.6h-2.6zM440.4 591.6h2.6v2.6h-2.6zM435.0 587.3h2.6v2.6h-2.6zM434.8 579.4h2.6v2.6h-2.6zM440.6 589.9h2.6v2.6h-2.6zM437.6 597.1h2.6v2.6h-2.6zM440.2 581.9h2.6v2.6h-2.6zM439.8 590.5h2.6v2.6h-2.6zM433.9 585.1h2.6v2.6h-2.6zM443.9 587.2h2.6v2.6h-2.6zM435.6 591.3h2.6v2.6h-2.6zM440.4 593.2h2.6v2.6h-2.6zM438.6 578.5h2.6v2.6h-2.6zM435.5 591.1h2.6v2.6h-2.6zM437.6 589.2h2.6v2.6h-2.6zM441.4 595.2h2.6v2.6h-2.6zM437.5 580.6h2.6v2.6h-2.6zM439.7 593.6h2.6v2.6h-2.6zM435.4 579.8h2.6v2.6h-2.6zM437.1 580.0h2.6v2.6h-2.6zM441.5 593.5h2.6v2.6h-2.6zM438.2 594.2h2.6v2.6h-2.6zM442.8 590.7h2.6v2.6h-2.6zM440.9 588.6h2.6v2.6h-2.6zM441.8 593.9h2.6v2.6h-2.6zM436.4 587.1h2.6v2.6h-2.6zM440.3 592.0h2.6v2.6h-2.6zM438.4 578.9h2.6v2.6h-2.6zM441.1 586.4h2.6v2.6h-2.6zM436.2 590.5h2.6v2.6h-2.6zM441.7 591.4h2.6v2.6h-2.6zM437.6 582.1h2.6v2.6h-2.6zM442.7 594.4h2.6v2.6h-2.6zM441.6 586.1h2.6v2.6h-2.6zM436.9 588.3h2.6v2.6h-2.6zM438.5 593.9h2.6v2.6h-2.6zM434.8 590.8h2.6v2.6h-2.6zM443.3 589.5h2.6v2.6h-2.6zM434.2 592.6h2.6v2.6h-2.6zM440.1 582.5h2.6v2.6h-2.6zM437.3 583.5h2.6v2.6h-2.6zM438.2 592.7h2.6v2.6h-2.6zM440.2 579.1h2.6v2.6h-2.6zM434.7 588.8h2.6v2.6h-2.6zM438.3 592.4h2.6v2.6h-2.6zM438.1 581.8h2.6v2.6h-2.6zM438.9 593.2h2.6v2.6h-2.6zM436.7 589.6h2.6v2.6h-2.6zM441.0 583.5h2.6v2.6h-2.6zM437.3 598.4h2.6v2.6h-2.6zM439.3 594.9h2.6v2.6h-2.6zM433.4 589.7h2.6v2.6h-2.6zM437.2 597.7h2.6v2.6h-2.6zM438.9 588.5h2.6v2.6h-2.6zM433.8 593.6h2.6v2.6h-2.6zM435.8 586.0h2.6v2.6h-2.6zM436.3 590.8h2.6v2.6h-2.6zM442.7 588.6h2.6v2.6h-2.6zM441.0 593.0h2.6v2.6h-2.6zM438.3 589.1h2.6v2.6h-2.6zM439.0 593.9h2.6v2.6h-2.6zM443.3 586.9h2.6v2.6h-2.6zM433.8 585.7h2.6v2.6h-2.6zM436.5 582.6h2.6v2.6h-2.6zM435.8 596.6h2.6v2.6h-2.6zM440.0 585.9h2.6v2.6h-2.6zM435.6 582.5h2.6v2.6h-2.6zM436.5 583.6h2.6v2.6h-2.6zM438.8 595.1h2.6v2.6h-2.6zM437.7 584.8h2.6v2.6h-2.6zM440.0 591.7h2.6v2.6h-2.6zM443.4 588.3h2.6v2.6h-2.6zM435.5 584.2h2.6v2.6h-2.6zM436.5 582.3h2.6v2.6h-2.6zM441.4 584.2h2.6v2.6h-2.6zM437.5 579.8h2.6v2.6h-2.6zM440.7 586.4h2.6v2.6h-2.6zM438.5 583.5h2.6v2.6h-2.6zM441.9 586.4h2.6v2.6h-2.6zM437.8 582.9h2.6v2.6h-2.6zM435.7 579.8h2.6v2.6h-2.6zM435.4 594.0h2.6v2.6h-2.6zM438.3 582.7h2.6v2.6h-2.6zM440.5 592.9h2.6v2.6h-2.6zM435.1 592.3h2.6v2.6h-2.6zM439.5 584.8h2.6v2.6h-2.6zM436.2 598.3h2.6v2.6h-2.6zM437.5 585.4h2.6v2.6h-2.6zM438.3 596.2h2.6v2.6h-2.6z"/>
<defs><radialGradient id="g13"><stop offset="0" stop-color="#f6f6f6"/><stop offset="0.55" stop-color="#9c9c9c"/><stop offset="1" stop-color="#585858" stop-opacity="0"/></radialGradient></defs>
<ellipse cx="434.3" cy="542.3" rx="7.4" ry="6.8" transform="rotate(0 434.3 542.3)" fill="url(#g13)"/>
</g>
<path d="M386.8 505.0V604.6H490.4" fill="none" stroke="#000" stroke-width="2.7" stroke-linejoin="miter"/>
<path d="M421.3 505.0V604.6" fill="none" stroke="#000" stroke-width="2.2"/>
<path d="M386.8 560.5H491.3" fill="none" stroke="#000" stroke-width="1.9"/>
<path d="M386.8 604.6h-4M386.8 597.1h-2.8M386.8 592.7h-2.8M386.8 589.6h-2.8M386.8 587.2h-2.8M386.8 585.2h-2.8M386.8 583.6h-2.8M386.8 582.1h-2.8M386.8 580.8h-2.8M386.8 579.7h-4M386.8 572.2h-2.8M386.8 567.8h-2.8M386.8 564.7h-2.8M386.8 562.3h-2.8M386.8 560.3h-2.8M386.8 558.7h-2.8M386.8 557.2h-2.8M386.8 555.9h-2.8M386.8 554.8h-4M386.8 547.3h-2.8M386.8 542.9h-2.8M386.8 539.8h-2.8M386.8 537.4h-2.8M386.8 535.4h-2.8M386.8 533.8h-2.8M386.8 532.3h-2.8M386.8 531.0h-2.8M386.8 529.9h-4M386.8 522.4h-2.8M386.8 518.0h-2.8M386.8 514.9h-2.8M386.8 512.5h-2.8M386.8 510.5h-2.8M386.8 508.9h-2.8M386.8 507.4h-2.8M386.8 506.1h-2.8M386.8 505.0h-4" fill="none" stroke="#000" stroke-width="1.5"/>
<path d="M386.8 604.6v4.6M394.4 604.6v3.4M398.9 604.6v3.4M402.0 604.6v3.4M404.5 604.6v3.4M406.5 604.6v3.4M408.2 604.6v3.4M409.6 604.6v3.4M410.9 604.6v3.4M412.1 604.6v4.6M419.7 604.6v3.4M424.2 604.6v3.4M427.3 604.6v3.4M429.8 604.6v3.4M431.8 604.6v3.4M433.5 604.6v3.4M434.9 604.6v3.4M436.2 604.6v3.4M437.4 604.6v4.6M445.0 604.6v3.4M449.5 604.6v3.4M452.6 604.6v3.4M455.1 604.6v3.4M457.1 604.6v3.4M458.8 604.6v3.4M460.2 604.6v3.4M461.5 604.6v3.4M462.7 604.6v4.6M470.3 604.6v3.4M474.8 604.6v3.4M477.9 604.6v3.4M480.4 604.6v3.4M482.4 604.6v3.4M484.1 604.6v3.4M485.5 604.6v3.4M486.8 604.6v3.4M488.0 604.6v4.6" fill="none" stroke="#000" stroke-width="1.5"/>
<text x="384.8" y="613.2" font-size="3.5" text-anchor="middle" fill="#999">10<tspan dy="-1" font-size="2.5">0</tspan></text>
<text x="410.1" y="613.2" font-size="3.5" text-anchor="middle" fill="#999">10<tspan dy="-1" font-size="2.5">1</tspan></text>
<text x="435.4" y="613.2" font-size="3.5" text-anchor="middle" fill="#999">10<tspan dy="-1" font-size="2.5">2</tspan></text>
<text x="460.7" y="613.2" font-size="3.5" text-anchor="middle" fill="#999">10<tspan dy="-1" font-size="2.5">3</tspan></text>
<text x="486.0" y="613.2" font-size="3.5" text-anchor="middle" fill="#999">10<tspan dy="-1" font-size="2.5">4</tspan></text>
<text x="435.4" y="616.6" font-size="3" text-anchor="middle" fill="#999">APC</text>
<text x="28.0" y="663.8" font-size="28.5" font-weight="bold">D</text>
<text transform="translate(99.2 767.2) rotate(-90)" font-size="19" text-anchor="middle">T cells in thymus (%)</text>
<text x="133.2" y="877.8" font-size="16.3" text-anchor="end">0</text>
<text x="133.2" y="856.7" font-size="16.3" text-anchor="end">10</text>
<text x="133.2" y="835.6" font-size="16.3" text-anchor="end">20</text>
<text x="133.2" y="814.5" font-size="16.3" text-anchor="end">30</text>
<text x="133.2" y="793.4" font-size="16.3" text-anchor="end">40</text>
<text x="133.2" y="772.2" font-size="16.3" text-anchor="end">50</text>
<text x="133.2" y="751.1" font-size="16.3" text-anchor="end">60</text>
<text x="133.2" y="730.0" font-size="16.3" text-anchor="end">70</text>
<text x="133.2" y="708.9" font-size="16.3" text-anchor="end">80</text>
<text x="133.2" y="687.8" font-size="16.3" text-anchor="end">90</text>
<text x="133.2" y="666.7" font-size="16.3" text-anchor="end">100</text>
<path d="M141.0 658.1V871.8H400M137.0 871.8H141.0M137.0 850.4H141.0M137.0 829.1H141.0M137.0 807.7H141.0M137.0 786.3H141.0M137.0 764.9H141.0M137.0 743.6H141.0M137.0 722.2H141.0M137.0 700.8H141.0M137.0 679.5H141.0M137.0 658.1H141.0M205.6 871.8v3.5M270.3 871.8v3.5M335.0 871.8v3.5M399.7 871.8v3.5" fill="none" stroke="#000" stroke-width="1.2"/>
<rect x="150.6" y="868.6" width="14.5" height="3.2" fill="#000" stroke="#111" stroke-width="1.3"/>
<path d="M157.7 868.6V868.0M154.2 868.0h7" fill="none" stroke="#111" stroke-width="1.3"/>
<rect x="165.4" y="675.4" width="14.5" height="196.4" fill="#fff" stroke="#111" stroke-width="1.3"/>
<path d="M172.5 675.4V673.7M169.0 673.7h7" fill="none" stroke="#111" stroke-width="1.3"/>
<rect x="180.2" y="863.3" width="14.5" height="8.5" fill="#c4c4c4" stroke="#111" stroke-width="1.3"/>
<path d="M187.3 863.3V862.4M183.8 862.4h7" fill="none" stroke="#111" stroke-width="1.3"/>
<rect x="216.3" y="870.9" width="14.5" height="0.9" fill="#000" stroke="#111" stroke-width="1.3"/>
<path d="M223.4 870.9V869.7M219.9 869.7h7" fill="none" stroke="#111" stroke-width="1.3"/>
<rect x="231.1" y="673.3" width="14.5" height="198.5" fill="#fff" stroke="#111" stroke-width="1.3"/>
<path d="M238.2 673.3V672.6M234.7 672.6h7" fill="none" stroke="#111" stroke-width="1.3"/>
<rect x="245.9" y="863.3" width="14.5" height="8.5" fill="#c4c4c4" stroke="#111" stroke-width="1.3"/>
<path d="M253.0 863.3V862.2M249.5 862.2h7" fill="none" stroke="#111" stroke-width="1.3"/>
<rect x="281.0" y="868.4" width="14.5" height="3.4" fill="#000" stroke="#111" stroke-width="1.3"/>
<path d="M288.1 868.4V867.7M284.6 867.7h7" fill="none" stroke="#111" stroke-width="1.3"/>
<rect x="295.8" y="682.2" width="14.5" height="189.6" fill="#fff" stroke="#111" stroke-width="1.3"/>
<path d="M302.9 682.2V681.2M299.4 681.2h7" fill="none" stroke="#111" stroke-width="1.3"/>
<rect x="310.6" y="863.3" width="14.5" height="8.5" fill="#c4c4c4" stroke="#111" stroke-width="1.3"/>
<path d="M317.7 863.3V862.2M314.2 862.2h7" fill="none" stroke="#111" stroke-width="1.3"/>
<rect x="346.0" y="858.3" width="14.5" height="13.5" fill="#000" stroke="#111" stroke-width="1.3"/>
<path d="M353.1 858.3V853.4M349.6 853.4h7" fill="none" stroke="#111" stroke-width="1.3"/>
<rect x="360.8" y="745.3" width="14.5" height="126.5" fill="#fff" stroke="#111" stroke-width="1.3"/>
<path d="M367.9 745.3V712.2M364.4 712.2h7" fill="none" stroke="#111" stroke-width="1.3"/>
<rect x="375.6" y="840.8" width="14.5" height="31.0" fill="#c4c4c4" stroke="#111" stroke-width="1.3"/>
<path d="M382.7 840.8V830.1M379.2 830.1h7" fill="none" stroke="#111" stroke-width="1.3"/>
<text x="175.3" y="894.0" font-size="14.3" text-anchor="middle">DLL1-</text>
<text x="175.3" y="911.0" font-size="14.3" text-anchor="middle">PBS</text>
<text x="235.3" y="894.0" font-size="14.3" text-anchor="middle">DLL1-</text>
<text x="235.3" y="911.0" font-size="14.3" text-anchor="middle">VEGF</text>
<text x="304.0" y="894.0" font-size="14.3" text-anchor="middle">MigR1-</text>
<text x="304.0" y="911.0" font-size="14.3" text-anchor="middle">PBS</text>
<text x="366.5" y="894.0" font-size="14.3" text-anchor="middle">MigR1-</text>
<text x="366.5" y="911.0" font-size="14.3" text-anchor="middle">VEGF</text>
<rect x="380.9" y="687.0" width="5.4" height="5.2" fill="#000" stroke="#000" stroke-width="1.1"/>
<text x="388.5" y="694.6" font-size="14.6">CD4<tspan dy="-4.5" font-size="9">&#8722;</tspan><tspan dy="4.5" font-size="14.6">&#8203;</tspan>CD8a<tspan dy="-4.5" font-size="9">+</tspan><tspan dy="4.5" font-size="14.6">&#8203;</tspan></text>
<rect x="380.9" y="705.2" width="5.4" height="5.2" fill="#fff" stroke="#000" stroke-width="1.1"/>
<text x="388.5" y="714.0" font-size="14.6">CD4<tspan dy="-4.5" font-size="9">+</tspan><tspan dy="4.5" font-size="14.6">&#8203;</tspan>CD8a<tspan dy="-4.5" font-size="9">+</tspan><tspan dy="4.5" font-size="14.6">&#8203;</tspan></text>
<rect x="380.9" y="722.0" width="5.4" height="5.2" fill="#c4c4c4" stroke="#000" stroke-width="1.1"/>
<text x="388.5" y="730.0" font-size="14.6">CD4<tspan dy="-4.5" font-size="9">+</tspan><tspan dy="4.5" font-size="14.6">&#8203;</tspan>CD8a<tspan dy="-4.5" font-size="9">&#8722;</tspan><tspan dy="4.5" font-size="14.6">&#8203;</tspan></text>
</svg></body></html>
